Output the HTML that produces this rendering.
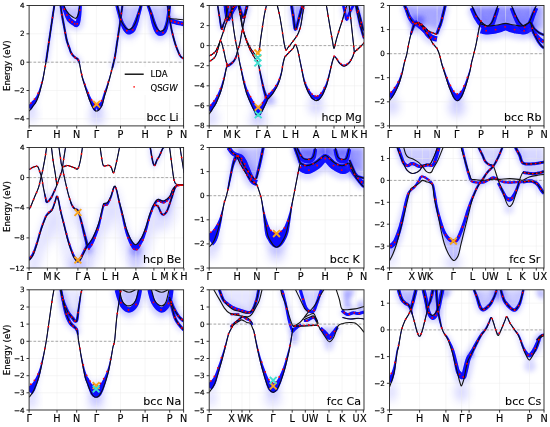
<!DOCTYPE html>
<html><head><meta charset="utf-8"><style>html,body{margin:0;padding:0;background:#fff;width:550px;height:427px;overflow:hidden}svg{display:block}</style></head><body>
<svg width="550" height="427" viewBox="0 0 550 427">
<defs>
<filter id="b0" x="-50%" y="-50%" width="200%" height="200%"><feGaussianBlur stdDeviation="0.5"/></filter>
<filter id="b1" x="-50%" y="-50%" width="200%" height="200%"><feGaussianBlur stdDeviation="1"/></filter>
<filter id="b2" x="-50%" y="-50%" width="200%" height="200%"><feGaussianBlur stdDeviation="2.5"/></filter>
<filter id="b3" x="-50%" y="-50%" width="200%" height="200%"><feGaussianBlur stdDeviation="5"/></filter>
<filter id="b4" x="-50%" y="-50%" width="200%" height="200%"><feGaussianBlur stdDeviation="9"/></filter>
<clipPath id="c0"><rect x="29.1" y="5.5" width="154.5" height="120.4"/></clipPath>
<clipPath id="c1"><rect x="209.2" y="5.5" width="154.8" height="120.4"/></clipPath>
<clipPath id="c2"><rect x="389.5" y="5.5" width="154.5" height="120.4"/></clipPath>
<clipPath id="c3"><rect x="29.1" y="147.5" width="154.5" height="120.5"/></clipPath>
<clipPath id="c4"><rect x="209.2" y="147.5" width="154.8" height="120.5"/></clipPath>
<clipPath id="c5"><rect x="389.5" y="147.5" width="154.5" height="120.5"/></clipPath>
<clipPath id="c6"><rect x="29.1" y="289.8" width="154.5" height="120.2"/></clipPath>
<clipPath id="c7"><rect x="209.2" y="289.8" width="154.8" height="120.2"/></clipPath>
<clipPath id="c8"><rect x="389.5" y="289.8" width="154.5" height="120.2"/></clipPath>
</defs>
<rect width="550" height="427" fill="#fff"/>
<g clip-path="url(#c0)">
<ellipse cx="97" cy="116" rx="7" ry="9" fill="#3a3aff" opacity="0.25" filter="url(#b3)"/>
<ellipse cx="31" cy="114" rx="6" ry="8" fill="#3a3aff" opacity="0.2" filter="url(#b3)"/>
<path d="M64,5.5 L80,5.5 L77,24 L70,18 Z" fill="#3a3aff" opacity="0.22" filter="url(#b2)"/>
<path d="M119,5.5 L140,5.5 L133,26 L129,30 L124,25 Z" fill="#3a3aff" opacity="0.25" filter="url(#b2)"/>
<path d="M150,5.5 L168,5.5 L165,26 L160,31 L155,25 Z" fill="#3a3aff" opacity="0.25" filter="url(#b2)"/>
<path d="M120,28 L138,28 L129,42 Z" fill="#3a3aff" opacity="0.12" filter="url(#b3)"/>
<path d="M151,29 L168,29 L160,43 Z" fill="#3a3aff" opacity="0.12" filter="url(#b3)"/>
<line x1="29.1" y1="5.5" x2="29.1" y2="125.9" stroke="#ececec" stroke-width="0.5"/>
<line x1="57" y1="5.5" x2="57" y2="125.9" stroke="#ececec" stroke-width="0.5"/>
<line x1="76.7" y1="5.5" x2="76.7" y2="125.9" stroke="#ececec" stroke-width="0.5"/>
<line x1="96.4" y1="5.5" x2="96.4" y2="125.9" stroke="#ececec" stroke-width="0.5"/>
<line x1="120.5" y1="5.5" x2="120.5" y2="125.9" stroke="#ececec" stroke-width="0.5"/>
<line x1="145.1" y1="5.5" x2="145.1" y2="125.9" stroke="#ececec" stroke-width="0.5"/>
<line x1="169.7" y1="5.5" x2="169.7" y2="125.9" stroke="#ececec" stroke-width="0.5"/>
<line x1="183.6" y1="5.5" x2="183.6" y2="125.9" stroke="#ececec" stroke-width="0.5"/>
<line x1="29.1" y1="118.8" x2="183.6" y2="118.8" stroke="#ececec" stroke-width="0.5"/>
<line x1="29.1" y1="90.5" x2="183.6" y2="90.5" stroke="#ececec" stroke-width="0.5"/>
<line x1="29.1" y1="62.2" x2="183.6" y2="62.2" stroke="#ececec" stroke-width="0.5"/>
<line x1="29.1" y1="33.8" x2="183.6" y2="33.8" stroke="#ececec" stroke-width="0.5"/>
<line x1="29.1" y1="5.5" x2="183.6" y2="5.5" stroke="#ececec" stroke-width="0.5"/>
<path d="M32.2,111.3 L32.5,111.1 L32.8,110.7 L33.2,110.1 L33.6,109.4 L34,108.6 L34.2,107.8 L34.5,107.1 L34.8,106.5 L35.2,106 L35.6,105.6 L36,105.3 L36.3,104.9 L36.7,104.4 L37.1,103.6 L37.4,102.7 L37.7,101.9 L38,101 L38.2,100.2 L38.5,99.3 L38.8,98.4 L39.1,97.5 L39.3,96.6 L39.6,95.6 L39.8,94.7 L40.1,93.7 L40.3,92.8 L40.5,91.9 L40.6,91 L40.9,90 L41.2,88.7 L41.5,87.1 L42,85.3 L42.4,83.3 L42.8,81.3 L43.2,79.4 L43.5,77.5 L43.8,75.7 L44.1,73.9 L44.3,72.1 L44.6,70.3 L44.9,68.8 L45.1,67.7 L45.3,66.4 L45.6,64.7 L46,62 L46.6,58 L47.3,52.9 L48.1,47.4 L48.9,42.1 L49.6,37.4 L50.2,33.6 L50.7,30.2 L51.1,27.1 L51.5,24.1 L52,21 L52.5,17.6 L53,14 L53.6,10.5 L54,7.6 L54.3,5.5 L54.3,5.5 L54,7.6 L53.6,10.5 L53,14 L52.5,17.6 L52,21 L51.5,24.1 L51.1,27.1 L50.7,30.2 L50.2,33.6 L49.6,37.4 L48.9,42.1 L48.1,47.4 L47.3,52.9 L46.6,58 L46,62 L45.6,64.7 L45.2,66.4 L44.9,67.7 L44.7,68.8 L44.4,70.3 L44,72 L43.7,73.8 L43.3,75.6 L42.9,77.4 L42.4,79.2 L41.8,81.1 L41.2,83 L40.6,84.9 L40,86.7 L39.4,88.2 L39,89.4 L38.6,90.4 L38.3,91.2 L37.9,92 L37.5,92.8 L37.1,93.6 L36.6,94.5 L36.2,95.2 L35.7,96 L35.2,96.7 L34.7,97.3 L34.2,97.9 L33.7,98.5 L33.2,99 L32.6,99.4 L32.1,99.6 L31.6,99.8 L31.1,100.1 L30.7,100.7 L30.2,101.3 L29.8,102 L29.4,102.6 L29,103 L28.5,103.3 L28,103.4 L27.6,103.5 L27.1,103.6 L26.7,103.9 L26.3,104.1 L26,104.4 Z" fill="#3b3bff" opacity="0.12" filter="url(#b2)"/>
<path d="M30.9,109.9 L31.2,109.6 L31.5,109.3 L31.9,108.8 L32.4,108.2 L32.8,107.6 L33.1,106.9 L33.5,106.3 L33.8,105.7 L34.2,105.2 L34.5,104.8 L34.9,104.4 L35.3,104 L35.7,103.5 L36.1,102.8 L36.5,102.1 L36.9,101.4 L37.2,100.6 L37.6,99.8 L37.9,99 L38.3,98.2 L38.6,97.3 L38.9,96.4 L39.2,95.5 L39.5,94.6 L39.8,93.6 L40.1,92.7 L40.3,91.9 L40.5,91 L40.8,89.9 L41.1,88.7 L41.5,87.1 L42,85.3 L42.5,83.3 L43,81.4 L43.4,79.4 L43.7,77.6 L44.1,75.7 L44.4,73.9 L44.7,72.1 L45,70.4 L45.2,68.9 L45.4,67.8 L45.7,66.5 L46,64.7 L46.4,62.1 L47,58 L47.7,53 L48.5,47.5 L49.3,42.1 L50,37.5 L50.6,33.6 L51,30.3 L51.5,27.2 L51.9,24.1 L52.4,21.1 L52.9,17.7 L53.4,14 L53.9,10.6 L54.4,7.7 L54.7,5.6 L53.9,5.4 L53.6,7.5 L53.2,10.5 L52.6,13.9 L52.1,17.5 L51.6,20.9 L51.1,24 L50.7,27 L50.3,30.1 L49.8,33.5 L49.2,37.3 L48.5,42 L47.7,47.4 L47,52.9 L46.2,57.9 L45.6,61.9 L45.2,64.6 L44.8,66.3 L44.6,67.6 L44.3,68.7 L44,70.2 L43.7,71.9 L43.4,73.7 L43,75.5 L42.6,77.4 L42.2,79.2 L41.7,81 L41.1,83 L40.5,84.9 L40,86.7 L39.5,88.2 L39.1,89.4 L38.8,90.4 L38.5,91.3 L38.1,92.1 L37.8,92.9 L37.4,93.8 L37,94.6 L36.6,95.4 L36.2,96.2 L35.7,96.9 L35.3,97.6 L34.9,98.3 L34.4,98.9 L33.9,99.5 L33.5,100 L33,100.3 L32.6,100.7 L32.1,101.1 L31.7,101.6 L31.3,102.2 L30.8,102.8 L30.4,103.3 L30,103.8 L29.6,104.2 L29.2,104.5 L28.8,104.7 L28.4,105 L27.9,105.3 L27.5,105.6 L27.3,105.8 Z" fill="#0808ff" filter="url(#b0)"/>
<path d="M98.2,102.1 L97.9,102 L97.7,102 L97.7,102.1 L97.9,102.5 L98.1,103 L98,103.5 L97.9,103.7 L97.6,104 L97.3,104.1 L96.9,104 L96.5,103.8 L96,103.4 L95.6,103 L95.1,102.6 L94.6,102.2 L94.2,101.9 L93.9,101.6 L93.6,101.3 L93.3,100.8 L93,100.1 L92.7,99.4 L92.3,98.8 L91.8,98.1 L91.2,97.2 L90.5,95.9 L89.7,94.1 L88.7,91.9 L87.6,89.6 L86.6,87.1 L85.7,84.8 L84.8,82.7 L84,80.6 L83.2,78.5 L82.5,76.5 L81.8,74.3 L81.2,72 L80.7,69.5 L80.2,67 L79.8,64.8 L79.4,63 L79.1,61.7 L78.8,60.8 L78.5,60.2 L78.2,59.8 L77.8,59.3 L77.4,58.9 L76.9,58.6 L76.5,58.4 L76,58.1 L75.5,57.8 L75,57.4 L74.5,57 L74,56.5 L73.5,56 L73,55.5 L72.6,55 L72.2,54.5 L71.8,53.9 L71.4,53.3 L71,52.5 L70.6,51.6 L70.2,50.6 L69.8,49.4 L69.4,48.2 L69,47 L68.6,45.8 L68.1,44.5 L67.6,43.2 L67.2,41.7 L66.7,40 L66.2,37.9 L65.8,35.6 L65.3,33.1 L64.9,30.5 L64.4,28 L63.9,25.4 L63.4,22.7 L62.9,20 L62.4,17.4 L62,15 L61.6,12.7 L61.3,10.5 L61,8.4 L60.8,6.7 L60.6,5.5 L60.6,5.5 L60.8,6.7 L61,8.4 L61.3,10.5 L61.6,12.7 L62,15 L62.4,17.4 L62.9,20 L63.4,22.7 L63.9,25.4 L64.4,28 L64.9,30.5 L65.3,33.1 L65.8,35.6 L66.2,37.9 L66.7,40 L67.2,41.7 L67.6,43.2 L68.1,44.5 L68.6,45.8 L69,47 L69.4,48.2 L69.8,49.4 L70.2,50.6 L70.6,51.6 L71,52.5 L71.4,53.3 L71.8,53.9 L72.2,54.5 L72.6,55 L73,55.5 L73.5,56 L74,56.5 L74.5,57 L75,57.4 L75.5,57.8 L76,58.1 L76.5,58.4 L76.9,58.6 L77.4,58.9 L77.8,59.3 L78.2,59.8 L78.5,60.2 L78.8,60.8 L79.1,61.7 L79.4,63 L79.8,64.8 L80.1,67.1 L80.5,69.5 L80.9,72.1 L81.4,74.4 L81.8,76.6 L82.4,78.8 L82.9,81 L83.5,83.1 L84.1,85.4 L84.8,87.8 L85.5,90.3 L86.3,92.8 L86.9,95.1 L87.5,97.1 L87.9,98.5 L88.2,99.7 L88.4,100.6 L88.7,101.3 L89,101.9 L89.3,102.6 L89.4,103.1 L89.6,103.7 L89.6,104.3 L89.8,105 L90,105.7 L90.2,106.4 L90.5,107.2 L90.8,107.9 L91.1,108.6 L91.3,109.2 L91.5,109.9 L91.7,110.6 L92.1,111.3 L92.5,112.1 L93.2,112.9 L94,113.5 L94.6,113.8 L94.9,113.9 L95,113.9 Z" fill="#3b3bff" opacity="0.12" filter="url(#b2)"/>
<path d="M97.5,104.7 L97.3,104.6 L97.1,104.5 L96.9,104.6 L96.9,104.7 L96.9,105 L96.8,105.1 L96.6,105.2 L96.4,105.2 L96.1,105.1 L95.8,104.9 L95.4,104.6 L95,104.1 L94.6,103.6 L94.1,103.1 L93.8,102.7 L93.4,102.3 L93.2,102 L92.9,101.6 L92.7,101.1 L92.4,100.4 L92,99.7 L91.7,99 L91.3,98.3 L90.8,97.3 L90.1,96 L89.4,94.2 L88.5,92 L87.5,89.6 L86.5,87.2 L85.7,84.8 L84.9,82.7 L84.1,80.6 L83.4,78.5 L82.7,76.4 L82.1,74.3 L81.6,71.9 L81.1,69.4 L80.6,67 L80.2,64.7 L79.8,62.9 L79.4,61.6 L79.1,60.7 L78.8,60 L78.5,59.5 L78.1,59 L77.6,58.6 L77.1,58.2 L76.6,58 L76.2,57.8 L75.7,57.5 L75.3,57.1 L74.8,56.7 L74.2,56.2 L73.8,55.7 L73.3,55.2 L72.9,54.7 L72.5,54.2 L72.1,53.7 L71.7,53.1 L71.4,52.3 L71,51.4 L70.6,50.4 L70.2,49.3 L69.8,48.1 L69.4,46.9 L68.9,45.6 L68.5,44.4 L68,43.1 L67.5,41.6 L67.1,39.9 L66.6,37.9 L66.2,35.5 L65.7,33 L65.3,30.5 L64.8,27.9 L64.3,25.3 L63.8,22.6 L63.3,19.9 L62.8,17.3 L62.4,14.9 L62,12.7 L61.7,10.4 L61.4,8.4 L61.2,6.7 L61,5.4 L60.2,5.6 L60.4,6.8 L60.6,8.5 L60.9,10.5 L61.2,12.8 L61.6,15.1 L62,17.5 L62.5,20.1 L63,22.8 L63.5,25.5 L64,28.1 L64.5,30.6 L64.9,33.2 L65.4,35.7 L65.9,38 L66.3,40.1 L66.8,41.9 L67.3,43.4 L67.7,44.7 L68.2,45.9 L68.6,47.1 L69,48.4 L69.4,49.6 L69.8,50.7 L70.2,51.7 L70.6,52.7 L71,53.5 L71.4,54.1 L71.8,54.7 L72.3,55.2 L72.7,55.8 L73.2,56.3 L73.7,56.8 L74.2,57.3 L74.8,57.7 L75.3,58.1 L75.8,58.5 L76.3,58.7 L76.7,58.9 L77.1,59.2 L77.5,59.6 L77.8,60 L78.1,60.4 L78.4,61 L78.7,61.8 L79,63.1 L79.4,64.9 L79.8,67.1 L80.2,69.6 L80.6,72.1 L81.1,74.5 L81.6,76.7 L82.2,78.9 L82.8,81 L83.5,83.2 L84.1,85.4 L84.9,87.7 L85.7,90.3 L86.5,92.7 L87.2,95 L87.9,96.9 L88.3,98.3 L88.7,99.4 L89,100.3 L89.3,101 L89.6,101.6 L89.9,102.3 L90.1,102.8 L90.3,103.3 L90.4,103.9 L90.6,104.5 L90.9,105.1 L91.2,105.8 L91.6,106.5 L91.9,107.1 L92.2,107.7 L92.5,108.2 L92.7,108.7 L93,109.2 L93.3,109.7 L93.7,110.2 L94.2,110.7 L94.8,111.1 L95.3,111.3 L95.6,111.3 L95.7,111.4 Z" fill="#0808ff" filter="url(#b0)"/>
<path d="M98.4,113.8 L98.5,113.8 L98.8,113.7 L99.4,113.3 L100.1,112.7 L100.8,111.9 L101.2,111.3 L101.6,110.7 L102,110 L102.3,109.1 L102.6,108.5 L103,107.9 L103.4,107.2 L103.7,106.1 L103.9,104.8 L104,103.3 L104.2,101.7 L104.5,99.9 L104.8,98 L105.3,96.2 L105.7,94.6 L106.2,93 L106.6,91.6 L107,90.1 L107.4,88.6 L107.8,87 L108.2,85.4 L108.6,83.8 L109,82.1 L109.5,80.3 L109.9,78.5 L110.4,76.5 L110.9,74.4 L111.4,72.2 L111.9,70 L112.4,67.9 L112.9,65.9 L113.3,64 L113.8,62.1 L114.3,59.9 L114.8,57.4 L115.3,54.4 L115.9,51.1 L116.4,47.5 L116.9,43.8 L117.5,40 L118.1,36 L118.7,31.8 L119.4,27.5 L120,23.4 L120.5,19.7 L121,16.2 L121.4,12.9 L121.8,9.9 L122.2,7.3 L122.4,5.5 L122.4,5.5 L122.2,7.3 L121.8,9.9 L121.4,12.9 L121,16.2 L120.5,19.7 L120,23.4 L119.4,27.5 L118.7,31.8 L118.1,36 L117.5,40 L116.9,43.8 L116.4,47.5 L115.9,51.1 L115.3,54.4 L114.8,57.4 L114.3,59.9 L113.8,62.1 L113.3,64 L112.8,65.9 L112.2,67.8 L111.6,70 L111,72.1 L110.4,74.2 L109.7,76.3 L109.1,78.2 L108.5,80 L107.9,81.8 L107.3,83.4 L106.8,85 L106.2,86.5 L105.6,88 L105,89.4 L104.4,90.8 L103.8,92.3 L103.3,93.8 L102.7,95.5 L102.2,97.3 L101.5,99 L100.8,100.6 L100,101.7 L99.2,102.3 L98.4,102.5 L97.8,102.6 L97.2,103 L96.8,103.4 L96.3,103.6 L95.9,103.5 L95.6,103.3 L95.4,103.2 L95.2,103 L95.2,102.6 L95.3,102.2 L95.3,102.1 L95.1,102.1 L94.8,102.2 Z" fill="#3b3bff" opacity="0.12" filter="url(#b2)"/>
<path d="M97.6,111.3 L97.8,111.3 L98,111.2 L98.5,110.9 L99.1,110.5 L99.6,110 L100,109.6 L100.4,109.2 L100.7,108.6 L101.1,108 L101.5,107.4 L101.9,106.9 L102.3,106.3 L102.7,105.4 L103,104.3 L103.4,103 L103.7,101.5 L104.1,99.8 L104.5,98 L105,96.1 L105.5,94.5 L106,93 L106.4,91.5 L106.9,90.1 L107.3,88.6 L107.8,87 L108.2,85.4 L108.7,83.8 L109.1,82.1 L109.6,80.4 L110.1,78.5 L110.6,76.5 L111.1,74.4 L111.7,72.3 L112.2,70.1 L112.7,68 L113.2,66 L113.7,64.1 L114.2,62.2 L114.7,60 L115.2,57.5 L115.7,54.5 L116.2,51.1 L116.8,47.6 L117.3,43.8 L117.9,40.1 L118.5,36.1 L119.1,31.9 L119.8,27.6 L120.4,23.5 L120.9,19.8 L121.4,16.3 L121.8,13 L122.2,9.9 L122.6,7.4 L122.8,5.6 L122,5.4 L121.8,7.3 L121.4,9.8 L121,12.8 L120.6,16.2 L120.1,19.6 L119.6,23.4 L119,27.5 L118.3,31.7 L117.7,36 L117.1,39.9 L116.5,43.7 L116,47.4 L115.5,51 L114.9,54.3 L114.4,57.3 L113.9,59.9 L113.4,62 L112.9,63.9 L112.4,65.8 L111.9,67.8 L111.3,69.9 L110.7,72 L110.1,74.2 L109.5,76.2 L108.9,78.2 L108.4,80 L107.8,81.7 L107.3,83.4 L106.7,85 L106.2,86.5 L105.7,88 L105.1,89.5 L104.6,90.9 L104,92.3 L103.5,93.9 L103,95.6 L102.4,97.4 L101.9,99.1 L101.3,100.7 L100.6,101.9 L100,102.7 L99.4,103.2 L98.8,103.5 L98.4,103.9 L97.9,104.4 L97.5,104.7 L97.2,104.8 L96.9,104.8 L96.6,104.9 L96.4,104.9 L96.3,104.7 L96.2,104.6 L96.1,104.6 L95.8,104.6 L95.6,104.7 Z" fill="#0808ff" filter="url(#b0)"/>
<path d="M59.5,6.7 L59.5,7.3 L59.6,8 L59.8,8.9 L60.1,10 L60.3,11.1 L60.6,12.2 L60.8,13.4 L61.1,14.6 L61.4,15.8 L61.6,16.8 L61.9,17.8 L62.2,18.9 L62.6,20.1 L63.2,21.4 L63.9,22.8 L65,24.1 L66,25.1 L66.9,25.9 L67.6,26.4 L68,26.7 L68.5,27.1 L69.1,27.6 L69.8,28 L70.5,28.5 L70.8,28.7 L70.8,28.7 L71.4,29.2 L73.4,30.4 L78.1,30.8 L82.1,28 L83.1,25.5 L83.5,23.3 L83.8,21.2 L84,19 L84.1,16.8 L84.2,14.5 L84.2,11.9 L84.2,9.4 L84.2,7.3 L84,5.8 L76.6,5.2 L76.2,6.6 L75.8,8.7 L75.3,11 L74.8,13.3 L74.3,15.2 L73.7,17 L73.1,18.8 L72.4,20.3 L71.9,21.2 L71.9,20.8 L74.8,18.8 L78.4,19 L79.2,19.4 L78.7,18.9 L77.6,18.1 L76.9,17.8 L76.8,17.7 L76.6,17.5 L76.3,17.3 L75.8,16.9 L75.1,16.4 L74.6,16 L74.3,15.8 L74.1,15.6 L74.1,15.6 L73.8,15.4 L73.4,14.9 L73,14.1 L72.4,13.2 L71.8,12.2 L71.1,11.2 L70.4,10.3 L69.7,9.4 L69,8.5 L68.5,7.7 L68,7 L67.6,6.2 L67.2,5.4 L66.8,4.8 L66.5,4.3 Z" fill="#3b3bff" opacity="0.2" filter="url(#b2)"/>
<path d="M61.6,6 L61.7,6.5 L61.9,7.2 L62.2,8.1 L62.4,9.1 L62.8,10.1 L63.1,11.1 L63.5,12.2 L63.9,13.3 L64.3,14.4 L64.7,15.4 L65,16.4 L65.4,17.5 L65.9,18.5 L66.4,19.6 L67,20.7 L67.7,21.6 L68.5,22.3 L69.2,22.9 L69.8,23.4 L70.4,23.8 L70.8,24.2 L71.3,24.5 L71.9,24.9 L72.4,25.3 L72.9,25.5 L73.2,25.7 L73.8,26.3 L74.9,27 L77.1,27.2 L79,25.8 L79.7,24.2 L80.2,22.4 L80.6,20.4 L80.9,18.4 L81.2,16.3 L81.4,14.1 L81.6,11.6 L81.7,9.2 L81.8,7.1 L81.8,5.6 L78.8,5.4 L78.6,6.8 L78.3,8.9 L78,11.3 L77.6,13.6 L77.2,15.7 L76.8,17.6 L76.3,19.5 L75.8,21.2 L75.3,22.5 L75,23 L75.8,22.4 L76.9,22.4 L76.9,22.3 L76.3,21.8 L75.5,21.3 L75,21 L74.7,20.8 L74.3,20.5 L73.9,20.2 L73.4,19.8 L72.9,19.4 L72.3,19 L71.8,18.6 L71.4,18.2 L71,17.7 L70.6,17.2 L70.2,16.4 L69.7,15.6 L69.3,14.6 L68.7,13.6 L68.2,12.6 L67.6,11.6 L67,10.6 L66.5,9.6 L66,8.7 L65.6,7.9 L65.3,7 L64.9,6.2 L64.6,5.5 L64.4,5 Z" fill="#0808ff" filter="url(#b0)"/>
<path d="M113.2,6.5 L113.6,8.5 L114.3,11.5 L115.1,14.8 L115.9,18.1 L116.6,20.9 L117.2,23.1 L117.6,25 L118.1,26.7 L118.6,28.3 L119.1,29.8 L119.8,31.2 L120.6,32.6 L121.4,33.8 L122.2,34.8 L123,35.7 L123.8,36.4 L124.9,37.2 L126.9,38.1 L129.2,38.3 L131.1,38 L132.5,37.6 L133.9,36.9 L135.4,36 L136.8,34.7 L138.1,33 L139.1,31.3 L139.7,29.5 L140.3,27.8 L140.8,26.1 L141.3,24.4 L141.7,22.4 L142.1,20.3 L142.5,18.2 L142.9,16.1 L143.2,14.2 L143.6,12.4 L144,10.6 L144.3,8.9 L144.6,7.5 L144.7,6.5 L137.5,4.5 L137.1,5.5 L136.6,6.8 L136,8.4 L135.4,10.1 L134.8,11.8 L134,13.5 L133.2,15.4 L132.4,17.2 L131.5,19 L130.7,20.6 L130,22.1 L129.3,23.6 L128.7,24.7 L128.2,25.6 L127.9,26 L127.8,26 L127.8,26 L127.8,26 L127.8,26 L127.9,26 L128.7,25.8 L130.2,26 L131.3,26.5 L131.6,26.7 L131.4,26.5 L131,26.3 L130.5,25.9 L130,25.5 L129.5,25 L128.9,24.2 L128.2,23.4 L127.4,22.4 L126.6,21.3 L125.8,19.9 L125,18.1 L124.1,15.7 L123,12.6 L122,9.3 L121.1,6.5 L120.4,4.5 Z" fill="#3b3bff" opacity="0.2" filter="url(#b2)"/>
<path d="M115.4,5.9 L115.9,7.9 L116.6,10.8 L117.5,14.1 L118.4,17.4 L119.1,20 L119.8,22.1 L120.3,23.9 L120.9,25.4 L121.5,26.8 L122,28.1 L122.7,29.3 L123.4,30.5 L124.2,31.4 L124.9,32.2 L125.5,32.9 L126.1,33.5 L126.8,34 L127.9,34.4 L129.1,34.6 L130.1,34.4 L131.1,34.1 L132,33.6 L133.1,33 L134.1,32.1 L135.1,30.9 L135.8,29.6 L136.4,28.1 L137,26.5 L137.6,24.9 L138.1,23.3 L138.7,21.4 L139.2,19.4 L139.7,17.3 L140.2,15.3 L140.7,13.5 L141.1,11.7 L141.6,9.9 L142,8.3 L142.3,6.9 L142.5,5.9 L139.7,5.1 L139.3,6.1 L138.9,7.4 L138.4,9.1 L137.9,10.8 L137.3,12.5 L136.7,14.3 L136,16.2 L135.3,18.2 L134.6,20 L133.9,21.7 L133.2,23.3 L132.6,24.8 L132,26.2 L131.5,27.3 L130.9,28.1 L130.5,28.6 L130.1,29 L129.6,29.3 L129.2,29.5 L128.9,29.6 L128.9,29.6 L129.2,29.6 L129.4,29.7 L129.3,29.6 L128.9,29.3 L128.4,28.8 L127.8,28.3 L127.2,27.6 L126.6,26.8 L126,25.9 L125.3,24.8 L124.6,23.7 L123.9,22.4 L123.2,20.8 L122.5,19 L121.6,16.4 L120.7,13.2 L119.7,10 L118.9,7.1 L118.2,5.1 Z" fill="#0808ff" filter="url(#b0)"/>
<path d="M144.5,6.9 L144.8,8 L145.3,9.5 L145.8,11.2 L146.3,13 L146.8,14.8 L147.2,16.8 L147.5,19 L147.9,21.3 L148.2,23.6 L148.7,25.8 L149.2,27.7 L149.7,29.4 L150.3,31.1 L151,32.8 L151.7,34.4 L152.7,35.7 L153.8,37 L155.4,38.3 L157.6,39.4 L160.1,39.7 L162.2,39.4 L164.1,38.8 L166,37.6 L167.8,36 L169.2,34 L170.1,31.9 L170.6,29.9 L171,27.7 L171.3,25.4 L171.6,22.8 L172,19.6 L172.5,15.7 L172.8,11.8 L173.1,8.4 L173.3,6 L165.9,5 L165.5,7.4 L164.9,10.8 L164.3,14.6 L163.6,18.3 L163,21.2 L162.3,23.4 L161.6,25.2 L160.9,26.6 L160.3,27.5 L159.8,28 L159.6,28 L159.6,27.8 L159.7,27.6 L159.9,27.4 L160.3,27.3 L161.3,27.4 L162.2,27.8 L162.6,28.1 L162.5,28 L162.3,27.6 L161.8,27.1 L161.3,26.2 L160.7,25.1 L160,23.7 L159.3,22.2 L158.6,20.6 L157.7,18.6 L156.9,16.4 L156,14.2 L155.2,12.2 L154.4,10.2 L153.5,8.3 L152.7,6.5 L152,5.1 L151.5,4.1 Z" fill="#3b3bff" opacity="0.2" filter="url(#b2)"/>
<path d="M146.6,6 L147,7.1 L147.5,8.6 L148.1,10.3 L148.8,12.2 L149.3,14 L149.8,16 L150.3,18.2 L150.8,20.5 L151.3,22.7 L151.9,24.7 L152.4,26.5 L153,28.1 L153.6,29.7 L154.2,31.1 L154.9,32.3 L155.6,33.4 L156.5,34.3 L157.5,35.2 L158.7,35.8 L160.1,36 L161.5,35.8 L162.8,35.4 L164.1,34.7 L165.4,33.6 L166.4,32.2 L167.1,30.6 L167.7,28.9 L168.2,27 L168.6,24.8 L169,22.3 L169.5,19.2 L170,15.4 L170.5,11.5 L170.8,8.1 L171.1,5.7 L168.1,5.3 L167.8,7.7 L167.3,11.1 L166.7,14.9 L166.1,18.7 L165.6,21.7 L165,24 L164.4,25.9 L163.8,27.6 L163.2,28.9 L162.6,29.8 L162.1,30.4 L161.6,30.7 L161,30.9 L160.6,31 L160.3,31 L160.2,31 L160.2,31 L160,30.8 L159.6,30.3 L159.1,29.7 L158.6,28.8 L158,27.7 L157.4,26.4 L156.8,24.9 L156.1,23.3 L155.5,21.5 L154.8,19.4 L154.1,17.2 L153.4,15 L152.7,13 L152,11 L151.2,9.2 L150.5,7.4 L149.9,6 L149.4,5 Z" fill="#0808ff" filter="url(#b0)"/>
<path d="M165.1,5.9 L165.4,7.8 L165.8,10.5 L166.3,13.7 L166.8,16.8 L167.2,19.4 L167.6,21.5 L167.8,23.3 L168.1,25.1 L168.4,26.8 L168.7,28.5 L169.1,30.3 L169.5,32.1 L170,33.9 L170.4,35.5 L170.8,37.1 L171.2,38.6 L171.5,39.9 L171.9,41.2 L172.2,42.5 L172.6,43.7 L173,44.9 L173.4,46.1 L173.7,47.2 L174.2,48.4 L174.7,49.6 L175.3,51.1 L175.9,52.7 L176.6,54.4 L177.4,56 L178.2,57.4 L179.2,58.6 L180.3,59.5 L181.2,60.1 L181.9,60.5 L182.3,60.7 L184.9,56.5 L184.4,56.2 L183.8,55.8 L183.3,55.5 L182.8,55.1 L182.4,54.6 L181.8,53.7 L181.2,52.3 L180.5,50.8 L179.9,49.2 L179.3,47.8 L178.8,46.6 L178.5,45.5 L178.1,44.5 L177.7,43.4 L177.4,42.3 L177,41.1 L176.7,39.9 L176.3,38.6 L176,37.3 L175.6,35.9 L175.2,34.3 L174.8,32.7 L174.4,31 L174,29.2 L173.7,27.5 L173.3,25.9 L173.1,24.2 L172.8,22.6 L172.5,20.7 L172.2,18.6 L171.8,16 L171.3,12.9 L170.8,9.8 L170.4,7 L170.1,5.1 Z" fill="#3b3bff" opacity="0.2" filter="url(#b2)"/>
<path d="M166.6,5.7 L166.9,7.6 L167.3,10.3 L167.8,13.4 L168.3,16.5 L168.7,19.2 L169,21.3 L169.3,23.1 L169.6,24.8 L169.9,26.5 L170.2,28.2 L170.6,30 L171,31.8 L171.4,33.5 L171.8,35.2 L172.2,36.7 L172.6,38.2 L173,39.5 L173.3,40.8 L173.7,42.1 L174,43.3 L174.4,44.5 L174.8,45.6 L175.2,46.7 L175.6,47.8 L176.1,49.1 L176.6,50.5 L177.3,52.1 L178,53.8 L178.7,55.3 L179.5,56.6 L180.3,57.6 L181.2,58.3 L182,58.8 L182.6,59.2 L183.1,59.4 L184.1,57.8 L183.7,57.5 L183,57.1 L182.4,56.7 L181.7,56.2 L181.1,55.4 L180.5,54.4 L179.8,52.9 L179.1,51.3 L178.5,49.8 L177.9,48.3 L177.4,47.1 L177,46 L176.7,44.9 L176.3,43.9 L176,42.7 L175.6,41.5 L175.2,40.3 L174.9,39 L174.5,37.7 L174.2,36.3 L173.8,34.7 L173.4,33 L172.9,31.3 L172.5,29.6 L172.2,27.8 L171.9,26.1 L171.6,24.5 L171.3,22.8 L171,20.9 L170.7,18.8 L170.3,16.2 L169.8,13.1 L169.3,10 L168.9,7.3 L168.6,5.3 Z" fill="#0808ff" filter="url(#b0)"/>
<path d="M82,62 L81.8,61.5 L81.5,60.7 L81.1,59.7 L80.6,58.7 L80,57.7 L79.2,56.8 L78.3,56.2 L77.7,55.9 L77.3,55.7 L77.1,55.6 L76.7,55.3 L76.3,54.9 L75.9,54.5 L75.4,54.1 L75.1,53.7 L74.7,53.3 L74.4,52.8 L74.1,52.4 L73.8,51.9 L73.5,51.3 L73.2,50.6 L72.8,49.6 L72.4,48.5 L72,47.4 L71.6,46.1 L71.1,44.8 L70.7,43.6 L70.2,42.4 L69.8,41 L69.4,39.4 L68.9,37.4 L68.5,35.1 L68,32.6 L67.6,30.1 L67.1,27.5 L66.6,24.9 L66.1,22.2 L65.6,19.5 L65.1,16.9 L64.7,14.5 L64.4,12.3 L64,10.1 L63.7,8.1 L63.5,6.4 L63.3,5.1 L57.9,5.9 L58.1,7.1 L58.3,8.8 L58.6,10.9 L58.9,13.1 L59.3,15.5 L59.7,17.9 L60.2,20.5 L60.7,23.2 L61.2,25.9 L61.7,28.5 L62.2,31 L62.6,33.6 L63.1,36.1 L63.5,38.5 L64,40.6 L64.5,42.5 L65,44.1 L65.5,45.5 L66,46.7 L66.4,47.9 L66.8,49.1 L67.2,50.3 L67.6,51.5 L68.1,52.6 L68.5,53.7 L69,54.6 L69.5,55.4 L70,56.1 L70.4,56.7 L70.9,57.3 L71.5,57.9 L72.1,58.5 L72.7,59 L73.3,59.5 L73.9,60 L74.6,60.5 L75.3,60.8 L75.6,61 L75.6,61 L75.6,60.9 L75.7,61.2 L76,61.9 L76.3,62.7 L76.6,63.4 L76.8,64 Z" fill="#3b3bff" opacity="0.2" filter="url(#b2)"/>
<path d="M80.4,62.6 L80.2,62.1 L79.9,61.3 L79.6,60.4 L79.2,59.5 L78.7,58.6 L78.1,58 L77.5,57.6 L76.9,57.4 L76.5,57.2 L76.1,56.9 L75.7,56.6 L75.2,56.1 L74.7,55.7 L74.3,55.3 L73.8,54.8 L73.4,54.3 L73,53.8 L72.7,53.3 L72.4,52.7 L72,52 L71.6,51.2 L71.2,50.2 L70.9,49.1 L70.5,47.9 L70,46.6 L69.6,45.4 L69.1,44.2 L68.7,42.9 L68.2,41.4 L67.8,39.7 L67.3,37.7 L66.9,35.4 L66.4,32.9 L65.9,30.3 L65.5,27.8 L65,25.2 L64.5,22.5 L64,19.8 L63.5,17.2 L63.1,14.8 L62.7,12.6 L62.4,10.3 L62.1,8.3 L61.9,6.6 L61.7,5.3 L59.5,5.7 L59.7,6.9 L59.9,8.6 L60.2,10.7 L60.5,12.9 L60.9,15.2 L61.3,17.6 L61.8,20.2 L62.3,22.9 L62.8,25.6 L63.3,28.2 L63.8,30.7 L64.2,33.3 L64.7,35.8 L65.2,38.2 L65.6,40.3 L66.1,42 L66.6,43.6 L67.1,44.9 L67.5,46.2 L68,47.4 L68.4,48.6 L68.8,49.8 L69.2,50.9 L69.6,52 L70,53 L70.4,53.8 L70.9,54.5 L71.3,55.1 L71.7,55.7 L72.2,56.2 L72.7,56.8 L73.2,57.3 L73.8,57.8 L74.3,58.3 L74.9,58.7 L75.4,59.1 L76,59.3 L76.4,59.5 L76.7,59.7 L76.9,60 L77.2,60.5 L77.6,61.2 L77.9,62.1 L78.2,62.8 L78.4,63.4 Z" fill="#0808ff" filter="url(#b0)"/>
<path d="M48.5,62.4 L49,58.9 L49.7,53.9 L50.5,48.2 L51.4,42.6 L52.1,37.8 L52.6,33.9 L53.1,30.6 L53.6,27.5 L54,24.5 L54.5,21.4 L55,18 L55.5,14.4 L56,10.9 L56.5,8 L56.8,5.9 L51.8,5.1 L51.5,7.2 L51.1,10.2 L50.6,13.6 L50,17.2 L49.5,20.6 L49.1,23.7 L48.6,26.7 L48.2,29.8 L47.7,33.2 L47.1,37 L46.4,41.8 L45.6,47.5 L44.8,53.2 L44,58.2 L43.5,61.6 Z" fill="#3b3bff" opacity="0.2" filter="url(#b2)"/>
<path d="M47,62.1 L47.5,58.7 L48.2,53.7 L49.1,48 L49.9,42.3 L50.6,37.5 L51.1,33.7 L51.6,30.4 L52.1,27.2 L52.5,24.2 L53,21.1 L53.5,17.7 L54,14.1 L54.5,10.7 L55,7.7 L55.3,5.6 L53.3,5.4 L53,7.4 L52.6,10.4 L52,13.8 L51.5,17.4 L51,20.9 L50.6,23.9 L50.1,27 L49.7,30.1 L49.2,33.4 L48.6,37.3 L47.9,42 L47.1,47.7 L46.2,53.4 L45.5,58.4 L45,61.9 Z" fill="#0808ff" filter="url(#b0)"/>
<path d="M114.7,68.6 L115.1,67.3 L115.5,65.5 L116.1,63.2 L116.7,60.7 L117.3,57.9 L117.8,54.8 L118.3,51.5 L118.9,47.9 L119.4,44.1 L120,40.4 L120.6,36.4 L121.2,32.2 L121.8,27.9 L122.4,23.8 L123,20.1 L123.5,16.6 L123.9,13.2 L124.3,10.2 L124.6,7.7 L124.9,5.8 L119.9,5.2 L119.7,7 L119.4,9.5 L119,12.6 L118.5,15.9 L118,19.3 L117.5,23.1 L116.9,27.2 L116.3,31.4 L115.6,35.7 L115,39.6 L114.5,43.4 L113.9,47.1 L113.4,50.7 L112.9,54 L112.3,56.9 L111.8,59.6 L111.2,62.1 L110.7,64.2 L110.2,66 L109.9,67.4 Z" fill="#3b3bff" opacity="0.2" filter="url(#b2)"/>
<path d="M113.3,68.2 L113.6,66.9 L114.1,65.1 L114.6,62.9 L115.2,60.3 L115.8,57.6 L116.3,54.6 L116.8,51.2 L117.4,47.6 L117.9,43.9 L118.5,40.1 L119.1,36.2 L119.7,31.9 L120.4,27.7 L121,23.6 L121.5,19.8 L122,16.4 L122.4,13 L122.8,10 L123.2,7.5 L123.4,5.6 L121.4,5.4 L121.2,7.2 L120.8,9.7 L120.4,12.8 L120,16.1 L119.5,19.6 L119,23.3 L118.4,27.4 L117.7,31.6 L117.1,35.9 L116.5,39.9 L115.9,43.6 L115.4,47.3 L114.9,50.9 L114.3,54.2 L113.8,57.2 L113.3,59.9 L112.7,62.4 L112.1,64.6 L111.7,66.4 L111.3,67.8 Z" fill="#0808ff" filter="url(#b0)"/>
<path d="M168.1,25.9 L168.9,26.1 L170.1,26.5 L171.5,26.9 L173.1,27.3 L174.6,27.8 L176.3,28.2 L178.1,28.6 L179.9,28.9 L181.4,29.3 L182.4,29.5 L184.8,18.5 L183.7,18.3 L182.2,18 L180.5,17.6 L178.8,17.2 L177.4,16.8 L176,16.5 L174.6,16.1 L173.3,15.7 L172.1,15.4 L171.3,15.1 Z" fill="#3b3bff" opacity="0.2" filter="url(#b2)"/>
<path d="M169.1,22.7 L169.9,22.9 L171.1,23.3 L172.5,23.7 L174,24.1 L175.5,24.5 L177,24.9 L178.8,25.3 L180.6,25.6 L182.1,26 L183.1,26.2 L184.1,21.8 L183,21.6 L181.5,21.2 L179.8,20.9 L178.1,20.5 L176.5,20.1 L175.2,19.7 L173.7,19.3 L172.3,18.9 L171.2,18.6 L170.3,18.3 Z" fill="#0808ff" filter="url(#b0)"/>
<line x1="29.1" y1="62.2" x2="183.6" y2="62.2" stroke="#9a9a9a" stroke-width="0.85" stroke-dasharray="2.6,1.8"/>
<path d="M29.1,111 C29.4,110.7 30.4,109.8 31,109 C31.6,108.2 32.2,107.1 32.9,106.2 C33.6,105.3 34.3,104.6 35,103.5 C35.7,102.4 36.4,101.1 37,99.7 C37.6,98.3 38.2,96.7 38.8,95 C39.3,93.3 39.6,92.3 40.3,89.8 C41,87.3 42.1,83.2 42.8,80 C43.5,76.8 44,73.5 44.5,70.5 C45,67.5 45.1,67.5 46,62 C46.9,56.5 48.6,44.2 49.6,37.4 C50.6,30.6 51.2,26.3 52,21 C52.8,15.7 53.9,8.1 54.3,5.5" fill="none" stroke="#111" stroke-width="1.1" stroke-linejoin="round"/>
<path d="M96.6,111.2 C96.4,111.1 95.7,111 95.3,110.7 C94.9,110.4 94.5,110 94,109.3 C93.5,108.6 92.7,107.3 92.2,106.3 C91.7,105.3 91.5,104.8 91,103.5 C90.5,102.2 90,101.4 89,98.5 C88,95.6 86.1,90.2 84.9,86.2 C83.7,82.2 82.5,78.7 81.6,74.8 C80.7,70.9 80,65.6 79.4,63 C78.8,60.4 78.5,60.2 77.8,59.3 C77.1,58.4 76.3,58.4 75.5,57.8 C74.7,57.2 73.8,56.4 73,55.5 C72.2,54.6 71.7,53.9 71,52.5 C70.3,51.1 69.7,49.1 69,47 C68.3,44.9 67.5,43.2 66.7,40 C65.9,36.8 65.2,32.2 64.4,28 C63.6,23.8 62.6,18.8 62,15 C61.4,11.2 60.8,7.1 60.6,5.5" fill="none" stroke="#111" stroke-width="1.1" stroke-linejoin="round"/>
<path d="M96.6,111.2 C96.8,111.1 97.5,111 98,110.6 C98.5,110.2 99,109.8 99.7,108.9 C100.4,108 101.2,107.2 102,105.1 C102.8,102.9 103.7,98.8 104.5,96 C105.3,93.2 106.2,90.8 107,88 C107.8,85.2 108.6,82.3 109.5,79 C110.4,75.7 111.4,71.6 112.3,68 C113.2,64.4 113.9,62.1 114.8,57.4 C115.7,52.7 116.5,46.3 117.5,40 C118.5,33.7 119.7,25.4 120.5,19.7 C121.3,13.9 122.1,7.9 122.4,5.5" fill="none" stroke="#111" stroke-width="1.1" stroke-linejoin="round"/>
<path d="M63.9,5.5 C64.2,6.2 64.9,8.4 65.5,9.5 C66.1,10.6 66.8,11.4 67.6,12.3 C68.3,13.2 69.1,14 70,14.8 C70.9,15.6 71.8,16.4 72.8,17 C73.8,17.6 75.2,18.8 76.1,18.3 C77,17.8 77.8,16.1 78.4,14 C79,11.9 79.6,7 79.8,5.6" fill="none" stroke="#111" stroke-width="1.1" stroke-linejoin="round"/>
<path d="M117.4,5.5 C117.9,7.7 119.5,15.6 120.5,18.9 C121.5,22.2 122.7,23.7 123.7,25.3 C124.7,26.9 125.4,27.9 126.3,28.6 C127.2,29.3 128,29.6 128.9,29.5 C129.8,29.4 130.9,29.1 132,28 C133.1,26.9 134.2,25.6 135.3,23.2 C136.4,20.8 137.4,16.6 138.4,13.7 C139.4,10.8 140.7,6.9 141.1,5.5" fill="none" stroke="#111" stroke-width="1.1" stroke-linejoin="round"/>
<path d="M148.3,5.5 C148.8,6.7 150.1,10 151.1,12.9 C152.1,15.8 153.1,20.2 154.1,22.8 C155.1,25.4 156,27.1 157,28.5 C158,29.9 158.9,31.1 160.2,31.2 C161.5,31.3 163.6,30.6 164.8,28.9 C166,27.2 166.6,24.9 167.5,21 C168.4,17.1 169.7,8.1 170.1,5.5" fill="none" stroke="#111" stroke-width="1.1" stroke-linejoin="round"/>
<path d="M167.6,5.5 C167.9,7.8 169.1,15.2 169.7,19 C170.3,22.8 170.6,25.1 171.2,28 C171.8,30.9 172.6,34 173.2,36.5 C173.8,39 174.4,41 175,43 C175.6,45 176.1,46.5 177,48.7 C177.9,50.9 179.2,54.4 180.3,56 C181.4,57.6 183.1,58.2 183.6,58.6" fill="none" stroke="#111" stroke-width="1.1" stroke-linejoin="round"/>
<path d="M169.7,18.6 C170.8,18.7 173.7,18.8 176,19 C178.3,19.2 182.3,19.7 183.6,19.8" fill="none" stroke="#111" stroke-width="1.1" stroke-linejoin="round"/>
<circle cx="30.9" cy="103.1" r="0.9" fill="#f00"/>
<circle cx="34.5" cy="99.1" r="0.9" fill="#f00"/>
<circle cx="38.1" cy="93.2" r="0.9" fill="#f00"/>
<circle cx="41.7" cy="82.6" r="0.9" fill="#f00"/>
<circle cx="45.3" cy="66.2" r="0.9" fill="#f00"/>
<circle cx="48.9" cy="42.2" r="0.9" fill="#f00"/>
<circle cx="52.5" cy="17.6" r="0.9" fill="#f00"/>
<circle cx="94.9" cy="104.2" r="0.9" fill="#f00"/>
<circle cx="91.6" cy="99.9" r="0.9" fill="#f00"/>
<circle cx="88.3" cy="92.9" r="0.9" fill="#f00"/>
<circle cx="85" cy="84.4" r="0.9" fill="#f00"/>
<circle cx="81.8" cy="74.5" r="0.9" fill="#f00"/>
<circle cx="78.4" cy="60.2" r="0.9" fill="#f00"/>
<circle cx="75.1" cy="57.5" r="0.9" fill="#f00"/>
<circle cx="71.8" cy="54" r="0.9" fill="#f00"/>
<circle cx="68.5" cy="45.8" r="0.9" fill="#f00"/>
<circle cx="65.2" cy="32.7" r="0.9" fill="#f00"/>
<circle cx="61.9" cy="14.7" r="0.9" fill="#f00"/>
<circle cx="98.2" cy="104.2" r="0.9" fill="#f00"/>
<circle cx="101.5" cy="100.7" r="0.9" fill="#f00"/>
<circle cx="104.8" cy="91.4" r="0.9" fill="#f00"/>
<circle cx="108.1" cy="82.1" r="0.9" fill="#f00"/>
<circle cx="111.4" cy="70.9" r="0.9" fill="#f00"/>
<circle cx="114.8" cy="57.7" r="0.9" fill="#f00"/>
<circle cx="118" cy="36.4" r="0.9" fill="#f00"/>
<circle cx="121.3" cy="13.5" r="0.9" fill="#f00"/>
<circle cx="64.3" cy="9.2" r="0.9" fill="#f00"/>
<circle cx="66.9" cy="14.9" r="0.9" fill="#f00"/>
<circle cx="69.5" cy="19.8" r="0.9" fill="#f00"/>
<circle cx="72.1" cy="22" r="0.9" fill="#f00"/>
<circle cx="74.7" cy="23.8" r="0.9" fill="#f00"/>
<circle cx="77.3" cy="23.8" r="0.9" fill="#f00"/>
<circle cx="79.9" cy="10.1" r="0.9" fill="#f00"/>
<circle cx="120.8" cy="19.5" r="0.9" fill="#f00"/>
<circle cx="126.8" cy="30.7" r="0.9" fill="#f00"/>
<circle cx="132.8" cy="29.8" r="0.9" fill="#f00"/>
<circle cx="138.8" cy="13.7" r="0.9" fill="#f00"/>
<circle cx="151" cy="13.5" r="0.9" fill="#f00"/>
<circle cx="157" cy="31" r="0.9" fill="#f00"/>
<circle cx="163" cy="32.6" r="0.9" fill="#f00"/>
<circle cx="169" cy="10.2" r="0.9" fill="#f00"/>
<circle cx="169.3" cy="16.5" r="0.9" fill="#f00"/>
<circle cx="172.7" cy="34.5" r="0.9" fill="#f00"/>
<circle cx="176.1" cy="46.4" r="0.9" fill="#f00"/>
<circle cx="179.5" cy="54.6" r="0.9" fill="#f00"/>
<circle cx="182.9" cy="58.2" r="0.9" fill="#f00"/>
<circle cx="171.4" cy="21" r="0.9" fill="#f00"/>
<circle cx="174.9" cy="22" r="0.9" fill="#f00"/>
<circle cx="178.4" cy="22.9" r="0.9" fill="#f00"/>
<circle cx="181.9" cy="23.6" r="0.9" fill="#f00"/>
<path d="M93.2,100.8 L100,107.6 M93.2,107.6 L100,100.8" stroke="#f7a51c" stroke-width="1.9" stroke-linecap="butt"/>
</g>
<rect x="29.1" y="5.5" width="154.5" height="120.4" fill="none" stroke="#222" stroke-width="0.9"/>
<line x1="26.5" y1="118.8" x2="29.1" y2="118.8" stroke="#222" stroke-width="0.9"/>
<text x="24.5" y="121.3" font-family="'DejaVu Sans','Liberation Sans',sans-serif" font-size="7.2" fill="#000" stroke="#000" stroke-width="0.2" text-anchor="end">−4</text>
<line x1="26.5" y1="90.5" x2="29.1" y2="90.5" stroke="#222" stroke-width="0.9"/>
<text x="24.5" y="93" font-family="'DejaVu Sans','Liberation Sans',sans-serif" font-size="7.2" fill="#000" stroke="#000" stroke-width="0.2" text-anchor="end">−2</text>
<line x1="26.5" y1="62.2" x2="29.1" y2="62.2" stroke="#222" stroke-width="0.9"/>
<text x="24.5" y="64.7" font-family="'DejaVu Sans','Liberation Sans',sans-serif" font-size="7.2" fill="#000" stroke="#000" stroke-width="0.2" text-anchor="end">0</text>
<line x1="26.5" y1="33.8" x2="29.1" y2="33.8" stroke="#222" stroke-width="0.9"/>
<text x="24.5" y="36.3" font-family="'DejaVu Sans','Liberation Sans',sans-serif" font-size="7.2" fill="#000" stroke="#000" stroke-width="0.2" text-anchor="end">2</text>
<line x1="26.5" y1="5.5" x2="29.1" y2="5.5" stroke="#222" stroke-width="0.9"/>
<text x="24.5" y="8" font-family="'DejaVu Sans','Liberation Sans',sans-serif" font-size="7.2" fill="#000" stroke="#000" stroke-width="0.2" text-anchor="end">4</text>
<line x1="29.1" y1="125.9" x2="29.1" y2="128.5" stroke="#222" stroke-width="0.9"/>
<text x="29.1" y="138" font-family="'DejaVu Sans','Liberation Sans',sans-serif" font-size="9.7" fill="#000" stroke="#000" stroke-width="0.15" text-anchor="middle">Γ</text>
<line x1="57" y1="125.9" x2="57" y2="128.5" stroke="#222" stroke-width="0.9"/>
<text x="57" y="138" font-family="'DejaVu Sans','Liberation Sans',sans-serif" font-size="9.7" fill="#000" stroke="#000" stroke-width="0.15" text-anchor="middle">H</text>
<line x1="76.7" y1="125.9" x2="76.7" y2="128.5" stroke="#222" stroke-width="0.9"/>
<text x="76.7" y="138" font-family="'DejaVu Sans','Liberation Sans',sans-serif" font-size="9.7" fill="#000" stroke="#000" stroke-width="0.15" text-anchor="middle">N</text>
<line x1="96.4" y1="125.9" x2="96.4" y2="128.5" stroke="#222" stroke-width="0.9"/>
<text x="96.4" y="138" font-family="'DejaVu Sans','Liberation Sans',sans-serif" font-size="9.7" fill="#000" stroke="#000" stroke-width="0.15" text-anchor="middle">Γ</text>
<line x1="120.5" y1="125.9" x2="120.5" y2="128.5" stroke="#222" stroke-width="0.9"/>
<text x="120.5" y="138" font-family="'DejaVu Sans','Liberation Sans',sans-serif" font-size="9.7" fill="#000" stroke="#000" stroke-width="0.15" text-anchor="middle">P</text>
<line x1="145.1" y1="125.9" x2="145.1" y2="128.5" stroke="#222" stroke-width="0.9"/>
<text x="145.1" y="138" font-family="'DejaVu Sans','Liberation Sans',sans-serif" font-size="9.7" fill="#000" stroke="#000" stroke-width="0.15" text-anchor="middle">H</text>
<line x1="169.7" y1="125.9" x2="169.7" y2="128.5" stroke="#222" stroke-width="0.9"/>
<text x="169.7" y="138" font-family="'DejaVu Sans','Liberation Sans',sans-serif" font-size="9.7" fill="#000" stroke="#000" stroke-width="0.15" text-anchor="middle">P</text>
<line x1="183.6" y1="125.9" x2="183.6" y2="128.5" stroke="#222" stroke-width="0.9"/>
<text x="183.6" y="138" font-family="'DejaVu Sans','Liberation Sans',sans-serif" font-size="9.7" fill="#000" stroke="#000" stroke-width="0.15" text-anchor="middle">N</text>
<text x="178.6" y="121.1" font-family="'DejaVu Sans','Liberation Sans',sans-serif" font-size="11.1" fill="#000" stroke="#000" stroke-width="0.1" text-anchor="end">bcc Li</text>
<text x="0" y="0" transform="translate(10.3,65.7) rotate(-90)" font-family="'DejaVu Sans','Liberation Sans',sans-serif" font-size="8.6" fill="#000" stroke="#000" stroke-width="0.2" text-anchor="middle">Energy (eV)</text>
<rect x="121" y="67" width="60" height="28" fill="#fff" opacity="0.85"/><line x1="124.7" y1="74.2" x2="143.7" y2="74.2" stroke="#000" stroke-width="1.35"/><circle cx="134.1" cy="86.9" r="0.8" fill="#f00"/><text x="150.5" y="77.3" font-family="DejaVu Sans,sans-serif" font-size="8.5" fill="#000" stroke="#000" stroke-width="0.12">LDA</text><text x="150.5" y="90.6" font-family="DejaVu Sans,sans-serif" font-size="8.5" fill="#000" stroke="#000" stroke-width="0.12">QS<tspan font-style="italic">GW</tspan></text>
<g clip-path="url(#c1)">
<ellipse cx="258" cy="120" rx="8" ry="9" fill="#3a3aff" opacity="0.22" filter="url(#b3)"/>
<ellipse cx="211" cy="118" rx="7" ry="8" fill="#3a3aff" opacity="0.2" filter="url(#b3)"/>
<ellipse cx="270" cy="101" rx="6" ry="5" fill="#3a3aff" opacity="0.3" filter="url(#b2)"/>
<ellipse cx="316" cy="106" rx="7" ry="8" fill="#3a3aff" opacity="0.25" filter="url(#b3)"/>
<path d="M224.5,5.5 L237,5.5 L228,20 Z" fill="#3a3aff" opacity="0.75" filter="url(#b1)"/>
<path d="M238.5,5.5 L247.5,5.5 L243,16 Z" fill="#3a3aff" opacity="0.3" filter="url(#b1)"/>
<path d="M291.5,5.5 L302.5,5.5 L295.4,28 Z" fill="#3a3aff" opacity="0.3" filter="url(#b1)"/>
<path d="M343,5.5 L355,5.5 L347,19 Z" fill="#3a3aff" opacity="0.4" filter="url(#b1)"/>
<line x1="209.2" y1="5.5" x2="209.2" y2="125.9" stroke="#ececec" stroke-width="0.5"/>
<line x1="227.5" y1="5.5" x2="227.5" y2="125.9" stroke="#ececec" stroke-width="0.5"/>
<line x1="237.1" y1="5.5" x2="237.1" y2="125.9" stroke="#ececec" stroke-width="0.5"/>
<line x1="258" y1="5.5" x2="258" y2="125.9" stroke="#ececec" stroke-width="0.5"/>
<line x1="267.2" y1="5.5" x2="267.2" y2="125.9" stroke="#ececec" stroke-width="0.5"/>
<line x1="284.9" y1="5.5" x2="284.9" y2="125.9" stroke="#ececec" stroke-width="0.5"/>
<line x1="295.5" y1="5.5" x2="295.5" y2="125.9" stroke="#ececec" stroke-width="0.5"/>
<line x1="316" y1="5.5" x2="316" y2="125.9" stroke="#ececec" stroke-width="0.5"/>
<line x1="334" y1="5.5" x2="334" y2="125.9" stroke="#ececec" stroke-width="0.5"/>
<line x1="344.6" y1="5.5" x2="344.6" y2="125.9" stroke="#ececec" stroke-width="0.5"/>
<line x1="354.5" y1="5.5" x2="354.5" y2="125.9" stroke="#ececec" stroke-width="0.5"/>
<line x1="364" y1="5.5" x2="364" y2="125.9" stroke="#ececec" stroke-width="0.5"/>
<line x1="209.2" y1="125.9" x2="364" y2="125.9" stroke="#ececec" stroke-width="0.5"/>
<line x1="209.2" y1="105.8" x2="364" y2="105.8" stroke="#ececec" stroke-width="0.5"/>
<line x1="209.2" y1="85.8" x2="364" y2="85.8" stroke="#ececec" stroke-width="0.5"/>
<line x1="209.2" y1="65.7" x2="364" y2="65.7" stroke="#ececec" stroke-width="0.5"/>
<line x1="209.2" y1="45.6" x2="364" y2="45.6" stroke="#ececec" stroke-width="0.5"/>
<line x1="209.2" y1="25.6" x2="364" y2="25.6" stroke="#ececec" stroke-width="0.5"/>
<line x1="209.2" y1="5.5" x2="364" y2="5.5" stroke="#ececec" stroke-width="0.5"/>
<path d="M212.5,113 L212.9,112.4 L213.3,111.5 L213.9,110.5 L214.5,109.4 L215.2,108.4 L215.8,107.4 L216.5,106.4 L217.1,105 L217.8,103.4 L218.4,101.6 L219.1,99.4 L219.9,97.1 L220.8,94.6 L221.6,92.1 L222.2,89.6 L222.8,87.3 L223.4,84.9 L223.9,82.5 L224.3,80.3 L224.8,78.1 L225.2,75.9 L225.6,73.8 L225.9,71.7 L226.3,69.9 L226.6,68.4 L227,67.4 L227.4,66.8 L227.7,66.4 L227.9,66.1 L228,65.7 L227,65.1 L226.8,65.4 L226.6,65.7 L226.3,66.3 L226.1,67.1 L225.8,68.2 L225.4,69.7 L225,71.5 L224.6,73.5 L224,75.7 L223.4,77.8 L222.8,79.9 L222.1,82.1 L221.3,84.3 L220.5,86.5 L219.6,88.7 L218.5,90.9 L217.3,93.2 L216.1,95.4 L215,97.5 L213.8,99.2 L212.7,100.4 L211.7,101.4 L210.8,102.3 L210,103.2 L209.2,104.3 L208.5,105.3 L207.7,106.2 L206.9,107.1 L206.3,107.8 L205.9,108.4 Z" fill="#3b3bff" opacity="0.12" filter="url(#b2)"/>
<path d="M211.2,112.1 L211.6,111.5 L212.1,110.7 L212.7,109.7 L213.3,108.6 L214,107.6 L214.7,106.6 L215.4,105.6 L216.1,104.3 L216.9,102.9 L217.6,101.1 L218.4,99.1 L219.3,96.8 L220.3,94.4 L221.2,91.9 L221.9,89.5 L222.6,87.2 L223.2,84.8 L223.8,82.5 L224.3,80.3 L224.8,78.1 L225.3,76 L225.7,73.8 L226.1,71.7 L226.4,69.9 L226.8,68.5 L227.1,67.5 L227.5,66.8 L227.7,66.4 L227.9,66.1 L228.1,65.8 L226.9,65.1 L226.7,65.3 L226.5,65.7 L226.2,66.2 L225.9,67 L225.6,68.2 L225.2,69.7 L224.9,71.5 L224.4,73.5 L223.9,75.6 L223.4,77.8 L222.8,79.9 L222.1,82.1 L221.5,84.3 L220.7,86.6 L219.9,88.8 L218.9,91 L217.8,93.4 L216.7,95.7 L215.6,97.8 L214.6,99.6 L213.6,101 L212.7,102.1 L211.9,103 L211.1,104 L210.4,105.1 L209.6,106.1 L208.9,107.1 L208.2,108 L207.6,108.7 L207.2,109.3 Z" fill="#0808ff" filter="url(#b0)"/>
<path d="M229.2,69 L229.6,68.8 L230,68.5 L230.6,68.1 L231.2,67.6 L231.8,67.2 L232.4,66.7 L232.9,66.2 L233.4,65.7 L233.8,65.2 L234.3,64.6 L234.8,64.1 L235.2,63.5 L235.7,62.8 L236.2,62.1 L236.6,61.4 L236.9,60.6 L237.2,59.9 L237.5,59.1 L237.8,58.2 L238,57.2 L238.2,56.1 L237.6,54.8 L237.9,53.6 L238.1,52.4 L238.5,51.2 L238.9,49.9 L239.3,48.5 L239.8,47 L240.3,45.4 L240.8,43.7 L241.2,41.9 L241.5,39.8 L241.9,37.8 L242.2,35.9 L242.5,34.2 L242.7,32.9 L242.9,31.9 L243.1,31 L243.3,29.9 L243.6,28.5 L244,26.6 L244.4,24.4 L244.9,22 L245.5,19.6 L246,17.2 L246.5,14.7 L247.1,12.1 L247.7,9.5 L248.1,7.3 L248.5,5.7 L246.5,5.3 L246.2,6.9 L245.7,9.1 L245.1,11.6 L244.6,14.3 L244,16.8 L243.5,19.2 L243,21.6 L242.5,24 L242,26.2 L241.6,28.1 L241.3,29.5 L241.1,30.6 L240.9,31.5 L240.8,32.5 L240.5,33.8 L240.2,35.5 L239.9,37.5 L239.6,39.5 L239.2,41.5 L238.8,43.3 L238.4,44.9 L237.9,46.4 L237.4,47.8 L237,49.3 L236.5,50.6 L236.2,51.9 L235.9,53.2 L235.7,54.3 L234.5,55.1 L234.2,56 L233.8,56.7 L233.5,57.3 L233.1,57.8 L232.8,58.2 L232.4,58.6 L232,59.1 L231.6,59.4 L231.2,59.8 L230.7,60.2 L230.3,60.6 L229.9,60.9 L229.4,61.1 L229,61.4 L228.6,61.6 L228.2,61.8 L227.7,62.1 L227.2,62.3 L226.6,62.6 L226.1,62.8 L225.8,63 Z" fill="#3b3bff" opacity="0.2" filter="url(#b2)"/>
<path d="M228.2,67.2 L228.5,67 L229,66.7 L229.6,66.4 L230.2,66 L230.7,65.6 L231.2,65.2 L231.7,64.8 L232.2,64.4 L232.6,63.9 L233.1,63.4 L233.6,62.9 L234,62.4 L234.5,61.8 L234.9,61.2 L235.3,60.5 L235.7,59.9 L236,59.2 L236.3,58.5 L236.6,57.7 L236.9,56.8 L237.1,55.8 L237,54.7 L237.3,53.5 L237.6,52.3 L237.9,51 L238.3,49.7 L238.8,48.3 L239.3,46.8 L239.7,45.3 L240.2,43.6 L240.6,41.8 L240.9,39.7 L241.3,37.7 L241.6,35.8 L241.9,34.1 L242.1,32.8 L242.3,31.8 L242.5,30.9 L242.7,29.8 L243,28.4 L243.4,26.5 L243.9,24.3 L244.4,21.9 L244.9,19.4 L245.4,17.1 L245.9,14.6 L246.5,11.9 L247.1,9.4 L247.5,7.2 L247.9,5.6 L247.1,5.4 L246.8,7 L246.3,9.2 L245.7,11.8 L245.1,14.4 L244.6,16.9 L244.1,19.3 L243.6,21.7 L243.1,24.1 L242.6,26.3 L242.2,28.2 L241.9,29.7 L241.7,30.7 L241.5,31.6 L241.3,32.6 L241.1,33.9 L240.8,35.6 L240.5,37.6 L240.2,39.6 L239.8,41.6 L239.4,43.4 L239,45 L238.5,46.6 L238,48 L237.5,49.4 L237.1,50.8 L236.8,52.1 L236.5,53.3 L236.2,54.5 L235.6,55.4 L235.3,56.4 L235,57.1 L234.7,57.8 L234.4,58.4 L234,58.9 L233.7,59.5 L233.3,60 L232.9,60.5 L232.4,60.9 L231.9,61.4 L231.5,61.8 L231.1,62.2 L230.6,62.5 L230.2,62.8 L229.7,63.1 L229.3,63.4 L228.8,63.7 L228.2,64 L227.7,64.3 L227.2,64.6 L226.8,64.8 Z" fill="#0808ff" filter="url(#b0)"/>
<path d="M231,5.5 L231.1,6.4 L231.2,7.6 L231.3,9 L231.5,10.5 L231.6,12 L231.8,13.5 L231.9,15 L232.1,16.6 L232.3,18.2 L232.5,20 L232.7,21.9 L233,23.9 L233.2,25.9 L233.5,28 L233.8,30 L234.1,32 L234.4,34 L234.7,35.9 L235,37.9 L235.4,40 L235.8,42.1 L236.2,44.3 L236.6,46.5 L237.1,48.7 L237.5,50.9 L237.8,53.1 L238.2,55.3 L238.6,57.5 L238.9,59.6 L239.2,61.6 L239.5,63.2 L239.8,64.6 L240.1,66 L240.4,67.5 L240.7,69.2 L241.1,71.4 L241.6,73.9 L242,76.6 L242.5,79.2 L242.9,81.7 L243.4,84.1 L243.9,86.4 L244.3,88.6 L244.8,90.9 L245.4,93.1 L246,95.4 L246.7,97.7 L247.4,99.9 L248.2,101.8 L248.9,103.5 L249.4,104.9 L249.8,106.1 L250.2,107.2 L250.6,108.3 L251,109.3 L251.6,110.4 L252.1,111.7 L252.5,113.2 L252.9,115.1 L254.3,118.4 L259.7,119.9 L262.7,116.6 L263.3,114.6 L263.6,113.7 L264,113.5 L264.4,112.9 L264.7,112 L265,111 L265.3,110.1 L265.6,109 L266.1,107.8 L266.6,106.4 L267.2,104.9 L267.8,103.6 L268.2,102.3 L268.6,101.1 L269,100 L269.3,99.1 L269.6,98.3 L269.8,97.7 L265.2,95.6 L264.9,96.1 L264.5,96.9 L264,97.7 L263.4,98.6 L262.8,99.5 L262,100.5 L261.2,101.7 L260.4,102.9 L259.5,104 L258.8,104.9 L258.1,105.5 L257.5,105.8 L257,106 L256.5,106.1 L256,106.5 L255.5,107.2 L255,107.5 L254.6,106.4 L256.7,103.6 L261.1,105 L261.3,107.3 L260.4,107.6 L259.5,107 L258.7,106.1 L258,105.1 L257.3,104.3 L256.7,103.6 L256,102.9 L255.3,101.9 L254.5,100.7 L253.6,99.1 L252.5,97.4 L251.3,95.5 L250.2,93.6 L249,91.7 L248.1,89.8 L247.2,87.8 L246.4,85.6 L245.6,83.5 L244.9,81.2 L244.1,78.8 L243.4,76.3 L242.8,73.7 L242.2,71.2 L241.7,69 L241.2,67.3 L240.9,65.8 L240.5,64.5 L240.1,63.1 L239.8,61.5 L239.3,59.6 L238.9,57.5 L238.4,55.3 L238,53.1 L237.5,50.9 L237.1,48.7 L236.6,46.5 L236.2,44.3 L235.8,42.1 L235.4,40 L235,37.9 L234.7,35.9 L234.4,34 L234.1,32 L233.8,30 L233.5,28 L233.2,25.9 L233,23.9 L232.7,21.9 L232.5,20 L232.3,18.2 L232.1,16.6 L231.9,15 L231.8,13.5 L231.6,12 L231.5,10.5 L231.3,9 L231.2,7.6 L231.1,6.4 L231,5.5 Z" fill="#3b3bff" opacity="0.12" filter="url(#b2)"/>
<path d="M230.6,5.5 L230.7,6.4 L230.8,7.6 L230.9,9 L231.1,10.5 L231.2,12 L231.4,13.5 L231.5,15 L231.7,16.6 L231.9,18.3 L232.1,20 L232.3,21.9 L232.6,23.9 L232.8,26 L233.1,28 L233.4,30.1 L233.7,32 L234,34 L234.3,36 L234.6,38 L235,40.1 L235.4,42.2 L235.8,44.4 L236.2,46.6 L236.7,48.8 L237.1,51 L237.5,53.2 L237.9,55.4 L238.3,57.6 L238.6,59.7 L239,61.6 L239.3,63.3 L239.6,64.7 L239.9,66 L240.2,67.5 L240.6,69.3 L241,71.5 L241.5,73.9 L242,76.6 L242.5,79.2 L243,81.7 L243.6,84 L244.1,86.3 L244.7,88.5 L245.3,90.7 L245.9,92.9 L246.6,95.1 L247.5,97.3 L248.3,99.4 L249.2,101.3 L249.9,103 L250.5,104.3 L251,105.5 L251.5,106.5 L251.9,107.5 L252.4,108.5 L253,109.5 L253.6,110.7 L254.2,112 L254.7,113.4 L255.8,115.4 L259.1,116.2 L261,114.4 L261.5,113.1 L261.9,112.4 L262.3,112 L262.7,111.5 L263.1,110.7 L263.4,110 L263.8,109.1 L264.3,108.2 L264.8,107 L265.4,105.7 L266.1,104.3 L266.7,103 L267.2,101.8 L267.7,100.7 L268.1,99.6 L268.5,98.7 L268.8,97.9 L269,97.4 L266,96 L265.7,96.5 L265.3,97.3 L264.9,98.1 L264.3,99.1 L263.8,100 L263.1,101.1 L262.4,102.3 L261.6,103.6 L260.8,104.8 L260.1,105.7 L259.6,106.4 L259.1,106.9 L258.6,107.2 L258.1,107.5 L257.7,107.9 L257.2,108.6 L256.8,109 L256.4,108.6 L257.4,107.3 L259.6,108 L259.5,109 L258.8,108.7 L258,108 L257.2,107 L256.6,105.9 L256,105.1 L255.4,104.3 L254.8,103.5 L254.2,102.5 L253.5,101.2 L252.6,99.6 L251.6,97.8 L250.5,95.9 L249.5,93.9 L248.5,91.9 L247.6,89.9 L246.9,87.9 L246.1,85.7 L245.4,83.5 L244.8,81.2 L244.1,78.8 L243.5,76.2 L242.9,73.7 L242.3,71.2 L241.8,69 L241.4,67.2 L241,65.8 L240.7,64.4 L240.4,63 L240,61.4 L239.6,59.5 L239.2,57.4 L238.8,55.2 L238.3,53 L237.9,50.8 L237.5,48.7 L237,46.5 L236.6,44.3 L236.2,42.1 L235.8,39.9 L235.4,37.9 L235.1,35.9 L234.8,33.9 L234.5,31.9 L234.2,29.9 L233.9,27.9 L233.6,25.9 L233.4,23.8 L233.1,21.8 L232.9,20 L232.7,18.2 L232.5,16.5 L232.3,15 L232.2,13.4 L232,12 L231.8,10.5 L231.7,8.9 L231.6,7.5 L231.5,6.3 L231.4,5.5 Z" fill="#0808ff" filter="url(#b0)"/>
<path d="M258.4,53.7 L258.6,53.3 L258.8,52.7 L259.2,51.9 L259.5,50.8 L259.8,49.4 L260.1,47.6 L260.3,45.5 L260.6,43.2 L260.9,40.7 L261.2,38.2 L261.6,35.5 L262,32.5 L262.5,29.5 L262.9,26.7 L263.3,24.1 L263.6,21.8 L264,19.7 L264.3,17.8 L264.6,15.9 L264.9,14.1 L265.3,12.2 L265.7,10.2 L266.2,8.3 L266.5,6.7 L266.8,5.6 L266,5.4 L265.7,6.5 L265.4,8.1 L264.9,10 L264.5,12 L264.1,13.9 L263.8,15.8 L263.5,17.6 L263.2,19.6 L262.9,21.7 L262.5,23.9 L262.1,26.5 L261.7,29.4 L261.2,32.4 L260.8,35.3 L260.4,38 L260.1,40.6 L259.8,43.1 L259.5,45.4 L259.3,47.5 L259,49.2 L258.7,50.6 L258.4,51.6 L258.1,52.4 L257.8,53 L257.6,53.5 Z" fill="#0808ff" filter="url(#b0)"/>
<path d="M237.9,5.6 L238.2,7.1 L238.6,9.4 L239.1,11.9 L239.6,14.6 L240.1,17.1 L240.5,19.4 L240.9,21.8 L241.3,24.1 L241.8,26.4 L242.2,28.4 L242.7,30.2 L243.2,31.8 L243.6,33.3 L244.1,34.7 L244.6,36.1 L245.1,37.5 L245.6,38.8 L246.1,40.1 L246.6,41.3 L247.1,42.5 L247.6,43.6 L248.2,44.7 L248.7,45.7 L249.2,46.7 L249.8,47.7 L250.3,48.7 L250.9,49.6 L251.6,50.5 L252.2,51.4 L252.8,52.2 L253.4,53.1 L254,53.9 L254.6,54.7 L255.2,55.4 L255.7,56.1 L256.2,56.6 L256.7,57 L257.1,57.4 L257.5,57.6 L257.8,57.8 L258.2,57.2 L258,57 L257.6,56.7 L257.2,56.4 L256.8,56 L256.3,55.5 L255.8,54.9 L255.2,54.2 L254.6,53.4 L254,52.6 L253.4,51.8 L252.8,50.9 L252.2,50.1 L251.6,49.2 L251,48.2 L250.4,47.3 L249.9,46.3 L249.4,45.3 L248.9,44.3 L248.4,43.3 L247.9,42.1 L247.4,41 L246.9,39.8 L246.4,38.5 L245.9,37.2 L245.4,35.9 L244.9,34.5 L244.4,33.1 L243.9,31.6 L243.4,30 L243,28.2 L242.6,26.2 L242.1,24 L241.7,21.6 L241.3,19.3 L240.9,16.9 L240.4,14.5 L239.9,11.8 L239.4,9.2 L239,7 L238.7,5.4 Z" fill="#0808ff" filter="url(#b0)"/>
<path d="M237.8,5.7 L238.1,7.3 L238.6,9.5 L239.1,12.1 L239.6,14.7 L240,17.2 L240.4,19.4 L240.7,21.8 L241,24.1 L241.4,26.3 L241.8,28.5 L242.3,30.6 L242.9,32.7 L243.4,34.7 L244,36.6 L244.5,38.3 L245.1,39.9 L245.6,41.4 L246.1,42.8 L246.6,44.1 L247.1,45.4 L247.6,46.6 L248.1,47.7 L248.6,48.8 L249.1,49.9 L249.6,51 L250.2,52.1 L250.8,53.2 L251.4,54.3 L252.1,55.3 L252.6,56.3 L253.2,57.2 L253.7,58.1 L254.2,58.9 L254.7,59.7 L255.2,60.4 L255.8,61 L256.3,61.4 L256.6,61.5 L256.8,61.7 L257.1,62.3 L257.3,63.3 L257.6,64.6 L257.9,66.1 L258.2,68 L258.6,70.2 L258.2,73.2 L258.7,76.5 L259.2,80 L259.7,83.4 L260.2,86.3 L260.6,88.8 L261,90.9 L261.3,92.8 L261.6,94.5 L262,96.1 L262.2,97.6 L262.6,99 L262.8,100.2 L263,101 L263,101.6 L272,97.4 L271.5,96.9 L270.9,96.3 L270.3,95.6 L269.7,94.7 L269,93.7 L268.4,92.4 L267.7,90.9 L267.1,89.2 L266.3,87.3 L265.6,85.1 L264.8,82.3 L263.9,79 L263,75.6 L262.2,72.3 L260.6,69.8 L260.2,67.6 L259.8,65.8 L259.6,64.2 L259.3,62.9 L258.9,61.7 L258.5,60.7 L257.9,60 L257.4,59.7 L257.1,59.5 L256.8,59.2 L256.4,58.6 L255.9,57.9 L255.4,57.1 L254.9,56.2 L254.4,55.3 L253.8,54.3 L253.2,53.3 L252.6,52.2 L252,51.1 L251.4,50 L250.9,49 L250.4,48 L249.9,46.9 L249.4,45.8 L248.9,44.6 L248.4,43.4 L247.9,42.1 L247.5,40.7 L247,39.3 L246.5,37.7 L245.9,36 L245.4,34.1 L244.8,32.2 L244.3,30.1 L243.8,28.1 L243.4,26 L243,23.8 L242.7,21.5 L242.4,19.1 L242,16.8 L241.5,14.3 L241,11.7 L240.5,9.1 L240.1,6.9 L239.8,5.3 Z" fill="#3b3bff" opacity="0.2" filter="url(#b2)"/>
<path d="M238.4,5.6 L238.7,7.1 L239.1,9.4 L239.7,11.9 L240.2,14.6 L240.6,17.1 L241,19.4 L241.3,21.7 L241.6,24 L242,26.2 L242.4,28.4 L242.9,30.5 L243.4,32.5 L244,34.5 L244.6,36.4 L245.1,38.1 L245.6,39.7 L246.1,41.2 L246.6,42.6 L247.1,43.9 L247.6,45.1 L248.1,46.4 L248.6,47.5 L249.1,48.6 L249.6,49.6 L250.1,50.7 L250.7,51.8 L251.3,52.9 L252,54 L252.6,55 L253.2,56 L253.7,56.9 L254.2,57.8 L254.7,58.6 L255.2,59.4 L255.7,60 L256.2,60.6 L256.6,60.9 L257,61.1 L257.3,61.4 L257.6,62.1 L257.9,63.2 L258.2,64.5 L258.5,66 L258.8,67.9 L259.2,70.1 L259.4,72.9 L260,76.2 L260.6,79.7 L261.3,83.1 L261.8,86 L262.3,88.3 L262.8,90.4 L263.3,92.2 L263.7,93.9 L264.1,95.4 L264.5,96.8 L264.9,98 L265.3,99 L265.5,99.8 L265.7,100.4 L269.3,98.6 L268.9,98.1 L268.5,97.4 L268,96.6 L267.5,95.6 L266.9,94.4 L266.4,93 L265.8,91.5 L265.2,89.7 L264.6,87.7 L264,85.4 L263.3,82.6 L262.5,79.3 L261.7,75.9 L261,72.6 L260,69.9 L259.6,67.7 L259.3,65.9 L259,64.3 L258.7,63 L258.4,61.9 L258,61 L257.5,60.5 L257.1,60.2 L256.7,60 L256.3,59.6 L255.9,58.9 L255.4,58.2 L254.9,57.4 L254.4,56.5 L253.8,55.6 L253.3,54.6 L252.7,53.6 L252,52.5 L251.4,51.4 L250.9,50.3 L250.3,49.3 L249.8,48.2 L249.3,47.2 L248.9,46 L248.4,44.9 L247.9,43.6 L247.4,42.3 L246.9,40.9 L246.4,39.5 L245.9,37.9 L245.3,36.1 L244.8,34.3 L244.2,32.3 L243.7,30.3 L243.2,28.2 L242.8,26.1 L242.4,23.8 L242.1,21.6 L241.8,19.2 L241.4,16.9 L240.9,14.5 L240.4,11.8 L239.9,9.2 L239.5,7 L239.2,5.4 Z" fill="#0808ff" filter="url(#b0)"/>
<path d="M209.4,56.4 L209.7,56.2 L210.3,55.9 L210.9,55.6 L211.6,55.3 L212.2,54.8 L212.9,54.4 L213.6,53.8 L214.3,53.2 L215.1,52.5 L215.7,51.7 L216.3,50.9 L216.8,49.9 L217.4,48.9 L217.9,47.8 L218.4,46.7 L218.9,45.4 L219.4,44.1 L220,42.7 L220.5,41.2 L221.1,39.6 L221.7,38 L222.2,36.3 L222.8,34.5 L223.4,32.7 L224.1,30.8 L224.7,28.8 L225.4,26.7 L226.1,24.6 L226.8,22.5 L227.6,20.4 L228.4,18.4 L229.3,16.4 L230.2,14.4 L231.1,12.6 L231.9,11 L232.5,9.6 L233.1,8.3 L233.7,7.2 L234.1,6.3 L234.5,5.7 L233.7,5.3 L233.4,6 L233,6.9 L232.4,7.9 L231.8,9.2 L231.1,10.6 L230.4,12.2 L229.5,14.1 L228.6,16.1 L227.7,18.1 L226.8,20.2 L226.1,22.2 L225.3,24.3 L224.6,26.5 L224,28.6 L223.3,30.6 L222.7,32.5 L222.1,34.3 L221.5,36.1 L220.9,37.7 L220.3,39.4 L219.8,40.9 L219.2,42.4 L218.7,43.8 L218.2,45.1 L217.6,46.3 L217.1,47.5 L216.6,48.6 L216.1,49.6 L215.6,50.4 L215.1,51.3 L214.5,52 L213.8,52.6 L213.1,53.2 L212.4,53.7 L211.8,54.2 L211.2,54.6 L210.5,54.9 L209.9,55.2 L209.4,55.5 L209,55.6 Z" fill="#0808ff" filter="url(#b0)"/>
<path d="M209.4,61.7 L209.7,61.5 L210.3,61.3 L210.9,61 L211.6,60.6 L212.2,60.1 L212.9,59.6 L213.6,59 L214.4,58.3 L215.1,57.4 L215.7,56.4 L216.3,55.2 L216.9,53.8 L217.4,52.2 L217.9,50.7 L218.4,49.1 L218.9,47.3 L219.4,45.1 L220,43.1 L220.5,41.7 L220.6,41.4 L221,42 L221.6,43.9 L222.3,46.4 L222.9,48.9 L223.4,51.1 L223.8,52.8 L224.2,54.5 L224.5,56 L224.8,57.6 L225.1,59.1 L225.5,60.7 L226,62.3 L226.4,63.9 L226.8,65.2 L227.1,66.1 L227.9,65.9 L227.6,64.9 L227.2,63.6 L226.8,62.1 L226.3,60.5 L225.9,58.9 L225.6,57.4 L225.3,55.9 L225,54.3 L224.6,52.7 L224.2,50.9 L223.7,48.7 L223,46.2 L222.4,43.7 L221.7,41.7 L220.8,40.6 L219.8,41.3 L219.2,42.8 L218.7,44.9 L218.1,47.1 L217.6,48.9 L217.1,50.4 L216.6,52 L216.1,53.5 L215.6,54.8 L215.1,56 L214.4,56.9 L213.8,57.7 L213.1,58.4 L212.4,59 L211.8,59.5 L211.1,59.9 L210.5,60.3 L209.9,60.5 L209.4,60.8 L209,60.9 Z" fill="#0808ff" filter="url(#b0)"/>
<path d="M216.7,5.7 L216,7.4 L216.3,9.6 L216.6,12.1 L216.9,14.8 L217.3,17.4 L217.6,20 L218,22.9 L218.4,25.8 L218.8,28.2 L219.4,30.1 L223.6,31 L224.6,29.1 L224.9,27.6 L225.2,26.2 L225.4,25.2 L225.6,24.6 L225.9,23.9 L226.1,23.1 L226.5,22.1 L226,20.6 L226.4,19.1 L226.9,17.3 L227.3,15.4 L227.8,13.6 L228.2,11.9 L228.5,10.4 L228.8,9 L229.1,7.6 L229.3,6.5 L229.5,5.7 L227.5,5.3 L227.4,6.1 L227.1,7.2 L226.9,8.5 L226.6,10 L226.2,11.5 L225.8,13.1 L225.4,14.9 L224.9,16.8 L224.5,18.6 L224,20 L222.8,20.8 L222.4,21.5 L222,22.1 L221.6,22.8 L221.2,23.8 L220.7,25.1 L220.4,26.5 L220,27.6 L220.3,27.3 L223.8,27.9 L223.6,27.1 L223.1,25 L222.7,22.2 L222.2,19.3 L221.7,16.6 L221.2,14.1 L220.7,11.5 L220.3,8.9 L219.9,6.8 L218.7,5.3 Z" fill="#3b3bff" opacity="0.2" filter="url(#b2)"/>
<path d="M217.3,5.6 L217.2,7.2 L217.5,9.4 L217.8,11.9 L218.2,14.6 L218.6,17.1 L219,19.8 L219.4,22.7 L219.8,25.5 L220.2,27.9 L220.7,29.5 L222.6,29.9 L223.2,28.7 L223.6,27.3 L223.9,25.9 L224.2,24.8 L224.4,24.1 L224.7,23.4 L225,22.6 L225.4,21.7 L225.4,20.4 L225.8,18.9 L226.3,17.2 L226.7,15.3 L227.2,13.4 L227.6,11.8 L227.9,10.3 L228.2,8.8 L228.5,7.5 L228.7,6.4 L228.9,5.6 L228.1,5.4 L227.9,6.2 L227.7,7.3 L227.5,8.7 L227.1,10.1 L226.8,11.6 L226.4,13.2 L226,15.1 L225.5,17 L225,18.7 L224.6,20.2 L223.9,21.2 L223.5,22 L223.2,22.7 L222.8,23.4 L222.4,24.2 L222.1,25.4 L221.7,26.9 L221.4,28.1 L221.3,28.4 L222.5,28.5 L222.2,27.4 L221.7,25.2 L221.3,22.4 L220.8,19.5 L220.4,16.9 L220,14.3 L219.5,11.7 L219.1,9.1 L218.7,6.9 L218.1,5.4 Z" fill="#0808ff" filter="url(#b0)"/>
<path d="M221,5.9 L221.2,8.1 L221.5,11.5 L221.8,15.2 L222.2,18.7 L223.3,22 L231.5,23.3 L233.3,20.6 L234.2,18.5 L234.9,16.6 L235.5,15.2 L236.2,13.8 L237.2,12.1 L238.1,10.4 L238.9,8.9 L239.4,7.9 L230.6,3.1 L230,4.2 L229.2,5.7 L228.3,7.4 L227.4,9.1 L226.5,10.8 L225.6,12.8 L224.9,14.8 L224.3,16.3 L224.8,15.8 L231.9,17 L232.1,16.9 L231.7,14.2 L231.4,10.7 L231.2,7.3 L231,5.1 Z" fill="#3b3bff" opacity="0.2" filter="url(#b2)"/>
<path d="M224,5.7 L224.2,7.9 L224.4,11.2 L224.8,14.9 L225.2,18.1 L225.9,20.5 L229.5,21 L230.6,19.3 L231.4,17.4 L232.1,15.4 L232.8,13.9 L233.6,12.4 L234.5,10.7 L235.4,9 L236.2,7.5 L236.8,6.4 L233.2,4.6 L232.7,5.6 L231.9,7.1 L231,8.8 L230.1,10.5 L229.2,12.1 L228.4,13.9 L227.6,15.9 L227,17.6 L226.8,18 L229.3,18.5 L229.1,17.4 L228.7,14.5 L228.4,10.9 L228.2,7.6 L228,5.3 Z" fill="#0808ff" filter="url(#b0)"/>
<path d="M220.6,6.3 L220.8,7.7 L221.1,9.7 L221.5,12.1 L221.9,14.4 L222.4,16.2 L222.7,17.6 L223.2,18.9 L224.4,20.9 L228.8,22.7 L232.5,21.1 L233.9,19.2 L234.9,17.3 L235.9,15.4 L236.7,13.7 L237.4,12.5 L237.9,11.5 L238.6,10.6 L239.2,9.7 L239.7,8.9 L240.1,8.4 L231.9,2.6 L231.5,3.2 L231,4 L230.3,5 L229.5,6.2 L228.6,7.5 L227.8,9.2 L226.9,11.1 L226,12.8 L225.4,14 L225.5,13.9 L228.2,12.8 L231.8,14.2 L232.4,15.1 L232.3,14.6 L232,13.8 L231.7,12.4 L231.4,10.4 L231,8.2 L230.7,6.1 L230.4,4.7 Z" fill="#3b3bff" opacity="0.2" filter="url(#b2)"/>
<path d="M223.5,5.8 L223.8,7.2 L224.1,9.3 L224.5,11.6 L224.9,13.8 L225.3,15.5 L225.6,16.7 L226,17.7 L226.6,18.9 L228.6,19.7 L230.4,18.9 L231.4,17.6 L232.3,16 L233.2,14.1 L234,12.4 L234.7,11 L235.4,9.9 L236.1,8.9 L236.7,8 L237.2,7.2 L237.6,6.6 L234.4,4.4 L234,4.9 L233.4,5.7 L232.8,6.6 L232,7.8 L231.3,9 L230.4,10.6 L229.6,12.4 L228.7,14.2 L228,15.5 L227.6,16.1 L228.4,15.8 L229.6,16.2 L229.7,16.2 L229.4,15.5 L229.1,14.5 L228.8,13 L228.4,10.9 L228,8.6 L227.7,6.6 L227.5,5.2 Z" fill="#0808ff" filter="url(#b0)"/>
<path d="M235.4,6.6 L235.7,7.5 L236.1,8.7 L236.5,10.2 L237,11.8 L237.4,13.1 L237.8,14.4 L238.3,16 L238.8,17.6 L239.6,19.3 L243.2,21.4 L246.8,19.4 L247.6,17.7 L248.2,16 L248.7,14.5 L249.1,13.1 L249.5,11.6 L249.9,10 L250.3,8.5 L250.6,7.2 L250.8,6.3 L243.4,4.7 L243.2,5.6 L243,6.8 L242.6,8.3 L242.3,9.7 L241.9,10.9 L241.5,12.3 L241.1,13.7 L240.7,14.9 L240.5,15.2 L243.2,13.9 L245.9,15.3 L245.8,15 L245.5,13.8 L245,12.3 L244.6,10.9 L244.1,9.5 L243.7,8.1 L243.2,6.6 L242.9,5.3 L242.6,4.4 Z" fill="#3b3bff" opacity="0.2" filter="url(#b2)"/>
<path d="M237.6,5.9 L237.8,6.8 L238.2,8.1 L238.7,9.6 L239.1,11.1 L239.6,12.5 L240,13.8 L240.4,15.3 L240.9,16.8 L241.5,18.1 L243.2,19.2 L244.9,18.1 L245.5,16.8 L246.1,15.3 L246.5,13.8 L246.9,12.4 L247.3,11 L247.7,9.5 L248.1,8 L248.4,6.7 L248.6,5.8 L245.6,5.2 L245.4,6.1 L245.1,7.3 L244.8,8.8 L244.4,10.3 L244.1,11.6 L243.6,12.9 L243.2,14.4 L242.8,15.7 L242.4,16.5 L243.2,16.2 L244,16.5 L243.7,15.8 L243.3,14.5 L242.9,12.9 L242.4,11.5 L242,10.2 L241.5,8.7 L241.1,7.2 L240.7,6 L240.4,5.1 Z" fill="#0808ff" filter="url(#b0)"/>
<path d="M276.9,5.6 L277.2,6.9 L277.7,8.7 L278.2,10.8 L278.7,13 L279.1,15.1 L279.5,17 L279.9,19 L280.2,21 L280.6,23 L280.9,25.1 L281.3,27.2 L281.6,29.5 L282,31.8 L282.3,34 L282.6,36.1 L282.9,38 L283.2,39.8 L283.4,41.6 L283.7,43.2 L284,44.7 L284.3,46.1 L284.6,47.5 L284.9,48.7 L285.3,49.6 L285.8,50.3 L286.6,50.3 L287.1,49.8 L287.5,49 L287.9,48.3 L288.3,47.7 L288.7,47.3 L289,46.9 L289.4,46.6 L289.8,46.1 L290.2,45.7 L290.6,45.1 L291,44.6 L291.4,44 L291.9,43.4 L292.3,42.7 L292.8,42.1 L293.3,41.5 L293.8,40.8 L294.4,40.1 L294.9,39.3 L295.5,38.5 L296.2,37.5 L296.9,36.5 L297.5,35.5 L298.1,34.6 L298.5,33.7 L298.9,32.8 L299.2,31.9 L299.6,31 L299.9,30.1 L300.2,29.2 L300.5,28.4 L300.7,27.5 L301,26.4 L301.3,25.1 L301.6,23.4 L301.9,21.4 L302.3,19.3 L302.6,17.1 L302.9,15.1 L303.2,13 L303.6,10.8 L303.9,8.7 L304.2,6.8 L304.4,5.6 L303.6,5.4 L303.4,6.7 L303.1,8.5 L302.8,10.6 L302.4,12.9 L302.1,14.9 L301.8,17 L301.5,19.1 L301.1,21.3 L300.8,23.2 L300.5,24.9 L300.2,26.2 L300,27.3 L299.7,28.2 L299.4,29 L299.1,29.9 L298.8,30.8 L298.5,31.6 L298.2,32.5 L297.8,33.3 L297.3,34.2 L296.8,35.1 L296.2,36.1 L295.5,37.1 L294.9,38 L294.3,38.9 L293.7,39.6 L293.2,40.3 L292.7,41 L292.2,41.6 L291.7,42.3 L291.2,42.9 L290.8,43.5 L290.4,44.1 L290,44.6 L289.6,45.1 L289.2,45.6 L288.8,46 L288.5,46.4 L288.1,46.8 L287.7,47.3 L287.3,47.9 L286.8,48.7 L286.4,49.3 L286.2,49.7 L286.2,49.7 L286,49.3 L285.7,48.4 L285.4,47.3 L285.1,45.9 L284.8,44.5 L284.5,43.1 L284.2,41.4 L284,39.7 L283.7,37.9 L283.4,35.9 L283.1,33.9 L282.7,31.7 L282.4,29.4 L282,27.1 L281.7,24.9 L281.3,22.9 L281,20.8 L280.6,18.8 L280.3,16.9 L279.9,14.9 L279.4,12.8 L278.9,10.6 L278.4,8.5 L278,6.7 L277.7,5.4 Z" fill="#0808ff" filter="url(#b0)"/>
<path d="M269.7,99.5 L270.3,98.8 L271.3,97.8 L272.3,96.4 L273.5,94.8 L274.5,93.2 L275.4,91.4 L276.4,89.6 L277.4,87.7 L278.3,85.6 L279.1,83.6 L279.7,81.5 L280.3,79.4 L280.9,77.3 L281.3,75.2 L281.8,73.2 L282.1,71.2 L282.4,69.1 L282.7,67.1 L282.9,65.3 L283.2,63.6 L283.5,62.2 L283.8,60.8 L284.1,59.7 L284.4,58.7 L284.7,57.8 L284.9,57.3 L285,57 L285.1,56.9 L285.3,56.7 L285.7,56.3 L286.2,55.6 L286.9,54.9 L287.6,54.1 L288.4,53.2 L289.2,52.4 L290,51.6 L290.8,50.9 L291.6,50.1 L292.4,49.3 L293,48.5 L293.6,47.5 L294.1,46.4 L294.5,45.4 L295,44.7 L295.4,44.5 L295.9,44.9 L296.3,45.8 L296.8,47 L297.2,48.4 L297.7,50 L298.1,51.6 L298.5,53.5 L298.9,55.6 L299.3,57.7 L299.6,59.7 L300,61.8 L300.4,64 L300.8,66.2 L301.2,68.3 L301.6,70.4 L302,72.5 L302.4,74.5 L302.7,76.6 L303.1,78.4 L303.4,80.1 L303.7,81.6 L304,82.8 L304.2,83.9 L304.5,85 L304.9,86 L305.2,87.1 L305.6,88.3 L306,89.4 L306.4,90.4 L306.8,91.4 L307.1,92.3 L307.5,93.2 L307.9,94 L308.2,94.7 L308.6,95.4 L309,95.9 L309.3,96.5 L309.6,97.3 L309.9,98.2 L310.5,99.2 L311.2,100.1 L312.2,100.8 L313,101.4 L313.7,101.8 L314.2,102.1 L317.8,95.1 L317.3,94.9 L316.5,94.5 L315.8,94.3 L315.1,94.1 L314.5,94.1 L314.1,94.1 L313.6,94.1 L313.2,93.9 L312.8,93.4 L312.4,92.8 L311.9,92.2 L311.4,91.6 L310.9,91.1 L310.4,90.5 L309.8,89.8 L309.3,89 L308.7,88.1 L308.2,87.1 L307.6,86.1 L307.1,85.1 L306.7,84.1 L306.2,83.2 L305.7,82.2 L305.3,81.1 L304.8,79.8 L304.3,78.2 L303.8,76.3 L303.3,74.3 L302.8,72.3 L302.4,70.2 L301.9,68.2 L301.4,66 L300.9,63.9 L300.4,61.7 L300,59.7 L299.5,57.6 L299.1,55.5 L298.6,53.5 L298.2,51.6 L297.7,49.9 L297.3,48.4 L296.8,47 L296.3,45.8 L295.9,44.9 L295.4,44.5 L295,44.7 L294.5,45.4 L294.1,46.4 L293.6,47.5 L293,48.5 L292.3,49.2 L291.5,50 L290.6,50.7 L289.8,51.5 L289,52.2 L288.2,53 L287.4,53.8 L286.6,54.6 L285.9,55.3 L285.3,55.9 L284.9,56.3 L284.7,56.6 L284.6,56.8 L284.5,57.1 L284.3,57.7 L284.1,58.6 L283.8,59.6 L283.4,60.7 L283.1,62.1 L282.8,63.5 L282.5,65.2 L282.2,67.1 L281.8,69 L281.4,71 L280.8,73 L280.2,74.9 L279.5,76.9 L278.8,78.9 L277.9,80.8 L276.9,82.6 L275.8,84.3 L274.6,86 L273.4,87.6 L272.1,89.1 L270.9,90.5 L269.7,91.6 L268.4,92.6 L267.1,93.6 L266.1,94.5 L265.3,95.2 Z" fill="#3b3bff" opacity="0.12" filter="url(#b2)"/>
<path d="M268.9,98.7 L269.5,98 L270.5,97 L271.6,95.7 L272.8,94.3 L273.9,92.7 L274.9,91.1 L276,89.3 L277.1,87.4 L278,85.5 L278.9,83.5 L279.6,81.5 L280.3,79.4 L280.9,77.3 L281.4,75.3 L281.9,73.2 L282.3,71.2 L282.7,69.2 L282.9,67.2 L283.2,65.3 L283.5,63.7 L283.8,62.2 L284.1,60.9 L284.4,59.7 L284.7,58.7 L285,57.9 L285.1,57.4 L285.3,57.1 L285.3,57.1 L285.5,56.9 L285.9,56.5 L286.4,55.8 L287.1,55.1 L287.9,54.3 L288.7,53.4 L289.4,52.6 L290.2,51.9 L291,51.1 L291.8,50.3 L292.6,49.5 L293.3,48.7 L293.9,47.7 L294.4,46.6 L294.9,45.6 L295.2,45 L295.3,44.9 L295.5,45.2 L296,46 L296.4,47.1 L296.9,48.6 L297.3,50.1 L297.7,51.7 L298.1,53.6 L298.5,55.6 L298.9,57.7 L299.3,59.8 L299.7,61.9 L300.2,64 L300.6,66.2 L301,68.4 L301.4,70.4 L301.8,72.5 L302.2,74.6 L302.6,76.6 L303,78.5 L303.4,80.2 L303.7,81.6 L304,82.8 L304.4,83.9 L304.7,84.9 L305.1,85.9 L305.5,87 L305.9,88.1 L306.3,89.2 L306.8,90.2 L307.2,91.2 L307.6,92.1 L308,92.9 L308.4,93.6 L308.8,94.3 L309.2,94.9 L309.6,95.5 L309.9,96.1 L310.3,96.7 L310.7,97.4 L311.2,98.2 L312,98.9 L312.9,99.5 L313.7,100 L314.4,100.4 L314.9,100.7 L317.1,96.5 L316.6,96.2 L315.8,95.9 L315.1,95.5 L314.3,95.2 L313.8,95 L313.3,94.9 L312.9,94.6 L312.5,94.3 L312.2,93.8 L311.8,93.2 L311.3,92.6 L310.9,92 L310.4,91.4 L309.9,90.7 L309.4,90 L308.9,89.1 L308.4,88.2 L307.9,87.2 L307.4,86.2 L306.9,85.2 L306.5,84.2 L306.1,83.2 L305.7,82.2 L305.3,81.1 L304.8,79.8 L304.4,78.1 L303.9,76.3 L303.5,74.3 L303,72.2 L302.6,70.2 L302.1,68.1 L301.7,66 L301.2,63.8 L300.7,61.7 L300.3,59.6 L299.8,57.5 L299.4,55.5 L299,53.4 L298.5,51.5 L298.1,49.8 L297.6,48.3 L297.2,46.9 L296.7,45.6 L296.2,44.7 L295.5,44.1 L294.7,44.4 L294.2,45.2 L293.7,46.3 L293.2,47.3 L292.7,48.2 L292,49 L291.2,49.7 L290.4,50.5 L289.6,51.2 L288.8,52 L288,52.8 L287.2,53.6 L286.4,54.4 L285.7,55.1 L285.1,55.8 L284.7,56.1 L284.5,56.4 L284.4,56.7 L284.2,57 L284,57.6 L283.8,58.5 L283.5,59.5 L283.2,60.7 L282.8,62 L282.5,63.5 L282.2,65.2 L281.9,67 L281.6,69 L281.2,71 L280.7,72.9 L280.1,74.9 L279.5,76.9 L278.8,78.9 L278,80.8 L277.1,82.7 L276.1,84.5 L275,86.2 L273.8,87.9 L272.6,89.5 L271.5,90.9 L270.3,92.1 L269.1,93.3 L267.9,94.4 L266.9,95.3 L266.1,96 Z" fill="#0808ff" filter="url(#b0)"/>
<path d="M287.8,6.1 L288.1,7.8 L288.5,10.2 L288.9,13 L289.4,15.9 L289.8,18.5 L290.1,21.2 L290.5,24.2 L290.8,27.1 L291.3,29.7 L293.8,33.1 L299.2,31 L300.1,28.7 L300.8,26.2 L301.4,23.5 L302.1,21 L302.9,18.2 L303.8,14.8 L304.7,11.4 L305.5,8.5 L306,6.5 L298.8,4.5 L298.2,6.6 L297.5,9.5 L296.6,12.9 L295.7,16.2 L294.9,19 L294.2,21.7 L293.5,24.3 L292.9,26.5 L292.6,27.5 L297,26.3 L298.6,27.8 L298.3,26.1 L297.9,23.3 L297.6,20.3 L297.2,17.5 L296.8,14.8 L296.3,11.9 L295.9,9 L295.5,6.6 L295.2,4.9 Z" fill="#3b3bff" opacity="0.2" filter="url(#b2)"/>
<path d="M290,5.7 L290.3,7.4 L290.7,9.9 L291.1,12.7 L291.6,15.6 L292,18.2 L292.4,20.9 L292.7,23.9 L293.1,26.8 L293.5,29.1 L294.8,31.1 L297.3,29.9 L297.9,28 L298.6,25.6 L299.3,23 L299.9,20.4 L300.7,17.6 L301.6,14.2 L302.5,10.9 L303.3,7.9 L303.8,5.9 L301,5.1 L300.4,7.2 L299.6,10.1 L298.7,13.5 L297.8,16.8 L297.1,19.6 L296.4,22.2 L295.7,24.9 L295.1,27.2 L294.6,28.5 L296,28.3 L296.4,28.3 L296,26.4 L295.7,23.6 L295.4,20.6 L295,17.8 L294.6,15.1 L294.1,12.2 L293.6,9.4 L293.3,7 L293,5.3 Z" fill="#0808ff" filter="url(#b0)"/>
<path d="M317.2,102.6 L317.5,102.6 L318.1,102.4 L319.1,101.9 L320.2,101.1 L321.1,100 L321.8,98.8 L322.4,97.7 L323,96.6 L323.6,95.5 L324.1,94.5 L324.5,93.4 L324.8,92.4 L325.1,91.4 L325.5,90.4 L325.8,89.5 L326.2,88.6 L326.6,87.7 L326.9,86.7 L327.2,85.5 L327.6,84.3 L327.9,82.8 L328.2,81.2 L328.6,79.6 L329,77.9 L329.4,76.2 L329.7,74.5 L330.1,72.8 L330.5,71.1 L330.8,69.4 L331.1,67.9 L331.4,66.5 L331.7,65.2 L332,63.9 L332.3,62.8 L332.5,61.7 L332.8,60.7 L333.1,59.9 L333.3,59.1 L333.6,58.4 L333.8,57.8 L334,57.3 L334.1,56.9 L334.3,56.6 L334.4,56.6 L334.4,56.7 L334.6,56.7 L334.9,57 L335.3,57.3 L335.8,57.9 L336.2,58.5 L336.8,59.4 L337.4,60.4 L338.1,61.6 L338.8,62.7 L339.5,63.7 L340.2,64.5 L341,65.3 L341.9,66 L343,66.6 L344.2,66.7 L345.4,66.3 L346.6,65.7 L347.7,64.8 L348.7,63.9 L349.6,62.9 L350.4,61.8 L351.1,60.5 L351.7,59.2 L352.3,58 L352.8,56.9 L353.1,55.9 L353.4,54.9 L353.6,54.1 L353.9,53.3 L354.4,52.5 L355.1,51.7 L355.9,50.9 L356.8,50.1 L357.7,49.3 L358.5,48.5 L359.4,47.6 L360.3,46.7 L361.2,45.8 L362,45 L362.7,44.3 L363.2,43.8 L363.5,43.5 L363.7,43.3 L363.9,43.1 L364,43 L364,43 L363.9,43.1 L363.7,43.3 L363.5,43.5 L363.2,43.8 L362.7,44.3 L362,45 L361.2,45.8 L360.3,46.7 L359.4,47.6 L358.5,48.4 L357.6,49.2 L356.6,50 L355.7,50.7 L354.9,51.5 L354.2,52.3 L353.7,53.2 L353.4,54 L353.2,54.9 L352.9,55.8 L352.4,56.7 L351.8,57.8 L351.2,59 L350.5,60.2 L349.7,61.3 L348.8,62.1 L347.9,62.9 L346.8,63.6 L345.7,64.2 L344.8,64.6 L344,64.7 L343.4,64.7 L342.7,64.5 L341.9,64.1 L341.1,63.5 L340.3,62.9 L339.5,62.1 L338.8,61.1 L338,60.1 L337.3,59 L336.8,58.2 L336.2,57.5 L335.8,57 L335.4,56.5 L335,56.2 L334.6,55.9 L334.1,56 L333.9,56.4 L333.8,56.8 L333.6,57.2 L333.4,57.7 L333.2,58.3 L332.9,59 L332.6,59.7 L332.4,60.6 L332.1,61.6 L331.8,62.6 L331.5,63.8 L331.2,65 L330.8,66.3 L330.5,67.7 L330.1,69.2 L329.6,70.9 L329.2,72.6 L328.7,74.3 L328.2,75.9 L327.7,77.5 L327.2,79.2 L326.7,80.8 L326.2,82.3 L325.6,83.6 L325.1,84.7 L324.6,85.7 L324.1,86.5 L323.6,87.4 L323.2,88.3 L322.7,89.2 L322.2,90.1 L321.7,90.8 L321.2,91.5 L320.5,92.2 L319.8,92.9 L319.1,93.6 L318.3,94.2 L317.5,94.7 L316.9,94.8 L316.5,94.5 L316.2,94.3 L315.8,94.3 L315.3,94.4 L314.8,94.5 Z" fill="#3b3bff" opacity="0.12" filter="url(#b2)"/>
<path d="M316.7,101 L317.1,100.9 L317.7,100.7 L318.5,100.4 L319.4,99.8 L320.3,99 L321,98.1 L321.7,97.1 L322.4,96.1 L323,95.1 L323.5,94.1 L324,93.1 L324.4,92.2 L324.8,91.2 L325.1,90.3 L325.5,89.4 L325.9,88.5 L326.3,87.5 L326.7,86.6 L327.1,85.5 L327.5,84.2 L327.8,82.8 L328.2,81.2 L328.7,79.6 L329.1,77.9 L329.5,76.2 L329.9,74.6 L330.3,72.8 L330.6,71.1 L331,69.5 L331.4,67.9 L331.7,66.5 L332,65.2 L332.3,64 L332.5,62.8 L332.8,61.8 L333.1,60.8 L333.3,60 L333.6,59.2 L333.8,58.5 L334.1,57.9 L334.2,57.4 L334.4,57 L334.5,56.8 L334.5,56.8 L334.4,56.9 L334.5,56.9 L334.8,57.1 L335.1,57.5 L335.6,58 L336.1,58.7 L336.6,59.5 L337.2,60.5 L337.9,61.7 L338.6,62.8 L339.4,63.8 L340.2,64.6 L341,65.3 L341.9,66 L343,66.5 L344.2,66.6 L345.4,66.3 L346.6,65.7 L347.7,64.9 L348.7,63.9 L349.7,63 L350.5,61.9 L351.3,60.6 L351.9,59.4 L352.5,58.1 L353.1,57 L353.5,56 L353.7,55 L353.9,54.2 L354.2,53.4 L354.7,52.7 L355.3,51.9 L356.1,51.1 L357,50.4 L357.9,49.6 L358.8,48.8 L359.7,47.9 L360.6,47 L361.5,46.1 L362.3,45.2 L363,44.6 L363.4,44.1 L363.8,43.8 L364,43.6 L364.2,43.4 L364.3,43.3 L363.7,42.7 L363.6,42.8 L363.4,43 L363.2,43.2 L362.9,43.6 L362.4,44 L361.8,44.7 L360.9,45.5 L360,46.4 L359.1,47.3 L358.2,48.2 L357.3,48.9 L356.4,49.7 L355.5,50.5 L354.6,51.3 L353.9,52.1 L353.4,53 L353.1,53.9 L352.8,54.8 L352.6,55.7 L352.1,56.6 L351.6,57.7 L351,58.9 L350.3,60.1 L349.5,61.2 L348.7,62.1 L347.8,62.9 L346.8,63.6 L345.8,64.2 L344.8,64.6 L344,64.8 L343.4,64.8 L342.7,64.5 L341.9,64.1 L341.2,63.5 L340.4,62.8 L339.7,62 L338.9,61 L338.2,59.9 L337.5,58.9 L336.9,58 L336.4,57.4 L336,56.8 L335.5,56.3 L335.1,56 L334.6,55.7 L334,55.8 L333.6,56.2 L333.5,56.7 L333.3,57.1 L333.1,57.6 L332.9,58.2 L332.6,58.9 L332.4,59.7 L332.1,60.5 L331.8,61.5 L331.5,62.6 L331.2,63.7 L330.9,65 L330.6,66.3 L330.2,67.7 L329.9,69.2 L329.4,70.8 L329,72.5 L328.6,74.2 L328.1,75.9 L327.7,77.5 L327.2,79.2 L326.7,80.8 L326.2,82.3 L325.7,83.7 L325.3,84.8 L324.8,85.8 L324.3,86.6 L323.9,87.5 L323.5,88.4 L323,89.3 L322.6,90.2 L322.1,91 L321.6,91.8 L321.1,92.5 L320.4,93.3 L319.7,94.1 L319,94.8 L318.3,95.4 L317.7,95.8 L317.2,95.8 L316.8,95.8 L316.3,95.9 L315.7,96 L315.3,96.2 Z" fill="#0808ff" filter="url(#b0)"/>
<path d="M326,5.6 L326.3,7.3 L326.7,9.7 L327.2,12.5 L327.7,15.4 L328.1,18.1 L328.5,20.5 L328.9,22.9 L329.3,25.4 L329.7,27.7 L330.1,30.1 L330.5,32.4 L330.9,34.7 L331.3,37 L331.7,39.1 L332.1,41.1 L332.4,43 L332.7,45 L333,46.8 L333.3,48.1 L334,48.9 L334.7,48.1 L335.1,46.7 L335.6,44.8 L336,42.8 L336.4,41.1 L336.8,39.6 L337.2,38.1 L337.7,36.5 L338.1,35 L338.6,33.5 L339,32 L339.5,30.5 L340,29 L340.4,27.5 L340.9,26.1 L341.3,24.9 L341.6,23.9 L342,22.8 L342.4,21.6 L342.9,20 L343.5,17.9 L344.2,15.3 L345,12.5 L345.6,10.1 L346.2,8.2 L346.6,7.1 L346.8,6.5 L347,6.1 L347.2,5.9 L347.3,5.7 L346.7,5.3 L346.5,5.5 L346.4,5.7 L346.1,6.1 L345.8,6.8 L345.4,8 L344.9,9.9 L344.2,12.3 L343.4,15 L342.7,17.6 L342.1,19.8 L341.6,21.3 L341.2,22.6 L340.9,23.6 L340.5,24.7 L340.1,25.9 L339.7,27.3 L339.2,28.7 L338.7,30.2 L338.3,31.8 L337.8,33.3 L337.4,34.8 L336.9,36.3 L336.5,37.8 L336,39.4 L335.6,40.9 L335.2,42.7 L334.8,44.6 L334.4,46.5 L334,47.8 L334,48.1 L334.1,47.9 L333.8,46.7 L333.5,44.9 L333.2,42.9 L332.9,40.9 L332.5,39 L332.1,36.8 L331.7,34.6 L331.3,32.3 L330.9,29.9 L330.5,27.6 L330.1,25.2 L329.7,22.8 L329.3,20.4 L328.9,17.9 L328.4,15.3 L328,12.4 L327.5,9.6 L327.1,7.1 L326.8,5.4 Z" fill="#0808ff" filter="url(#b0)"/>
<path d="M348.8,5.5 L349,7.5 L349.4,10.2 L349.7,13.4 L350.1,16.8 L350.5,19.9 L350.8,22.9 L351.1,25.8 L351.5,28.8 L351.8,31.9 L352.1,35 L352.5,38.6 L352.9,42.5 L353.3,46.3 L353.7,49.6 L353.9,51.9 L354.7,51.9 L354.4,49.5 L354.1,46.2 L353.7,42.4 L353.3,38.5 L352.9,35 L352.6,31.8 L352.2,28.8 L351.9,25.8 L351.6,22.8 L351.3,19.9 L350.9,16.7 L350.5,13.4 L350.2,10.1 L349.8,7.4 L349.6,5.5 Z" fill="#0808ff" filter="url(#b0)"/>
<path d="M352.8,6.2 L353.1,7.5 L353.5,9.3 L354,11.4 L354.5,13.6 L354.9,15.7 L355.4,17.6 L355.8,19.5 L356.2,21.5 L356.6,23.5 L357.2,25.7 L357.8,28.1 L358.6,30.8 L359.3,33.5 L360,35.8 L360.5,37.6 L360.8,38.6 L361.1,39.3 L366.1,40.4 L366.9,39.1 L362.9,40.9 L365.1,35.1 L361.1,36.9 L361.9,35.8 L366.8,36.8 L366.8,36.7 L366.5,35.8 L366,34.1 L365.3,31.8 L364.6,29.1 L363.9,26.5 L363.2,24.1 L362.7,22.1 L362.3,20.1 L361.9,18.2 L361.5,16.3 L361.1,14.3 L360.6,12.2 L360.1,10 L359.6,7.9 L359.2,6.1 L359,4.8 Z" fill="#3b3bff" opacity="0.2" filter="url(#b2)"/>
<path d="M354.7,5.8 L355,7.1 L355.4,8.9 L355.8,11 L356.3,13.2 L356.8,15.3 L357.2,17.2 L357.6,19.1 L358,21.1 L358.5,23.1 L359,25.2 L359.6,27.6 L360.4,30.3 L361.1,33 L361.8,35.3 L362.3,37.1 L362.6,38 L362.8,38.5 L364.8,39 L365.1,38.4 L363.6,39.2 L364.4,36.8 L362.8,37.5 L363.1,37.2 L365.1,37.5 L365,37.3 L364.7,36.3 L364.2,34.6 L363.5,32.3 L362.8,29.7 L362,27 L361.4,24.6 L360.9,22.5 L360.5,20.5 L360,18.6 L359.6,16.7 L359.2,14.7 L358.8,12.7 L358.3,10.4 L357.8,8.3 L357.4,6.5 L357.1,5.2 Z" fill="#0808ff" filter="url(#b0)"/>
<path d="M340.3,6.2 L340.5,7.2 L340.8,8.7 L341.2,10.4 L341.6,12.1 L341.9,13.7 L342.3,15.2 L342.6,17 L342.9,18.8 L343.4,20.5 L346,22.9 L349.8,21.1 L350.5,19.5 L351,17.9 L351.4,16.4 L351.9,15.2 L352.4,14.1 L353,12.8 L353.7,11.6 L354.3,10.4 L354.8,9.5 L355.1,8.8 L355.4,8.3 L355.7,7.8 L355.9,7.5 L356.1,7.2 L350.9,3.8 L350.7,4.1 L350.4,4.5 L350.1,5 L349.7,5.7 L349.2,6.5 L348.7,7.5 L348.1,8.7 L347.4,10 L346.8,11.4 L346.1,12.8 L345.5,14.4 L345,16.1 L344.6,17.4 L344.4,18 L347.4,16.9 L349.2,18.2 L349,17.4 L348.7,15.8 L348.4,14 L348.1,12.3 L347.7,10.7 L347.3,9 L346.9,7.3 L346.6,5.8 L346.3,4.8 Z" fill="#3b3bff" opacity="0.2" filter="url(#b2)"/>
<path d="M342.1,5.8 L342.3,6.8 L342.6,8.3 L343,10 L343.4,11.7 L343.8,13.3 L344.1,14.9 L344.4,16.6 L344.8,18.4 L345.2,19.8 L346.4,21.1 L348.2,20.2 L348.7,18.9 L349.2,17.3 L349.7,15.8 L350.2,14.5 L350.7,13.3 L351.3,12 L352,10.7 L352.6,9.6 L353.1,8.6 L353.5,7.9 L353.8,7.3 L354.1,6.8 L354.4,6.5 L354.6,6.2 L352.4,4.8 L352.3,5.1 L352,5.5 L351.7,6 L351.3,6.6 L350.9,7.4 L350.4,8.4 L349.8,9.6 L349.1,10.9 L348.5,12.2 L347.8,13.5 L347.3,15 L346.8,16.6 L346.4,18.1 L346,18.9 L347,18.7 L347.5,18.9 L347.2,17.8 L346.9,16.2 L346.6,14.4 L346.2,12.7 L345.9,11.1 L345.5,9.4 L345.1,7.7 L344.8,6.3 L344.5,5.2 Z" fill="#0808ff" filter="url(#b0)"/>
<path d="M353.8,6.4 L354.2,7.9 L354.9,10.1 L355.6,12.7 L356.3,15.3 L357,17.8 L357.6,20.1 L358.1,22.7 L358.7,25.2 L359.2,27.4 L359.7,29.2 L360.2,30.6 L361.1,31.9 L362.6,32.8 L363,32.9 L362.6,32.8 L365.4,27.2 L364.7,26.9 L364.7,27 L365.7,27.6 L365.9,28 L365.7,27.4 L365.3,25.9 L364.8,23.8 L364.2,21.3 L363.6,18.7 L363,16.2 L362.4,13.7 L361.6,11 L360.9,8.4 L360.2,6.2 L359.8,4.6 Z" fill="#3b3bff" opacity="0.2" filter="url(#b2)"/>
<path d="M355.6,5.8 L356,7.4 L356.7,9.6 L357.4,12.2 L358.1,14.9 L358.8,17.3 L359.4,19.7 L360,22.3 L360.5,24.8 L361,27 L361.5,28.7 L361.9,29.8 L362.5,30.6 L363.2,31.1 L363.5,31.1 L363.4,31.1 L364.6,28.9 L364.2,28.7 L364.1,28.7 L364.3,28.9 L364.2,28.7 L363.9,27.9 L363.5,26.4 L363,24.2 L362.4,21.7 L361.8,19.1 L361.2,16.7 L360.5,14.2 L359.8,11.5 L359.1,8.9 L358.4,6.7 L358,5.2 Z" fill="#0808ff" filter="url(#b0)"/>
<line x1="209.2" y1="45.6" x2="364" y2="45.6" stroke="#9a9a9a" stroke-width="0.85" stroke-dasharray="2.6,1.8"/>
<path d="M209.2,114.1 C209.7,113.3 211,111.2 212.2,109.4 C213.3,107.6 214.6,106.1 216.1,103 C217.6,99.9 219.6,95 220.9,91 C222.2,87 223.2,82.8 224.1,79.1 C225,75.4 225.6,71.2 226.2,69 C226.8,66.8 227.3,66.5 227.5,66" fill="none" stroke="#111" stroke-width="1.1" stroke-linejoin="round"/>
<path d="M227.5,66 C227.9,65.8 229.2,65.1 230,64.5 C230.8,63.9 231.6,63.4 232.3,62.6 C233.1,61.9 233.9,61 234.5,60 C235.1,59 235.6,58.1 236.1,56.6 C236.6,55.1 236.9,53.1 237.5,50.9 C238.1,48.7 239.1,46.3 239.8,43.5 C240.5,40.7 241,36.5 241.5,34 C242,31.5 242,31.1 242.6,28.3 C243.2,25.5 244.2,20.8 245,17 C245.8,13.2 247.1,7.4 247.5,5.5" fill="none" stroke="#111" stroke-width="1.1" stroke-linejoin="round"/>
<path d="M231,5.5 C231.1,6.6 231.3,9.6 231.6,12 C231.8,14.4 232.1,17 232.5,20 C232.9,23 233.3,26.7 233.8,30 C234.3,33.3 234.8,36.5 235.4,40 C236,43.5 236.8,47.3 237.5,51 C238.2,54.7 238.9,58.8 239.5,62 C240.1,65.2 240.5,66.5 241.2,70 C241.9,73.5 242.9,78.9 243.9,83.1 C244.9,87.2 245.9,91.2 247.2,94.9 C248.5,98.6 250.5,102.7 251.7,105.4 C252.9,108.1 253.5,109.2 254.5,111 C255.5,112.8 256.8,115.4 257.7,115.9 C258.6,116.4 259.2,114.9 260,114 C260.8,113.1 261.3,112.4 262.2,110.7 C263.1,109 264.6,106 265.5,104.1 C266.4,102.2 267.2,100.3 267.5,99.5" fill="none" stroke="#111" stroke-width="1.1" stroke-linejoin="round"/>
<path d="M258,53.6 C258.2,52.9 258.9,51.9 259.4,49.3 C259.9,46.7 260.2,42.3 260.8,38.1 C261.4,33.9 262.3,28 262.9,24 C263.5,20 263.9,17.1 264.5,14 C265.1,10.9 266.1,6.9 266.4,5.5" fill="none" stroke="#111" stroke-width="1.1" stroke-linejoin="round"/>
<path d="M238.3,5.5 C238.7,7.4 239.8,13.2 240.5,17 C241.2,20.8 241.8,25.1 242.6,28.3 C243.3,31.5 244.2,33.7 245,36 C245.8,38.3 246.7,40.4 247.5,42.3 C248.3,44.2 249.2,45.9 250.1,47.5 C251,49.1 252.1,50.6 253.1,52 C254.1,53.4 255.2,54.9 256,55.8 C256.8,56.7 257.7,57.2 258,57.5" fill="none" stroke="#111" stroke-width="1.1" stroke-linejoin="round"/>
<path d="M238.8,5.5 C239.2,7.4 240.3,13.2 241,17 C241.7,20.8 242.1,24.8 242.8,28.3 C243.6,31.8 244.6,35.2 245.5,38 C246.4,40.8 247.2,42.9 248,45 C248.8,47.1 249.6,48.7 250.5,50.5 C251.4,52.3 252.6,54.2 253.5,55.8 C254.4,57.3 255.2,58.8 256,59.8 C256.8,60.8 257.4,60.3 258,62 C258.6,63.7 258.8,66 259.6,70 C260.4,74 261.9,81.5 262.9,85.7 C263.9,89.9 264.7,92.6 265.5,94.9 C266.3,97.2 267.2,98.7 267.5,99.5" fill="none" stroke="#111" stroke-width="1.1" stroke-linejoin="round"/>
<path d="M209.2,56 C209.7,55.8 211,55.2 212,54.5 C213,53.8 214.4,52.8 215.4,51.5 C216.4,50.2 217.1,48.5 218,46.5 C218.9,44.5 219.8,42.1 220.7,39.5 C221.6,36.9 222.6,33.9 223.7,30.7 C224.8,27.5 225.9,23.6 227.2,20.3 C228.5,17 230.3,13.3 231.5,10.8 C232.7,8.3 233.7,6.4 234.1,5.5" fill="none" stroke="#111" stroke-width="1.1" stroke-linejoin="round"/>
<path d="M209.2,61.3 C209.7,61 211,60.6 212,59.8 C213,58.9 214.4,58 215.4,56.2 C216.4,54.4 217.1,51.5 218,49 C218.9,46.5 219.7,40.7 220.7,41 C221.7,41.3 223,48 223.8,51 C224.6,54 224.9,56.5 225.5,59 C226.1,61.5 227.2,64.8 227.5,66" fill="none" stroke="#111" stroke-width="1.1" stroke-linejoin="round"/>
<path d="M217.7,5.5 C218,7.4 218.8,13.1 219.5,17 C220.2,20.9 221,27.8 221.6,29 C222.2,30.2 222.7,25.9 223.3,24.5 C223.9,23.1 224.3,22.4 225,20.3 C225.7,18.2 226.6,14.2 227.2,11.7 C227.8,9.2 228.3,6.5 228.5,5.5" fill="none" stroke="#111" stroke-width="1.1" stroke-linejoin="round"/>
<path d="M226,5.5 C226.3,7.8 226.8,18.2 227.6,19.5 C228.4,20.8 229.8,15.3 231,13 C232.2,10.7 234.3,6.8 235,5.5" fill="none" stroke="#111" stroke-width="1.1" stroke-linejoin="round"/>
<path d="M239,5.5 C239.3,6.6 240.3,10 241,12 C241.7,14 242.4,17.7 243.2,17.7 C243.9,17.7 244.8,14 245.5,12 C246.2,10 246.8,6.6 247.1,5.5" fill="none" stroke="#111" stroke-width="1.1" stroke-linejoin="round"/>
<path d="M277.3,5.5 C277.7,7.1 278.8,11.8 279.5,15 C280.2,18.2 280.7,21.5 281.3,25 C281.9,28.5 282.5,32.7 283,36 C283.5,39.3 283.9,42.3 284.4,44.6 C284.9,46.9 285.4,49.5 286,50 C286.6,50.5 287.4,48.3 288,47.5 C288.6,46.7 289.2,46.2 289.9,45.4 C290.6,44.6 291.2,43.5 292,42.5 C292.8,41.5 293.7,40.5 294.6,39.1 C295.6,37.8 296.9,35.9 297.7,34.4 C298.5,32.9 299,31.6 299.5,30 C300,28.4 300.4,27.5 300.9,25 C301.4,22.5 302,18.2 302.5,15 C303,11.8 303.8,7.1 304,5.5" fill="none" stroke="#111" stroke-width="1.1" stroke-linejoin="round"/>
<path d="M267.5,99.5 C268.4,98.5 270.9,96.1 272.7,93.6 C274.4,91.1 276.6,87.7 278,84.4 C279.4,81.1 280.5,77.3 281.3,73.9 C282.1,70.5 282.5,66.7 283,64 C283.5,61.4 284.1,59.3 284.5,58 C284.9,56.7 284.7,57.2 285.5,56.3 C286.3,55.4 287.9,53.7 289.1,52.4 C290.4,51.1 291.9,49.8 293,48.5 C294.1,47.2 294.6,44.2 295.4,44.5 C296.2,44.8 297,47.4 297.7,50 C298.4,52.6 299.1,56.5 299.8,60 C300.5,63.5 301.3,67.5 302,71 C302.7,74.5 303.4,78.4 304.1,81.1 C304.8,83.8 305.3,85.1 306,87 C306.7,88.9 307.6,90.8 308.3,92.3 C309.1,93.8 309.8,94.9 310.5,96 C311.2,97.1 311.6,97.9 312.5,98.7 C313.4,99.5 315.4,100.5 316,100.8" fill="none" stroke="#111" stroke-width="1.1" stroke-linejoin="round"/>
<path d="M291.5,5.5 C291.8,7.6 292.9,14 293.5,18 C294.1,22 294.6,29.4 295.4,29.7 C296.2,30 297.3,24 298.5,20 C299.7,16 301.8,7.9 302.4,5.5" fill="none" stroke="#111" stroke-width="1.1" stroke-linejoin="round"/>
<path d="M316,100.8 C316.5,100.6 317.9,100.4 319,99.5 C320.1,98.6 321.4,96.7 322.3,95.2 C323.2,93.7 323.8,92.2 324.5,90.5 C325.2,88.8 325.9,87.5 326.6,85.3 C327.3,83 328.1,79.8 328.8,77 C329.5,74.2 330.2,70.9 330.8,68.4 C331.4,65.9 331.8,63.7 332.3,62 C332.8,60.3 333.2,58.9 333.6,58 C334,57.1 334,56.4 334.5,56.5 C335,56.6 335.6,57.4 336.5,58.6 C337.4,59.8 338.6,62.4 339.9,63.7 C341.2,65 342.6,66.3 344.1,66.2 C345.7,66.1 347.8,64.4 349.2,62.9 C350.6,61.4 351.8,58.7 352.6,57 C353.5,55.3 353.3,53.9 354.3,52.5 C355.3,51.1 357.1,49.9 358.5,48.5 C359.9,47.1 361.8,45.2 362.7,44.3 C363.6,43.4 363.8,43.2 364,43" fill="none" stroke="#111" stroke-width="1.1" stroke-linejoin="round"/>
<path d="M326.4,5.5 C326.8,7.6 327.8,13.9 328.5,18 C329.2,22.1 329.8,26.2 330.5,30 C331.2,33.8 331.9,37.9 332.5,41 C333.1,44.1 333.4,48.5 334,48.5 C334.6,48.5 335.3,43.5 336,41 C336.7,38.5 337.4,35.9 338.2,33.4 C338.9,30.9 339.8,28.2 340.5,26 C341.2,23.8 341.6,22.9 342.5,19.9 C343.4,16.9 345.1,10.5 345.8,8.1 C346.6,5.7 346.8,5.9 347,5.5" fill="none" stroke="#111" stroke-width="1.1" stroke-linejoin="round"/>
<path d="M349.2,5.5 C349.5,7.9 350.3,15 350.9,19.9 C351.4,24.8 351.9,29.7 352.5,35 C353.1,40.3 354,49.1 354.3,51.9" fill="none" stroke="#111" stroke-width="1.1" stroke-linejoin="round"/>
<path d="M355.9,5.5 C356.2,7.1 357.3,11.8 358,15 C358.7,18.2 359.3,21.3 360.2,24.9 C361.1,28.5 362.9,34.5 363.5,36.7 C364.1,38.9 363.9,37.8 364,38" fill="none" stroke="#111" stroke-width="1.1" stroke-linejoin="round"/>
<path d="M356.8,5.5 C357.3,7.4 359,13.2 360,17 C361,20.8 362,26.1 362.7,28.3 C363.4,30.5 363.8,29.7 364,30" fill="none" stroke="#111" stroke-width="1.1" stroke-linejoin="round"/>
<circle cx="210.8" cy="105.1" r="0.9" fill="#f00"/>
<circle cx="214" cy="100.9" r="0.9" fill="#f00"/>
<circle cx="217.2" cy="95.6" r="0.9" fill="#f00"/>
<circle cx="220.4" cy="88.6" r="0.9" fill="#f00"/>
<circle cx="223.6" cy="78.6" r="0.9" fill="#f00"/>
<circle cx="226.8" cy="66" r="0.9" fill="#f00"/>
<circle cx="229.1" cy="65.1" r="0.9" fill="#f00"/>
<circle cx="232.3" cy="62.6" r="0.9" fill="#f00"/>
<circle cx="235.5" cy="58.2" r="0.9" fill="#f00"/>
<circle cx="238.7" cy="47.2" r="0.9" fill="#f00"/>
<circle cx="241.9" cy="31.8" r="0.9" fill="#f00"/>
<circle cx="245.1" cy="16.5" r="0.9" fill="#f00"/>
<circle cx="232.5" cy="20" r="0.9" fill="#f00"/>
<circle cx="235.5" cy="40.6" r="0.9" fill="#f00"/>
<circle cx="238.5" cy="56" r="0.9" fill="#f00"/>
<circle cx="241.5" cy="69.6" r="0.9" fill="#f00"/>
<circle cx="244.5" cy="81.9" r="0.9" fill="#f00"/>
<circle cx="247.5" cy="90.7" r="0.9" fill="#f00"/>
<circle cx="250.5" cy="96.6" r="0.9" fill="#f00"/>
<circle cx="253.5" cy="101.9" r="0.9" fill="#f00"/>
<circle cx="256.5" cy="106.3" r="0.9" fill="#f00"/>
<circle cx="259.5" cy="106.5" r="0.9" fill="#f00"/>
<circle cx="262.5" cy="102.7" r="0.9" fill="#f00"/>
<circle cx="265.5" cy="97.7" r="0.9" fill="#f00"/>
<circle cx="259.5" cy="48.7" r="0.9" fill="#f00"/>
<circle cx="262.5" cy="26.6" r="0.9" fill="#f00"/>
<circle cx="265.5" cy="9.3" r="0.9" fill="#f00"/>
<circle cx="239.9" cy="13.8" r="0.9" fill="#f00"/>
<circle cx="243.1" cy="30.2" r="0.9" fill="#f00"/>
<circle cx="246.3" cy="39.5" r="0.9" fill="#f00"/>
<circle cx="249.5" cy="46.4" r="0.9" fill="#f00"/>
<circle cx="252.7" cy="51.4" r="0.9" fill="#f00"/>
<circle cx="255.9" cy="55.7" r="0.9" fill="#f00"/>
<circle cx="240.4" cy="13.7" r="0.9" fill="#f00"/>
<circle cx="243.6" cy="31.6" r="0.9" fill="#f00"/>
<circle cx="246.8" cy="41.9" r="0.9" fill="#f00"/>
<circle cx="250" cy="49.5" r="0.9" fill="#f00"/>
<circle cx="253.2" cy="55.3" r="0.9" fill="#f00"/>
<circle cx="256.4" cy="60.2" r="0.9" fill="#f00"/>
<circle cx="259.6" cy="70" r="0.9" fill="#f00"/>
<circle cx="262.8" cy="85.3" r="0.9" fill="#f00"/>
<circle cx="266" cy="96.3" r="0.9" fill="#f00"/>
<circle cx="210.8" cy="55.2" r="0.9" fill="#f00"/>
<circle cx="214" cy="53" r="0.9" fill="#f00"/>
<circle cx="217.2" cy="48.3" r="0.9" fill="#f00"/>
<circle cx="220.4" cy="40.3" r="0.9" fill="#f00"/>
<circle cx="223.6" cy="31" r="0.9" fill="#f00"/>
<circle cx="226.8" cy="21.4" r="0.9" fill="#f00"/>
<circle cx="230" cy="14" r="0.9" fill="#f00"/>
<circle cx="233.2" cy="7.3" r="0.9" fill="#f00"/>
<circle cx="210.8" cy="60.6" r="0.9" fill="#f00"/>
<circle cx="214" cy="58.1" r="0.9" fill="#f00"/>
<circle cx="217.2" cy="51.5" r="0.9" fill="#f00"/>
<circle cx="220.4" cy="41.1" r="0.9" fill="#f00"/>
<circle cx="223.6" cy="50.2" r="0.9" fill="#f00"/>
<circle cx="226.8" cy="63.7" r="0.9" fill="#f00"/>
<circle cx="219.2" cy="15.2" r="0.9" fill="#f00"/>
<circle cx="222.2" cy="28.7" r="0.9" fill="#f00"/>
<circle cx="225.2" cy="19.6" r="0.9" fill="#f00"/>
<circle cx="228.2" cy="7" r="0.9" fill="#f00"/>
<circle cx="227.2" cy="18.4" r="0.9" fill="#f00"/>
<circle cx="229.8" cy="16" r="0.9" fill="#f00"/>
<circle cx="232.2" cy="10.6" r="0.9" fill="#f00"/>
<circle cx="234.8" cy="6" r="0.9" fill="#f00"/>
<circle cx="240.5" cy="10.5" r="0.9" fill="#f00"/>
<circle cx="243.5" cy="17.5" r="0.9" fill="#f00"/>
<circle cx="246.5" cy="8.1" r="0.9" fill="#f00"/>
<circle cx="279.1" cy="12.9" r="0.9" fill="#f00"/>
<circle cx="282.6" cy="33.1" r="0.9" fill="#f00"/>
<circle cx="286.1" cy="50" r="0.9" fill="#f00"/>
<circle cx="289.6" cy="45.8" r="0.9" fill="#f00"/>
<circle cx="293.1" cy="41.1" r="0.9" fill="#f00"/>
<circle cx="296.6" cy="36.3" r="0.9" fill="#f00"/>
<circle cx="300.1" cy="28.4" r="0.9" fill="#f00"/>
<circle cx="303.6" cy="8.4" r="0.9" fill="#f00"/>
<circle cx="269.1" cy="93.7" r="0.9" fill="#f00"/>
<circle cx="272.4" cy="90.3" r="0.9" fill="#f00"/>
<circle cx="275.8" cy="85.7" r="0.9" fill="#f00"/>
<circle cx="279.1" cy="79.4" r="0.9" fill="#f00"/>
<circle cx="282.4" cy="66.9" r="0.9" fill="#f00"/>
<circle cx="285.6" cy="55.8" r="0.9" fill="#f00"/>
<circle cx="288.9" cy="52.4" r="0.9" fill="#f00"/>
<circle cx="292.2" cy="49.3" r="0.9" fill="#f00"/>
<circle cx="295.6" cy="44.6" r="0.9" fill="#f00"/>
<circle cx="298.9" cy="54.8" r="0.9" fill="#f00"/>
<circle cx="302.1" cy="70.3" r="0.9" fill="#f00"/>
<circle cx="305.4" cy="82.8" r="0.9" fill="#f00"/>
<circle cx="308.8" cy="89.6" r="0.9" fill="#f00"/>
<circle cx="312.1" cy="94.1" r="0.9" fill="#f00"/>
<circle cx="315.4" cy="96.1" r="0.9" fill="#f00"/>
<circle cx="293" cy="14.9" r="0.9" fill="#f00"/>
<circle cx="296" cy="29.1" r="0.9" fill="#f00"/>
<circle cx="299" cy="18.2" r="0.9" fill="#f00"/>
<circle cx="302" cy="7" r="0.9" fill="#f00"/>
<circle cx="317.6" cy="95.9" r="0.9" fill="#f00"/>
<circle cx="320.9" cy="93.2" r="0.9" fill="#f00"/>
<circle cx="324.2" cy="87.8" r="0.9" fill="#f00"/>
<circle cx="327.6" cy="79.6" r="0.9" fill="#f00"/>
<circle cx="330.9" cy="67" r="0.9" fill="#f00"/>
<circle cx="334.1" cy="56.2" r="0.9" fill="#f00"/>
<circle cx="337.4" cy="59.5" r="0.9" fill="#f00"/>
<circle cx="340.8" cy="63.6" r="0.9" fill="#f00"/>
<circle cx="344.1" cy="65.2" r="0.9" fill="#f00"/>
<circle cx="347.4" cy="63.7" r="0.9" fill="#f00"/>
<circle cx="350.6" cy="60.2" r="0.9" fill="#f00"/>
<circle cx="353.9" cy="52.9" r="0.9" fill="#f00"/>
<circle cx="357.2" cy="49.5" r="0.9" fill="#f00"/>
<circle cx="360.6" cy="46.4" r="0.9" fill="#f00"/>
<circle cx="363.9" cy="43.2" r="0.9" fill="#f00"/>
<circle cx="328.1" cy="15.9" r="0.9" fill="#f00"/>
<circle cx="331.6" cy="36.4" r="0.9" fill="#f00"/>
<circle cx="335.1" cy="44.8" r="0.9" fill="#f00"/>
<circle cx="338.6" cy="31.9" r="0.9" fill="#f00"/>
<circle cx="342.1" cy="21.1" r="0.9" fill="#f00"/>
<circle cx="345.6" cy="8.6" r="0.9" fill="#f00"/>
<circle cx="350.7" cy="18.1" r="0.9" fill="#f00"/>
<circle cx="353.7" cy="46.3" r="0.9" fill="#f00"/>
<circle cx="357.4" cy="12.3" r="0.9" fill="#f00"/>
<circle cx="360.4" cy="25.7" r="0.9" fill="#f00"/>
<circle cx="363.4" cy="36.4" r="0.9" fill="#f00"/>
<circle cx="344.8" cy="12.1" r="0.9" fill="#f00"/>
<circle cx="347.8" cy="17.7" r="0.9" fill="#f00"/>
<circle cx="350.8" cy="10.3" r="0.9" fill="#f00"/>
<circle cx="358.3" cy="10.8" r="0.9" fill="#f00"/>
<circle cx="361.3" cy="22.5" r="0.9" fill="#f00"/>
<path d="M254.8,103.9 L261.6,110.7 M254.8,110.7 L261.6,103.9" stroke="#f7a51c" stroke-width="1.9" stroke-linecap="butt"/>
<path d="M254.8,111.4 L261.6,118.2 M254.8,118.2 L261.6,111.4" stroke="#40e0d0" stroke-width="1.9" stroke-linecap="butt"/>
<path d="M254.4,49.5 L261.2,56.3 M254.4,56.3 L261.2,49.5" stroke="#f7a51c" stroke-width="1.9" stroke-linecap="butt"/>
<path d="M254.4,54.4 L261.2,61.2 M254.4,61.2 L261.2,54.4" stroke="#40e0d0" stroke-width="1.9" stroke-linecap="butt"/>
<path d="M254.4,59.6 L261.2,66.4 M254.4,66.4 L261.2,59.6" stroke="#40e0d0" stroke-width="1.9" stroke-linecap="butt"/>
</g>
<rect x="209.2" y="5.5" width="154.8" height="120.4" fill="none" stroke="#222" stroke-width="0.9"/>
<line x1="206.6" y1="125.9" x2="209.2" y2="125.9" stroke="#222" stroke-width="0.9"/>
<text x="204.6" y="128.4" font-family="'DejaVu Sans','Liberation Sans',sans-serif" font-size="7.2" fill="#000" stroke="#000" stroke-width="0.2" text-anchor="end">−8</text>
<line x1="206.6" y1="105.8" x2="209.2" y2="105.8" stroke="#222" stroke-width="0.9"/>
<text x="204.6" y="108.3" font-family="'DejaVu Sans','Liberation Sans',sans-serif" font-size="7.2" fill="#000" stroke="#000" stroke-width="0.2" text-anchor="end">−6</text>
<line x1="206.6" y1="85.8" x2="209.2" y2="85.8" stroke="#222" stroke-width="0.9"/>
<text x="204.6" y="88.3" font-family="'DejaVu Sans','Liberation Sans',sans-serif" font-size="7.2" fill="#000" stroke="#000" stroke-width="0.2" text-anchor="end">−4</text>
<line x1="206.6" y1="65.7" x2="209.2" y2="65.7" stroke="#222" stroke-width="0.9"/>
<text x="204.6" y="68.2" font-family="'DejaVu Sans','Liberation Sans',sans-serif" font-size="7.2" fill="#000" stroke="#000" stroke-width="0.2" text-anchor="end">−2</text>
<line x1="206.6" y1="45.6" x2="209.2" y2="45.6" stroke="#222" stroke-width="0.9"/>
<text x="204.6" y="48.1" font-family="'DejaVu Sans','Liberation Sans',sans-serif" font-size="7.2" fill="#000" stroke="#000" stroke-width="0.2" text-anchor="end">0</text>
<line x1="206.6" y1="25.6" x2="209.2" y2="25.6" stroke="#222" stroke-width="0.9"/>
<text x="204.6" y="28.1" font-family="'DejaVu Sans','Liberation Sans',sans-serif" font-size="7.2" fill="#000" stroke="#000" stroke-width="0.2" text-anchor="end">2</text>
<line x1="206.6" y1="5.5" x2="209.2" y2="5.5" stroke="#222" stroke-width="0.9"/>
<text x="204.6" y="8" font-family="'DejaVu Sans','Liberation Sans',sans-serif" font-size="7.2" fill="#000" stroke="#000" stroke-width="0.2" text-anchor="end">4</text>
<line x1="209.2" y1="125.9" x2="209.2" y2="128.5" stroke="#222" stroke-width="0.9"/>
<text x="209.2" y="138" font-family="'DejaVu Sans','Liberation Sans',sans-serif" font-size="9.7" fill="#000" stroke="#000" stroke-width="0.15" text-anchor="middle">Γ</text>
<line x1="227.5" y1="125.9" x2="227.5" y2="128.5" stroke="#222" stroke-width="0.9"/>
<text x="227.5" y="138" font-family="'DejaVu Sans','Liberation Sans',sans-serif" font-size="9.7" fill="#000" stroke="#000" stroke-width="0.15" text-anchor="middle">M</text>
<line x1="237.1" y1="125.9" x2="237.1" y2="128.5" stroke="#222" stroke-width="0.9"/>
<text x="237.1" y="138" font-family="'DejaVu Sans','Liberation Sans',sans-serif" font-size="9.7" fill="#000" stroke="#000" stroke-width="0.15" text-anchor="middle">K</text>
<line x1="258" y1="125.9" x2="258" y2="128.5" stroke="#222" stroke-width="0.9"/>
<text x="258" y="138" font-family="'DejaVu Sans','Liberation Sans',sans-serif" font-size="9.7" fill="#000" stroke="#000" stroke-width="0.15" text-anchor="middle">Γ</text>
<line x1="267.2" y1="125.9" x2="267.2" y2="128.5" stroke="#222" stroke-width="0.9"/>
<text x="267.2" y="138" font-family="'DejaVu Sans','Liberation Sans',sans-serif" font-size="9.7" fill="#000" stroke="#000" stroke-width="0.15" text-anchor="middle">A</text>
<line x1="284.9" y1="125.9" x2="284.9" y2="128.5" stroke="#222" stroke-width="0.9"/>
<text x="284.9" y="138" font-family="'DejaVu Sans','Liberation Sans',sans-serif" font-size="9.7" fill="#000" stroke="#000" stroke-width="0.15" text-anchor="middle">L</text>
<line x1="295.5" y1="125.9" x2="295.5" y2="128.5" stroke="#222" stroke-width="0.9"/>
<text x="295.5" y="138" font-family="'DejaVu Sans','Liberation Sans',sans-serif" font-size="9.7" fill="#000" stroke="#000" stroke-width="0.15" text-anchor="middle">H</text>
<line x1="316" y1="125.9" x2="316" y2="128.5" stroke="#222" stroke-width="0.9"/>
<text x="316" y="138" font-family="'DejaVu Sans','Liberation Sans',sans-serif" font-size="9.7" fill="#000" stroke="#000" stroke-width="0.15" text-anchor="middle">A</text>
<line x1="334" y1="125.9" x2="334" y2="128.5" stroke="#222" stroke-width="0.9"/>
<text x="334" y="138" font-family="'DejaVu Sans','Liberation Sans',sans-serif" font-size="9.7" fill="#000" stroke="#000" stroke-width="0.15" text-anchor="middle">L</text>
<line x1="344.6" y1="125.9" x2="344.6" y2="128.5" stroke="#222" stroke-width="0.9"/>
<text x="344.6" y="138" font-family="'DejaVu Sans','Liberation Sans',sans-serif" font-size="9.7" fill="#000" stroke="#000" stroke-width="0.15" text-anchor="middle">M</text>
<line x1="354.5" y1="125.9" x2="354.5" y2="128.5" stroke="#222" stroke-width="0.9"/>
<text x="354.5" y="138" font-family="'DejaVu Sans','Liberation Sans',sans-serif" font-size="9.7" fill="#000" stroke="#000" stroke-width="0.15" text-anchor="middle">K</text>
<line x1="364" y1="125.9" x2="364" y2="128.5" stroke="#222" stroke-width="0.9"/>
<text x="364" y="138" font-family="'DejaVu Sans','Liberation Sans',sans-serif" font-size="9.7" fill="#000" stroke="#000" stroke-width="0.15" text-anchor="middle">H</text>
<text x="361.9" y="121.1" font-family="'DejaVu Sans','Liberation Sans',sans-serif" font-size="11.1" fill="#000" stroke="#000" stroke-width="0.1" text-anchor="end">hcp Mg</text>
<g clip-path="url(#c2)">
<ellipse cx="392" cy="106" rx="7" ry="9" fill="#3a3aff" opacity="0.22" filter="url(#b3)"/>
<ellipse cx="457" cy="107" rx="8" ry="10" fill="#3a3aff" opacity="0.25" filter="url(#b3)"/>
<path d="M404,5.5 L445,5.5 L437,30 L420,22 L410,15 Z" fill="#3a3aff" opacity="0.35" filter="url(#b2)"/>
<path d="M470,5.5 L544,5.5 L544,30 L530,26 L505,26 L482,26 Z" fill="#3a3aff" opacity="0.4" filter="url(#b2)"/>
<path d="M474,8 L496,8 L491,20 L485,24 L479,20 Z" fill="#3a3aff" opacity="0.3" filter="url(#b2)"/>
<path d="M514,8 L534,8 L529,20 L523,24 L518,20 Z" fill="#3a3aff" opacity="0.3" filter="url(#b2)"/>
<path d="M498,8 L512,8 L510,22 L505,24 L500,22 Z" fill="#3a3aff" opacity="0.25" filter="url(#b2)"/>
<path d="M410,16 L424,16 L424,26 L412,26 Z" fill="#3a3aff" opacity="0.6" filter="url(#b2)"/>
<path d="M404,5.5 L445,5.5 L440,25 L430,28 L420,20 L412,15 Z" fill="#3a3aff" opacity="0.15" filter="url(#b3)"/>
<line x1="389.5" y1="5.5" x2="389.5" y2="125.9" stroke="#ececec" stroke-width="0.5"/>
<line x1="417.4" y1="5.5" x2="417.4" y2="125.9" stroke="#ececec" stroke-width="0.5"/>
<line x1="437.1" y1="5.5" x2="437.1" y2="125.9" stroke="#ececec" stroke-width="0.5"/>
<line x1="456.8" y1="5.5" x2="456.8" y2="125.9" stroke="#ececec" stroke-width="0.5"/>
<line x1="480.9" y1="5.5" x2="480.9" y2="125.9" stroke="#ececec" stroke-width="0.5"/>
<line x1="505.5" y1="5.5" x2="505.5" y2="125.9" stroke="#ececec" stroke-width="0.5"/>
<line x1="530.1" y1="5.5" x2="530.1" y2="125.9" stroke="#ececec" stroke-width="0.5"/>
<line x1="544" y1="5.5" x2="544" y2="125.9" stroke="#ececec" stroke-width="0.5"/>
<line x1="389.5" y1="125.9" x2="544" y2="125.9" stroke="#ececec" stroke-width="0.5"/>
<line x1="389.5" y1="101.8" x2="544" y2="101.8" stroke="#ececec" stroke-width="0.5"/>
<line x1="389.5" y1="77.7" x2="544" y2="77.7" stroke="#ececec" stroke-width="0.5"/>
<line x1="389.5" y1="53.7" x2="544" y2="53.7" stroke="#ececec" stroke-width="0.5"/>
<line x1="389.5" y1="29.6" x2="544" y2="29.6" stroke="#ececec" stroke-width="0.5"/>
<line x1="389.5" y1="5.5" x2="544" y2="5.5" stroke="#ececec" stroke-width="0.5"/>
<path d="M392.9,100 L393.4,99.4 L394,98.4 L394.8,97.1 L395.5,95.6 L396.2,93.9 L396.9,92.3 L397.6,90.5 L398.4,88.6 L399.1,86.6 L399.7,84.6 L400.3,82.6 L400.8,80.6 L401.4,78.5 L401.9,76.3 L402.4,74.1 L402.8,71.7 L403.3,69.2 L403.8,66.6 L404.2,64.2 L404.7,62.1 L405.1,60.4 L405.5,59 L405.9,57.8 L406.2,56.5 L406.6,55 L407,53.2 L407.4,51.2 L407.7,49.2 L408.1,47.1 L408.5,45 L408.9,42.9 L409.4,40.8 L409.8,38.6 L410.3,36.6 L410.8,34.6 L411.3,32.7 L411.9,30.8 L412.5,29.1 L413.1,27.5 L413.6,26.2 L414,25.2 L414.4,24.5 L414.8,24 L415.1,23.6 L415.5,23.2 L415.8,22.9 L416.2,22.6 L416.5,22.5 L416.9,22.5 L417.4,22.5 L418,22.6 L418.8,22.8 L419.6,23.2 L420.5,23.6 L421.3,24.1 L422.1,24.8 L423,25.6 L423.8,26.5 L424.6,27.5 L425.5,28.3 L426.4,29.1 L427.2,29.9 L428.1,30.6 L428.9,31.2 L429.8,31.8 L430.7,32.2 L431.6,32.5 L432.4,32.8 L433.3,33 L434,33.2 L434.7,33.5 L435.3,33.8 L435.8,34.1 L436.3,34.2 L436.8,33.9 L437.3,33.2 L437.7,32.1 L438.1,30.8 L438.5,29.5 L438.9,28.3 L439.3,27.2 L439.7,26.2 L440.2,25.1 L440.6,24 L441,22.7 L441.4,21.2 L441.8,19.5 L442.3,17.8 L442.7,16 L443.1,14.2 L443.6,12.3 L444,10.3 L444.5,8.4 L444.9,6.7 L445.2,5.5 L445.2,5.5 L444.9,6.7 L444.5,8.4 L444,10.3 L443.6,12.3 L443.1,14.2 L442.7,16 L442.3,17.8 L441.8,19.5 L441.4,21.2 L441,22.7 L440.6,24 L440.2,25.1 L439.7,26.2 L439.3,27.2 L438.9,28.3 L438.5,29.5 L438.1,30.8 L437.7,32.1 L437.3,33.2 L436.8,33.9 L436.3,34.2 L435.8,34.1 L435.3,33.8 L434.7,33.5 L434,33.2 L433.3,33 L432.4,32.8 L431.6,32.5 L430.7,32.2 L429.8,31.8 L428.9,31.2 L428.1,30.6 L427.2,29.9 L426.4,29.1 L425.5,28.3 L424.6,27.5 L423.8,26.5 L423,25.6 L422.1,24.8 L421.3,24.1 L420.5,23.6 L419.6,23.2 L418.8,22.8 L418,22.6 L417.4,22.5 L416.9,22.5 L416.5,22.5 L416.2,22.6 L415.8,22.9 L415.5,23.2 L415.1,23.6 L414.8,24 L414.4,24.5 L414,25.2 L413.6,26.2 L413.1,27.5 L412.5,29.1 L411.9,30.8 L411.3,32.7 L410.8,34.6 L410.3,36.6 L409.8,38.6 L409.4,40.8 L408.9,42.9 L408.5,45 L408.1,47.1 L407.7,49.2 L407.4,51.2 L407,53.2 L406.6,55 L406.2,56.5 L405.7,57.7 L405.3,59 L404.8,60.3 L404.3,62 L403.8,64.1 L403.2,66.5 L402.5,69 L401.8,71.5 L401,73.7 L400.2,75.8 L399.4,77.8 L398.5,79.7 L397.5,81.5 L396.5,83.2 L395.4,84.8 L394.2,86.4 L393.1,87.8 L391.9,89.2 L390.8,90.3 L389.7,91.2 L388.6,92 L387.6,92.7 L386.7,93.5 L386.1,94.1 Z" fill="#3b3bff" opacity="0.12" filter="url(#b2)"/>
<path d="M391.5,98.8 L392,98.2 L392.7,97.3 L393.5,96.1 L394.4,94.7 L395.2,93.3 L396,91.7 L396.8,90 L397.7,88.2 L398.5,86.4 L399.3,84.4 L400,82.5 L400.6,80.5 L401.2,78.5 L401.8,76.3 L402.4,74.1 L403,71.8 L403.5,69.2 L404,66.7 L404.5,64.3 L405,62.1 L405.4,60.5 L405.8,59.1 L406.2,57.9 L406.6,56.6 L407,55.1 L407.4,53.3 L407.7,51.3 L408.1,49.2 L408.5,47.1 L408.9,45.1 L409.3,43 L409.8,40.9 L410.2,38.7 L410.7,36.7 L411.2,34.7 L411.7,32.8 L412.3,31 L412.9,29.2 L413.5,27.6 L414,26.4 L414.4,25.4 L414.8,24.7 L415.1,24.2 L415.4,23.8 L415.8,23.5 L416.1,23.2 L416.4,23 L416.6,22.9 L416.9,22.9 L417.3,22.9 L418,23 L418.7,23.2 L419.5,23.5 L420.3,23.9 L421.1,24.4 L421.8,25.1 L422.7,25.9 L423.5,26.8 L424.4,27.7 L425.2,28.6 L426.1,29.4 L427,30.2 L427.8,30.9 L428.7,31.6 L429.6,32.1 L430.5,32.6 L431.4,32.9 L432.3,33.2 L433.2,33.4 L433.9,33.6 L434.5,33.8 L435.1,34.2 L435.7,34.5 L436.4,34.6 L437.1,34.2 L437.6,33.4 L438.1,32.2 L438.5,31 L438.9,29.6 L439.3,28.4 L439.7,27.4 L440.1,26.3 L440.5,25.3 L441,24.1 L441.4,22.8 L441.8,21.3 L442.2,19.6 L442.6,17.8 L443.1,16.1 L443.5,14.3 L443.9,12.4 L444.4,10.4 L444.9,8.5 L445.3,6.8 L445.6,5.6 L444.8,5.4 L444.5,6.6 L444.1,8.3 L443.7,10.2 L443.2,12.2 L442.7,14.1 L442.3,15.9 L441.9,17.7 L441.5,19.4 L441,21.1 L440.6,22.6 L440.2,23.9 L439.8,25 L439.4,26 L438.9,27.1 L438.5,28.2 L438.1,29.4 L437.7,30.7 L437.3,32 L436.9,33 L436.5,33.6 L436.2,33.8 L435.9,33.7 L435.4,33.5 L434.8,33.1 L434.1,32.8 L433.4,32.6 L432.5,32.4 L431.7,32.2 L430.8,31.9 L430,31.5 L429.2,30.9 L428.3,30.3 L427.5,29.5 L426.6,28.8 L425.8,28 L424.9,27.2 L424.1,26.3 L423.2,25.4 L422.4,24.5 L421.5,23.8 L420.7,23.2 L419.8,22.8 L418.9,22.5 L418.1,22.2 L417.5,22.1 L416.9,22.1 L416.4,22.1 L416,22.3 L415.6,22.6 L415.2,22.9 L414.8,23.3 L414.5,23.7 L414.1,24.3 L413.7,25 L413.2,26 L412.7,27.4 L412.1,28.9 L411.5,30.7 L411,32.6 L410.4,34.5 L409.9,36.5 L409.4,38.5 L409,40.7 L408.5,42.8 L408.1,44.9 L407.7,47 L407.3,49.1 L407,51.1 L406.6,53.1 L406.2,54.9 L405.8,56.4 L405.4,57.6 L405,58.8 L404.5,60.2 L404,61.9 L403.5,64 L402.9,66.4 L402.3,69 L401.7,71.4 L401,73.7 L400.2,75.8 L399.5,77.8 L398.7,79.8 L397.8,81.6 L396.9,83.4 L396,85.1 L394.9,86.7 L393.9,88.3 L392.8,89.7 L391.8,91 L390.8,92.1 L389.8,93 L388.9,93.9 L388.1,94.7 L387.5,95.3 Z" fill="#0808ff" filter="url(#b0)"/>
<path d="M404.5,5.5 L404.8,6.1 L405.2,6.9 L405.6,7.8 L406.1,8.9 L406.6,10 L407.1,11.3 L407.6,12.7 L408.1,14.2 L408.7,15.7 L409.4,17.1 L410.2,18.4 L411,19.7 L411.9,20.9 L412.8,21.9 L413.6,22.7 L414.4,23.2 L415.1,23.4 L415.9,23.4 L416.6,23.4 L417.4,23.6 L418.2,23.9 L418.9,24.1 L419.7,24.4 L420.5,24.9 L421.3,25.5 L422.1,26.4 L423,27.5 L423.8,28.7 L424.7,29.9 L425.5,31.1 L426.3,32.2 L427,33.3 L427.7,34.4 L428.4,35.5 L429.1,36.7 L429.8,38 L430.5,39.3 L431.3,40.7 L431.9,42 L432.6,43.1 L433.2,44 L433.8,44.8 L434.4,45.5 L434.9,46 L435.4,46.6 L435.8,47 L436.1,47.3 L436.3,47.5 L436.6,47.9 L437,48.5 L437.5,49.5 L438,50.7 L438.6,52.1 L439.1,53.5 L439.6,55 L440,56.5 L440.3,58.1 L440.7,59.7 L441,61.3 L441.3,62.7 L441.6,64 L441.9,65 L442.2,66 L442.5,67.3 L443,69 L443.7,71.4 L444.5,74.3 L445.3,77.4 L446.1,80.3 L446.8,82.8 L447.3,84.7 L447.7,86.2 L448.1,87.5 L448.5,88.7 L448.9,90 L449.4,91.3 L449.9,92.6 L450.3,94 L450.6,95.4 L451,96.8 L451.4,98.1 L452,99.5 L452.7,101 L454,102.8 L456.5,104.2 L459.6,103.7 L461.4,102 L462.4,100.4 L463,99.1 L463.5,97.9 L463.9,96.7 L464.2,95.4 L464.6,94.1 L465,92.7 L465.4,91.3 L465.8,89.8 L466.2,88.2 L466.6,86.5 L467.1,84.7 L467.6,82.7 L468.1,80.5 L468.7,78 L469.3,75.4 L469.9,72.9 L470.4,70.7 L470.7,68.8 L471,67.2 L471.2,65.7 L471.4,64.2 L471.7,62.7 L472,61.2 L472.4,59.7 L472.7,58.2 L473.1,56.7 L473.5,55 L474,53.2 L474.4,51.3 L474.9,49.3 L475.4,47.3 L475.9,45.2 L476.3,43 L476.8,40.7 L477.2,38.3 L477.6,36 L478,34 L478.3,32.2 L478.6,30.6 L478.9,29 L479.2,27.6 L479.5,26.3 L479.8,25 L480.2,23.8 L480.5,22.6 L480.8,21.7 L481,21 L481,21 L480.8,21.7 L480.5,22.6 L480.2,23.8 L479.8,25 L479.5,26.3 L479.2,27.6 L478.9,29 L478.6,30.6 L478.3,32.2 L478,34 L477.6,36 L477.2,38.3 L476.8,40.7 L476.3,43 L475.9,45.2 L475.4,47.3 L474.9,49.3 L474.4,51.3 L474,53.2 L473.5,55 L473,56.6 L472.6,58.2 L472.1,59.7 L471.7,61.1 L471.3,62.7 L471,64.2 L470.7,65.6 L470.4,67.1 L470,68.7 L469.4,70.5 L468.7,72.6 L467.8,75 L466.9,77.4 L465.9,79.8 L465,81.9 L464.2,83.7 L463.4,85.3 L462.6,86.8 L461.8,88.2 L461,89.3 L460.3,90.4 L459.5,91.3 L458.7,91.9 L457.9,92.3 L457.1,92.6 L456.4,92.7 L455.8,92.6 L455.5,91.9 L456.1,90.8 L457.9,90.4 L459.2,91.4 L459.2,92.4 L458.6,92.8 L457.8,92.7 L457,92.4 L456.2,92 L455.3,91.3 L454.5,90.3 L453.8,89.2 L453.1,88 L452.4,86.9 L451.7,85.9 L451.1,84.8 L450.3,83.5 L449.4,81.8 L448.4,79.5 L447.2,76.7 L446,73.8 L444.9,71 L444,68.7 L443.3,67 L442.9,65.8 L442.5,64.8 L442.1,63.8 L441.7,62.6 L441.3,61.2 L440.9,59.6 L440.5,58 L440.1,56.5 L439.6,55 L439.1,53.5 L438.6,52.1 L438,50.7 L437.5,49.5 L437,48.5 L436.6,47.9 L436.3,47.5 L436.1,47.3 L435.8,47 L435.4,46.6 L434.9,46 L434.4,45.5 L433.8,44.8 L433.2,44 L432.6,43.1 L431.9,42 L431.3,40.7 L430.5,39.3 L429.8,38 L429.1,36.7 L428.4,35.5 L427.7,34.4 L427,33.3 L426.3,32.2 L425.5,31.1 L424.7,29.9 L423.8,28.7 L423,27.5 L422.1,26.4 L421.3,25.5 L420.5,24.9 L419.7,24.4 L418.9,24.1 L418.2,23.9 L417.4,23.6 L416.6,23.4 L415.9,23.4 L415.1,23.4 L414.4,23.2 L413.6,22.7 L412.8,21.9 L411.9,20.9 L411,19.7 L410.2,18.4 L409.4,17.1 L408.7,15.7 L408.1,14.2 L407.6,12.7 L407.1,11.3 L406.6,10 L406.1,8.9 L405.6,7.8 L405.2,6.9 L404.8,6.1 L404.5,5.5 Z" fill="#3b3bff" opacity="0.12" filter="url(#b2)"/>
<path d="M404.1,5.7 L404.4,6.2 L404.8,7 L405.2,8 L405.7,9 L406.2,10.2 L406.7,11.4 L407.2,12.9 L407.8,14.4 L408.4,15.9 L409,17.3 L409.8,18.6 L410.7,19.9 L411.6,21.1 L412.5,22.2 L413.4,23 L414.2,23.5 L415.1,23.7 L415.9,23.8 L416.6,23.8 L417.3,24 L418,24.2 L418.8,24.5 L419.5,24.8 L420.3,25.2 L421,25.8 L421.8,26.6 L422.7,27.7 L423.5,28.9 L424.4,30.1 L425.2,31.3 L425.9,32.4 L426.7,33.5 L427.4,34.6 L428.1,35.7 L428.8,36.9 L429.5,38.2 L430.2,39.5 L430.9,40.9 L431.6,42.2 L432.3,43.3 L432.9,44.2 L433.5,45 L434.1,45.7 L434.6,46.3 L435.1,46.9 L435.5,47.3 L435.8,47.6 L436.1,47.8 L436.3,48.1 L436.6,48.7 L437.1,49.6 L437.6,50.9 L438.2,52.2 L438.7,53.7 L439.2,55.1 L439.6,56.6 L440,58.2 L440.3,59.8 L440.7,61.3 L441,62.8 L441.3,64 L441.6,65.1 L442,66.1 L442.4,67.3 L442.9,69 L443.6,71.4 L444.5,74.3 L445.4,77.3 L446.3,80.3 L447.1,82.7 L447.7,84.5 L448.2,86 L448.6,87.3 L449.1,88.5 L449.6,89.6 L450.1,90.9 L450.7,92.2 L451.2,93.5 L451.7,94.8 L452.2,96 L452.7,97 L453.3,98.1 L454.1,99.2 L455.1,100.3 L456.8,101.2 L458.8,100.9 L460.1,99.8 L461,98.8 L461.6,97.8 L462.2,96.9 L462.7,95.8 L463.2,94.7 L463.7,93.6 L464.1,92.3 L464.6,91 L465.1,89.6 L465.7,88 L466.2,86.3 L466.7,84.6 L467.3,82.6 L467.9,80.4 L468.6,78 L469.3,75.4 L470,73 L470.5,70.8 L470.9,68.9 L471.2,67.2 L471.4,65.7 L471.7,64.3 L472,62.8 L472.3,61.3 L472.7,59.8 L473.1,58.3 L473.5,56.8 L473.9,55.1 L474.3,53.3 L474.8,51.4 L475.3,49.4 L475.8,47.4 L476.3,45.3 L476.7,43.1 L477.2,40.7 L477.6,38.4 L478,36.1 L478.4,34.1 L478.7,32.3 L479,30.6 L479.3,29.1 L479.6,27.7 L479.9,26.4 L480.2,25.1 L480.6,23.9 L480.9,22.7 L481.2,21.8 L481.4,21.1 L480.6,20.9 L480.4,21.6 L480.1,22.5 L479.8,23.6 L479.4,24.9 L479.1,26.2 L478.8,27.5 L478.5,29 L478.3,30.5 L477.9,32.1 L477.6,33.9 L477.2,36 L476.8,38.2 L476.4,40.6 L476,42.9 L475.5,45.1 L475,47.2 L474.6,49.2 L474.1,51.2 L473.6,53.1 L473.1,54.9 L472.7,56.5 L472.2,58.1 L471.8,59.6 L471.4,61.1 L471,62.6 L470.7,64.1 L470.4,65.6 L470.1,67 L469.8,68.6 L469.3,70.4 L468.6,72.6 L467.8,75 L467,77.4 L466.1,79.8 L465.3,81.9 L464.6,83.8 L463.8,85.5 L463.1,87 L462.5,88.4 L461.8,89.7 L461.1,90.8 L460.4,91.8 L459.7,92.6 L459.1,93.2 L458.4,93.7 L457.8,94 L457.2,94.2 L456.8,94.1 L456.8,93.6 L457.6,93.4 L458,93.9 L457.8,94.3 L457.2,94.2 L456.5,93.8 L455.8,93.3 L455.1,92.7 L454.4,91.8 L453.7,90.7 L453,89.5 L452.4,88.3 L451.8,87.2 L451.2,86.1 L450.6,85 L449.9,83.6 L449.1,81.9 L448.2,79.6 L447.1,76.8 L446,73.8 L445,70.9 L444.1,68.6 L443.5,66.9 L443.1,65.7 L442.7,64.7 L442.4,63.7 L442,62.6 L441.6,61.1 L441.2,59.6 L440.8,58 L440.4,56.4 L440,54.9 L439.5,53.4 L438.9,51.9 L438.4,50.5 L437.8,49.3 L437.4,48.3 L437,47.6 L436.6,47.2 L436.3,46.9 L436.1,46.7 L435.7,46.3 L435.2,45.8 L434.7,45.2 L434.1,44.5 L433.5,43.8 L432.9,42.9 L432.3,41.8 L431.6,40.5 L430.9,39.2 L430.2,37.8 L429.4,36.5 L428.7,35.3 L428,34.2 L427.3,33.1 L426.6,32 L425.8,30.9 L425,29.7 L424.2,28.5 L423.3,27.2 L422.4,26.1 L421.6,25.2 L420.7,24.5 L419.9,24.1 L419.1,23.7 L418.3,23.5 L417.5,23.2 L416.7,23 L415.9,23 L415.2,23 L414.5,22.8 L413.8,22.4 L413.1,21.6 L412.2,20.6 L411.3,19.4 L410.5,18.2 L409.8,16.9 L409.1,15.6 L408.5,14.1 L408,12.6 L407.5,11.1 L407,9.8 L406.5,8.7 L406,7.6 L405.5,6.7 L405.1,5.9 L404.9,5.3 Z" fill="#0808ff" filter="url(#b0)"/>
<path d="M413.3,29.5 L413.8,29.9 L414.6,30.5 L415.4,31.1 L416.1,31.7 L416.8,32.2 L417.6,32.9 L418.3,33.6 L419.1,34.3 L419.8,35 L420.4,35.6 L420.8,36.1 L421.4,36.9 L422.1,37.9 L423.1,39.2 L424.4,40.5 L425.8,41.6 L427,42.5 L428.3,43.3 L429.4,43.9 L430.7,44.5 L432.1,45 L433.5,45.3 L434.6,45.5 L435.3,45.7 L435.7,45.8 L438.3,32.2 L437.7,32.1 L437.1,32 L436.5,31.9 L436.2,31.8 L435.9,31.7 L435.5,31.6 L435,31.3 L434.5,31 L434.1,30.7 L433.8,30.5 L433.6,30.2 L433.1,29.7 L432.5,28.8 L431.7,27.7 L430.6,26.4 L429.6,25.3 L428.6,24.4 L427.7,23.5 L426.7,22.6 L425.8,21.8 L424.7,20.9 L423.7,20.1 L422.8,19.4 L422,18.9 L421.5,18.5 Z" fill="#3b3bff" opacity="0.2" filter="url(#b2)"/>
<path d="M415.8,26.2 L416.3,26.6 L417,27.1 L417.9,27.8 L418.7,28.4 L419.5,29.1 L420.3,29.8 L421.1,30.5 L421.9,31.3 L422.7,32.1 L423.4,32.8 L424.1,33.6 L424.7,34.5 L425.4,35.5 L426.3,36.5 L427.2,37.5 L428.2,38.4 L429.3,39.1 L430.3,39.7 L431.3,40.2 L432.2,40.6 L433.3,41 L434.4,41.3 L435.3,41.5 L436,41.6 L436.5,41.7 L437.5,36.3 L437,36.2 L436.3,36.1 L435.6,35.9 L434.9,35.8 L434.4,35.6 L433.7,35.3 L433,34.9 L432.2,34.4 L431.6,34 L431,33.5 L430.4,32.9 L429.8,32.2 L429.2,31.2 L428.4,30.2 L427.6,29.2 L426.7,28.2 L425.8,27.3 L424.9,26.5 L424,25.7 L423.1,24.9 L422.2,24.1 L421.2,23.4 L420.3,22.7 L419.6,22.2 L419,21.8 Z" fill="#0808ff" filter="url(#b0)"/>
<path d="M401.1,7.1 L401.3,7.8 L401.6,8.6 L401.9,9.6 L402.2,10.6 L402.6,11.7 L402.9,12.8 L403.2,14.3 L403.7,15.9 L404.3,17.7 L405,19.5 L405.8,21.1 L406.7,22.7 L407.7,24.2 L408.8,25.7 L410.2,27.2 L412.2,28.5 L414.2,29.2 L415.7,29.5 L416.5,29.7 L416.8,29.8 L418,17.4 L417.2,17.4 L416.6,17.5 L416.5,17.7 L416.7,17.9 L417,18.2 L416.8,18.1 L416.1,17.5 L415.3,16.7 L414.5,15.7 L413.8,14.7 L413.2,13.8 L412.6,12.6 L412,11.2 L411.3,9.7 L410.6,8.3 L410,7.1 L409.3,6 L408.8,5.1 L408.3,4.4 L407.9,3.9 Z" fill="#3b3bff" opacity="0.2" filter="url(#b2)"/>
<path d="M403.1,6.2 L403.4,6.7 L403.7,7.5 L404.1,8.5 L404.6,9.6 L405,10.7 L405.4,11.9 L405.9,13.3 L406.4,14.9 L407,16.5 L407.6,18 L408.4,19.5 L409.3,20.9 L410.2,22.2 L411.2,23.4 L412.2,24.5 L413.5,25.3 L414.9,25.7 L416,25.9 L416.8,26 L417.2,26.1 L417.6,21.1 L417,21.1 L416.3,21.1 L415.8,21.1 L415.4,21.1 L415,20.9 L414.4,20.4 L413.6,19.5 L412.7,18.5 L411.9,17.3 L411.2,16.2 L410.5,15 L409.9,13.6 L409.3,12.1 L408.8,10.7 L408.2,9.3 L407.7,8.2 L407.1,7.1 L406.6,6.2 L406.2,5.4 L405.9,4.8 Z" fill="#0808ff" filter="url(#b0)"/>
<path d="M413.2,35.4 L413.8,34.2 L414.6,32.5 L415.5,30.6 L416.4,28.8 L417.1,27.6 L417.6,27 L418.1,26.7 L418.4,26.7 L418.6,26.8 L418.8,27 L418.5,27.5 L418.1,28 L417.9,28.3 L418.3,28.5 L418.8,28.6 L416,16.4 L416,16.7 L415.6,17 L414.6,17.5 L413.3,18.3 L412.2,19.4 L411.6,20.3 L411.2,21.3 L410.8,22.3 L410.4,23.5 L410.1,24.8 L409.8,26.5 L409.3,28.6 L408.9,30.7 L408.6,32.5 L408.4,33.8 Z" fill="#3b3bff" opacity="0.2" filter="url(#b2)"/>
<path d="M411.8,34.9 L412.2,33.7 L412.9,32 L413.6,30 L414.4,28.1 L415,26.8 L415.5,25.9 L415.9,25.4 L416.2,25.1 L416.5,24.9 L416.8,24.7 L416.9,24.7 L417,24.8 L417.2,24.9 L417.6,24.9 L418,24.9 L416.8,20.1 L416.7,20.2 L416.3,20.4 L415.7,20.6 L414.9,21.1 L414.2,21.7 L413.7,22.3 L413.3,22.9 L413,23.6 L412.6,24.5 L412.2,25.6 L411.7,27.2 L411.2,29.2 L410.6,31.2 L410.1,33 L409.8,34.3 Z" fill="#0808ff" filter="url(#b0)"/>
<path d="M440.3,35.2 L440.6,34.5 L441,33.4 L441.5,32.1 L442,30.8 L442.4,29.6 L442.8,28.6 L443.2,27.6 L443.7,26.5 L444.1,25.2 L444.6,23.8 L445,22.1 L445.5,20.4 L445.9,18.6 L446.3,16.8 L446.7,15.1 L447.2,13.2 L447.7,11.2 L448.2,9.2 L448.6,7.6 L448.8,6.4 L441.6,4.6 L441.3,5.8 L440.9,7.5 L440.4,9.4 L439.9,11.5 L439.5,13.3 L439,15.1 L438.6,16.9 L438.2,18.6 L437.8,20.2 L437.4,21.6 L437,22.8 L436.7,23.8 L436.3,24.8 L435.8,25.8 L435.4,27 L434.9,28.2 L434.4,29.5 L434,30.7 L433.6,31.8 L433.3,32.6 Z" fill="#3b3bff" opacity="0.2" filter="url(#b2)"/>
<path d="M438.2,34.4 L438.5,33.7 L438.9,32.6 L439.4,31.3 L439.9,30 L440.3,28.8 L440.7,27.8 L441.1,26.8 L441.6,25.7 L442,24.5 L442.4,23.1 L442.9,21.6 L443.3,19.9 L443.7,18.1 L444.1,16.3 L444.6,14.6 L445,12.7 L445.5,10.7 L446,8.7 L446.4,7 L446.7,5.9 L443.7,5.1 L443.5,6.3 L443.1,8 L442.6,10 L442.1,12 L441.6,13.8 L441.2,15.6 L440.8,17.4 L440.4,19.2 L440,20.8 L439.6,22.3 L439.2,23.5 L438.8,24.6 L438.3,25.6 L437.9,26.7 L437.5,27.8 L437,29 L436.6,30.3 L436.1,31.5 L435.7,32.6 L435.4,33.4 Z" fill="#0808ff" filter="url(#b0)"/>
<path d="M467.1,10 L467.6,11.4 L468.3,13.5 L469.3,15.9 L470.3,18.3 L471.3,20.6 L472.4,22.5 L473.5,24.3 L474.5,25.9 L475.5,27.4 L476.5,28.6 L477.6,29.8 L478.8,30.7 L479.8,31.5 L480.6,32 L481.2,32.3 L481.8,32.7 L482.6,33.2 L483.8,33.9 L485.6,34.5 L488.2,34.7 L490.7,34.1 L492.4,33.1 L493.6,32.2 L494.4,31.5 L495,30.8 L495.5,30.1 L496.1,29.3 L496.7,28.2 L497.2,27.1 L497.7,25.9 L498.1,24.6 L498.6,23.1 L498.9,21.7 L499.3,20.2 L499.7,18.6 L500.2,16.7 L500.8,14.6 L501.3,12.5 L501.8,10.6 L502.1,9.3 L493.7,6.7 L493.2,7.9 L492.5,9.7 L491.7,11.7 L491,13.7 L490.3,15.4 L489.6,16.9 L489,18.2 L488.5,19.4 L488,20.4 L487.5,21.1 L487.1,21.6 L486.9,21.8 L486.7,21.8 L486.4,21.9 L486,22.2 L485.6,22.6 L485.3,22.9 L485.3,22.9 L485.9,22.6 L487.2,22.3 L488.5,22.4 L489.1,22.5 L489,22.5 L488.5,22.2 L487.8,21.7 L487.1,21.3 L486.6,21 L486.4,20.8 L486.1,20.6 L485.7,20.2 L484.9,19.4 L483.9,18.5 L483,17.4 L482,16.2 L481.1,15 L480.1,13.5 L479.1,11.4 L478,9.3 L477,7.3 L476.3,6 Z" fill="#3b3bff" opacity="0.2" filter="url(#b2)"/>
<path d="M469.9,8.8 L470.4,10.2 L471.2,12.2 L472.2,14.5 L473.2,16.9 L474.2,18.9 L475.3,20.6 L476.3,22.2 L477.3,23.7 L478.3,25 L479.3,26.1 L480.2,27 L481.1,27.8 L481.9,28.3 L482.6,28.8 L483.2,29.1 L483.8,29.5 L484.5,30 L485.4,30.5 L486.5,30.9 L487.9,31 L489.3,30.6 L490.3,30.1 L491.1,29.4 L491.8,28.8 L492.3,28.2 L492.8,27.7 L493.3,27 L493.7,26.3 L494.2,25.5 L494.6,24.5 L495.1,23.3 L495.5,22 L496,20.6 L496.4,19.2 L496.9,17.6 L497.4,15.8 L498.1,13.7 L498.7,11.6 L499.2,9.8 L499.6,8.5 L496.2,7.5 L495.8,8.7 L495.2,10.5 L494.5,12.6 L493.7,14.6 L493.1,16.4 L492.5,17.9 L492,19.3 L491.5,20.5 L491,21.6 L490.6,22.5 L490.2,23.2 L489.8,23.7 L489.5,24 L489.2,24.4 L488.7,24.8 L488.2,25.2 L487.8,25.7 L487.5,25.9 L487.3,26 L487.5,26 L487.7,26 L487.5,25.9 L487.1,25.7 L486.5,25.3 L485.8,24.9 L485.1,24.5 L484.6,24.1 L484.1,23.8 L483.6,23.4 L482.9,22.7 L482.1,21.8 L481.1,20.7 L480.1,19.5 L479.1,18.1 L478.2,16.7 L477.2,14.9 L476.1,12.8 L475.1,10.5 L474.2,8.6 L473.5,7.2 Z" fill="#0808ff" filter="url(#b0)"/>
<path d="M478.4,38.6 L478.8,38.7 L479.7,39 L481.3,39.5 L483.5,39.9 L486,40.1 L488.4,40 L490.7,39.8 L493,39.5 L495.2,39.2 L497.1,38.9 L498.9,38.6 L500.4,38.2 L501.6,37.8 L502.5,37.5 L503.4,37.2 L504.7,36.8 L505.8,36.4 L506.4,36.1 L506.4,36.1 L505.7,36.2 L504.9,36.1 L504.6,36.1 L505.1,36.3 L506.2,36.7 L507.5,37.2 L508.6,37.5 L509.5,37.8 L510.6,38.2 L511.9,38.5 L513.3,38.9 L514.7,39.1 L516,39.3 L517.1,39.4 L518.1,39.5 L518.8,39.6 L519.2,39.7 L520.1,39.8 L521.7,40.1 L524.1,40.2 L527,39.8 L529.6,38.8 L531.5,37.8 L533.1,36.9 L534.2,36.2 L534.8,35.8 L525.2,19.8 L524.4,20.3 L523.3,20.9 L522.4,21.4 L521.9,21.7 L522.2,21.6 L523.2,21.5 L523.7,21.5 L523.6,21.4 L522.6,21.2 L521.2,21 L520,20.9 L519,20.8 L518.3,20.7 L517.6,20.6 L517.1,20.5 L516.7,20.4 L516,20.2 L515.3,20 L514.3,19.7 L513.5,19.4 L513,19.2 L512.1,18.9 L510.7,18.3 L508.5,17.7 L505.7,17.4 L502.9,17.7 L500.9,18.2 L499.4,18.8 L498.4,19.1 L497.6,19.4 L496.7,19.7 L495.7,20 L495.2,20.2 L494.7,20.3 L493.9,20.5 L492.5,20.7 L490.7,20.9 L488.8,21.1 L487.2,21.3 L486.2,21.3 L485.9,21.3 L485.7,21.2 L485.2,21.1 L484.4,20.8 L483.6,20.6 Z" fill="#3b3bff" opacity="0.2" filter="url(#b2)"/>
<path d="M479.9,33.2 L480.5,33.4 L481.4,33.6 L482.6,34 L484.2,34.3 L486,34.4 L488,34.4 L490.1,34.2 L492.3,34 L494.4,33.7 L496.1,33.4 L497.6,33.1 L498.9,32.8 L499.9,32.4 L500.7,32.2 L501.6,31.9 L502.8,31.5 L503.9,31.1 L504.8,30.8 L505.4,30.6 L505.7,30.6 L506,30.6 L506.4,30.7 L507.2,31 L508.2,31.5 L509.3,31.9 L510.3,32.2 L511.2,32.5 L512.2,32.8 L513.3,33.1 L514.4,33.4 L515.6,33.6 L516.7,33.7 L517.7,33.8 L518.7,33.9 L519.5,34 L520.2,34.1 L521.1,34.3 L522.3,34.5 L523.8,34.6 L525.6,34.3 L527.3,33.7 L528.8,32.9 L530.1,32.1 L531.2,31.4 L531.9,31 L528.1,24.6 L527.3,25.1 L526.2,25.7 L525.1,26.4 L524.2,26.9 L523.6,27.1 L523.5,27.1 L523.1,27.1 L522.5,26.9 L521.6,26.8 L520.5,26.6 L519.4,26.5 L518.5,26.4 L517.6,26.3 L516.7,26.2 L516,26 L515.2,25.8 L514.4,25.6 L513.5,25.3 L512.6,25 L511.7,24.7 L510.9,24.5 L510,24.1 L508.9,23.6 L507.4,23.2 L505.7,23.1 L504,23.2 L502.5,23.6 L501.3,24 L500.3,24.4 L499.4,24.7 L498.4,25 L497.5,25.3 L496.8,25.6 L495.9,25.8 L494.9,26 L493.3,26.2 L491.4,26.5 L489.4,26.7 L487.5,26.9 L486.2,27 L485.2,26.9 L484.4,26.7 L483.6,26.5 L482.8,26.2 L482.1,26 Z" fill="#0808ff" filter="url(#b0)"/>
<path d="M507.4,9.6 L507.8,10.9 L508.4,12.8 L509.2,15 L509.9,17.2 L510.6,19.1 L511.3,20.8 L511.9,22.4 L512.6,23.9 L513.1,25.2 L513.7,26.4 L514.2,27.4 L514.7,28.4 L515.3,29.2 L515.7,29.9 L516,30.4 L516.5,30.9 L517.2,31.6 L518.2,32.6 L519.8,33.7 L522.4,34.6 L525.3,34.6 L527.4,33.9 L528.8,33.1 L529.6,32.5 L530.1,32.1 L530.6,31.8 L531.4,31.3 L532.7,30.3 L534,28.8 L535.2,27 L536,25.1 L536.6,23 L537.2,21.1 L537.7,19.2 L538.2,17.6 L538.8,16 L539.4,14.2 L540,12.6 L540.5,11.1 L540.9,10 L531.7,6 L531.2,6.9 L530.4,8.3 L529.6,9.9 L528.7,11.6 L527.8,13.4 L526.9,15.2 L526.1,17.1 L525.4,18.9 L524.7,20.2 L524.2,21 L524.1,21.1 L524.2,21.1 L524.1,21.1 L523.7,21.4 L522.9,21.9 L522.2,22.4 L521.8,22.7 L521.9,22.6 L522.9,22.4 L524.6,22.4 L526,22.8 L526.3,23 L526.1,22.8 L525.6,22.3 L525,21.6 L524.4,21.2 L524.1,21.1 L524,21.2 L523.8,21.1 L523.3,20.6 L522.7,19.8 L522,18.8 L521.3,17.7 L520.5,16.4 L519.8,15.1 L518.9,13.4 L518,11.4 L517,9.4 L516.2,7.6 L515.6,6.4 Z" fill="#3b3bff" opacity="0.2" filter="url(#b2)"/>
<path d="M509.9,8.6 L510.3,9.9 L511,11.8 L511.8,13.9 L512.6,16.1 L513.4,17.9 L514.1,19.5 L514.7,21 L515.4,22.4 L516,23.6 L516.6,24.7 L517,25.5 L517.5,26.2 L517.9,26.8 L518.3,27.3 L518.7,27.7 L519.2,28.3 L519.9,29 L520.6,29.7 L521.6,30.4 L523,31 L524.6,30.9 L525.8,30.5 L526.7,30 L527.4,29.5 L527.9,29 L528.5,28.7 L529.2,28.2 L530.1,27.5 L531,26.5 L531.9,25.2 L532.6,23.6 L533.3,21.8 L533.9,19.9 L534.5,18 L535.1,16.3 L535.7,14.7 L536.4,12.9 L537.1,11.3 L537.7,9.8 L538.1,8.8 L534.5,7.2 L534,8.2 L533.3,9.6 L532.5,11.2 L531.7,12.9 L530.9,14.7 L530.2,16.4 L529.5,18.3 L528.8,20.1 L528.1,21.7 L527.5,22.8 L527.1,23.4 L526.7,23.8 L526.3,24.1 L525.8,24.5 L525.1,25 L524.4,25.5 L523.9,25.8 L523.6,26 L523.6,26 L524,26 L524.1,26.1 L523.9,25.9 L523.4,25.4 L522.9,24.8 L522.3,24.3 L521.8,23.8 L521.5,23.6 L521.2,23.3 L520.9,23 L520.4,22.3 L519.8,21.4 L519.2,20.3 L518.5,19.1 L517.8,17.7 L517,16.3 L516.2,14.6 L515.3,12.5 L514.5,10.4 L513.7,8.6 L513.1,7.4 Z" fill="#0808ff" filter="url(#b0)"/>
<path d="M527.8,23.4 L528,23.9 L528.4,24.6 L528.8,25.4 L529.3,26.3 L529.8,27 L530.2,27.7 L530.6,28.5 L531,29.3 L531.7,30.3 L532.5,31.3 L533.4,32.2 L534.4,33.1 L535.4,33.9 L536.5,34.7 L537.6,35.5 L538.8,36.1 L540,36.7 L541.2,37.2 L542.2,37.6 L542.8,37.9 L545.2,32.1 L544.5,31.8 L543.6,31.5 L542.6,31 L541.6,30.6 L540.8,30.1 L540.1,29.6 L539.2,29 L538.4,28.3 L537.7,27.7 L537.1,27.1 L536.7,26.6 L536.4,26.1 L536,25.5 L535.7,24.8 L535.2,24 L534.8,23.2 L534.3,22.4 L533.9,21.6 L533.5,20.9 L533.2,20.4 Z" fill="#3b3bff" opacity="0.2" filter="url(#b2)"/>
<path d="M529.4,22.5 L529.7,23 L530,23.7 L530.5,24.5 L531,25.3 L531.4,26.1 L531.8,26.8 L532.2,27.6 L532.6,28.4 L533.2,29.2 L533.9,30 L534.7,30.9 L535.6,31.7 L536.5,32.5 L537.5,33.2 L538.5,33.9 L539.6,34.5 L540.8,35 L541.9,35.5 L542.9,35.9 L543.5,36.2 L544.5,33.8 L543.8,33.6 L542.9,33.2 L541.8,32.7 L540.8,32.3 L539.9,31.7 L539,31.2 L538.1,30.5 L537.2,29.8 L536.4,29 L535.7,28.4 L535.2,27.7 L534.8,27.1 L534.4,26.4 L534,25.6 L533.6,24.9 L533.1,24.1 L532.7,23.3 L532.2,22.5 L531.9,21.8 L531.6,21.3 Z" fill="#0808ff" filter="url(#b0)"/>
<path d="M525.9,25.9 L526.3,27 L527,28.6 L527.8,30.6 L528.7,32.6 L529.6,34.4 L530.6,36 L531.5,37.4 L532.5,38.7 L533.4,39.8 L534.3,40.9 L535.3,41.9 L536.2,42.7 L537.1,43.5 L537.9,44 L538.6,44.6 L539.4,45.1 L540.2,45.6 L540.8,46 L541.3,46.2 L541.6,46.4 L546.4,37.6 L546.1,37.4 L545.6,37.2 L545.2,37 L544.8,36.7 L544.4,36.4 L543.9,36 L543.3,35.6 L542.7,35.2 L542.2,34.7 L541.7,34.1 L541.1,33.4 L540.4,32.5 L539.7,31.6 L539,30.6 L538.4,29.6 L537.7,28.3 L537,26.6 L536.2,24.8 L535.6,23.2 L535.1,22.1 Z" fill="#3b3bff" opacity="0.2" filter="url(#b2)"/>
<path d="M528.7,24.8 L529.1,25.9 L529.8,27.5 L530.6,29.4 L531.4,31.3 L532.2,33 L533.1,34.4 L534,35.7 L534.8,36.8 L535.7,37.9 L536.5,38.8 L537.3,39.7 L538.2,40.5 L539,41.1 L539.7,41.6 L540.3,42.1 L541,42.6 L541.7,43 L542.3,43.3 L542.7,43.6 L543,43.7 L545,40.3 L544.6,40.1 L544.2,39.8 L543.7,39.6 L543.2,39.2 L542.7,38.9 L542.1,38.4 L541.4,38 L540.8,37.4 L540.1,36.9 L539.5,36.2 L538.8,35.3 L538,34.4 L537.2,33.3 L536.5,32.2 L535.8,31 L535,29.6 L534.2,27.8 L533.5,26 L532.8,24.4 L532.3,23.2 Z" fill="#0808ff" filter="url(#b0)"/>
<path d="M527.5,23.3 L527.9,24.7 L528.4,26.5 L529,28.8 L529.7,31.1 L530.5,33.2 L531.3,35.2 L532.2,37.2 L533.2,39.1 L534.1,40.8 L535,42.4 L535.9,43.8 L536.7,45.1 L537.6,46.2 L538.3,47.1 L539.1,48 L539.9,48.8 L540.7,49.5 L541.3,50 L541.8,50.4 L542.1,50.6 L545.9,45.6 L545.5,45.3 L545.1,45 L544.6,44.7 L544.2,44.3 L543.7,43.8 L543.1,43.1 L542.5,42.3 L541.8,41.4 L541.1,40.4 L540.4,39.2 L539.6,37.8 L538.7,36.2 L537.9,34.5 L537,32.7 L536.3,31 L535.7,29.1 L535,27 L534.4,24.9 L533.9,23 L533.5,21.7 Z" fill="#3b3bff" opacity="0.2" filter="url(#b2)"/>
<path d="M529.3,22.8 L529.7,24.2 L530.2,26 L530.8,28.2 L531.5,30.5 L532.2,32.6 L533,34.5 L533.9,36.4 L534.8,38.2 L535.8,39.9 L536.6,41.4 L537.4,42.8 L538.3,44 L539,45 L539.8,45.9 L540.5,46.7 L541.2,47.5 L541.9,48.1 L542.5,48.5 L542.9,48.9 L543.2,49.1 L544.8,47.1 L544.4,46.8 L543.9,46.5 L543.4,46.1 L542.9,45.7 L542.3,45.1 L541.7,44.3 L541,43.5 L540.3,42.5 L539.5,41.4 L538.8,40.2 L538,38.7 L537.1,37 L536.2,35.3 L535.3,33.4 L534.6,31.6 L533.9,29.7 L533.2,27.5 L532.6,25.4 L532.1,23.5 L531.7,22.2 Z" fill="#0808ff" filter="url(#b0)"/>
<line x1="389.5" y1="53.7" x2="544" y2="53.7" stroke="#9a9a9a" stroke-width="0.85" stroke-dasharray="2.6,1.8"/>
<path d="M389.5,100.5 C390.2,99.6 392.1,97.4 393.5,95 C394.9,92.6 396.7,89.2 398.1,85.9 C399.5,82.6 400.6,78.9 401.7,75 C402.8,71.1 403.7,65.6 404.5,62.3 C405.3,59 405.9,57.9 406.6,55 C407.3,52.1 407.8,48.4 408.5,45 C409.2,41.6 409.9,37.7 410.8,34.6 C411.7,31.5 412.8,28.1 413.6,26.2 C414.4,24.3 414.9,23.8 415.5,23.2 C416.1,22.6 416.4,22.4 417.4,22.5 C418.4,22.6 419.9,23.1 421.3,24.1 C422.7,25.1 424.1,27 425.5,28.3 C426.9,29.6 428.4,31 429.8,31.8 C431.2,32.6 432.8,32.9 434,33.2 C435.2,33.6 436,34.7 436.8,33.9 C437.6,33.1 438.2,30.2 438.9,28.3 C439.6,26.4 440.3,25.1 441,22.7 C441.7,20.3 442.4,17.1 443.1,14.2 C443.8,11.3 444.9,7 445.2,5.5" fill="none" stroke="#111" stroke-width="1.1" stroke-linejoin="round"/>
<path d="M404.5,5.5 C404.9,6.2 405.8,8.1 406.6,10 C407.4,11.9 408.2,15 409.4,17.1 C410.6,19.2 412.3,21.6 413.6,22.7 C414.9,23.8 416.1,23.1 417.4,23.6 C418.7,24.1 419.9,24.2 421.3,25.5 C422.7,26.8 424.2,29.2 425.5,31.1 C426.8,33 427.9,34.7 429.1,36.7 C430.3,38.7 431.6,41.5 432.6,43.1 C433.7,44.8 434.7,45.7 435.4,46.6 C436.1,47.5 436.3,47.1 437,48.5 C437.7,49.9 438.9,52.6 439.6,55 C440.4,57.4 440.9,60.6 441.5,63 C442.1,65.4 442.4,66 443.5,69.5 C444.6,73 446.9,80.4 448.1,84.1 C449.4,87.8 450,89.2 451,91.5 C452,93.8 453,96.2 454,97.8 C455,99.3 456.1,100.7 457.2,100.8 C458.2,100.9 459.3,99.8 460.3,98.5 C461.3,97.2 462.2,95.4 463.2,93 C464.2,90.6 465.2,87.7 466.3,84.1 C467.4,80.5 469,74.9 469.9,71.4 C470.8,67.9 470.9,65.7 471.5,63 C472.1,60.3 472.8,58 473.5,55 C474.2,52 475.1,48.7 475.9,45.2 C476.6,41.7 477.4,37.1 478,34 C478.6,30.9 479,28.5 479.5,26.3 C480,24.1 480.8,21.9 481,21" fill="none" stroke="#111" stroke-width="1.1" stroke-linejoin="round"/>
<path d="M471.7,5.5 C472.4,7.1 474.6,12.6 476.2,15.3 C477.8,18 479.7,20.4 481.1,21.9 C482.5,23.4 483.4,23.8 484.5,24.5 C485.6,25.2 486.7,26.1 487.7,26 C488.7,25.9 489.7,24.8 490.5,24 C491.3,23.2 491.9,22.6 492.6,21 C493.4,19.4 494.1,17.1 495,14.5 C495.9,11.9 497.4,7 497.9,5.5" fill="none" stroke="#111" stroke-width="1.1" stroke-linejoin="round"/>
<path d="M481,24 C481.6,24.2 483.3,25 484.5,25.3 C485.7,25.6 486.4,26 488,26 C489.6,26 492.1,25.8 494.1,25.5 C496.1,25.2 498.1,24.9 500,24.5 C501.9,24.1 503.9,23.4 505.7,23.4 C507.5,23.4 509.3,24.2 511,24.5 C512.7,24.8 514.1,25.1 515.9,25.3 C517.7,25.6 519.8,26.3 521.7,26 C523.6,25.7 526,24.1 527.5,23.4 C529,22.7 530,22.1 530.5,21.9" fill="none" stroke="#111" stroke-width="1.1" stroke-linejoin="round"/>
<path d="M511.5,5.5 C512.1,7 514,12 515.2,14.6 C516.4,17.2 517.6,19.5 518.5,21 C519.4,22.5 519.7,22.7 520.5,23.5 C521.3,24.3 522.5,25.8 523.5,26 C524.5,26.2 525.5,25.2 526.5,24.5 C527.5,23.8 528.6,23.4 529.7,21.5 C530.8,19.6 531.9,15.7 533,13 C534.1,10.3 535.8,6.8 536.3,5.5" fill="none" stroke="#111" stroke-width="1.1" stroke-linejoin="round"/>
<path d="M530.5,21.9 C530.8,22.5 531.8,24.3 532.5,25.5 C533.2,26.7 533.7,28 534.8,29.2 C535.9,30.4 537.7,31.8 539.2,32.8 C540.7,33.8 543.2,34.6 544,35" fill="none" stroke="#111" stroke-width="1.1" stroke-linejoin="round"/>
<path d="M530.5,22.5 C531,24.1 532.2,29.1 533.4,32.1 C534.6,35.1 536.4,38.5 537.7,40.8 C539,43.1 540.4,44.7 541.4,45.9 C542.4,47.1 543.6,47.7 544,48.1" fill="none" stroke="#111" stroke-width="1.1" stroke-linejoin="round"/>
<circle cx="391.2" cy="91.9" r="0.9" fill="#f00"/>
<circle cx="394.6" cy="87.7" r="0.9" fill="#f00"/>
<circle cx="398" cy="82.1" r="0.9" fill="#f00"/>
<circle cx="401.4" cy="73.8" r="0.9" fill="#f00"/>
<circle cx="404.8" cy="60.7" r="0.9" fill="#f00"/>
<circle cx="408.2" cy="46.5" r="0.9" fill="#f00"/>
<circle cx="411.6" cy="31.9" r="0.9" fill="#f00"/>
<circle cx="415" cy="23.7" r="0.9" fill="#f00"/>
<circle cx="418.4" cy="22.7" r="0.9" fill="#f00"/>
<circle cx="421.8" cy="24.5" r="0.9" fill="#f00"/>
<circle cx="425.2" cy="28" r="0.9" fill="#f00"/>
<circle cx="428.6" cy="31" r="0.9" fill="#f00"/>
<circle cx="432" cy="32.7" r="0.9" fill="#f00"/>
<circle cx="435.4" cy="33.9" r="0.9" fill="#f00"/>
<circle cx="438.8" cy="28.6" r="0.9" fill="#f00"/>
<circle cx="442.2" cy="18" r="0.9" fill="#f00"/>
<circle cx="406.2" cy="9.1" r="0.9" fill="#f00"/>
<circle cx="409.6" cy="17.5" r="0.9" fill="#f00"/>
<circle cx="413" cy="22.2" r="0.9" fill="#f00"/>
<circle cx="416.4" cy="23.4" r="0.9" fill="#f00"/>
<circle cx="419.8" cy="24.5" r="0.9" fill="#f00"/>
<circle cx="423.2" cy="27.8" r="0.9" fill="#f00"/>
<circle cx="426.6" cy="32.7" r="0.9" fill="#f00"/>
<circle cx="430" cy="38.3" r="0.9" fill="#f00"/>
<circle cx="433.4" cy="44.2" r="0.9" fill="#f00"/>
<circle cx="436.8" cy="48.1" r="0.9" fill="#f00"/>
<circle cx="440.2" cy="57.1" r="0.9" fill="#f00"/>
<circle cx="443.6" cy="68.4" r="0.9" fill="#f00"/>
<circle cx="447" cy="77.7" r="0.9" fill="#f00"/>
<circle cx="450.4" cy="85.4" r="0.9" fill="#f00"/>
<circle cx="453.8" cy="91.2" r="0.9" fill="#f00"/>
<circle cx="457.2" cy="93.8" r="0.9" fill="#f00"/>
<circle cx="460.6" cy="91.7" r="0.9" fill="#f00"/>
<circle cx="464" cy="86" r="0.9" fill="#f00"/>
<circle cx="467.4" cy="77.4" r="0.9" fill="#f00"/>
<circle cx="470.8" cy="65.9" r="0.9" fill="#f00"/>
<circle cx="474.2" cy="52.3" r="0.9" fill="#f00"/>
<circle cx="477.6" cy="36.2" r="0.9" fill="#f00"/>
<circle cx="481" cy="21" r="0.9" fill="#f00"/>
<circle cx="419.4" cy="25.5" r="0.9" fill="#f00"/>
<circle cx="423.4" cy="28.9" r="0.9" fill="#f00"/>
<circle cx="427.4" cy="33.5" r="0.9" fill="#f00"/>
<circle cx="431.4" cy="37.1" r="0.9" fill="#f00"/>
<circle cx="435.4" cy="38.7" r="0.9" fill="#f00"/>
<circle cx="475.9" cy="16.3" r="0.9" fill="#f00"/>
<circle cx="485.4" cy="26.6" r="0.9" fill="#f00"/>
<circle cx="494.9" cy="16.3" r="0.9" fill="#f00"/>
<circle cx="486.1" cy="30.7" r="0.9" fill="#f00"/>
<circle cx="495.6" cy="29.7" r="0.9" fill="#f00"/>
<circle cx="505.1" cy="26.8" r="0.9" fill="#f00"/>
<circle cx="514.6" cy="29.6" r="0.9" fill="#f00"/>
<circle cx="524.1" cy="30.8" r="0.9" fill="#f00"/>
<circle cx="515.2" cy="16.1" r="0.9" fill="#f00"/>
<circle cx="524.7" cy="27.3" r="0.9" fill="#f00"/>
<circle cx="534.2" cy="11.7" r="0.9" fill="#f00"/>
<circle cx="532.2" cy="28.3" r="0.9" fill="#f00"/>
<circle cx="535.8" cy="34.7" r="0.9" fill="#f00"/>
<circle cx="539.2" cy="38.7" r="0.9" fill="#f00"/>
<circle cx="542.8" cy="41.3" r="0.9" fill="#f00"/>
</g>
<rect x="389.5" y="5.5" width="154.5" height="120.4" fill="none" stroke="#222" stroke-width="0.9"/>
<line x1="386.9" y1="125.9" x2="389.5" y2="125.9" stroke="#222" stroke-width="0.9"/>
<text x="384.9" y="128.4" font-family="'DejaVu Sans','Liberation Sans',sans-serif" font-size="7.2" fill="#000" stroke="#000" stroke-width="0.2" text-anchor="end">−3</text>
<line x1="386.9" y1="101.8" x2="389.5" y2="101.8" stroke="#222" stroke-width="0.9"/>
<text x="384.9" y="104.3" font-family="'DejaVu Sans','Liberation Sans',sans-serif" font-size="7.2" fill="#000" stroke="#000" stroke-width="0.2" text-anchor="end">−2</text>
<line x1="386.9" y1="77.7" x2="389.5" y2="77.7" stroke="#222" stroke-width="0.9"/>
<text x="384.9" y="80.2" font-family="'DejaVu Sans','Liberation Sans',sans-serif" font-size="7.2" fill="#000" stroke="#000" stroke-width="0.2" text-anchor="end">−1</text>
<line x1="386.9" y1="53.7" x2="389.5" y2="53.7" stroke="#222" stroke-width="0.9"/>
<text x="384.9" y="56.2" font-family="'DejaVu Sans','Liberation Sans',sans-serif" font-size="7.2" fill="#000" stroke="#000" stroke-width="0.2" text-anchor="end">0</text>
<line x1="386.9" y1="29.6" x2="389.5" y2="29.6" stroke="#222" stroke-width="0.9"/>
<text x="384.9" y="32.1" font-family="'DejaVu Sans','Liberation Sans',sans-serif" font-size="7.2" fill="#000" stroke="#000" stroke-width="0.2" text-anchor="end">1</text>
<line x1="386.9" y1="5.5" x2="389.5" y2="5.5" stroke="#222" stroke-width="0.9"/>
<text x="384.9" y="8" font-family="'DejaVu Sans','Liberation Sans',sans-serif" font-size="7.2" fill="#000" stroke="#000" stroke-width="0.2" text-anchor="end">2</text>
<line x1="389.5" y1="125.9" x2="389.5" y2="128.5" stroke="#222" stroke-width="0.9"/>
<text x="389.5" y="138" font-family="'DejaVu Sans','Liberation Sans',sans-serif" font-size="9.7" fill="#000" stroke="#000" stroke-width="0.15" text-anchor="middle">Γ</text>
<line x1="417.4" y1="125.9" x2="417.4" y2="128.5" stroke="#222" stroke-width="0.9"/>
<text x="417.4" y="138" font-family="'DejaVu Sans','Liberation Sans',sans-serif" font-size="9.7" fill="#000" stroke="#000" stroke-width="0.15" text-anchor="middle">H</text>
<line x1="437.1" y1="125.9" x2="437.1" y2="128.5" stroke="#222" stroke-width="0.9"/>
<text x="437.1" y="138" font-family="'DejaVu Sans','Liberation Sans',sans-serif" font-size="9.7" fill="#000" stroke="#000" stroke-width="0.15" text-anchor="middle">N</text>
<line x1="456.8" y1="125.9" x2="456.8" y2="128.5" stroke="#222" stroke-width="0.9"/>
<text x="456.8" y="138" font-family="'DejaVu Sans','Liberation Sans',sans-serif" font-size="9.7" fill="#000" stroke="#000" stroke-width="0.15" text-anchor="middle">Γ</text>
<line x1="480.9" y1="125.9" x2="480.9" y2="128.5" stroke="#222" stroke-width="0.9"/>
<text x="480.9" y="138" font-family="'DejaVu Sans','Liberation Sans',sans-serif" font-size="9.7" fill="#000" stroke="#000" stroke-width="0.15" text-anchor="middle">P</text>
<line x1="505.5" y1="125.9" x2="505.5" y2="128.5" stroke="#222" stroke-width="0.9"/>
<text x="505.5" y="138" font-family="'DejaVu Sans','Liberation Sans',sans-serif" font-size="9.7" fill="#000" stroke="#000" stroke-width="0.15" text-anchor="middle">H</text>
<line x1="530.1" y1="125.9" x2="530.1" y2="128.5" stroke="#222" stroke-width="0.9"/>
<text x="530.1" y="138" font-family="'DejaVu Sans','Liberation Sans',sans-serif" font-size="9.7" fill="#000" stroke="#000" stroke-width="0.15" text-anchor="middle">P</text>
<line x1="544" y1="125.9" x2="544" y2="128.5" stroke="#222" stroke-width="0.9"/>
<text x="544" y="138" font-family="'DejaVu Sans','Liberation Sans',sans-serif" font-size="9.7" fill="#000" stroke="#000" stroke-width="0.15" text-anchor="middle">N</text>
<text x="541.6" y="121.1" font-family="'DejaVu Sans','Liberation Sans',sans-serif" font-size="11.1" fill="#000" stroke="#000" stroke-width="0.1" text-anchor="end">bcc Rb</text>
<g clip-path="url(#c3)">
<ellipse cx="78" cy="264" rx="8" ry="6" fill="#3a3aff" opacity="0.2" filter="url(#b3)"/>
<ellipse cx="88" cy="250" rx="5" ry="5" fill="#3a3aff" opacity="0.3" filter="url(#b2)"/>
<ellipse cx="135.5" cy="250" rx="6" ry="6" fill="#3a3aff" opacity="0.35" filter="url(#b2)"/>
<ellipse cx="135.5" cy="258" rx="5" ry="9" fill="#3a3aff" opacity="0.2" filter="url(#b3)"/>
<path d="M29.1,260.4 L29.6,259.8 L30.4,258.9 L31.3,257.8 L32.2,256.5 L33,255 L33.8,253.2 L34.6,251.1 L35.3,248.9 L36.1,246.5 L36.9,244 L37.7,241.3 L38.5,238.5 L39.4,235.5 L40.2,232.7 L41,230 L41.8,227.5 L42.7,225.1 L43.5,222.8 L44.3,220.7 L45,219 L45.5,217.7 L46,216.7 L46.4,216 L46.8,215.3 L47.4,214.5 L48.2,213.6 L49.2,212.8 L50.2,212 L51.2,211 L52.1,209.9 L52.8,208.5 L53.4,206.9 L54,205.2 L54.5,203.5 L55,202 L55.4,200.6 L55.8,199.1 L56.1,197.8 L56.5,196.9 L56.8,196.4 L57.1,196.5 L57.5,197.1 L57.8,198 L58.2,199.2 L58.5,200.5 L58.8,202 L59.2,203.8 L59.5,205.8 L59.9,207.8 L60.3,209.9 L60.8,212 L61.3,214.2 L61.9,216.4 L62.4,218.7 L63,221 L63.6,223.4 L64.2,225.9 L64.9,228.4 L65.5,230.8 L66,233 L66.5,234.8 L66.9,236.4 L67.2,237.9 L67.6,239.4 L68.1,241 L68.6,242.8 L69.2,244.6 L69.8,246.5 L70.4,248.3 L71,250 L71.6,251.6 L72.1,253.2 L72.7,254.7 L73.3,256.1 L74,257.4 L74.7,258.6 L75.5,259.8 L76.4,260.8 L77.2,261.6 L77.9,261.9 L78.6,261.7 L79.3,261.1 L79.9,260.3 L80.5,259.4 L81,258.5 L81.4,257.8 L81.8,257.1 L82.1,256.4 L82.5,255.5 L83,254.4 L83.8,252.8 L84.8,250.8 L85.8,248.6 L86.8,246.8 L87.4,245.5 L87.4,275.5 L86.8,276.8 L85.8,278.6 L84.8,280.8 L83.8,282.8 L83,284.4 L82.5,285.5 L82.1,286.4 L81.8,287.1 L81.4,287.8 L81,288.5 L80.5,289.4 L79.9,290.3 L79.3,291.1 L78.6,291.7 L77.9,291.9 L77.2,291.6 L76.4,290.8 L75.5,289.8 L74.7,288.6 L74,287.4 L73.3,286.1 L72.7,284.7 L72.1,283.2 L71.6,281.6 L71,280 L70.4,278.3 L69.8,276.5 L69.2,274.6 L68.6,272.8 L68.1,271 L67.6,269.4 L67.2,267.9 L66.9,266.4 L66.5,264.8 L66,263 L65.5,260.8 L64.9,258.4 L64.2,255.9 L63.6,253.4 L63,251 L62.4,248.7 L61.9,246.4 L61.3,244.2 L60.8,242 L60.3,239.9 L59.9,237.8 L59.5,235.8 L59.2,233.8 L58.8,232 L58.5,230.5 L58.2,229.2 L57.8,228 L57.5,227.1 L57.1,226.5 L56.8,226.4 L56.5,226.9 L56.1,227.8 L55.8,229.1 L55.4,230.6 L55,232 L54.5,233.5 L54,235.2 L53.4,236.9 L52.8,238.5 L52.1,239.9 L51.2,241 L50.2,242 L49.2,242.8 L48.2,243.6 L47.4,244.5 L46.8,245.3 L46.4,246 L46,246.7 L45.5,247.7 L45,249 L44.3,250.7 L43.5,252.8 L42.7,255.1 L41.8,257.5 L41,260 L40.2,262.7 L39.4,265.5 L38.5,268.5 L37.7,271.3 L36.9,274 L36.1,276.5 L35.3,278.9 L34.6,281.1 L33.8,283.2 L33,285 L32.2,286.5 L31.3,287.8 L30.4,288.9 L29.6,289.8 L29.1,290.4 Z" fill="#3a3aff" opacity="0.16" filter="url(#b3)"/>
<path d="M87.4,245.5 L88.1,244.6 L89.1,243.4 L90.3,241.9 L91.6,240.1 L92.8,238 L94,235.6 L95.2,232.7 L96.5,229.7 L97.7,226.5 L98.8,223.2 L99.8,219.6 L100.8,215.5 L101.7,211.5 L102.5,208 L103.2,205.4 L103.7,204 L104,203.5 L104.2,203.4 L104.4,203.6 L104.8,203.5 L105.3,203.3 L105.8,203.3 L106.4,203.2 L107.1,202.9 L107.7,202.4 L108.3,201.5 L109,200.4 L109.6,199.1 L110.3,197.6 L111,196 L111.8,193.8 L112.6,191 L113.4,188.3 L114.2,186.5 L115.1,186.1 L116,187.8 L116.9,191 L117.8,195 L118.7,199 L119.5,202.4 L120.2,205 L120.8,207.3 L121.4,209.5 L121.9,211.7 L122.5,214 L123.1,216.5 L123.7,219.1 L124.3,221.6 L124.9,224.1 L125.5,226.2 L126,228 L126.5,229.6 L127,230.9 L127.5,232.2 L128,233.5 L128.5,234.7 L129,235.9 L129.5,237 L130,238 L130.5,239 L131,239.9 L131.5,240.7 L132,241.5 L132.5,242.2 L133,242.8 L133.5,243.4 L134,243.9 L134.5,244.3 L135,244.6 L135.5,244.7 L136,244.7 L136.5,244.5 L137,244.1 L137.5,243.7 L138,243.2 L138.5,242.6 L139,241.9 L139.5,241.1 L140,240.3 L140.5,239.5 L141,238.8 L141.4,238.1 L141.9,237.3 L142.4,236.4 L142.9,235.3 L143.5,233.9 L144.1,232.3 L144.7,230.6 L145.4,228.8 L146,227 L146.6,225.1 L147.2,223.1 L147.7,221.1 L148.3,219.1 L148.8,217.4 L149.3,215.9 L149.7,214.6 L150.1,213.3 L150.6,212.2 L151,211 L151.4,209.9 L151.8,208.8 L152.2,207.7 L152.7,206.6 L153.3,205.5 L154,204.2 L154.8,202.8 L155.7,201.4 L156.7,200.2 L157.7,199.5 L158.8,199.4 L160,199.8 L161.2,200.5 L162.5,201 L163.7,201 L164.9,200.5 L166.2,199.8 L167.5,198.8 L168.6,197.7 L169.6,196.6 L170.4,195.4 L171,194 L171.5,192.5 L172,191.2 L172.5,190 L173.2,189 L173.9,188.1 L174.6,187.3 L175.2,186.7 L175.6,186.2 L175.6,216.2 L175.2,216.7 L174.6,217.3 L173.9,218.1 L173.2,219 L172.5,220 L172,221.2 L171.5,222.5 L171,224 L170.4,225.4 L169.6,226.6 L168.6,227.7 L167.5,228.8 L166.2,229.8 L164.9,230.5 L163.7,231 L162.5,231 L161.2,230.5 L160,229.8 L158.8,229.4 L157.7,229.5 L156.7,230.2 L155.7,231.4 L154.8,232.8 L154,234.2 L153.3,235.5 L152.7,236.6 L152.2,237.7 L151.8,238.8 L151.4,239.9 L151,241 L150.6,242.2 L150.1,243.3 L149.7,244.6 L149.3,245.9 L148.8,247.4 L148.3,249.1 L147.7,251.1 L147.2,253.1 L146.6,255.1 L146,257 L145.4,258.8 L144.7,260.6 L144.1,262.3 L143.5,263.9 L142.9,265.3 L142.4,266.4 L141.9,267.3 L141.4,268.1 L141,268.8 L140.5,269.5 L140,270.3 L139.5,271.1 L139,271.9 L138.5,272.6 L138,273.2 L137.5,273.7 L137,274.1 L136.5,274.5 L136,274.7 L135.5,274.7 L135,274.6 L134.5,274.3 L134,273.9 L133.5,273.4 L133,272.8 L132.5,272.2 L132,271.5 L131.5,270.7 L131,269.9 L130.5,269 L130,268 L129.5,267 L129,265.9 L128.5,264.7 L128,263.5 L127.5,262.2 L127,260.9 L126.5,259.6 L126,258 L125.5,256.2 L124.9,254.1 L124.3,251.6 L123.7,249.1 L123.1,246.5 L122.5,244 L121.9,241.7 L121.4,239.5 L120.8,237.3 L120.2,235 L119.5,232.4 L118.7,229 L117.8,225 L116.9,221 L116,217.8 L115.1,216.1 L114.2,216.5 L113.4,218.3 L112.6,221 L111.8,223.8 L111,226 L110.3,227.6 L109.6,229.1 L109,230.4 L108.3,231.5 L107.7,232.4 L107.1,232.9 L106.4,233.2 L105.8,233.3 L105.3,233.3 L104.8,233.5 L104.4,233.6 L104.2,233.4 L104,233.5 L103.7,234 L103.2,235.4 L102.5,238 L101.7,241.5 L100.8,245.5 L99.8,249.6 L98.8,253.2 L97.7,256.5 L96.5,259.7 L95.2,262.7 L94,265.6 L92.8,268 L91.6,270.1 L90.3,271.9 L89.1,273.4 L88.1,274.6 L87.4,275.5 Z" fill="#3a3aff" opacity="0.16" filter="url(#b3)"/>
<path d="M69.1,197 L69.5,198.2 L70,199.9 L70.7,201.8 L71.4,203.7 L72,205.2 L72.6,206.3 L73.2,207.1 L73.8,207.9 L74.4,208.5 L75,209 L75.6,209.3 L76.2,209.4 L76.7,209.4 L77.3,209.7 L77.9,210.5 L78.5,211.9 L79.1,213.7 L79.7,215.8 L80.3,218 L80.9,220.2 L81.5,222.4 L82.1,224.8 L82.7,227.2 L83.3,229.7 L83.9,232.1 L84.5,234.6 L85.2,237.4 L85.9,240 L86.5,242.3 L86.9,244 L87.2,245 L87.3,245.4 L87.4,245.5 L87.4,245.5 L87.4,245.5 L87.4,265.5 L87.4,265.5 L87.4,265.5 L87.3,265.4 L87.2,265 L86.9,264 L86.5,262.3 L85.9,260 L85.2,257.4 L84.5,254.6 L83.9,252.1 L83.3,249.7 L82.7,247.2 L82.1,244.8 L81.5,242.4 L80.9,240.2 L80.3,238 L79.7,235.8 L79.1,233.7 L78.5,231.9 L77.9,230.5 L77.3,229.7 L76.7,229.4 L76.2,229.4 L75.6,229.3 L75,229 L74.4,228.5 L73.8,227.9 L73.2,227.1 L72.6,226.3 L72,225.2 L71.4,223.7 L70.7,221.8 L70,219.9 L69.5,218.2 L69.1,217 Z" fill="#3a3aff" opacity="0.12" filter="url(#b3)"/>
<line x1="29.1" y1="147.5" x2="29.1" y2="268" stroke="#ececec" stroke-width="0.5"/>
<line x1="47.4" y1="147.5" x2="47.4" y2="268" stroke="#ececec" stroke-width="0.5"/>
<line x1="57" y1="147.5" x2="57" y2="268" stroke="#ececec" stroke-width="0.5"/>
<line x1="77.9" y1="147.5" x2="77.9" y2="268" stroke="#ececec" stroke-width="0.5"/>
<line x1="87.1" y1="147.5" x2="87.1" y2="268" stroke="#ececec" stroke-width="0.5"/>
<line x1="104.8" y1="147.5" x2="104.8" y2="268" stroke="#ececec" stroke-width="0.5"/>
<line x1="115.4" y1="147.5" x2="115.4" y2="268" stroke="#ececec" stroke-width="0.5"/>
<line x1="135.9" y1="147.5" x2="135.9" y2="268" stroke="#ececec" stroke-width="0.5"/>
<line x1="153.9" y1="147.5" x2="153.9" y2="268" stroke="#ececec" stroke-width="0.5"/>
<line x1="164.5" y1="147.5" x2="164.5" y2="268" stroke="#ececec" stroke-width="0.5"/>
<line x1="174.4" y1="147.5" x2="174.4" y2="268" stroke="#ececec" stroke-width="0.5"/>
<line x1="183.9" y1="147.5" x2="183.9" y2="268" stroke="#ececec" stroke-width="0.5"/>
<line x1="29.1" y1="268" x2="183.6" y2="268" stroke="#ececec" stroke-width="0.5"/>
<line x1="29.1" y1="237.9" x2="183.6" y2="237.9" stroke="#ececec" stroke-width="0.5"/>
<line x1="29.1" y1="207.8" x2="183.6" y2="207.8" stroke="#ececec" stroke-width="0.5"/>
<line x1="29.1" y1="177.6" x2="183.6" y2="177.6" stroke="#ececec" stroke-width="0.5"/>
<line x1="29.1" y1="147.5" x2="183.6" y2="147.5" stroke="#ececec" stroke-width="0.5"/>
<path d="M30.2,260.3 L30.7,259.6 L31.4,258.8 L32.3,257.6 L33.1,256.1 L33.9,254.5 L34.5,252.6 L35.2,250.5 L36,248.2 L36.7,245.8 L37.5,243.4 L38.3,240.7 L39,237.9 L39.8,234.9 L40.7,232.1 L41.5,229.5 L42.3,227 L43.1,224.6 L44,222.4 L44.7,220.4 L45.4,218.7 L46,217.4 L46.4,216.5 L46.8,215.8 L47.3,215.2 L47.9,214.5 L48.7,213.7 L49.6,212.9 L50.7,212.1 L51.7,211 L52.5,209.7 L53.1,208.3 L53.7,206.6 L54.2,204.9 L54.7,203.2 L55.2,201.8 L55.6,200.3 L56,198.9 L56.3,197.6 L56.7,196.7 L57,196.5 L56.9,196.5 L57.3,196.9 L57.6,197.8 L58,199 L58.3,200.3 L58.7,201.7 L59,203.5 L59.3,205.4 L59.7,207.5 L60.1,209.5 L60.5,211.6 L61,213.8 L61.6,216 L62.1,218.3 L62.7,220.5 L63.2,222.9 L63.8,225.4 L64.5,227.9 L65,230.3 L65.6,232.4 L66,234.2 L66.4,235.8 L66.8,237.3 L67.1,238.8 L67.6,240.4 L68.1,242.1 L68.6,244 L69.2,245.8 L69.7,247.6 L70.3,249.3 L70.9,251 L71.4,252.5 L71.9,254.1 L72.5,255.6 L73.1,256.9 L73.7,258.2 L74.5,259.5 L75.3,260.8 L76.2,261.9 L77.6,262.9 L79.5,262.3 L80.3,261.1 L80.9,260 L81.5,259 L82,258.1 L82.4,257.3 L82.6,256.6 L82.9,255.8 L83.3,255 L83.8,253.9 L84.6,252.3 L85.6,250.3 L86.6,248.2 L87.5,246.3 L88.2,245 L86.6,244.3 L86,245.5 L85,247.4 L84,249.4 L83,251.4 L82.2,253 L81.6,254.2 L81.3,255.1 L80.9,255.7 L80.5,256.3 L80,256.9 L79.5,257.7 L78.8,258.5 L78.2,259.1 L77.7,259.1 L78.2,258.8 L78.2,259.1 L77.4,258.8 L76.6,258 L75.7,257 L74.9,255.9 L74.2,254.7 L73.5,253.4 L72.9,252 L72.3,250.4 L71.7,248.9 L71.1,247.2 L70.4,245.4 L69.8,243.6 L69.2,241.8 L68.6,240 L68.1,238.5 L67.7,237 L67.3,235.6 L66.9,234 L66.4,232.2 L65.9,230.1 L65.2,227.7 L64.6,225.2 L63.9,222.7 L63.3,220.4 L62.7,218.1 L62.2,215.9 L61.6,213.6 L61,211.5 L60.5,209.4 L60.1,207.4 L59.7,205.4 L59.3,203.4 L59,201.7 L58.7,200.2 L58.3,198.9 L58,197.7 L57.7,196.7 L57.4,196 L56.6,195.8 L56.3,196.5 L56,197.5 L55.6,198.8 L55.2,200.2 L54.8,201.6 L54.3,203.1 L53.8,204.7 L53.2,206.4 L52.5,208 L51.7,209.3 L50.8,210.2 L49.8,211 L48.8,211.8 L47.8,212.7 L46.9,213.6 L46.3,214.5 L45.9,215.2 L45.5,216 L45.1,217 L44.6,218.3 L43.9,220 L43.1,222.1 L42.2,224.3 L41.4,226.7 L40.5,229.2 L39.7,231.8 L38.9,234.7 L38,237.6 L37.2,240.4 L36.3,243 L35.5,245.4 L34.7,247.8 L33.9,250 L33,252 L32.1,253.6 L31.2,254.9 L30.2,256 L29.3,257 L28.6,257.8 L28,258.5 Z" fill="#3b3bff" opacity="0.12" filter="url(#b2)"/>
<path d="M30.2,260.3 L30.7,259.6 L31.4,258.8 L32.3,257.6 L33.2,256.2 L34.1,254.6 L34.8,252.7 L35.6,250.6 L36.3,248.3 L37.1,245.9 L37.9,243.5 L38.7,240.8 L39.5,238 L40.3,235.1 L41.1,232.2 L41.9,229.6 L42.7,227.2 L43.6,224.8 L44.4,222.6 L45.2,220.5 L45.9,218.8 L46.4,217.6 L46.8,216.7 L47.2,216 L47.6,215.4 L48.2,214.7 L48.9,214 L49.9,213.2 L50.9,212.3 L52,211.3 L52.9,210 L53.6,208.5 L54.2,206.8 L54.8,205.1 L55.3,203.4 L55.8,201.9 L56.2,200.5 L56.6,199.1 L56.9,197.8 L57.2,197 L57.2,197 L56.5,196.9 L56.7,197.2 L57.1,198 L57.4,199.1 L57.7,200.4 L58.1,201.9 L58.4,203.6 L58.7,205.6 L59.1,207.6 L59.5,209.7 L60,211.8 L60.5,213.9 L61,216.1 L61.6,218.4 L62.2,220.7 L62.7,223 L63.4,225.5 L64,228 L64.6,230.4 L65.1,232.5 L65.6,234.4 L66,235.9 L66.3,237.4 L66.7,238.9 L67.2,240.5 L67.7,242.2 L68.2,244.1 L68.8,245.9 L69.4,247.7 L70,249.5 L70.6,251.1 L71.1,252.7 L71.7,254.2 L72.3,255.7 L72.9,257 L73.7,258.3 L74.5,259.6 L75.3,260.7 L76.3,261.8 L77.7,262.6 L79.4,262.1 L80.3,261.1 L81,260 L81.6,259 L82.1,258.2 L82.5,257.4 L82.8,256.7 L83.1,255.9 L83.5,255.1 L84.1,254 L84.8,252.4 L85.8,250.4 L86.9,248.3 L87.8,246.4 L88.4,245.2 L86.4,244.1 L85.8,245.4 L84.8,247.2 L83.8,249.3 L82.8,251.3 L81.9,252.9 L81.4,254.1 L81,255 L80.7,255.6 L80.4,256.2 L79.9,256.8 L79.4,257.6 L78.8,258.5 L78.2,259.1 L77.8,259.3 L78.1,259.1 L78.1,259.2 L77.4,258.8 L76.6,258 L75.8,256.9 L75.1,255.8 L74.4,254.6 L73.8,253.3 L73.2,251.9 L72.6,250.3 L72,248.7 L71.4,247.1 L70.8,245.3 L70.2,243.5 L69.6,241.7 L69,239.9 L68.6,238.4 L68.2,236.9 L67.8,235.5 L67.4,233.9 L66.9,232.1 L66.3,230 L65.7,227.6 L65.1,225.1 L64.4,222.6 L63.8,220.2 L63.3,218 L62.7,215.7 L62.1,213.5 L61.6,211.4 L61.1,209.3 L60.7,207.3 L60.3,205.3 L59.9,203.3 L59.6,201.6 L59.3,200 L58.9,198.7 L58.6,197.5 L58.2,196.5 L57.8,195.7 L56.4,195.4 L55.7,196.3 L55.4,197.4 L55,198.7 L54.7,200.1 L54.2,201.4 L53.7,202.9 L53.2,204.6 L52.6,206.2 L52,207.7 L51.3,209 L50.5,209.9 L49.6,210.8 L48.5,211.6 L47.5,212.4 L46.6,213.4 L46,214.3 L45.5,215 L45.1,215.8 L44.7,216.8 L44.1,218.1 L43.4,219.9 L42.6,221.9 L41.8,224.2 L40.9,226.6 L40.1,229.1 L39.3,231.7 L38.4,234.5 L37.6,237.4 L36.8,240.3 L35.9,242.9 L35.1,245.3 L34.3,247.7 L33.5,249.9 L32.7,251.8 L31.9,253.5 L31.1,254.9 L30.2,256 L29.3,257 L28.6,257.8 L28,258.5 Z" fill="#0808ff" filter="url(#b0)"/>
<path d="M29.6,170.4 L30.2,170 L31.1,169.5 L32,168.9 L33,168.4 L33.9,168 L34.7,167.7 L35.6,167.3 L36.2,167.1 L36.7,167.1 L36.9,167.2 L37.3,167.8 L37.8,168.9 L38.3,170.4 L38.7,171.8 L39.2,173.1 L39.5,174.1 L39.9,175 L40.1,175.8 L40.4,176.7 L40.7,177.9 L41,179.5 L41.4,181.4 L41.7,183.5 L42,185.7 L42.4,187.8 L42.8,190 L43.3,192.3 L42.9,194.7 L43.3,196.8 L43.6,198.5 L43.8,199.8 L43.8,200.9 L43.9,202.1 L44.6,203.6 L46.9,204.7 L48.8,204.1 L50,203.1 L51,202 L52,200.8 L53,199.5 L53.7,198 L54.5,196.5 L55.1,194.9 L55.7,193.3 L56.2,191.9 L56.7,190.7 L57.2,189.5 L56.8,188 L57.2,186.9 L57.7,185.5 L58.3,184 L58.9,182.4 L59.5,180.6 L60.1,178.9 L60.6,177.3 L61.2,175.9 L61.6,174.6 L62.1,173.3 L62.6,171.8 L63,170.2 L63.3,168.4 L63.6,166.5 L63.9,164.5 L64.2,162.3 L64.5,160.1 L64.9,157.6 L65.3,154.7 L65.8,151.9 L66.2,149.4 L66.5,147.7 L64.5,147.3 L64.2,149.1 L63.8,151.6 L63.4,154.4 L62.9,157.3 L62.5,159.9 L62.2,162.1 L61.9,164.2 L61.6,166.2 L61.4,168.1 L61,169.8 L60.6,171.3 L60.2,172.6 L59.8,173.9 L59.3,175.2 L58.8,176.7 L58.2,178.3 L57.6,180 L57,181.7 L56.4,183.3 L55.9,184.9 L55.4,186.2 L54.9,187.3 L53.7,188 L53.2,189.1 L52.6,190.3 L51.9,191.6 L51.1,193 L50.3,194.4 L49.6,195.7 L48.8,196.7 L48.1,197.7 L47.3,198.7 L46.6,199.5 L46.1,199.8 L46.7,199.7 L48.2,200.4 L48.4,200.9 L48.2,200.3 L47.9,199.1 L47.6,197.7 L47.1,196 L46.6,193.9 L45.3,191.9 L44.8,189.6 L44.4,187.4 L44,185.3 L43.7,183.2 L43.3,181.1 L43,179.2 L42.7,177.5 L42.4,176.2 L42,175.1 L41.7,174.3 L41.4,173.4 L41,172.5 L40.6,171.2 L40.2,169.7 L39.7,168.2 L39.1,166.9 L38.3,165.8 L37.1,165.2 L35.9,165.2 L34.9,165.5 L34,165.8 L33.1,166.2 L32.1,166.6 L31.1,167.2 L30,167.8 L29.2,168.3 L28.6,168.6 Z" fill="#3b3bff" opacity="0.2" filter="url(#b2)"/>
<path d="M29.3,169.8 L29.9,169.5 L30.8,169 L31.7,168.4 L32.7,167.9 L33.7,167.5 L34.5,167.1 L35.4,166.8 L36.1,166.6 L36.8,166.5 L37.3,166.8 L37.9,167.5 L38.4,168.7 L38.9,170.2 L39.3,171.6 L39.7,172.9 L40.1,173.9 L40.4,174.8 L40.7,175.6 L41,176.5 L41.3,177.8 L41.6,179.4 L42,181.3 L42.3,183.4 L42.6,185.6 L43,187.7 L43.4,189.8 L43.9,192.1 L44,194.5 L44.5,196.6 L44.8,198.3 L45,199.6 L45.1,200.7 L45.3,201.7 L45.7,202.6 L46.9,203.2 L48,202.8 L48.9,202 L49.9,201 L50.9,199.8 L51.7,198.7 L52.5,197.3 L53.2,195.9 L53.9,194.3 L54.5,192.8 L55.1,191.4 L55.7,190.2 L56.1,189.1 L56.2,187.8 L56.7,186.7 L57.2,185.3 L57.7,183.8 L58.3,182.2 L58.9,180.4 L59.5,178.7 L60.1,177.1 L60.6,175.7 L61.1,174.4 L61.5,173.1 L62,171.7 L62.4,170.1 L62.7,168.3 L63,166.4 L63.3,164.4 L63.6,162.3 L63.9,160.1 L64.3,157.5 L64.8,154.6 L65.2,151.8 L65.6,149.3 L65.9,147.6 L65.1,147.4 L64.8,149.2 L64.4,151.7 L64,154.5 L63.5,157.4 L63.1,159.9 L62.8,162.2 L62.5,164.3 L62.2,166.3 L61.9,168.2 L61.6,169.9 L61.2,171.5 L60.8,172.8 L60.3,174.1 L59.8,175.4 L59.3,176.9 L58.8,178.5 L58.2,180.2 L57.6,181.9 L57,183.6 L56.4,185.1 L55.9,186.4 L55.5,187.5 L54.7,188.5 L54.2,189.6 L53.7,190.8 L53,192.1 L52.3,193.6 L51.6,195 L50.8,196.4 L50.1,197.5 L49.3,198.6 L48.4,199.7 L47.6,200.6 L46.9,201.1 L46.7,201.2 L47.1,201.4 L47,201.2 L46.9,200.5 L46.7,199.3 L46.4,197.9 L46,196.2 L45.5,194.2 L44.7,192 L44.2,189.7 L43.8,187.5 L43.4,185.4 L43.1,183.3 L42.7,181.2 L42.4,179.3 L42.1,177.6 L41.8,176.3 L41.5,175.3 L41.2,174.5 L40.8,173.6 L40.5,172.7 L40.1,171.4 L39.6,169.9 L39.1,168.4 L38.6,167.1 L37.9,166.2 L37,165.8 L36,165.8 L35.1,166 L34.2,166.4 L33.3,166.7 L32.4,167.1 L31.4,167.7 L30.4,168.3 L29.5,168.8 L28.9,169.2 Z" fill="#0808ff" filter="url(#b0)"/>
<path d="M29.5,209.8 L29.7,209.3 L30,208.7 L30.5,207.9 L30.9,206.9 L31.5,205.8 L32,204.4 L32.7,202.8 L33.3,201.1 L34,199.4 L34.8,197.6 L35.6,195.7 L36.4,193.8 L37.3,191.8 L38.1,189.7 L38.9,187.7 L39.5,185.7 L40,183.6 L40.5,181.5 L40.9,179.6 L41.3,177.8 L41.6,176.4 L41.9,175.3 L42.2,174.2 L42.5,173 L42.9,171.3 L43.3,169 L43.9,166.4 L44.4,163.6 L44.9,160.7 L45.4,158.2 L45.8,155.7 L46.2,153.2 L46.5,150.9 L46.8,149 L47,147.6 L46.2,147.4 L46,148.8 L45.7,150.8 L45.4,153.1 L45,155.6 L44.6,158 L44.1,160.6 L43.6,163.4 L43.1,166.2 L42.6,168.9 L42.1,171.1 L41.7,172.8 L41.4,174 L41.2,175.1 L40.9,176.2 L40.5,177.6 L40.1,179.4 L39.7,181.3 L39.2,183.4 L38.7,185.5 L38.1,187.5 L37.4,189.4 L36.6,191.4 L35.7,193.4 L34.8,195.4 L34,197.2 L33.3,199.1 L32.6,200.8 L31.9,202.6 L31.3,204.1 L30.7,205.4 L30.2,206.6 L29.8,207.5 L29.3,208.3 L29,208.9 L28.7,209.4 Z" fill="#0808ff" filter="url(#b0)"/>
<path d="M51.1,147.5 L51.3,149.5 L51.7,152.3 L52,155.5 L52.4,158.7 L52.8,161.5 L53.2,163.8 L53.5,165.8 L53.9,167.8 L54.2,169.8 L54.6,172.1 L55,174.7 L55.4,177.8 L55.8,180.8 L56.2,183.4 L56.4,185.3 L57.2,185.1 L57,183.3 L56.6,180.7 L56.2,177.7 L55.8,174.6 L55.4,171.9 L55,169.7 L54.7,167.7 L54.3,165.7 L53.9,163.6 L53.6,161.3 L53.2,158.6 L52.8,155.4 L52.5,152.2 L52.1,149.4 L51.9,147.5 Z" fill="#0808ff" filter="url(#b0)"/>
<path d="M58.6,147.6 L58.8,149 L59.1,151.1 L59.4,153.5 L59.8,155.9 L60.1,158.1 L60.4,160 L60.6,162 L60.8,163.8 L61.2,165.4 L61.9,166.6 L63,167.1 L64.3,166.9 L65.5,166.4 L66.7,166 L67.9,165.9 L69.1,166.2 L70.5,166.7 L71.9,167.3 L73.2,167.8 L74.3,168.3 L75.2,168.7 L75.9,169.1 L76.6,169.5 L77.5,169.5 L78.2,168.9 L78.8,167.8 L79.4,166.2 L79.9,164.3 L80.4,162.2 L80.9,160.1 L81.3,157.6 L81.8,154.7 L82.2,151.8 L82.5,149.3 L82.8,147.6 L82,147.4 L81.8,149.2 L81.4,151.7 L81,154.6 L80.6,157.5 L80.1,159.9 L79.6,162 L79.2,164.1 L78.6,166 L78.1,167.5 L77.6,168.5 L77.2,168.8 L76.9,168.8 L76.3,168.4 L75.6,168 L74.7,167.5 L73.5,167.1 L72.2,166.5 L70.8,165.9 L69.3,165.4 L67.9,165.1 L66.6,165.2 L65.2,165.6 L64,166.1 L63.1,166.3 L62.5,166 L62,165.1 L61.6,163.7 L61.4,161.9 L61.2,159.9 L60.9,157.9 L60.6,155.8 L60.2,153.4 L59.9,151 L59.6,148.9 L59.4,147.4 Z" fill="#0808ff" filter="url(#b0)"/>
<path d="M61.2,166.5 L61.3,167.1 L61.4,168 L61.6,169.1 L61.9,170.5 L62.2,172.2 L62.7,174.4 L63.2,177 L63.9,179.9 L64.5,182.8 L65.1,185.4 L65.7,187.9 L66.3,190.4 L66.9,192.9 L67.5,195.2 L68.1,197.3 L68.7,199.2 L69.3,201.1 L69.1,203.1 L69.6,204.6 L70.2,206.1 L70.8,207.4 L71.5,208.4 L72.2,209.3 L72.9,210 L73.7,210.8 L74.9,211.5 L76,211.7 L76.1,211.7 L75.6,211.5 L75.7,211.7 L76.1,212.8 L76.6,214.5 L77.1,216.5 L77.7,218.7 L78.2,220.9 L78.7,223.2 L79.2,225.5 L79.7,228 L80.2,230.4 L80.7,232.9 L81.3,235.5 L81.9,238.2 L82.4,240.9 L82.9,243.2 L83.3,244.9 L83.4,246 L83.5,246.8 L85.2,249 L88.1,249.7 L83.9,248.1 L90.9,242.9 L86.7,241.3 L89.5,242 L91.1,244.1 L90.9,243.9 L90.5,243.1 L90,241.4 L89.3,239.1 L88.6,236.5 L87.8,233.8 L87.1,231.3 L86.4,228.9 L85.7,226.5 L85,224.1 L84.3,221.7 L83.6,219.5 L82.9,217.3 L82.2,215.1 L81.6,212.9 L80.9,211 L80.1,209.3 L79,207.9 L77.4,207.1 L76.4,207 L76.3,207.1 L76.3,207.2 L75.9,206.9 L75.4,206.4 L74.9,205.9 L74.3,205.2 L73.8,204.3 L73.2,203.1 L72.6,201.8 L71.2,200.4 L70.6,198.6 L70.1,196.7 L69.5,194.6 L68.9,192.4 L68.3,190 L67.7,187.5 L67.1,185 L66.5,182.3 L65.8,179.4 L65.2,176.6 L64.6,174 L64.2,171.8 L63.8,170.1 L63.6,168.7 L63.4,167.7 L63.3,166.8 L63.2,166.1 Z" fill="#3b3bff" opacity="0.2" filter="url(#b2)"/>
<path d="M61.8,166.4 L61.9,167 L62,167.9 L62.2,169 L62.5,170.4 L62.8,172.1 L63.3,174.3 L63.8,176.9 L64.5,179.7 L65.1,182.6 L65.7,185.3 L66.3,187.8 L66.9,190.3 L67.5,192.7 L68.1,195 L68.7,197.1 L69.3,199.1 L69.9,200.9 L70.1,202.7 L70.7,204.2 L71.3,205.6 L71.9,206.7 L72.5,207.7 L73.2,208.4 L73.8,209.1 L74.5,209.7 L75.3,210.2 L76.1,210.3 L76.5,210.3 L76.6,210.4 L77,211 L77.5,212.2 L78.1,214 L78.7,216.1 L79.3,218.3 L79.8,220.5 L80.4,222.7 L81,225.1 L81.5,227.5 L82.1,230 L82.6,232.4 L83.2,235 L83.9,237.7 L84.5,240.3 L85,242.6 L85.4,244.4 L85.7,245.4 L85.8,246 L86.5,246.9 L87.6,247.1 L86,246.5 L88.8,244.5 L87.1,243.8 L88.2,244.1 L88.8,244.9 L88.7,244.6 L88.4,243.6 L87.9,241.9 L87.3,239.6 L86.6,237 L85.8,234.3 L85.2,231.8 L84.5,229.4 L83.9,226.9 L83.2,224.5 L82.6,222.2 L82,219.9 L81.3,217.7 L80.7,215.5 L80.1,213.4 L79.4,211.5 L78.8,210 L78,209 L77,208.5 L76.2,208.4 L75.9,208.4 L75.5,208.3 L75,207.8 L74.4,207.3 L73.9,206.6 L73.3,205.8 L72.7,204.8 L72.1,203.6 L71.6,202.1 L70.6,200.6 L70.1,198.8 L69.5,196.9 L68.9,194.8 L68.3,192.5 L67.7,190.1 L67.1,187.6 L66.5,185.1 L65.9,182.4 L65.2,179.6 L64.6,176.7 L64,174.1 L63.6,171.9 L63.3,170.2 L63,168.8 L62.8,167.7 L62.7,166.9 L62.6,166.2 Z" fill="#0808ff" filter="url(#b0)"/>
<path d="M90.3,250.4 L90.9,249.5 L91.9,248.2 L93,246.4 L94.1,244.1 L95,241.6 L96,238.8 L97.1,235.7 L98.2,232.4 L99.2,228.9 L100.1,225.4 L100.9,221.5 L101.7,217.3 L102.5,213 L103.3,209.4 L103.9,206.7 L104.5,205.4 L105.1,205.5 L103.7,206.4 L104.2,206.7 L105.4,206.4 L105.8,206.3 L106.1,206.3 L107,206.1 L108,205.4 L108.8,204.3 L109.3,203 L109.8,201.7 L110.4,200.3 L111,198.7 L111.6,197 L112.2,194.6 L112.9,191.7 L113.7,188.9 L114.6,187.1 L114.8,186.9 L115.7,188.3 L116.6,191.6 L117.4,195.7 L118.2,200 L118.9,203.5 L119.5,206.3 L120,208.7 L120.6,211 L121.1,213.3 L121.6,215.7 L122.2,218.3 L122.7,221 L123.3,223.7 L123.8,226.2 L124.2,228.5 L124.6,230.4 L125,232.1 L125.4,233.7 L125.8,235.1 L126.2,236.4 L126.6,237.8 L127,239.1 L127.4,240.3 L127.8,241.5 L128.2,242.6 L128.6,243.7 L129,244.8 L129.4,245.8 L129.8,246.8 L130.2,247.7 L130.7,248.5 L131.2,249.4 L131.9,250.5 L133,251.8 L135,252.7 L137.3,252.4 L138.8,251.3 L139.7,250.2 L140.3,249.2 L140.8,248.3 L141.2,247.2 L141.6,246.2 L142,245.2 L142.5,244.3 L142.9,243.4 L143.4,242.7 L143.8,241.9 L144.2,241 L144.5,239.8 L144.9,238.4 L145.3,236.9 L145.8,235.2 L146.4,233.3 L146.9,231.4 L147.4,229.4 L147.9,227.4 L148.4,225.3 L148.9,223.1 L149.4,221.1 L149.9,219.3 L150.4,217.8 L150.8,216.4 L151.2,215.1 L151.6,213.9 L152,212.7 L152.4,211.5 L152.8,210.4 L153.2,209.3 L153.7,208.3 L154.3,207.2 L155,205.8 L155.8,204.4 L156.7,203 L157.6,202.1 L158.3,201.9 L158.5,202 L159.3,202.2 L160.5,202.9 L162.1,203.7 L164,203.8 L165.7,202.9 L167.1,201.9 L168.3,200.6 L169.5,199.3 L170.4,197.9 L171,196.4 L171.5,194.8 L171.9,193.3 L172.4,191.9 L173,190.7 L173.5,189.8 L174.1,188.9 L174.7,188.2 L175.3,187.5 L175.9,187 L176.7,186.6 L177.5,186.2 L178.4,185.9 L179.3,185.7 L180.2,185.5 L181,185.4 L181.9,185.4 L182.7,185.5 L183.4,185.5 L184,185.5 L184,184.4 L183.5,184.4 L182.8,184.3 L181.9,184.3 L180.9,184.3 L180,184.4 L179.1,184.6 L178.1,184.8 L177.1,185.1 L176.2,185.5 L175.3,186.1 L174.5,186.7 L173.8,187.5 L173.2,188.3 L172.6,189.2 L172,190.3 L171.5,191.5 L171,193 L170.4,194.4 L169.7,195.8 L168.8,196.8 L167.8,197.7 L166.6,198.7 L165.3,199.4 L164.2,200 L163.4,200.1 L162.9,200.1 L161.9,199.9 L160.7,199.2 L159.1,198.6 L157.1,198.8 L155.7,200.2 L154.7,201.6 L153.8,203.2 L153,204.7 L152.3,206.1 L151.7,207.3 L151.2,208.5 L150.8,209.7 L150.4,210.8 L150,212 L149.5,213.2 L149.1,214.4 L148.6,215.7 L148.2,217.1 L147.7,218.7 L147.2,220.5 L146.6,222.5 L146,224.6 L145.3,226.6 L144.6,228.5 L143.9,230.3 L143.1,232.2 L142.4,233.9 L141.6,235.5 L140.9,236.8 L140.2,237.7 L139.6,238.4 L139,239 L138.5,239.7 L138.1,240.5 L137.5,241.4 L137,242.1 L136.4,242.8 L135.8,243.2 L135.2,243.4 L134.7,243.4 L134.3,243.4 L134.2,242.9 L134.7,242.3 L136,242.1 L137,242.7 L137.1,243.4 L136.8,243.6 L136.3,243.4 L135.8,243.1 L135.2,242.8 L134.6,242.3 L134,241.8 L133.4,241.1 L132.8,240.3 L132.2,239.4 L131.6,238.4 L131,237.4 L130.4,236.3 L129.8,235.1 L129.2,233.8 L128.7,232.5 L128.1,231.1 L127.4,229.6 L126.8,227.8 L126.1,225.6 L125.4,223.2 L124.7,220.5 L124.1,217.8 L123.4,215.2 L122.8,212.9 L122.2,210.6 L121.6,208.4 L120.9,205.9 L120.1,203.2 L119.2,199.8 L118.2,195.6 L117.2,191.4 L116.3,188.1 L115.4,186 L113.9,186.5 L113.1,188.7 L112.2,191.5 L111.3,194.3 L110.4,196.5 L109.6,198.1 L108.8,199.6 L108.1,200.9 L107.4,201.9 L106.6,202.5 L106.1,202.5 L105.9,202.3 L105.6,202.3 L104.8,202.4 L104.2,202.6 L104.7,202.6 L104.7,202.5 L102.9,203.5 L102.8,204.7 L102.5,206.3 L101.8,209 L100.9,212.7 L99.9,216.8 L98.8,221 L97.5,224.6 L96.2,227.9 L94.8,231.1 L93.4,234.2 L92,237 L90.6,239.3 L89.1,241.1 L87.7,242.6 L86.4,243.8 L85.3,245 L84.5,246 Z" fill="#3b3bff" opacity="0.12" filter="url(#b2)"/>
<path d="M89.3,249.7 L90,248.8 L91,247.5 L92.2,245.8 L93.3,243.7 L94.5,241.3 L95.5,238.6 L96.7,235.6 L97.9,232.3 L99,228.9 L100,225.4 L100.9,221.5 L101.8,217.3 L102.7,213.1 L103.5,209.4 L104.2,206.8 L104.7,205.4 L105,205.4 L103.8,206 L104.3,206.2 L105.3,206.1 L105.7,205.9 L106,205.9 L106.9,205.7 L107.9,205.2 L108.7,204.2 L109.3,203.1 L109.9,201.8 L110.5,200.3 L111.2,198.8 L111.9,197.1 L112.6,194.7 L113.3,191.8 L114.1,189 L114.9,187.3 L114.6,187.1 L115.3,188.4 L116.2,191.7 L117,195.8 L117.9,200.1 L118.6,203.6 L119.3,206.3 L119.8,208.8 L120.4,211.1 L120.9,213.3 L121.5,215.7 L122.1,218.3 L122.6,221 L123.2,223.7 L123.8,226.2 L124.3,228.5 L124.8,230.4 L125.2,232.1 L125.6,233.6 L126.1,234.9 L126.5,236.3 L127,237.6 L127.5,238.9 L127.9,240.1 L128.4,241.2 L128.8,242.3 L129.3,243.3 L129.7,244.3 L130.2,245.2 L130.7,246.1 L131.2,246.9 L131.7,247.7 L132.2,248.4 L132.8,249.2 L133.8,250.1 L135.2,250.6 L136.8,250.4 L137.9,249.7 L138.7,249 L139.3,248.2 L139.8,247.5 L140.3,246.6 L140.8,245.6 L141.3,244.7 L141.8,243.8 L142.2,243 L142.7,242.3 L143.1,241.5 L143.6,240.6 L144,239.5 L144.4,238.3 L145,236.8 L145.5,235.1 L146.1,233.2 L146.7,231.3 L147.3,229.4 L147.8,227.4 L148.4,225.2 L148.9,223.1 L149.4,221.1 L149.9,219.3 L150.4,217.8 L150.8,216.4 L151.3,215.1 L151.7,213.9 L152.1,212.7 L152.5,211.5 L152.9,210.4 L153.3,209.3 L153.8,208.3 L154.4,207.2 L155.1,205.8 L155.8,204.4 L156.7,203 L157.6,202 L158.2,201.7 L158.6,201.7 L159.4,202 L160.6,202.7 L162.1,203.4 L164,203.4 L165.6,202.7 L167,201.8 L168.3,200.6 L169.5,199.3 L170.5,198 L171.2,196.5 L171.8,194.9 L172.3,193.4 L172.7,192 L173.3,190.9 L173.8,189.9 L174.4,189.1 L174.9,188.4 L175.5,187.8 L176.1,187.3 L176.8,186.9 L177.6,186.5 L178.5,186.2 L179.4,186 L180.2,185.9 L181,185.8 L181.9,185.7 L182.7,185.8 L183.4,185.8 L184,185.9 L184,184.1 L183.5,184.1 L182.8,184 L181.9,184 L180.9,184 L180,184.1 L179,184.3 L178,184.5 L177,184.8 L176,185.3 L175.1,185.8 L174.3,186.5 L173.6,187.2 L172.9,188.1 L172.3,189 L171.7,190.1 L171.2,191.4 L170.7,192.9 L170.1,194.3 L169.5,195.7 L168.7,196.7 L167.7,197.7 L166.6,198.7 L165.4,199.6 L164.3,200.2 L163.4,200.4 L162.8,200.4 L161.8,200.1 L160.6,199.4 L159,198.8 L157.2,199.1 L155.8,200.2 L154.7,201.6 L153.8,203.2 L153,204.7 L152.2,206.1 L151.6,207.3 L151.2,208.5 L150.8,209.6 L150.4,210.8 L149.9,212 L149.5,213.2 L149,214.4 L148.6,215.7 L148.2,217.1 L147.7,218.7 L147.1,220.5 L146.6,222.5 L146,224.6 L145.4,226.7 L144.7,228.6 L144.1,230.4 L143.4,232.2 L142.7,234 L142,235.6 L141.4,237 L140.8,238 L140.2,238.8 L139.7,239.4 L139.2,240.1 L138.8,240.9 L138.3,241.8 L137.7,242.6 L137.2,243.3 L136.7,243.8 L136.2,244.2 L135.7,244.5 L135.3,244.6 L135.1,244.5 L135.2,244.2 L135.8,244.1 L136.2,244.4 L136.2,244.7 L135.8,244.6 L135.3,244.3 L134.8,243.9 L134.3,243.4 L133.8,242.9 L133.3,242.2 L132.7,241.4 L132.2,240.6 L131.6,239.7 L131.1,238.7 L130.5,237.6 L130,236.4 L129.5,235.2 L128.9,233.9 L128.4,232.6 L127.9,231.2 L127.3,229.6 L126.7,227.8 L126.1,225.6 L125.5,223.1 L124.8,220.5 L124.2,217.8 L123.5,215.2 L122.9,212.8 L122.4,210.6 L121.8,208.3 L121.1,205.9 L120.4,203.2 L119.5,199.7 L118.6,195.5 L117.7,191.3 L116.7,187.9 L115.6,185.7 L113.6,186.3 L112.7,188.5 L111.8,191.4 L111,194.2 L110.1,196.4 L109.4,198 L108.7,199.5 L108,200.8 L107.3,201.9 L106.7,202.6 L106.3,202.7 L106,202.7 L105.7,202.7 L104.9,202.8 L104.3,203 L104.6,203 L104.6,202.9 L103,203.6 L102.7,204.7 L102.2,206.2 L101.6,209 L100.7,212.7 L99.8,216.8 L98.7,221 L97.6,224.7 L96.4,228 L95.1,231.2 L93.8,234.3 L92.4,237.2 L91.1,239.6 L89.8,241.5 L88.5,243.2 L87.3,244.6 L86.2,245.8 L85.5,246.7 Z" fill="#0808ff" filter="url(#b0)"/>
<path d="M153.5,208 L154.3,207.9 L155.1,207.8 L155.6,207.7 L155.8,207.7 L155.9,207.7 L156.4,208.5 L157.2,210.3 L158.1,212.5 L159.2,214.6 L160.7,216.4 L163,217.2 L165.1,216.8 L166.6,215.7 L167.8,214.4 L168.9,212.7 L169.9,210.6 L170.9,208 L171.9,205.2 L172.7,202.5 L173.5,200.3 L174.1,198.5 L174.6,196.8 L175,195.4 L175.5,194.1 L175.9,192.8 L176.3,191.5 L176.8,190.1 L177.3,188.9 L177.7,187.8 L177.9,187.1 L173.3,185.3 L173,186.1 L172.6,187.2 L172.1,188.4 L171.6,189.8 L171.1,191.2 L170.7,192.6 L170.3,193.9 L169.8,195.3 L169.3,196.9 L168.7,198.7 L168,201 L167.1,203.6 L166.2,206.3 L165.3,208.6 L164.5,210.3 L163.8,211.3 L163.2,212 L163,212.2 L163.2,212.2 L163.7,212.4 L163.4,212 L162.7,210.4 L161.8,208.3 L160.8,206.2 L159.5,204.3 L157.7,203.1 L155.8,202.7 L154.4,202.8 L153.5,203 L153.1,203 Z" fill="#3b3bff" opacity="0.2" filter="url(#b2)"/>
<path d="M153.4,206.5 L154,206.4 L154.9,206.3 L155.7,206.2 L156.4,206.3 L157,206.7 L157.7,207.8 L158.6,209.7 L159.5,211.9 L160.4,213.8 L161.6,215.2 L163.1,215.7 L164.4,215.4 L165.6,214.6 L166.6,213.4 L167.6,212 L168.5,210 L169.5,207.5 L170.4,204.7 L171.3,202.1 L172,199.8 L172.7,198 L173.2,196.4 L173.6,195 L174,193.6 L174.4,192.3 L174.9,191 L175.4,189.6 L175.9,188.4 L176.3,187.3 L176.5,186.5 L174.7,185.9 L174.4,186.6 L174,187.7 L173.5,188.9 L173,190.3 L172.6,191.7 L172.1,193 L171.7,194.4 L171.3,195.8 L170.8,197.4 L170.2,199.2 L169.4,201.4 L168.5,204.1 L167.6,206.8 L166.7,209.2 L165.8,211 L165,212.2 L164.2,213.1 L163.6,213.6 L163.2,213.7 L162.8,213.6 L162.1,212.8 L161.3,211.1 L160.4,208.9 L159.5,206.9 L158.4,205.3 L157.1,204.5 L155.8,204.2 L154.6,204.3 L153.7,204.5 L153.2,204.5 Z" fill="#0808ff" filter="url(#b0)"/>
<path d="M99.8,147.6 L100,148.9 L100.2,150.7 L100.5,152.9 L100.8,155.1 L101.1,157.1 L101.4,158.9 L101.7,160.8 L102,162.7 L102.4,164.3 L102.8,165.5 L103.4,166.2 L104.2,166.5 L104.9,166.4 L105.5,166.3 L106.1,166.2 L106.7,166.1 L107.4,165.9 L108.1,165.7 L108.6,165.6 L109.1,165.7 L109.5,165.9 L109.9,166.3 L110.3,166.9 L110.7,167.5 L111.1,168.2 L111.5,169.2 L111.9,170.6 L112.3,172 L112.9,173 L113.9,173 L114.5,171.7 L115.1,169.8 L115.7,167.4 L116.3,164.7 L116.9,162.1 L117.5,159.2 L118.2,155.9 L118.9,152.5 L119.5,149.6 L119.9,147.6 L119.1,147.4 L118.7,149.5 L118.1,152.4 L117.4,155.7 L116.8,159 L116.1,161.9 L115.5,164.5 L114.9,167.2 L114.3,169.6 L113.8,171.5 L113.3,172.4 L113.4,172.4 L113.1,171.7 L112.7,170.4 L112.3,168.9 L111.9,167.8 L111.4,167.1 L111,166.4 L110.5,165.8 L110,165.3 L109.3,164.9 L108.6,164.8 L107.9,164.9 L107.2,165.1 L106.5,165.3 L105.9,165.4 L105.3,165.5 L104.7,165.7 L104.3,165.7 L103.9,165.6 L103.6,165.1 L103.2,164 L102.8,162.5 L102.5,160.7 L102.2,158.8 L101.9,156.9 L101.6,155 L101.3,152.8 L101,150.6 L100.8,148.8 L100.6,147.4 Z" fill="#0808ff" filter="url(#b0)"/>
<path d="M148.3,147.8 L148.6,149.3 L148.9,151.5 L149.3,154 L149.7,156.4 L150,158.4 L150.3,159.9 L150.6,161.2 L150.8,162.3 L151.1,163.3 L151.4,164.2 L151.7,165 L152.1,165.8 L152.7,166.7 L154.4,167.5 L156.3,166.7 L157,165.5 L157.5,164.3 L158,163 L158.4,161.8 L158.8,160.9 L159.1,160.2 L159.5,159.7 L159.9,159.1 L160.4,158.3 L161,157.3 L161.6,156.1 L162.2,154.6 L162.8,153.2 L163.3,151.9 L163.8,150.9 L164.2,150.2 L164.5,149.6 L164.7,149.2 L165,148.9 L165.2,148.6 L161.8,146.4 L161.7,146.7 L161.4,147 L161.1,147.6 L160.7,148.3 L160.2,149.1 L159.7,150.3 L159.1,151.6 L158.5,153.1 L157.9,154.4 L157.4,155.5 L157,156.3 L156.6,156.8 L156.2,157.5 L155.7,158.2 L155.2,159.1 L154.7,160.3 L154.2,161.7 L153.8,162.9 L153.4,163.8 L153.3,163.9 L154.5,163.5 L155.6,163.9 L155.6,163.9 L155.4,163.4 L155.2,162.8 L154.9,162.1 L154.7,161.3 L154.5,160.3 L154.2,159.1 L154,157.6 L153.6,155.7 L153.2,153.3 L152.9,150.9 L152.5,148.7 L152.3,147.2 Z" fill="#3b3bff" opacity="0.2" filter="url(#b2)"/>
<path d="M149.5,147.6 L149.7,149.1 L150.1,151.3 L150.5,153.8 L150.9,156.2 L151.2,158.1 L151.5,159.6 L151.8,160.9 L152,162 L152.3,162.9 L152.5,163.8 L152.8,164.5 L153.1,165.2 L153.6,165.8 L154.4,166.3 L155.4,165.8 L155.9,165 L156.4,163.9 L156.8,162.6 L157.3,161.4 L157.7,160.3 L158.1,159.6 L158.5,159 L158.9,158.4 L159.4,157.7 L159.9,156.8 L160.5,155.6 L161.1,154.2 L161.7,152.7 L162.2,151.4 L162.7,150.3 L163.1,149.6 L163.4,149 L163.7,148.6 L164,148.2 L164.2,147.9 L162.8,147.1 L162.7,147.3 L162.4,147.7 L162.1,148.2 L161.7,148.8 L161.3,149.7 L160.8,150.8 L160.2,152.1 L159.6,153.5 L159,154.9 L158.5,156 L158,156.9 L157.6,157.5 L157.2,158.1 L156.7,158.8 L156.3,159.7 L155.8,160.8 L155.3,162.1 L154.9,163.3 L154.5,164.3 L154.2,164.8 L154.5,164.7 L154.7,164.7 L154.6,164.5 L154.3,163.9 L154.1,163.2 L153.8,162.5 L153.6,161.6 L153.3,160.6 L153.1,159.3 L152.8,157.9 L152.4,155.9 L152.1,153.5 L151.7,151.1 L151.3,148.9 L151.1,147.4 Z" fill="#0808ff" filter="url(#b0)"/>
<path d="M169.2,147.6 L169.5,149.5 L169.8,152.1 L170.2,155.3 L170.6,158.7 L171.1,162.1 L171.6,165.7 L172.1,169.7 L172.6,173.8 L173.1,177.4 L173.7,180.3 L174.2,182.2 L174.7,183.4 L175.3,184.1 L176,184.6 L177,185.1 L178.3,185.5 L179.9,185.6 L181.6,185.6 L183,185.6 L184,185.6 L184,184.8 L183,184.8 L181.5,184.8 L179.9,184.8 L178.4,184.7 L177.2,184.3 L176.4,183.9 L175.9,183.6 L175.4,183 L175,181.9 L174.5,180.1 L173.9,177.3 L173.4,173.7 L172.9,169.6 L172.4,165.6 L171.9,161.9 L171.4,158.6 L171,155.2 L170.6,152 L170.2,149.4 L170,147.4 Z" fill="#0808ff" filter="url(#b0)"/>
<path d="M179.7,147.6 L180,149.3 L180.3,151.6 L180.7,154.4 L181.2,157.3 L181.6,160.1 L182,162.8 L182.5,165.8 L182.9,168.6 L183.3,171.1 L183.6,172.9 L184.4,172.7 L184.1,171 L183.7,168.5 L183.3,165.7 L182.8,162.7 L182.4,159.9 L182,157.2 L181.5,154.3 L181.1,151.5 L180.8,149.1 L180.5,147.4 Z" fill="#0808ff" filter="url(#b0)"/>
<line x1="29.1" y1="177.6" x2="183.6" y2="177.6" stroke="#9a9a9a" stroke-width="0.85" stroke-dasharray="2.6,1.8"/>
<path d="M29.1,260.4 C29.8,259.5 31.7,257.7 33,255 C34.3,252.3 35.6,248.2 36.9,244 C38.2,239.8 39.6,234.2 41,230 C42.4,225.8 43.9,221.6 45,219 C46.1,216.4 46.2,216 47.4,214.5 C48.6,213 50.8,212 52.1,209.9 C53.4,207.8 54.2,204.2 55,202 C55.8,199.8 56.2,196.7 56.8,196.4 C57.4,196.2 57.9,198.2 58.5,200.5 C59.1,202.8 59.5,206.5 60.3,209.9 C61,213.3 62,217.2 63,221 C64,224.8 65.2,229.7 66,233 C66.8,236.3 67.3,238.2 68.1,241 C68.9,243.8 70,247.3 71,250 C72,252.7 72.8,255.4 74,257.4 C75.2,259.4 76.7,261.7 77.9,261.9 C79.1,262.1 80.2,259.8 81,258.5 C81.8,257.2 81.9,256.6 83,254.4 C84.1,252.2 86.7,247 87.4,245.5" fill="none" stroke="#111" stroke-width="1.1" stroke-linejoin="round"/>
<path d="M29.1,169.5 C29.8,169.1 32.1,167.6 33.5,167.1 C34.9,166.6 36.5,165.6 37.6,166.5 C38.7,167.4 39.4,170.9 40.1,172.8 C40.8,174.7 41.2,175.2 41.7,177.7 C42.2,180.2 42.8,184.2 43.4,187.6 C44,191 45,195.7 45.6,198.1 C46.2,200.5 45.9,202.2 46.8,202.2 C47.7,202.2 49.6,199.9 50.9,198.1 C52.2,196.2 53.4,193.2 54.4,191.1 C55.4,188.9 55.9,187.5 56.8,185.2 C57.7,182.8 58.8,179.5 59.7,177 C60.6,174.5 61.4,172.8 62,170 C62.6,167.2 62.9,163.8 63.5,160 C64.1,156.2 65.2,149.6 65.5,147.5" fill="none" stroke="#111" stroke-width="1.1" stroke-linejoin="round"/>
<path d="M29.1,209.6 C29.4,208.9 30.2,207.6 31.1,205.6 C32,203.6 33.2,200.4 34.4,197.4 C35.6,194.4 37.4,190.9 38.5,187.6 C39.6,184.3 40.2,180.4 40.9,177.7 C41.6,175 41.8,174.5 42.5,171.2 C43.2,167.9 44.3,162 45,158.1 C45.7,154.2 46.3,149.3 46.6,147.5" fill="none" stroke="#111" stroke-width="1.1" stroke-linejoin="round"/>
<path d="M51.5,147.5 C51.8,149.8 52.6,157.3 53.2,161.4 C53.8,165.5 54.4,168 55,172 C55.6,176 56.5,183 56.8,185.2" fill="none" stroke="#111" stroke-width="1.1" stroke-linejoin="round"/>
<path d="M59,147.5 C59.2,149.2 60,154.9 60.5,158 C61,161.1 61,165.1 62.2,166.3 C63.4,167.6 65.9,165.2 67.9,165.5 C70,165.8 72.8,167.4 74.5,167.9 C76.2,168.4 76.9,170 77.9,168.7 C78.9,167.4 79.8,163.5 80.5,160 C81.2,156.5 82.1,149.6 82.4,147.5" fill="none" stroke="#111" stroke-width="1.1" stroke-linejoin="round"/>
<path d="M62.2,166.3 C62.4,167.2 62.6,168.8 63.2,172 C63.9,175.2 65.1,181 66.1,185.2 C67.1,189.4 68.1,193.7 69.1,197 C70.1,200.3 71,203.2 72,205.2 C73,207.2 74,208.1 75,209 C76,209.9 76.9,208.6 77.9,210.5 C78.9,212.4 79.9,216.6 80.9,220.2 C81.9,223.8 82.9,228.1 83.9,232.1 C84.9,236.1 86.3,241.8 86.9,244 C87.5,246.2 87.3,245.2 87.4,245.5" fill="none" stroke="#111" stroke-width="1.1" stroke-linejoin="round"/>
<path d="M87.4,245.5 C88.3,244.2 90.9,241.7 92.8,238 C94.7,234.3 97.1,228.6 98.8,223.2 C100.5,217.8 102.2,208.7 103.2,205.4 C104.2,202.1 104,204 104.8,203.5 C105.5,203 106.7,203.7 107.7,202.4 C108.7,201.2 109.8,198.7 111,196 C112.2,193.3 113.7,185 115.1,186.1 C116.5,187.2 118.3,197.8 119.5,202.4 C120.7,207.1 121.5,210 122.5,214 C123.5,218 124.6,222.9 125.5,226.2 C126.4,229.4 127.2,231.4 128,233.5 C128.8,235.6 129.7,237.4 130.5,239 C131.3,240.6 132.2,241.9 133,242.8 C133.8,243.8 134.7,244.6 135.5,244.7 C136.3,244.8 137.2,244.1 138,243.2 C138.8,242.3 139.7,240.8 140.5,239.5 C141.3,238.2 142,237.4 142.9,235.3 C143.8,233.2 145,230 146,227 C147,224 148,220.1 148.8,217.4 C149.6,214.7 150.2,213 151,211 C151.8,209 152.2,207.4 153.3,205.5 C154.4,203.6 156,200.2 157.7,199.5 C159.4,198.8 161.7,201.5 163.7,201 C165.7,200.5 168.1,198.4 169.6,196.6 C171.1,194.8 171.5,191.7 172.5,190 C173.5,188.3 174.3,187.1 175.6,186.2 C176.9,185.3 178.7,184.9 180.1,184.7 C181.5,184.4 183.3,184.7 184,184.7" fill="none" stroke="#111" stroke-width="1.1" stroke-linejoin="round"/>
<path d="M153.3,205.5 C154,205.6 156.2,204.5 157.7,206 C159.2,207.5 160.7,213.5 162.2,214.4 C163.7,215.3 165.2,214 166.7,211.5 C168.2,209 170,202.8 171.1,199.5 C172.2,196.2 172.8,194.2 173.5,192 C174.2,189.8 175.2,187.2 175.6,186.2" fill="none" stroke="#111" stroke-width="1.1" stroke-linejoin="round"/>
<path d="M100.2,147.5 C100.4,149.1 101,154 101.5,157 C102,160 102.5,163.8 103.2,165.3 C104,166.8 105,165.8 106,165.8 C107,165.8 108.3,164.9 109.2,165.3 C110.1,165.7 110.8,166.8 111.5,168 C112.2,169.2 112.8,173.7 113.6,172.7 C114.4,171.7 115.5,166.2 116.5,162 C117.5,157.8 119,149.9 119.5,147.5" fill="none" stroke="#111" stroke-width="1.1" stroke-linejoin="round"/>
<path d="M150.3,147.5 C150.6,149.2 151.5,155.3 152,158 C152.5,160.7 152.8,162.3 153.3,163.5 C153.8,164.7 154.2,165.9 154.8,165.3 C155.4,164.7 156.3,161.5 157,160 C157.7,158.5 158.4,158.1 159.2,156.4 C160,154.7 161.3,151.5 162,150 C162.7,148.5 163.2,147.9 163.5,147.5" fill="none" stroke="#111" stroke-width="1.1" stroke-linejoin="round"/>
<path d="M169.6,147.5 C169.9,149.9 170.8,156.6 171.5,162 C172.2,167.4 173.2,176.4 174.1,180.2 C175,184 175.4,183.9 177.1,184.7 C178.8,185.5 182.8,185.1 184,185.2" fill="none" stroke="#111" stroke-width="1.1" stroke-linejoin="round"/>
<path d="M180.1,147.5 C180.4,149.6 181.3,155.8 182,160 C182.7,164.2 183.7,170.7 184,172.8" fill="none" stroke="#111" stroke-width="1.1" stroke-linejoin="round"/>
<circle cx="30.6" cy="256.6" r="0.9" fill="#f00"/>
<circle cx="33.6" cy="251.7" r="0.9" fill="#f00"/>
<circle cx="36.6" cy="243.3" r="0.9" fill="#f00"/>
<circle cx="39.6" cy="233.2" r="0.9" fill="#f00"/>
<circle cx="42.6" cy="224.1" r="0.9" fill="#f00"/>
<circle cx="45.6" cy="216.6" r="0.9" fill="#f00"/>
<circle cx="48.6" cy="212.4" r="0.9" fill="#f00"/>
<circle cx="51.6" cy="209.8" r="0.9" fill="#f00"/>
<circle cx="54.6" cy="202.6" r="0.9" fill="#f00"/>
<circle cx="57.6" cy="196.9" r="0.9" fill="#f00"/>
<circle cx="60.6" cy="210.4" r="0.9" fill="#f00"/>
<circle cx="63.6" cy="222.3" r="0.9" fill="#f00"/>
<circle cx="66.6" cy="233.9" r="0.9" fill="#f00"/>
<circle cx="69.6" cy="244.2" r="0.9" fill="#f00"/>
<circle cx="72.6" cy="252.5" r="0.9" fill="#f00"/>
<circle cx="75.6" cy="257.8" r="0.9" fill="#f00"/>
<circle cx="78.6" cy="259.6" r="0.9" fill="#f00"/>
<circle cx="81.6" cy="255.5" r="0.9" fill="#f00"/>
<circle cx="84.6" cy="249.3" r="0.9" fill="#f00"/>
<circle cx="30.6" cy="168.6" r="0.9" fill="#f00"/>
<circle cx="33.6" cy="167.1" r="0.9" fill="#f00"/>
<circle cx="36.6" cy="166.1" r="0.9" fill="#f00"/>
<circle cx="39.6" cy="171.2" r="0.9" fill="#f00"/>
<circle cx="42.6" cy="182.9" r="0.9" fill="#f00"/>
<circle cx="45.6" cy="198.1" r="0.9" fill="#f00"/>
<circle cx="48.6" cy="201" r="0.9" fill="#f00"/>
<circle cx="51.6" cy="197" r="0.9" fill="#f00"/>
<circle cx="54.6" cy="190.7" r="0.9" fill="#f00"/>
<circle cx="57.6" cy="183" r="0.9" fill="#f00"/>
<circle cx="60.6" cy="174.5" r="0.9" fill="#f00"/>
<circle cx="63.6" cy="159.4" r="0.9" fill="#f00"/>
<circle cx="30.6" cy="206.7" r="0.9" fill="#f00"/>
<circle cx="33.6" cy="199.4" r="0.9" fill="#f00"/>
<circle cx="36.6" cy="192.4" r="0.9" fill="#f00"/>
<circle cx="39.6" cy="183.6" r="0.9" fill="#f00"/>
<circle cx="42.6" cy="170.7" r="0.9" fill="#f00"/>
<circle cx="45.6" cy="154.4" r="0.9" fill="#f00"/>
<circle cx="53" cy="159.9" r="0.9" fill="#f00"/>
<circle cx="56" cy="179.2" r="0.9" fill="#f00"/>
<circle cx="60.5" cy="158" r="0.9" fill="#f00"/>
<circle cx="63.5" cy="166.6" r="0.9" fill="#f00"/>
<circle cx="66.5" cy="165.6" r="0.9" fill="#f00"/>
<circle cx="69.5" cy="165.9" r="0.9" fill="#f00"/>
<circle cx="72.5" cy="167.1" r="0.9" fill="#f00"/>
<circle cx="75.5" cy="168.4" r="0.9" fill="#f00"/>
<circle cx="78.5" cy="167.6" r="0.9" fill="#f00"/>
<circle cx="81.5" cy="154" r="0.9" fill="#f00"/>
<circle cx="63.7" cy="174.4" r="0.9" fill="#f00"/>
<circle cx="66.7" cy="187.7" r="0.9" fill="#f00"/>
<circle cx="69.7" cy="199" r="0.9" fill="#f00"/>
<circle cx="72.7" cy="206.4" r="0.9" fill="#f00"/>
<circle cx="75.7" cy="209.3" r="0.9" fill="#f00"/>
<circle cx="78.7" cy="212.5" r="0.9" fill="#f00"/>
<circle cx="81.7" cy="223.2" r="0.9" fill="#f00"/>
<circle cx="84.7" cy="235.3" r="0.9" fill="#f00"/>
<circle cx="88.9" cy="249" r="0.9" fill="#f00"/>
<circle cx="91.9" cy="244.6" r="0.9" fill="#f00"/>
<circle cx="94.9" cy="238" r="0.9" fill="#f00"/>
<circle cx="97.9" cy="229.7" r="0.9" fill="#f00"/>
<circle cx="100.9" cy="218.1" r="0.9" fill="#f00"/>
<circle cx="103.9" cy="205.6" r="0.9" fill="#f00"/>
<circle cx="106.9" cy="205.1" r="0.9" fill="#f00"/>
<circle cx="109.9" cy="200.1" r="0.9" fill="#f00"/>
<circle cx="112.9" cy="190.9" r="0.9" fill="#f00"/>
<circle cx="115.9" cy="188.3" r="0.9" fill="#f00"/>
<circle cx="118.9" cy="201.7" r="0.9" fill="#f00"/>
<circle cx="121.9" cy="214.3" r="0.9" fill="#f00"/>
<circle cx="124.9" cy="227.6" r="0.9" fill="#f00"/>
<circle cx="127.9" cy="237.7" r="0.9" fill="#f00"/>
<circle cx="130.9" cy="244.7" r="0.9" fill="#f00"/>
<circle cx="133.9" cy="249.1" r="0.9" fill="#f00"/>
<circle cx="136.9" cy="249.5" r="0.9" fill="#f00"/>
<circle cx="139.9" cy="245.5" r="0.9" fill="#f00"/>
<circle cx="142.9" cy="239.9" r="0.9" fill="#f00"/>
<circle cx="145.9" cy="231.3" r="0.9" fill="#f00"/>
<circle cx="148.9" cy="220.2" r="0.9" fill="#f00"/>
<circle cx="151.9" cy="211" r="0.9" fill="#f00"/>
<circle cx="154.9" cy="204.7" r="0.9" fill="#f00"/>
<circle cx="157.9" cy="201.2" r="0.9" fill="#f00"/>
<circle cx="160.9" cy="202.1" r="0.9" fill="#f00"/>
<circle cx="163.9" cy="202.8" r="0.9" fill="#f00"/>
<circle cx="166.9" cy="201" r="0.9" fill="#f00"/>
<circle cx="169.9" cy="197.7" r="0.9" fill="#f00"/>
<circle cx="172.9" cy="190.3" r="0.9" fill="#f00"/>
<circle cx="175.9" cy="186.7" r="0.9" fill="#f00"/>
<circle cx="178.9" cy="185.5" r="0.9" fill="#f00"/>
<circle cx="181.9" cy="185.1" r="0.9" fill="#f00"/>
<circle cx="154.8" cy="205.3" r="0.9" fill="#f00"/>
<circle cx="157.8" cy="206.1" r="0.9" fill="#f00"/>
<circle cx="160.8" cy="212.4" r="0.9" fill="#f00"/>
<circle cx="163.8" cy="214.6" r="0.9" fill="#f00"/>
<circle cx="166.8" cy="211.3" r="0.9" fill="#f00"/>
<circle cx="169.8" cy="203.5" r="0.9" fill="#f00"/>
<circle cx="172.8" cy="194.2" r="0.9" fill="#f00"/>
<circle cx="101.7" cy="158.2" r="0.9" fill="#f00"/>
<circle cx="104.7" cy="166.1" r="0.9" fill="#f00"/>
<circle cx="107.7" cy="165.4" r="0.9" fill="#f00"/>
<circle cx="110.7" cy="166.7" r="0.9" fill="#f00"/>
<circle cx="113.7" cy="172.6" r="0.9" fill="#f00"/>
<circle cx="116.7" cy="161.1" r="0.9" fill="#f00"/>
<circle cx="151.8" cy="156.9" r="0.9" fill="#f00"/>
<circle cx="154.8" cy="165.3" r="0.9" fill="#f00"/>
<circle cx="157.8" cy="158.6" r="0.9" fill="#f00"/>
<circle cx="160.8" cy="152.8" r="0.9" fill="#f00"/>
<circle cx="171.1" cy="159" r="0.9" fill="#f00"/>
<circle cx="174.1" cy="180.2" r="0.9" fill="#f00"/>
<circle cx="177.1" cy="184.7" r="0.9" fill="#f00"/>
<circle cx="180.1" cy="185.2" r="0.9" fill="#f00"/>
<circle cx="183.1" cy="185.2" r="0.9" fill="#f00"/>
<circle cx="181.6" cy="157.4" r="0.9" fill="#f00"/>
<path d="M74.5,209.1 L81.3,215.9 M74.5,215.9 L81.3,209.1" stroke="#f7a51c" stroke-width="1.9" stroke-linecap="butt"/>
<path d="M74.5,256.6 L81.3,263.4 M74.5,263.4 L81.3,256.6" stroke="#f7a51c" stroke-width="1.9" stroke-linecap="butt"/>
</g>
<rect x="29.1" y="147.5" width="154.5" height="120.5" fill="none" stroke="#222" stroke-width="0.9"/>
<line x1="26.5" y1="268" x2="29.1" y2="268" stroke="#222" stroke-width="0.9"/>
<text x="24.5" y="270.5" font-family="'DejaVu Sans','Liberation Sans',sans-serif" font-size="7.2" fill="#000" stroke="#000" stroke-width="0.2" text-anchor="end">−12</text>
<line x1="26.5" y1="237.9" x2="29.1" y2="237.9" stroke="#222" stroke-width="0.9"/>
<text x="24.5" y="240.4" font-family="'DejaVu Sans','Liberation Sans',sans-serif" font-size="7.2" fill="#000" stroke="#000" stroke-width="0.2" text-anchor="end">−8</text>
<line x1="26.5" y1="207.8" x2="29.1" y2="207.8" stroke="#222" stroke-width="0.9"/>
<text x="24.5" y="210.2" font-family="'DejaVu Sans','Liberation Sans',sans-serif" font-size="7.2" fill="#000" stroke="#000" stroke-width="0.2" text-anchor="end">−4</text>
<line x1="26.5" y1="177.6" x2="29.1" y2="177.6" stroke="#222" stroke-width="0.9"/>
<text x="24.5" y="180.1" font-family="'DejaVu Sans','Liberation Sans',sans-serif" font-size="7.2" fill="#000" stroke="#000" stroke-width="0.2" text-anchor="end">0</text>
<line x1="26.5" y1="147.5" x2="29.1" y2="147.5" stroke="#222" stroke-width="0.9"/>
<text x="24.5" y="150" font-family="'DejaVu Sans','Liberation Sans',sans-serif" font-size="7.2" fill="#000" stroke="#000" stroke-width="0.2" text-anchor="end">4</text>
<line x1="29.1" y1="268" x2="29.1" y2="270.6" stroke="#222" stroke-width="0.9"/>
<text x="29.1" y="280.1" font-family="'DejaVu Sans','Liberation Sans',sans-serif" font-size="9.7" fill="#000" stroke="#000" stroke-width="0.15" text-anchor="middle">Γ</text>
<line x1="47.4" y1="268" x2="47.4" y2="270.6" stroke="#222" stroke-width="0.9"/>
<text x="47.4" y="280.1" font-family="'DejaVu Sans','Liberation Sans',sans-serif" font-size="9.7" fill="#000" stroke="#000" stroke-width="0.15" text-anchor="middle">M</text>
<line x1="57" y1="268" x2="57" y2="270.6" stroke="#222" stroke-width="0.9"/>
<text x="57" y="280.1" font-family="'DejaVu Sans','Liberation Sans',sans-serif" font-size="9.7" fill="#000" stroke="#000" stroke-width="0.15" text-anchor="middle">K</text>
<line x1="77.9" y1="268" x2="77.9" y2="270.6" stroke="#222" stroke-width="0.9"/>
<text x="77.9" y="280.1" font-family="'DejaVu Sans','Liberation Sans',sans-serif" font-size="9.7" fill="#000" stroke="#000" stroke-width="0.15" text-anchor="middle">Γ</text>
<line x1="87.1" y1="268" x2="87.1" y2="270.6" stroke="#222" stroke-width="0.9"/>
<text x="87.1" y="280.1" font-family="'DejaVu Sans','Liberation Sans',sans-serif" font-size="9.7" fill="#000" stroke="#000" stroke-width="0.15" text-anchor="middle">A</text>
<line x1="104.8" y1="268" x2="104.8" y2="270.6" stroke="#222" stroke-width="0.9"/>
<text x="104.8" y="280.1" font-family="'DejaVu Sans','Liberation Sans',sans-serif" font-size="9.7" fill="#000" stroke="#000" stroke-width="0.15" text-anchor="middle">L</text>
<line x1="115.4" y1="268" x2="115.4" y2="270.6" stroke="#222" stroke-width="0.9"/>
<text x="115.4" y="280.1" font-family="'DejaVu Sans','Liberation Sans',sans-serif" font-size="9.7" fill="#000" stroke="#000" stroke-width="0.15" text-anchor="middle">H</text>
<line x1="135.9" y1="268" x2="135.9" y2="270.6" stroke="#222" stroke-width="0.9"/>
<text x="135.9" y="280.1" font-family="'DejaVu Sans','Liberation Sans',sans-serif" font-size="9.7" fill="#000" stroke="#000" stroke-width="0.15" text-anchor="middle">A</text>
<line x1="153.9" y1="268" x2="153.9" y2="270.6" stroke="#222" stroke-width="0.9"/>
<text x="153.9" y="280.1" font-family="'DejaVu Sans','Liberation Sans',sans-serif" font-size="9.7" fill="#000" stroke="#000" stroke-width="0.15" text-anchor="middle">L</text>
<line x1="164.5" y1="268" x2="164.5" y2="270.6" stroke="#222" stroke-width="0.9"/>
<text x="164.5" y="280.1" font-family="'DejaVu Sans','Liberation Sans',sans-serif" font-size="9.7" fill="#000" stroke="#000" stroke-width="0.15" text-anchor="middle">M</text>
<line x1="174.4" y1="268" x2="174.4" y2="270.6" stroke="#222" stroke-width="0.9"/>
<text x="174.4" y="280.1" font-family="'DejaVu Sans','Liberation Sans',sans-serif" font-size="9.7" fill="#000" stroke="#000" stroke-width="0.15" text-anchor="middle">K</text>
<line x1="183.9" y1="268" x2="183.9" y2="270.6" stroke="#222" stroke-width="0.9"/>
<text x="183.9" y="280.1" font-family="'DejaVu Sans','Liberation Sans',sans-serif" font-size="9.7" fill="#000" stroke="#000" stroke-width="0.15" text-anchor="middle">H</text>
<text x="181.2" y="263.1" font-family="'DejaVu Sans','Liberation Sans',sans-serif" font-size="11.1" fill="#000" stroke="#000" stroke-width="0.1" text-anchor="end">hcp Be</text>
<text x="0" y="0" transform="translate(10.3,206.6) rotate(-90)" font-family="'DejaVu Sans','Liberation Sans',sans-serif" font-size="8.6" fill="#000" stroke="#000" stroke-width="0.2" text-anchor="middle">Energy (eV)</text>
<g clip-path="url(#c4)">
<ellipse cx="276.5" cy="252" rx="8" ry="10" fill="#3a3aff" opacity="0.22" filter="url(#b3)"/>
<ellipse cx="211" cy="250" rx="6" ry="9" fill="#3a3aff" opacity="0.22" filter="url(#b3)"/>
<path d="M236,147.5 L263,147.5 L256,178 L245,168 L238,156 Z" fill="#3a3aff" opacity="0.3" filter="url(#b2)"/>
<path d="M294,147.5 L364,147.5 L364,176 L349,163 L325,156 L300,163 Z" fill="#3a3aff" opacity="0.5" filter="url(#b2)"/>
<path d="M299,149 L314,149 L309,158 Z" fill="#3a3aff" opacity="0.45" filter="url(#b2)"/>
<path d="M337,149 L348,149 L342,158 Z" fill="#3a3aff" opacity="0.45" filter="url(#b2)"/>
<path d="M315,147.5 L335,147.5 L325,156 Z" fill="#3a3aff" opacity="0.6" filter="url(#b2)"/>
<path d="M240,155 L250,168 L257,180 L254,184 L244,170 L238,160 Z" fill="#3a3aff" opacity="0.3" filter="url(#b2)"/>
<line x1="209.2" y1="147.5" x2="209.2" y2="268" stroke="#ececec" stroke-width="0.5"/>
<line x1="237.1" y1="147.5" x2="237.1" y2="268" stroke="#ececec" stroke-width="0.5"/>
<line x1="256.8" y1="147.5" x2="256.8" y2="268" stroke="#ececec" stroke-width="0.5"/>
<line x1="276.5" y1="147.5" x2="276.5" y2="268" stroke="#ececec" stroke-width="0.5"/>
<line x1="300.6" y1="147.5" x2="300.6" y2="268" stroke="#ececec" stroke-width="0.5"/>
<line x1="325.2" y1="147.5" x2="325.2" y2="268" stroke="#ececec" stroke-width="0.5"/>
<line x1="349.8" y1="147.5" x2="349.8" y2="268" stroke="#ececec" stroke-width="0.5"/>
<line x1="363.7" y1="147.5" x2="363.7" y2="268" stroke="#ececec" stroke-width="0.5"/>
<line x1="209.2" y1="268" x2="364" y2="268" stroke="#ececec" stroke-width="0.5"/>
<line x1="209.2" y1="243.9" x2="364" y2="243.9" stroke="#ececec" stroke-width="0.5"/>
<line x1="209.2" y1="219.8" x2="364" y2="219.8" stroke="#ececec" stroke-width="0.5"/>
<line x1="209.2" y1="195.7" x2="364" y2="195.7" stroke="#ececec" stroke-width="0.5"/>
<line x1="209.2" y1="171.6" x2="364" y2="171.6" stroke="#ececec" stroke-width="0.5"/>
<line x1="209.2" y1="147.5" x2="364" y2="147.5" stroke="#ececec" stroke-width="0.5"/>
<path d="M216.4,250.3 L216.6,249.9 L217.4,248.9 L218.8,246.7 L220.2,243.5 L221,240.1 L221.4,236.8 L221.6,233.3 L221.8,229.7 L222.1,225.9 L222.3,222.1 L222.6,218.1 L223,213.7 L223.4,209.2 L223.9,205.3 L224.4,202.3 L224.7,200.8 L224.9,200.5 L224.8,200.6 L225,200.7 L225.2,200 L225.6,198.7 L226,197.2 L226.5,195.3 L227.1,193 L227.8,190.1 L228.6,186.2 L229.6,181.3 L230.5,176.2 L231.5,171.4 L232.3,167.6 L233,164.9 L233.5,163 L234,161.5 L234.5,160.3 L234.9,159.2 L235.3,158.1 L235.6,157.3 L236,156.7 L236.3,156.2 L236.8,156 L237.3,156 L238,156.1 L238.6,156.5 L239.3,157.1 L240,157.9 L240.7,159.1 L241.5,160.7 L242.3,162.4 L243.1,164.1 L243.9,165.6 L244.7,166.8 L245.5,167.9 L246.2,168.8 L247,169.8 L247.8,170.8 L248.6,171.9 L249.3,173 L250,174 L250.8,175 L251.6,175.9 L252.5,176.8 L253.4,177.9 L254.4,178.7 L255.3,179 L256.1,178.5 L256.8,176.9 L257.5,174.4 L258.2,171.4 L258.8,168.3 L259.4,165.6 L260,163.1 L260.5,160.6 L261,158.2 L261.5,156 L261.9,154 L262.3,152.3 L262.6,150.7 L262.8,149.4 L263,148.3 L263.2,147.5 L263.2,147.5 L263,148.3 L262.8,149.4 L262.6,150.7 L262.3,152.3 L261.9,154 L261.5,156 L261,158.2 L260.5,160.6 L260,163.1 L259.4,165.6 L258.8,168.3 L258.2,171.4 L257.5,174.4 L256.8,176.9 L256.1,178.5 L255.3,179 L254.4,178.7 L253.4,177.9 L252.5,176.8 L251.6,175.9 L250.8,175 L250,174 L249.3,173 L248.6,171.9 L247.8,170.8 L247,169.8 L246.2,168.8 L245.5,167.9 L244.7,166.8 L243.9,165.6 L243.1,164.1 L242.3,162.4 L241.5,160.7 L240.7,159.1 L240,157.9 L239.3,157.1 L238.6,156.5 L238,156.1 L237.3,156 L236.8,156 L236.3,156.2 L236,156.7 L235.6,157.3 L235.3,158.1 L234.9,159.2 L234.5,160.3 L234,161.5 L233.5,163 L233,164.9 L232.3,167.6 L231.5,171.4 L230.5,176.2 L229.6,181.3 L228.6,186.2 L227.8,190.1 L227.1,193 L226.5,195.3 L226,197.2 L225.6,198.7 L225.2,200 L224.9,200.6 L224.9,200.5 L224.8,200.4 L224.6,200.8 L224.2,202.3 L223.4,205.2 L222.3,209 L220.9,213.2 L219.3,217.2 L217.5,220.6 L215.5,223.5 L213.3,226.3 L211,228.6 L208.7,230.3 L206.8,231.1 L205.4,230.6 L204.6,229.6 L204,228.8 L203.1,228.9 L202,229.3 Z" fill="#3b3bff" opacity="0.12" filter="url(#b2)"/>
<path d="M213,245.4 L213.4,245 L214.2,244.2 L215.5,242.7 L216.8,240.6 L217.8,238.1 L218.6,235.4 L219.3,232.3 L220.1,229 L220.8,225.4 L221.5,221.9 L222.2,218 L222.8,213.6 L223.5,209.3 L224.2,205.4 L224.7,202.4 L225.1,200.9 L225.2,200.7 L224.5,200.8 L225.4,200.8 L225.6,200.1 L226,198.8 L226.4,197.3 L226.9,195.4 L227.5,193.1 L228.2,190.2 L229,186.3 L229.9,181.4 L230.9,176.3 L231.9,171.5 L232.7,167.7 L233.3,165 L233.9,163.1 L234.4,161.6 L234.8,160.5 L235.3,159.3 L235.7,158.3 L236,157.5 L236.3,156.9 L236.6,156.5 L236.9,156.4 L237.3,156.4 L237.8,156.5 L238.4,156.8 L239,157.3 L239.7,158.1 L240.4,159.3 L241.1,160.9 L241.9,162.6 L242.8,164.3 L243.6,165.8 L244.4,167 L245.1,168.1 L245.9,169.1 L246.7,170.1 L247.5,171 L248.2,172.1 L249,173.2 L249.7,174.3 L250.5,175.3 L251.3,176.2 L252.2,177.1 L253.1,178.1 L254.1,179 L255.3,179.4 L256.4,178.7 L257.2,177 L257.9,174.5 L258.6,171.5 L259.2,168.4 L259.8,165.7 L260.4,163.2 L260.9,160.7 L261.4,158.3 L261.9,156.1 L262.3,154.1 L262.6,152.3 L263,150.8 L263.2,149.5 L263.4,148.4 L263.6,147.6 L262.8,147.4 L262.6,148.2 L262.4,149.3 L262.2,150.6 L261.9,152.2 L261.5,153.9 L261.1,155.9 L260.6,158.1 L260.1,160.5 L259.6,163 L259,165.5 L258.4,168.3 L257.8,171.3 L257.2,174.3 L256.5,176.8 L255.8,178.3 L255.2,178.6 L254.6,178.4 L253.7,177.6 L252.8,176.6 L251.9,175.6 L251.1,174.8 L250.4,173.8 L249.6,172.7 L248.9,171.6 L248.1,170.6 L247.3,169.6 L246.6,168.6 L245.8,167.6 L245,166.6 L244.2,165.4 L243.5,163.9 L242.7,162.3 L241.9,160.5 L241.1,158.9 L240.3,157.7 L239.6,156.8 L238.8,156.2 L238.1,155.7 L237.4,155.6 L236.7,155.6 L236.1,155.9 L235.6,156.4 L235.3,157.1 L234.9,158 L234.5,159.1 L234.1,160.2 L233.6,161.4 L233.1,162.9 L232.6,164.8 L231.9,167.5 L231.1,171.3 L230.2,176.1 L229.2,181.3 L228.2,186.1 L227.4,190 L226.7,192.9 L226.2,195.2 L225.6,197.1 L225.2,198.6 L224.8,199.8 L224.6,200.4 L225.2,200.3 L224.5,200.2 L224.3,200.7 L223.9,202.2 L223.2,205.1 L222.2,209 L221,213.2 L219.7,217.4 L218.3,220.9 L216.8,224 L215,227 L213.3,229.6 L211.5,231.7 L210,233.1 L208.8,233.6 L207.9,233.6 L207.1,233.5 L206.2,233.8 L205.4,234.2 Z" fill="#0808ff" filter="url(#b0)"/>
<path d="M228.4,147.5 L228.9,148.2 L229.7,149.3 L230.5,150.5 L231.4,151.7 L232.3,152.7 L233.2,153.4 L234.1,154 L235,154.5 L235.9,155 L236.5,155.5 L236.9,155.9 L237,156.2 L237.1,156.6 L237.2,157.1 L237.5,157.9 L238.1,159.1 L238.8,160.7 L239.6,162.4 L240.5,164.1 L241.3,165.6 L242.1,167 L242.8,168.2 L243.5,169.5 L244.3,170.7 L245.2,172.1 L246.2,173.6 L247.2,175.3 L248.3,176.9 L249.3,178.5 L250.4,179.8 L251.5,180.9 L252.6,181.8 L253.7,182.5 L254.7,183.1 L255.5,183.7 L256,184 L256.3,184.1 L256.5,184.2 L256.7,184.4 L257,185 L257.4,186 L257.9,187.4 L258.4,188.9 L258.9,190.5 L259.4,192 L259.8,193.4 L260.3,194.7 L260.7,196.1 L261.1,197.7 L261.4,199.5 L261.7,201.6 L262,203.9 L262.2,206.4 L262.4,208.9 L262.5,211.3 L262.6,213.5 L262.7,215.7 L262.7,217.9 L262.7,220 L262.8,222.2 L262.8,224.5 L262.8,226.9 L262.7,229.4 L262.7,231.8 L262.6,234.3 L262.9,236.8 L263.3,239.1 L263.9,241 L264.5,242.3 L264.9,243.2 L265.2,244.1 L265.7,245.3 L266.3,246.6 L266.9,247.9 L267.7,248.9 L268.4,249.9 L269.5,251.1 L271.1,252.4 L273.4,253.7 L276.6,254.3 L279.8,253.7 L282.1,252.4 L283.7,251.1 L284.8,249.9 L285.6,248.8 L286.4,247.6 L287.1,246.3 L287.6,245.2 L288,244.1 L288.3,243.2 L288.7,242.1 L289.1,241 L289.5,239.8 L289.8,238.6 L290.1,237.5 L290.3,236.4 L290.5,235.4 L290.7,234.2 L290.8,232.9 L290.9,231.5 L290.9,230 L291,228.4 L291,226.7 L291.1,225 L291.2,223.3 L291.2,221.5 L291.3,219.7 L291.4,217.8 L291.5,216 L291.6,214.1 L291.7,212.4 L291.7,211 L291.8,209.4 L292,207.4 L292.3,204.8 L292.8,201 L293.6,196.2 L294.6,191.1 L295.6,186 L296.4,181.7 L297.1,178 L297.8,174.6 L298.4,171.6 L298.9,168.9 L299.3,166.8 L299.6,165.3 L299.8,164.3 L300,163.7 L300.1,163.3 L300.2,163 L300.2,163 L300.1,163.3 L300,163.7 L299.8,164.3 L299.6,165.3 L299.3,166.8 L298.9,168.9 L298.4,171.6 L297.8,174.6 L297.1,178 L296.4,181.7 L295.6,186 L294.6,191.1 L293.6,196.2 L292.5,200.9 L291.5,204.6 L290.8,207.2 L290.2,209.1 L289.8,210.6 L289.4,212 L288.8,213.5 L288.2,215.2 L287.5,217 L286.8,218.6 L286,220.2 L285.2,221.7 L284.4,223.1 L283.6,224.5 L282.8,225.8 L281.9,227 L281.1,227.8 L280.4,228.4 L279.8,228.7 L279.2,228.9 L278.6,229.2 L277.9,229.6 L277.2,229.9 L276.4,230.3 L275.7,230.6 L274.9,230.9 L274.3,231.1 L273.7,231.2 L273.1,231.2 L272.7,230.9 L272.5,230.4 L272.4,229.9 L272.3,229.4 L272.4,228.7 L273,227.9 L274.4,226.9 L276.6,226.4 L278.8,226.9 L280.2,227.9 L280.8,228.7 L280.9,229.4 L280.7,229.8 L280.6,230.2 L280.4,230.7 L280.2,231.2 L279.7,231.4 L278.9,231.1 L278,230.4 L277,230 L276,229.9 L274.9,229.9 L273.8,229.6 L272.5,228.7 L271.3,227.1 L270.2,225.2 L269.2,223.1 L268.2,221 L267.4,219.1 L266.6,217.1 L265.9,215.1 L265.2,213.1 L264.5,211 L263.8,208.7 L263.2,206.3 L262.6,203.8 L262.1,201.5 L261.6,199.4 L261.1,197.6 L260.7,196.1 L260.3,194.7 L259.8,193.4 L259.4,192 L258.9,190.5 L258.4,188.9 L257.9,187.4 L257.4,186 L257,185 L256.7,184.4 L256.5,184.2 L256.3,184.1 L256,184 L255.5,183.7 L254.7,183.1 L253.7,182.5 L252.6,181.8 L251.5,180.9 L250.4,179.8 L249.3,178.5 L248.3,176.9 L247.2,175.3 L246.2,173.6 L245.2,172.1 L244.3,170.7 L243.5,169.5 L242.8,168.2 L242.1,167 L241.3,165.6 L240.5,164.1 L239.6,162.4 L238.8,160.7 L238.1,159.1 L237.5,157.9 L237.2,157.1 L237.1,156.6 L237,156.2 L236.9,155.9 L236.5,155.5 L235.9,155 L235,154.5 L234.1,154 L233.2,153.4 L232.3,152.7 L231.4,151.7 L230.5,150.5 L229.7,149.3 L228.9,148.2 L228.4,147.5 Z" fill="#3b3bff" opacity="0.12" filter="url(#b2)"/>
<path d="M228.1,147.7 L228.6,148.5 L229.3,149.5 L230.2,150.8 L231.1,152 L232,153 L232.9,153.7 L233.9,154.4 L234.8,154.9 L235.6,155.3 L236.2,155.8 L236.5,156.1 L236.6,156.3 L236.7,156.7 L236.8,157.2 L237.1,158.1 L237.7,159.3 L238.5,160.8 L239.3,162.5 L240.1,164.2 L240.9,165.8 L241.7,167.2 L242.4,168.4 L243.2,169.7 L244,171 L244.9,172.3 L245.8,173.8 L246.9,175.5 L247.9,177.2 L249,178.7 L250.1,180.1 L251.2,181.2 L252.4,182.1 L253.5,182.8 L254.5,183.5 L255.3,184 L255.8,184.4 L256.2,184.5 L256.3,184.5 L256.4,184.6 L256.6,185.2 L257.1,186.2 L257.5,187.5 L258,189 L258.5,190.6 L259,192.1 L259.5,193.5 L259.9,194.8 L260.3,196.2 L260.7,197.8 L261.1,199.5 L261.4,201.6 L261.8,204 L262.1,206.5 L262.3,208.9 L262.6,211.3 L262.9,213.5 L263.1,215.6 L263.3,217.8 L263.5,219.9 L263.7,222 L264,224.2 L264.2,226.6 L264.5,228.9 L264.7,231.1 L265.1,233.3 L265.5,235.3 L266.2,237 L266.9,238.5 L267.6,239.6 L268.1,240.4 L268.5,241.2 L269,242.1 L269.5,243 L270.1,243.8 L270.7,244.5 L271.3,245.1 L272.1,245.9 L273.2,246.7 L274.7,247.4 L276.6,247.7 L278.5,247.4 L280,246.7 L281.1,245.9 L281.9,245.1 L282.5,244.4 L283.2,243.6 L283.8,242.7 L284.3,241.9 L284.7,241.2 L285.1,240.4 L285.6,239.6 L286.1,238.7 L286.5,237.7 L287,236.7 L287.4,235.7 L287.7,234.8 L288,234 L288.3,233 L288.6,232 L288.8,230.8 L289.1,229.4 L289.3,227.9 L289.6,226.3 L289.8,224.6 L290.1,223 L290.3,221.3 L290.6,219.5 L290.8,217.7 L291,215.9 L291.3,214 L291.5,212.4 L291.6,211 L291.8,209.4 L292.1,207.5 L292.5,204.8 L293.1,201 L294,196.3 L295,191.1 L296,186.1 L296.8,181.8 L297.5,178.1 L298.2,174.7 L298.8,171.6 L299.3,169 L299.7,166.9 L300,165.4 L300.2,164.4 L300.4,163.8 L300.5,163.4 L300.6,163.1 L299.8,162.9 L299.7,163.2 L299.6,163.6 L299.5,164.2 L299.2,165.2 L298.9,166.7 L298.5,168.9 L298,171.5 L297.4,174.5 L296.7,177.9 L296,181.6 L295.2,186 L294.2,191 L293.2,196.2 L292.2,200.8 L291.3,204.6 L290.7,207.2 L290.2,209.1 L289.9,210.6 L289.6,212 L289.1,213.6 L288.6,215.3 L288.1,217.1 L287.5,218.8 L286.9,220.4 L286.3,222 L285.7,223.5 L285.1,225 L284.4,226.4 L283.8,227.6 L283.2,228.6 L282.6,229.4 L282.1,229.9 L281.7,230.3 L281.2,230.8 L280.6,231.3 L280,231.9 L279.4,232.4 L278.7,232.9 L278.1,233.4 L277.5,233.8 L276.9,234.2 L276.5,234.4 L276.1,234.5 L275.7,234.4 L275.5,234.3 L275.2,234.2 L275,234 L275.1,233.6 L275.7,233.2 L276.6,233 L277.5,233.2 L278.1,233.6 L278.2,234 L278,234.2 L277.7,234.2 L277.4,234.3 L277.1,234.4 L276.8,234.5 L276.4,234.3 L275.7,233.8 L274.9,233.1 L274,232.5 L273.2,232 L272.3,231.4 L271.3,230.6 L270.4,229.3 L269.6,227.6 L268.7,225.5 L268,223.4 L267.3,221.3 L266.6,219.2 L266,217.2 L265.5,215.2 L264.9,213.1 L264.4,211 L263.9,208.7 L263.3,206.3 L262.9,203.8 L262.4,201.5 L261.9,199.3 L261.5,197.6 L261.1,196 L260.6,194.6 L260.2,193.3 L259.8,191.9 L259.3,190.4 L258.8,188.8 L258.3,187.2 L257.8,185.9 L257.4,184.8 L257,184.2 L256.7,183.9 L256.4,183.8 L256.2,183.7 L255.7,183.4 L254.9,182.8 L253.9,182.2 L252.9,181.4 L251.7,180.6 L250.7,179.5 L249.7,178.2 L248.6,176.7 L247.5,175.1 L246.5,173.4 L245.5,171.9 L244.7,170.5 L243.9,169.3 L243.1,168 L242.4,166.8 L241.7,165.4 L240.8,163.9 L240,162.2 L239.2,160.5 L238.4,158.9 L237.9,157.7 L237.6,157 L237.4,156.5 L237.4,156.1 L237.2,155.7 L236.8,155.2 L236.1,154.7 L235.2,154.2 L234.3,153.7 L233.4,153.1 L232.6,152.4 L231.7,151.5 L230.9,150.3 L230,149.1 L229.3,148 L228.7,147.3 Z" fill="#0808ff" filter="url(#b0)"/>
<path d="M234.7,163.2 L235.4,163.4 L236.1,163.6 L236.5,163.7 L236.4,163.6 L236,163.4 L235.9,163.2 L236,163.5 L236.4,163.9 L236.8,164.6 L237.2,165.4 L237.7,166.4 L238.3,167.7 L238.9,169.2 L239.5,170.8 L240.2,172.4 L240.8,173.9 L241.5,175.5 L242.2,177.2 L243,178.9 L243.8,180.5 L244.6,182 L245.4,183.3 L246.3,184.6 L247.3,185.8 L248.6,187.1 L250.3,188.4 L252,189.3 L253.3,189.7 L254,190 L254.3,190.1 L259.3,175.9 L258.7,175.7 L258.2,175.6 L258,175.5 L258.2,175.6 L258.6,175.9 L258.6,175.9 L258.3,175.5 L257.9,175 L257.5,174.3 L257,173.5 L256.5,172.5 L256,171.2 L255.3,169.7 L254.7,168.1 L254,166.6 L253.4,165.1 L252.8,163.5 L252.1,161.9 L251.4,160.2 L250.6,158.6 L249.8,157.1 L249,155.8 L248,154.4 L246.9,153.1 L245.4,151.6 L243.4,150.3 L241.5,149.5 L240.1,149.1 L239.3,148.9 L238.9,148.8 Z" fill="#3b3bff" opacity="0.2" filter="url(#b2)"/>
<path d="M236,158.9 L236.6,159.1 L237.3,159.2 L238,159.4 L238.5,159.6 L238.8,159.9 L239.2,160.2 L239.6,160.7 L240.1,161.5 L240.7,162.4 L241.2,163.4 L241.8,164.6 L242.4,165.9 L243,167.5 L243.7,169.1 L244.3,170.7 L245,172.2 L245.7,173.8 L246.3,175.4 L247,177 L247.8,178.4 L248.5,179.7 L249.2,180.8 L249.9,181.9 L250.7,182.8 L251.6,183.7 L252.7,184.6 L253.8,185.1 L254.8,185.5 L255.4,185.7 L255.8,185.8 L257.8,180.2 L257.3,180 L256.7,179.8 L256.2,179.6 L255.9,179.5 L255.6,179.3 L255.2,178.9 L254.7,178.2 L254.2,177.5 L253.6,176.6 L253,175.6 L252.5,174.4 L251.8,173 L251.2,171.5 L250.5,169.9 L249.9,168.3 L249.2,166.8 L248.6,165.2 L247.9,163.6 L247.3,162.1 L246.6,160.6 L245.9,159.4 L245.2,158.2 L244.4,157.1 L243.6,156.1 L242.6,155.1 L241.3,154.3 L240,153.8 L238.9,153.5 L238.1,153.3 L237.6,153.1 Z" fill="#0808ff" filter="url(#b0)"/>
<path d="M224.3,150.4 L224.7,151.2 L225.4,152.3 L226.2,153.7 L227.2,155.2 L228.4,156.7 L229.8,158.1 L231.1,159.1 L232.1,159.7 L232.5,160.1 L232.1,160 L231.6,159.3 L231.3,158.8 L231.3,158.6 L231.3,159 L231.5,159.5 L243.5,156.3 L243.5,156.2 L243.4,155.7 L243,154.4 L242.2,152.8 L240.9,151 L239.3,149.9 L238,149.3 L237.1,149 L236.5,148.8 L236.2,148.7 L235.7,148.2 L234.9,147.4 L234,146.3 L233.1,145.3 L232.5,144.6 Z" fill="#3b3bff" opacity="0.2" filter="url(#b2)"/>
<path d="M226.8,148.7 L227.2,149.4 L227.9,150.5 L228.8,151.8 L229.7,153.1 L230.7,154.3 L231.8,155.3 L232.9,156 L233.9,156.6 L234.5,157 L234.7,157.3 L234.8,157.4 L234.8,157.5 L234.9,157.7 L235,158.1 L235.1,158.5 L239.9,157.3 L239.9,157 L239.8,156.5 L239.5,155.7 L239.1,154.7 L238.3,153.7 L237.2,153 L236.2,152.4 L235.3,152 L234.5,151.6 L233.9,151.1 L233.1,150.3 L232.3,149.3 L231.4,148.1 L230.6,147.1 L230,146.3 Z" fill="#0808ff" filter="url(#b0)"/>
<path d="M228.8,190.3 L230.5,187.2 L231.7,182.5 L233,177.2 L234.3,172.1 L235.3,168.3 L236.2,165.8 L237,164 L237.7,162.8 L238.3,161.8 L238.9,160.9 L239.5,160.2 L239.9,160 L240.4,159.8 L240.9,159.5 L241.4,159.2 L232.2,152.8 L232.2,153.2 L232.1,153.8 L231.7,154.8 L231.2,156.1 L230.9,157.5 L230.6,158.8 L230.4,160.2 L230,161.9 L229.7,164.1 L229.3,166.9 L228.6,171 L227.8,176.2 L227,181.6 L226.4,186.4 L226.8,189.9 Z" fill="#3b3bff" opacity="0.2" filter="url(#b2)"/>
<path d="M228.2,190.2 L229.3,187 L230.3,182.2 L231.5,176.9 L232.6,171.8 L233.5,167.9 L234.3,165.3 L234.9,163.4 L235.5,162 L236,160.9 L236.5,159.9 L237,159 L237.5,158.4 L237.9,158 L238.3,157.6 L238.6,157.3 L235,154.7 L234.8,155.1 L234.5,155.6 L234.1,156.4 L233.7,157.4 L233.3,158.5 L232.9,159.7 L232.5,161 L232.1,162.6 L231.6,164.6 L231.1,167.3 L230.3,171.3 L229.4,176.5 L228.4,181.9 L227.6,186.7 L227.4,190 Z" fill="#0808ff" filter="url(#b0)"/>
<path d="M259.1,179.3 L259.7,177.5 L260.5,175.1 L261.4,172.2 L262.3,169.2 L263,166.5 L263.6,163.9 L264.2,161.4 L264.7,159 L265.2,156.7 L265.6,154.8 L265.9,153 L266.2,151.5 L266.5,150.1 L266.7,149 L266.9,148.2 L259.5,146.8 L259.4,147.6 L259.2,148.7 L258.9,150 L258.6,151.5 L258.2,153.2 L257.8,155.2 L257.4,157.4 L256.8,159.8 L256.3,162.3 L255.8,164.7 L255.2,167.4 L254.6,170.4 L254,173.4 L253.4,175.9 L253.1,177.7 Z" fill="#3b3bff" opacity="0.2" filter="url(#b2)"/>
<path d="M257.3,178.8 L257.8,177.1 L258.5,174.5 L259.3,171.6 L260.1,168.7 L260.9,165.9 L261.4,163.4 L262,160.9 L262.5,158.5 L263,156.3 L263.4,154.3 L263.7,152.6 L264,151 L264.3,149.7 L264.5,148.6 L264.7,147.8 L261.7,147.2 L261.6,148 L261.4,149.1 L261.1,150.4 L260.8,152 L260.4,153.7 L260,155.7 L259.6,157.9 L259,160.3 L258.5,162.8 L257.9,165.3 L257.3,168 L256.6,170.9 L255.9,173.9 L255.3,176.4 L254.9,178.2 Z" fill="#0808ff" filter="url(#b0)"/>
<path d="M295.2,174.9 L295.7,175.2 L296.5,175.8 L297.8,176.6 L299.3,177.4 L300.8,178.1 L301.8,178.5 L303.2,179 L305.7,179.6 L308.8,179.7 L311.7,179 L314.1,178.1 L316.3,177 L318.5,175.8 L320.5,174.5 L322.9,172.9 L325.4,170.6 L327.3,168.5 L328.5,167.2 L328.4,167.1 L325.3,167.9 L322.2,167.1 L322,167.1 L323.2,168.4 L325.1,170.6 L327.6,172.9 L330,174.5 L332,175.8 L334.2,177 L336.4,178.1 L338.8,179.1 L341.8,179.7 L344.8,179.6 L347.4,179.1 L349,178.4 L350.4,177.8 L352.3,176.6 L353.9,175.2 L354.9,174.2 L355.4,173.6 L355.6,173.3 L341.8,160.7 L341.3,161.2 L340.9,161.7 L340.8,161.8 L341.1,161.5 L341.6,161.2 L341.6,161.2 L341.7,161.2 L342.6,161 L343.7,161 L344.4,161.1 L344,161 L343,160.5 L341.7,159.7 L340.2,158.8 L339.2,158.1 L338.5,157.5 L337.2,156 L335.1,153.7 L331.7,151 L325.3,149.1 L318.9,150.9 L315.5,153.7 L313.4,155.9 L312.1,157.4 L311.3,158.1 L310.3,158.8 L308.8,159.7 L307.5,160.5 L306.5,161 L306.1,161.2 L306.7,161 L308,161 L309,161.2 L308.8,161.1 L308.2,160.9 L307.8,160.7 L307.4,160.5 L306.7,160 L305.9,159.5 L305.2,159.1 Z" fill="#3b3bff" opacity="0.2" filter="url(#b2)"/>
<path d="M298.2,170.2 L298.7,170.5 L299.6,171.1 L300.6,171.7 L301.9,172.4 L303,173 L303.9,173.3 L304.9,173.7 L306.4,174 L308.2,174.1 L310,173.7 L311.8,173 L313.7,172.1 L315.6,171 L317.5,169.8 L319.4,168.4 L321.4,166.7 L323.2,164.7 L324.6,163.1 L325.6,162.3 L325.3,162.2 L325,162.3 L325.9,163.1 L327.4,164.7 L329.1,166.7 L331.1,168.4 L333,169.8 L334.9,171 L336.8,172.1 L338.7,173 L340.5,173.7 L342.4,174.1 L344.2,174 L345.7,173.7 L346.8,173.3 L347.8,172.8 L348.9,172.1 L349.9,171.2 L350.7,170.4 L351.2,169.9 L351.5,169.5 L345.9,164.5 L345.5,164.9 L345.1,165.4 L344.7,165.8 L344.5,166.1 L344.2,166.2 L343.8,166.4 L343.4,166.6 L343.3,166.6 L343.1,166.6 L342.7,166.5 L341.7,166.1 L340.4,165.4 L338.8,164.5 L337.1,163.5 L335.7,162.6 L334.4,161.4 L333,159.7 L331.2,157.7 L328.8,155.8 L325.3,154.8 L321.8,155.8 L319.4,157.7 L317.6,159.7 L316.1,161.4 L314.8,162.6 L313.3,163.5 L311.7,164.5 L310.1,165.4 L308.8,166.1 L307.8,166.5 L307.4,166.6 L307.3,166.6 L307.2,166.6 L306.7,166.3 L306,166 L305.3,165.7 L304.5,165.3 L303.6,164.8 L302.8,164.2 L302.2,163.8 Z" fill="#0808ff" filter="url(#b0)"/>
<path d="M292.9,150.8 L293.1,151.6 L293.5,152.7 L294,154.1 L294.5,155.5 L295.1,156.8 L295.5,158 L296.1,159.3 L296.8,160.8 L298,162.5 L299.7,164.2 L301.7,165.4 L303.6,166.3 L305.6,166.8 L307.7,167.1 L309.7,167.1 L311.6,166.6 L313.5,165.8 L315.3,164.5 L317,162.7 L318.3,160.5 L319,158 L319.4,155.5 L319.6,153.1 L319.7,151.1 L319.7,149.8 L311.1,148.2 L310.6,149.5 L310,151.4 L309.4,153.3 L308.8,154.9 L308.3,155.5 L308.2,155.3 L308.2,155.1 L308.3,154.9 L308.2,154.8 L308.1,154.7 L307.9,154.8 L307.4,154.9 L306.7,154.9 L306.3,154.9 L306.1,155 L306.1,155.1 L305.8,154.9 L305.3,154.2 L304.6,153.2 L303.9,152.2 L303.2,151.2 L302.6,150.1 L301.9,148.9 L301.3,147.9 L300.9,147.2 Z" fill="#3b3bff" opacity="0.2" filter="url(#b2)"/>
<path d="M295.3,149.7 L295.6,150.5 L296,151.6 L296.6,152.9 L297.1,154.2 L297.7,155.4 L298.3,156.6 L298.8,157.8 L299.5,159 L300.4,160.3 L301.6,161.4 L303,162.3 L304.6,162.9 L306.1,163.2 L307.7,163.4 L309.2,163.4 L310.6,163 L311.9,162.5 L313.2,161.7 L314.4,160.5 L315.3,159 L316,157.1 L316.4,154.8 L316.7,152.6 L317,150.6 L317.1,149.3 L313.7,148.7 L313.3,150 L312.9,151.9 L312.4,154 L311.8,155.8 L311.3,157 L310.8,157.6 L310.4,157.9 L309.9,158.2 L309.2,158.3 L308.6,158.4 L307.8,158.5 L306.8,158.5 L305.8,158.3 L304.9,158.1 L304.2,157.8 L303.7,157.4 L303.1,156.7 L302.5,155.7 L301.9,154.7 L301.3,153.6 L300.6,152.5 L300,151.3 L299.4,150.1 L298.9,149 L298.5,148.3 Z" fill="#0808ff" filter="url(#b0)"/>
<path d="M330.9,150.1 L331,151.5 L331.2,153.6 L331.6,156.1 L332.1,158.7 L332.8,161.1 L334.1,163.2 L335.8,164.9 L337.7,166.1 L339.5,166.8 L340.7,167.1 L342,167.1 L343.7,167.1 L346.2,166.6 L349,165.1 L351.3,162.5 L352.3,159.7 L352.9,156.8 L353.3,153.9 L353.5,151.5 L353.6,149.9 L345,148.1 L344.4,149.6 L343.7,151.9 L342.9,154.3 L342.2,156.2 L341.7,156.7 L342.2,155.9 L343,155.3 L343.4,155.1 L343.1,154.9 L342.5,154.7 L342,154.8 L342.2,155 L342.6,155.4 L342.9,155.8 L342.8,155.9 L342.2,155.2 L341.5,153.4 L340.7,151.3 L339.9,149.3 L339.3,147.9 Z" fill="#3b3bff" opacity="0.2" filter="url(#b2)"/>
<path d="M333.4,149.4 L333.7,150.8 L334,152.9 L334.5,155.3 L335.1,157.6 L335.8,159.5 L336.7,161 L337.8,162.1 L339.1,162.8 L340.2,163.2 L341.2,163.4 L342.3,163.5 L343.6,163.5 L345.3,163.2 L347,162.4 L348.4,160.8 L349.3,158.6 L349.9,156 L350.4,153.3 L350.8,151 L351,149.4 L347.6,148.6 L347.1,150.2 L346.6,152.5 L345.9,155 L345.2,157.2 L344.6,158.4 L344.3,158.7 L344,158.7 L343.5,158.7 L342.8,158.6 L342,158.4 L341.3,158.4 L340.8,158.3 L340.6,158.2 L340.2,158 L339.8,157.5 L339.2,156.2 L338.5,154.2 L337.8,152 L337.2,150 L336.8,148.6 Z" fill="#0808ff" filter="url(#b0)"/>
<path d="M291.2,148.8 L291.6,149.8 L292.1,151.3 L292.7,152.9 L293.4,154.6 L294,156.3 L294.5,157.9 L295.2,159.7 L295.8,161.5 L296.3,163.1 L296.6,164.2 L303.8,161.8 L303.4,160.7 L302.9,159.2 L302.3,157.4 L301.6,155.5 L301,153.7 L300.4,152.1 L299.8,150.3 L299.1,148.6 L298.6,147.2 L298.2,146.2 Z" fill="#3b3bff" opacity="0.2" filter="url(#b2)"/>
<path d="M293.3,148 L293.7,149 L294.2,150.5 L294.8,152.1 L295.5,153.9 L296.1,155.5 L296.7,157.2 L297.3,159 L297.9,160.8 L298.4,162.4 L298.8,163.5 L301.6,162.5 L301.3,161.4 L300.7,159.9 L300.1,158.1 L299.5,156.2 L298.9,154.5 L298.3,152.8 L297.7,151.1 L297,149.4 L296.5,148 L296.1,147 Z" fill="#0808ff" filter="url(#b0)"/>
<path d="M298.4,166.3 L299.1,166.7 L300.2,167.4 L301.8,168.2 L303.7,169 L306,169.4 L308.2,169.3 L310.2,168.9 L312.1,168.3 L313.8,167.6 L315.5,166.9 L317,166 L318.4,165.1 L319.6,164.1 L320.7,163.3 L321.8,162.5 L323.1,161.4 L324.3,160.3 L325.3,159.4 L325.7,159.1 L325.3,159.2 L324.7,159.1 L325,159.3 L325.8,160.1 L326.8,161.2 L328,162.3 L329.1,163.2 L330,164 L331.1,165 L332.4,165.9 L333.8,166.8 L335.2,167.5 L336.7,168.2 L338.4,168.8 L340.3,169.3 L342.4,169.4 L344.7,169 L346.6,168.3 L348.3,167.5 L349.6,166.8 L350.4,166.3 L347,159.7 L346.1,160.1 L344.8,160.8 L343.6,161.4 L342.6,161.8 L342,162 L341.5,161.9 L340.6,161.7 L339.6,161.3 L338.5,160.8 L337.4,160.2 L336.6,159.7 L335.8,159.1 L334.9,158.4 L333.9,157.5 L333,156.7 L332.1,155.9 L331.1,154.9 L329.9,153.6 L328,152.3 L325.3,151.7 L322.6,152.3 L320.7,153.5 L319.3,154.7 L318.2,155.7 L317.2,156.5 L316.1,157.4 L315,158.2 L314,159 L313.1,159.6 L312.1,160.1 L310.9,160.7 L309.6,161.2 L308.2,161.6 L307.1,161.9 L306.4,162 L305.9,161.8 L305,161.5 L304,160.9 L302.9,160.2 L302,159.7 Z" fill="#3b3bff" opacity="0.2" filter="url(#b2)"/>
<path d="M299.5,164.3 L300.2,164.7 L301.3,165.4 L302.7,166.2 L304.4,166.9 L306.1,167.2 L307.9,167.1 L309.6,166.7 L311.3,166.2 L313,165.5 L314.5,164.8 L315.8,164.1 L317.1,163.2 L318.2,162.4 L319.3,161.5 L320.4,160.7 L321.6,159.7 L322.8,158.6 L323.9,157.6 L324.8,157.1 L325.3,156.9 L325.7,157 L326.5,157.6 L327.4,158.5 L328.4,159.6 L329.5,160.6 L330.5,161.5 L331.5,162.3 L332.5,163.2 L333.6,164.1 L334.9,164.8 L336.2,165.5 L337.6,166.1 L339,166.7 L340.6,167.1 L342.3,167.2 L344,166.9 L345.7,166.2 L347.3,165.5 L348.5,164.8 L349.4,164.3 L348,161.7 L347.1,162.1 L345.9,162.8 L344.5,163.5 L343.2,164 L342.1,164.2 L341.1,164.1 L339.9,163.8 L338.7,163.4 L337.5,162.8 L336.3,162.2 L335.3,161.6 L334.4,160.9 L333.5,160.1 L332.5,159.2 L331.5,158.4 L330.5,157.5 L329.5,156.4 L328.4,155.3 L327,154.4 L325.3,153.9 L323.5,154.3 L322.1,155.3 L320.8,156.4 L319.7,157.4 L318.6,158.3 L317.5,159.1 L316.4,160 L315.3,160.8 L314.3,161.5 L313.1,162.2 L311.8,162.7 L310.3,163.3 L308.8,163.8 L307.4,164.1 L306.3,164.2 L305.2,164 L304,163.5 L302.8,162.8 L301.8,162.2 L300.9,161.7 Z" fill="#0808ff" filter="url(#b0)"/>
<path d="M346.5,161.3 L347,162.2 L347.5,163.5 L348.2,165 L348.9,166.7 L349.6,168.2 L350.3,169.9 L351.1,171.8 L351.9,173.7 L352.8,175.6 L353.8,177.3 L355.1,178.6 L356.7,179.5 L357.9,179.8 L358.7,179.9 L359.1,180 L359.9,180.3 L360.9,180.6 L361.8,180.8 L362.6,181.1 L363.1,181.2 L364.9,175.2 L364.3,175 L363.5,174.8 L362.7,174.6 L361.8,174.3 L360.9,174 L359.8,173.7 L359.1,173.6 L358.9,173.6 L359,173.7 L358.8,173.5 L358.3,172.7 L357.6,171.2 L356.9,169.4 L356.1,167.5 L355.4,165.8 L354.6,164.1 L353.9,162.5 L353.2,161 L352.7,159.7 L352.3,158.7 Z" fill="#3b3bff" opacity="0.2" filter="url(#b2)"/>
<path d="M348.3,160.5 L348.7,161.4 L349.2,162.7 L349.9,164.3 L350.6,165.9 L351.4,167.5 L352.1,169.2 L352.8,171.1 L353.6,173 L354.4,174.7 L355.3,176.1 L356.3,177.1 L357.3,177.7 L358.3,177.9 L359,178 L359.6,178.2 L360.5,178.5 L361.4,178.8 L362.3,179 L363.1,179.2 L363.7,179.4 L364.3,177 L363.8,176.8 L363,176.6 L362.1,176.4 L361.2,176.1 L360.4,175.8 L359.5,175.6 L358.7,175.5 L358.2,175.4 L357.8,175.2 L357.3,174.7 L356.6,173.6 L355.9,172 L355.1,170.1 L354.4,168.2 L353.6,166.5 L352.9,164.9 L352.2,163.3 L351.5,161.7 L351,160.4 L350.5,159.5 Z" fill="#0808ff" filter="url(#b0)"/>
<path d="M344.2,166.2 L344.7,167.3 L345.3,168.9 L346.2,170.9 L347.1,172.9 L348.2,174.9 L349.3,176.6 L350.5,178.1 L351.5,179.3 L352.5,180.3 L353.2,181.2 L353.9,182 L354.7,182.9 L355.4,183.8 L356.3,184.8 L357.4,185.8 L358.7,186.8 L360,187.4 L361,187.9 L361.6,188.1 L361.9,188.2 L366.1,177.8 L365.6,177.6 L365.1,177.4 L364.8,177.3 L364.6,177.2 L364.6,177.2 L364.4,177 L363.9,176.5 L363.3,175.8 L362.6,174.9 L361.8,173.8 L360.8,172.8 L359.9,171.8 L359.1,170.9 L358.4,170 L357.8,169.1 L357.2,167.9 L356.5,166.3 L355.7,164.6 L355.1,163 L354.6,161.8 Z" fill="#3b3bff" opacity="0.2" filter="url(#b2)"/>
<path d="M347.3,164.9 L347.8,166 L348.5,167.6 L349.3,169.5 L350.1,171.4 L351.1,173.1 L352,174.6 L353.1,175.9 L354.1,177 L355,178 L355.8,179 L356.5,179.9 L357.3,180.8 L358,181.6 L358.7,182.5 L359.6,183.2 L360.5,183.9 L361.4,184.4 L362.2,184.7 L362.8,184.9 L363.1,185.1 L364.9,180.9 L364.4,180.7 L363.9,180.5 L363.3,180.3 L362.9,180.1 L362.4,179.8 L362,179.3 L361.4,178.7 L360.7,177.9 L360,177 L359.2,176 L358.3,175 L357.4,174 L356.5,173 L355.7,172 L354.9,170.9 L354.2,169.4 L353.4,167.7 L352.6,165.9 L352,164.3 L351.5,163.1 Z" fill="#0808ff" filter="url(#b0)"/>
<path d="M346.5,164.1 L347,165.4 L347.6,167.2 L348.5,169.3 L349.3,171.4 L350.2,173.3 L351,175 L351.8,176.5 L352.6,178 L353.5,179.4 L354.4,180.8 L355.5,182.2 L356.6,183.7 L357.7,185 L358.7,186.2 L359.6,187.2 L360.3,188 L361,188.6 L361.5,189 L361.9,189.3 L362.1,189.4 L365.9,184.6 L365.7,184.3 L365.4,184.1 L365.1,183.9 L364.8,183.6 L364.2,183 L363.5,182.1 L362.5,181 L361.5,179.8 L360.5,178.5 L359.6,177.2 L358.8,176 L358,174.8 L357.3,173.5 L356.5,172.1 L355.8,170.7 L355.1,169 L354.3,167 L353.5,164.9 L352.8,163.1 L352.3,161.9 Z" fill="#3b3bff" opacity="0.2" filter="url(#b2)"/>
<path d="M348.2,163.4 L348.7,164.7 L349.4,166.5 L350.2,168.6 L351,170.7 L351.9,172.5 L352.6,174.1 L353.4,175.6 L354.2,177 L355.1,178.4 L356,179.7 L357,181.1 L358.1,182.5 L359.1,183.8 L360.1,185 L361,185.9 L361.6,186.7 L362.2,187.2 L362.7,187.6 L363,187.8 L363.2,188 L364.8,186 L364.5,185.8 L364.2,185.6 L363.9,185.3 L363.4,184.9 L362.8,184.3 L362,183.3 L361.1,182.2 L360,180.9 L359,179.6 L358,178.3 L357.2,177 L356.4,175.7 L355.6,174.4 L354.9,173 L354.1,171.5 L353.3,169.7 L352.5,167.7 L351.7,165.6 L351.1,163.8 L350.6,162.6 Z" fill="#0808ff" filter="url(#b0)"/>
<line x1="209.2" y1="195.7" x2="364" y2="195.7" stroke="#9a9a9a" stroke-width="0.85" stroke-dasharray="2.6,1.8"/>
<path d="M209.2,247 C210,246 212.1,245.1 213.9,241.1 C215.7,237.1 218.2,229.6 219.9,223.2 C221.6,216.8 223.4,206.3 224.3,202.4 C225.2,198.5 224.6,202.1 225.2,200 C225.8,197.9 226.6,195.5 227.8,190.1 C229,184.7 231.1,172.8 232.3,167.6 C233.5,162.4 234.2,161.1 234.9,159.2 C235.7,157.3 236,156.2 236.8,156 C237.7,155.8 238.8,156.3 240,157.9 C241.2,159.5 242.6,163.4 243.9,165.6 C245.2,167.8 246.5,169.1 247.8,170.8 C249.1,172.5 250.2,174.6 251.6,175.9 C253,177.2 254.8,180.2 256.1,178.5 C257.4,176.8 258.4,169.7 259.4,165.6 C260.4,161.5 261.3,157 261.9,154 C262.5,151 263,148.6 263.2,147.5" fill="none" stroke="#111" stroke-width="1.1" stroke-linejoin="round"/>
<path d="M228.4,147.5 C229.1,148.4 231,151.4 232.3,152.7 C233.7,154 235.6,154.6 236.5,155.5 C237.4,156.4 236.7,156.2 237.5,157.9 C238.3,159.6 240,163.2 241.3,165.6 C242.6,168 243.7,169.7 245.2,172.1 C246.7,174.5 248.7,177.9 250.4,179.8 C252.1,181.7 254.4,182.8 255.5,183.7 C256.6,184.6 256.4,183.6 257,185 C257.6,186.4 258.6,189.6 259.4,192 C260.1,194.4 260.8,196.2 261.5,199.5 C262.2,202.8 262.8,207.9 263.5,212 C264.2,216.1 264.7,219.9 265.5,224 C266.3,228.1 267.1,233.3 268.2,236.5 C269.3,239.7 270.9,241.5 271.9,243.1 C272.9,244.7 273.4,245.3 274.2,246 C275,246.7 275.8,247.3 276.6,247.3 C277.4,247.3 278.2,246.7 279,246 C279.8,245.3 280.5,244.3 281.3,243.1 C282.1,241.8 283.2,240.1 284,238.5 C284.8,236.9 285.3,235.9 286,233.7 C286.7,231.4 287.5,228.1 288.2,225 C288.9,221.9 289.6,218.3 290.2,215 C290.8,211.7 290.9,210.6 291.9,205 C292.9,199.4 295.2,188.1 296.4,181.7 C297.6,175.3 298.7,169.9 299.3,166.8 C299.9,163.7 300.1,163.6 300.2,163" fill="none" stroke="#111" stroke-width="1.1" stroke-linejoin="round"/>
<path d="M296.9,147.5 C297.3,148.4 298.5,151.2 299.5,153 C300.5,154.8 301.3,157 302.9,158.1 C304.5,159.2 307.2,159.7 308.9,159.4 C310.6,159.1 312.2,158.5 313.3,156.5 C314.4,154.5 315,149 315.4,147.5" fill="none" stroke="#111" stroke-width="1.1" stroke-linejoin="round"/>
<path d="M335.1,147.5 C335.6,149.1 336.7,155 337.8,157 C338.9,159 340.2,159.2 341.6,159.4 C343.1,159.6 345.2,160.1 346.5,158.1 C347.8,156.1 348.8,149.3 349.3,147.5" fill="none" stroke="#111" stroke-width="1.1" stroke-linejoin="round"/>
<path d="M294.7,147.5 C295.2,148.8 296.6,152.4 297.5,155 C298.4,157.6 299.8,161.7 300.2,163" fill="none" stroke="#111" stroke-width="1.1" stroke-linejoin="round"/>
<path d="M300.2,163 C301.2,163.4 303.9,165.6 306.2,165.7 C308.5,165.8 311.6,164.5 313.8,163.5 C316,162.5 317.6,160.8 319.5,159.5 C321.4,158.2 323.5,155.4 325.3,155.4 C327.1,155.4 328.8,158.2 330.5,159.5 C332.2,160.8 333.7,162.5 335.6,163.5 C337.6,164.5 340,165.8 342.2,165.7 C344.4,165.6 347.6,163.4 348.7,163" fill="none" stroke="#111" stroke-width="1.1" stroke-linejoin="round"/>
<path d="M349.4,160 C349.9,161.2 351.4,164.4 352.5,167 C353.6,169.6 355.1,173.7 356.3,175.4 C357.6,177.1 358.7,176.5 360,177 C361.3,177.5 363.3,178 364,178.2" fill="none" stroke="#111" stroke-width="1.1" stroke-linejoin="round"/>
<path d="M349.4,163 C350,164.5 351.7,169.3 353,172 C354.3,174.7 355.5,176.8 357,179 C358.5,181.2 360.7,183.8 361.9,185.1 C363.1,186.4 363.6,186.7 364,187" fill="none" stroke="#111" stroke-width="1.1" stroke-linejoin="round"/>
<circle cx="210.9" cy="232.1" r="0.9" fill="#f00"/>
<circle cx="214.3" cy="229.6" r="0.9" fill="#f00"/>
<circle cx="217.7" cy="224.4" r="0.9" fill="#f00"/>
<circle cx="221.1" cy="215.7" r="0.9" fill="#f00"/>
<circle cx="224.5" cy="201.5" r="0.9" fill="#f00"/>
<circle cx="227.9" cy="189.6" r="0.9" fill="#f00"/>
<circle cx="231.3" cy="172.4" r="0.9" fill="#f00"/>
<circle cx="234.7" cy="159.7" r="0.9" fill="#f00"/>
<circle cx="238.1" cy="156.2" r="0.9" fill="#f00"/>
<circle cx="241.5" cy="160.7" r="0.9" fill="#f00"/>
<circle cx="244.9" cy="167.1" r="0.9" fill="#f00"/>
<circle cx="248.3" cy="171.5" r="0.9" fill="#f00"/>
<circle cx="251.7" cy="176" r="0.9" fill="#f00"/>
<circle cx="255.1" cy="179" r="0.9" fill="#f00"/>
<circle cx="258.5" cy="169.9" r="0.9" fill="#f00"/>
<circle cx="261.9" cy="154" r="0.9" fill="#f00"/>
<circle cx="230.1" cy="149.9" r="0.9" fill="#f00"/>
<circle cx="233.5" cy="153.6" r="0.9" fill="#f00"/>
<circle cx="236.9" cy="156" r="0.9" fill="#f00"/>
<circle cx="240.3" cy="163.7" r="0.9" fill="#f00"/>
<circle cx="243.7" cy="169.7" r="0.9" fill="#f00"/>
<circle cx="247.1" cy="175.1" r="0.9" fill="#f00"/>
<circle cx="250.5" cy="179.9" r="0.9" fill="#f00"/>
<circle cx="253.9" cy="182.6" r="0.9" fill="#f00"/>
<circle cx="257.3" cy="185.7" r="0.9" fill="#f00"/>
<circle cx="260.7" cy="196.2" r="0.9" fill="#f00"/>
<circle cx="264.1" cy="213.2" r="0.9" fill="#f00"/>
<circle cx="267.5" cy="225.8" r="0.9" fill="#f00"/>
<circle cx="270.9" cy="230.3" r="0.9" fill="#f00"/>
<circle cx="274.3" cy="232.7" r="0.9" fill="#f00"/>
<circle cx="277.7" cy="233.2" r="0.9" fill="#f00"/>
<circle cx="281.1" cy="231.3" r="0.9" fill="#f00"/>
<circle cx="284.5" cy="228" r="0.9" fill="#f00"/>
<circle cx="287.9" cy="220.9" r="0.9" fill="#f00"/>
<circle cx="291.3" cy="207.4" r="0.9" fill="#f00"/>
<circle cx="294.7" cy="190.3" r="0.9" fill="#f00"/>
<circle cx="298.1" cy="172.9" r="0.9" fill="#f00"/>
<circle cx="238.4" cy="156.4" r="0.9" fill="#f00"/>
<circle cx="241.6" cy="158.4" r="0.9" fill="#f00"/>
<circle cx="244.8" cy="163.9" r="0.9" fill="#f00"/>
<circle cx="248" cy="171.6" r="0.9" fill="#f00"/>
<circle cx="251.2" cy="178.4" r="0.9" fill="#f00"/>
<circle cx="254.4" cy="182.1" r="0.9" fill="#f00"/>
<circle cx="300.7" cy="167.3" r="0.9" fill="#f00"/>
<circle cx="308.9" cy="170.1" r="0.9" fill="#f00"/>
<circle cx="317.1" cy="165.5" r="0.9" fill="#f00"/>
<circle cx="325.3" cy="158.5" r="0.9" fill="#f00"/>
<circle cx="333.5" cy="165.6" r="0.9" fill="#f00"/>
<circle cx="341.7" cy="170.1" r="0.9" fill="#f00"/>
<circle cx="300.7" cy="155.3" r="0.9" fill="#f00"/>
<circle cx="308.9" cy="159.4" r="0.9" fill="#f00"/>
<circle cx="341.7" cy="159.4" r="0.9" fill="#f00"/>
<circle cx="304.9" cy="165.5" r="0.9" fill="#f00"/>
<circle cx="313.1" cy="163.8" r="0.9" fill="#f00"/>
<circle cx="321.3" cy="158" r="0.9" fill="#f00"/>
<circle cx="329.5" cy="158.6" r="0.9" fill="#f00"/>
<circle cx="337.7" cy="164.6" r="0.9" fill="#f00"/>
<circle cx="345.9" cy="164.5" r="0.9" fill="#f00"/>
<circle cx="351.1" cy="168.2" r="0.9" fill="#f00"/>
<circle cx="354.6" cy="174.3" r="0.9" fill="#f00"/>
<circle cx="358.1" cy="178.3" r="0.9" fill="#f00"/>
<circle cx="361.6" cy="182" r="0.9" fill="#f00"/>
<path d="M273.1,230.2 L279.9,237 M273.1,237 L279.9,230.2" stroke="#f7a51c" stroke-width="1.9" stroke-linecap="butt"/>
</g>
<rect x="209.2" y="147.5" width="154.8" height="120.5" fill="none" stroke="#222" stroke-width="0.9"/>
<line x1="206.6" y1="268" x2="209.2" y2="268" stroke="#222" stroke-width="0.9"/>
<text x="204.6" y="270.5" font-family="'DejaVu Sans','Liberation Sans',sans-serif" font-size="7.2" fill="#000" stroke="#000" stroke-width="0.2" text-anchor="end">−3</text>
<line x1="206.6" y1="243.9" x2="209.2" y2="243.9" stroke="#222" stroke-width="0.9"/>
<text x="204.6" y="246.4" font-family="'DejaVu Sans','Liberation Sans',sans-serif" font-size="7.2" fill="#000" stroke="#000" stroke-width="0.2" text-anchor="end">−2</text>
<line x1="206.6" y1="219.8" x2="209.2" y2="219.8" stroke="#222" stroke-width="0.9"/>
<text x="204.6" y="222.3" font-family="'DejaVu Sans','Liberation Sans',sans-serif" font-size="7.2" fill="#000" stroke="#000" stroke-width="0.2" text-anchor="end">−1</text>
<line x1="206.6" y1="195.7" x2="209.2" y2="195.7" stroke="#222" stroke-width="0.9"/>
<text x="204.6" y="198.2" font-family="'DejaVu Sans','Liberation Sans',sans-serif" font-size="7.2" fill="#000" stroke="#000" stroke-width="0.2" text-anchor="end">0</text>
<line x1="206.6" y1="171.6" x2="209.2" y2="171.6" stroke="#222" stroke-width="0.9"/>
<text x="204.6" y="174.1" font-family="'DejaVu Sans','Liberation Sans',sans-serif" font-size="7.2" fill="#000" stroke="#000" stroke-width="0.2" text-anchor="end">1</text>
<line x1="206.6" y1="147.5" x2="209.2" y2="147.5" stroke="#222" stroke-width="0.9"/>
<text x="204.6" y="150" font-family="'DejaVu Sans','Liberation Sans',sans-serif" font-size="7.2" fill="#000" stroke="#000" stroke-width="0.2" text-anchor="end">2</text>
<line x1="209.2" y1="268" x2="209.2" y2="270.6" stroke="#222" stroke-width="0.9"/>
<text x="209.2" y="280.1" font-family="'DejaVu Sans','Liberation Sans',sans-serif" font-size="9.7" fill="#000" stroke="#000" stroke-width="0.15" text-anchor="middle">Γ</text>
<line x1="237.1" y1="268" x2="237.1" y2="270.6" stroke="#222" stroke-width="0.9"/>
<text x="237.1" y="280.1" font-family="'DejaVu Sans','Liberation Sans',sans-serif" font-size="9.7" fill="#000" stroke="#000" stroke-width="0.15" text-anchor="middle">H</text>
<line x1="256.8" y1="268" x2="256.8" y2="270.6" stroke="#222" stroke-width="0.9"/>
<text x="256.8" y="280.1" font-family="'DejaVu Sans','Liberation Sans',sans-serif" font-size="9.7" fill="#000" stroke="#000" stroke-width="0.15" text-anchor="middle">N</text>
<line x1="276.5" y1="268" x2="276.5" y2="270.6" stroke="#222" stroke-width="0.9"/>
<text x="276.5" y="280.1" font-family="'DejaVu Sans','Liberation Sans',sans-serif" font-size="9.7" fill="#000" stroke="#000" stroke-width="0.15" text-anchor="middle">Γ</text>
<line x1="300.6" y1="268" x2="300.6" y2="270.6" stroke="#222" stroke-width="0.9"/>
<text x="300.6" y="280.1" font-family="'DejaVu Sans','Liberation Sans',sans-serif" font-size="9.7" fill="#000" stroke="#000" stroke-width="0.15" text-anchor="middle">P</text>
<line x1="325.2" y1="268" x2="325.2" y2="270.6" stroke="#222" stroke-width="0.9"/>
<text x="325.2" y="280.1" font-family="'DejaVu Sans','Liberation Sans',sans-serif" font-size="9.7" fill="#000" stroke="#000" stroke-width="0.15" text-anchor="middle">H</text>
<line x1="349.8" y1="268" x2="349.8" y2="270.6" stroke="#222" stroke-width="0.9"/>
<text x="349.8" y="280.1" font-family="'DejaVu Sans','Liberation Sans',sans-serif" font-size="9.7" fill="#000" stroke="#000" stroke-width="0.15" text-anchor="middle">P</text>
<line x1="363.7" y1="268" x2="363.7" y2="270.6" stroke="#222" stroke-width="0.9"/>
<text x="363.7" y="280.1" font-family="'DejaVu Sans','Liberation Sans',sans-serif" font-size="9.7" fill="#000" stroke="#000" stroke-width="0.15" text-anchor="middle">N</text>
<text x="359.9" y="263.1" font-family="'DejaVu Sans','Liberation Sans',sans-serif" font-size="11.1" fill="#000" stroke="#000" stroke-width="0.1" text-anchor="end">bcc K</text>
<g clip-path="url(#c5)">
<ellipse cx="453" cy="262" rx="8" ry="8" fill="#3a3aff" opacity="0.18" filter="url(#b3)"/>
<ellipse cx="391" cy="258" rx="5" ry="8" fill="#3a3aff" opacity="0.18" filter="url(#b3)"/>
<ellipse cx="509" cy="209" rx="5" ry="5" fill="#3a3aff" opacity="0.18" filter="url(#b2)"/>
<path d="M397,147.5 L437,147.5 L432,163 L420,164 L405,162 Z" fill="#3a3aff" opacity="0.25" filter="url(#b2)"/>
<path d="M479,147.5 L502,147.5 L493,165 Z" fill="#3a3aff" opacity="0.2" filter="url(#b2)"/>
<path d="M516,147.5 L544,147.5 L544,160 L523,161 Z" fill="#3a3aff" opacity="0.2" filter="url(#b2)"/>
<path d="M523,165 L544,165 L544,171 L523,171 Z" fill="#3a3aff" opacity="0.2" filter="url(#b2)"/>
<path d="M500,183 L519,183 L509,198 Z" fill="#3a3aff" opacity="0.15" filter="url(#b2)"/>
<path d="M389.5,246.5 L390,246.3 L390.6,246 L391.4,245.6 L392.2,245.1 L392.9,244.5 L393.6,243.8 L394.2,243 L394.8,242 L395.5,240.8 L396.2,239.3 L397,237.3 L397.8,235 L398.7,232.4 L399.5,229.7 L400.3,227 L401,224.3 L401.7,221.4 L402.4,218.5 L403,215.7 L403.6,213.1 L404.1,210.7 L404.5,208.3 L405,206.1 L405.4,204 L405.8,202 L406.3,200.1 L406.8,198.2 L407.3,196.4 L407.8,194.8 L408.3,193.5 L408.9,192.4 L409.5,191.6 L410,191 L410.5,190.5 L410.9,190.1 L410.9,188.8 L410.5,189.9 L410,191.4 L409.4,193.2 L408.8,195.1 L408.3,197 L407.8,198.8 L407.4,200.6 L407,202.4 L406.5,204.4 L406,206.6 L405.4,209 L404.8,211.6 L404.1,214.3 L403.5,217 L402.8,219.7 L402.1,222.3 L401.5,225 L400.8,227.6 L400.2,230.2 L399.5,232.8 L398.8,235.3 L398.2,237.9 L397.5,240.4 L396.9,242.8 L396.2,245 L395.5,247 L394.9,248.9 L394.2,250.7 L393.6,252.4 L392.9,254 L392.2,255.6 L391.4,257.2 L390.6,258.6 L390,259.8 L389.5,260.7 Z" fill="#3a3aff" opacity="0.28" filter="url(#b1)"/>
<path d="M432.1,183.6 L432.3,184.3 L432.7,185.1 L433.1,186.3 L433.5,187.8 L434,190 L434.5,192.9 L435,196.4 L435.5,200.3 L436.2,204.4 L437,208.4 L438,212.6 L439.2,217.1 L440.5,221.6 L441.8,225.8 L443,229.2 L444.1,231.8 L445.1,233.9 L446,235.5 L447,236.8 L448,238 L449.1,239.1 L450.2,239.9 L451.3,240.6 L452.4,241 L453.4,241.1 L454.4,241.1 L455.2,240.9 L456.1,240.5 L457,239.6 L458,238.2 L459.1,236 L460.3,233.1 L461.6,229.8 L462.8,226.5 L463.9,223.3 L465,220.1 L466,216.6 L467,213.3 L467.8,210.4 L468.4,208.4 L469.9,208.4 L469.3,210.8 L468.4,214.3 L467.4,218.3 L466.4,222.4 L465.4,226.3 L464.5,230 L463.6,233.7 L462.7,237.4 L461.8,240.9 L461,244.1 L460.3,247 L459.8,249.6 L459.2,252.1 L458.7,254.2 L458,256 L457.2,257.5 L456.3,258.9 L455.4,259.8 L454.4,260.4 L453.4,260.4 L452.3,259.7 L451.2,258.4 L450.1,256.6 L449,254.8 L448,253 L447.2,251.4 L446.4,249.8 L445.7,248 L445.1,246.1 L444.4,244 L443.7,241.5 L443,238.7 L442.3,235.7 L441.6,232.8 L441,230 L440.4,227.4 L439.9,224.8 L439.5,222.2 L439,219.7 L438.5,217.3 L438,214.9 L437.5,212.6 L437,210.3 L436.5,208.1 L436,206 L435.6,204 L435.1,202.1 L434.7,200.3 L434.3,198.4 L434,196.5 L433.7,194.3 L433.4,191.9 L433.2,189.6 L433,187.6 L432.8,186.2 Z" fill="#3a3aff" opacity="0.28" filter="url(#b1)"/>
<line x1="389.5" y1="147.5" x2="389.5" y2="268" stroke="#ececec" stroke-width="0.5"/>
<line x1="411.8" y1="147.5" x2="411.8" y2="268" stroke="#ececec" stroke-width="0.5"/>
<line x1="422.3" y1="147.5" x2="422.3" y2="268" stroke="#ececec" stroke-width="0.5"/>
<line x1="430" y1="147.5" x2="430" y2="268" stroke="#ececec" stroke-width="0.5"/>
<line x1="453.2" y1="147.5" x2="453.2" y2="268" stroke="#ececec" stroke-width="0.5"/>
<line x1="472.5" y1="147.5" x2="472.5" y2="268" stroke="#ececec" stroke-width="0.5"/>
<line x1="485.6" y1="147.5" x2="485.6" y2="268" stroke="#ececec" stroke-width="0.5"/>
<line x1="493.8" y1="147.5" x2="493.8" y2="268" stroke="#ececec" stroke-width="0.5"/>
<line x1="509.3" y1="147.5" x2="509.3" y2="268" stroke="#ececec" stroke-width="0.5"/>
<line x1="522.4" y1="147.5" x2="522.4" y2="268" stroke="#ececec" stroke-width="0.5"/>
<line x1="536.3" y1="147.5" x2="536.3" y2="268" stroke="#ececec" stroke-width="0.5"/>
<line x1="543.7" y1="147.5" x2="543.7" y2="268" stroke="#ececec" stroke-width="0.5"/>
<line x1="389.5" y1="268" x2="544" y2="268" stroke="#ececec" stroke-width="0.5"/>
<line x1="389.5" y1="246.1" x2="544" y2="246.1" stroke="#ececec" stroke-width="0.5"/>
<line x1="389.5" y1="224.2" x2="544" y2="224.2" stroke="#ececec" stroke-width="0.5"/>
<line x1="389.5" y1="202.3" x2="544" y2="202.3" stroke="#ececec" stroke-width="0.5"/>
<line x1="389.5" y1="180.4" x2="544" y2="180.4" stroke="#ececec" stroke-width="0.5"/>
<line x1="389.5" y1="158.5" x2="544" y2="158.5" stroke="#ececec" stroke-width="0.5"/>
<path d="M392.2,252.1 L392.5,251.9 L393.2,251.6 L394.3,251 L395.8,250 L397.1,248.8 L398,247.6 L398.8,246.4 L399.6,245 L400.4,243.3 L401.2,241.4 L401.9,239.1 L402.6,236.6 L403.3,233.9 L404,231 L404.6,228.2 L405.2,225.4 L405.8,222.4 L406.3,219.4 L406.8,216.6 L407.3,213.9 L407.7,211.4 L408,209 L408.3,206.7 L408.5,204.7 L408.8,202.7 L409.2,200.8 L409.6,199 L410.1,197.3 L410.5,195.8 L410.8,194.6 L411.2,193.8 L411.5,193.4 L411.8,193.1 L412.2,192.7 L412.8,192.1 L413.4,191.6 L414,191.1 L414.8,190.4 L415.8,189.6 L416.8,188.6 L417.7,187.4 L418.6,186.1 L419.4,184.8 L420.2,183.6 L420.9,182.5 L421.7,181.2 L422.2,180 L422.7,179.2 L422.8,179 L422.4,179.2 L422.3,179.2 L422.9,179.5 L423.9,180 L425,180.7 L426,181.4 L426.9,182 L427.8,182.7 L428.5,183.5 L429.2,184.2 L429.8,185 L430.1,185.8 L430.3,186.4 L430.5,187.1 L430.8,188.5 L431.2,190.5 L431.6,193.3 L432,196.8 L432.5,200.8 L433.1,204.9 L433.8,209.1 L434.8,213.4 L435.9,218 L437.1,222.6 L438.3,226.9 L439.5,230.5 L440.5,233.4 L441.6,235.7 L442.6,237.7 L443.7,239.4 L444.9,240.9 L446.2,242.3 L447.7,243.6 L449.4,244.7 L451.2,245.5 L453.1,245.8 L454.7,245.7 L456.7,245.3 L458.7,244.1 L460.4,242.4 L461.7,240.3 L462.9,237.7 L464.1,234.6 L465.3,231.2 L466.4,227.8 L467.5,224.5 L468.4,221.3 L469.2,218.2 L470,215.1 L470.7,212.1 L471.5,209.4 L472.3,207 L473.1,204.6 L473.8,202.4 L474.6,200.3 L475.5,198.1 L476.3,196 L477.2,193.8 L478.1,191.8 L478.9,189.9 L479.7,188.3 L480.5,186.9 L481.3,185.6 L482.1,184.5 L482.8,183.4 L483.4,182.6 L483.7,182.3 L483.3,182.6 L483.6,182.5 L484.2,181.9 L484.8,181.1 L485.6,179.9 L486.5,178.4 L487.6,176.7 L488.7,175.1 L489.7,173.7 L490.7,172.7 L491.8,171.6 L493,170.5 L494.3,169.2 L495.6,167.6 L496.7,166 L497.7,164.3 L498.6,162.6 L499.5,160.8 L500.4,159.1 L501.3,157.2 L502.2,155.1 L503.1,153.1 L503.8,151.3 L504.3,149.9 L504.7,149.1 L504.9,148.4 L504.9,147.1 L504.8,146.6 L504.9,147.4 L499.5,147.6 L499.6,148.6 L499.5,148.1 L499.6,147.1 L499.5,147.2 L499.3,147.9 L498.7,149.2 L498,150.9 L497.1,152.9 L496.3,154.9 L495.4,156.7 L494.6,158.4 L493.8,160 L492.9,161.6 L492.1,163.1 L491.2,164.4 L490.3,165.5 L489.2,166.5 L488,167.6 L486.8,168.8 L485.5,170.3 L484.2,171.9 L483,173.7 L481.9,175.4 L481,176.9 L480.2,177.9 L479.9,178.4 L480.1,178.2 L480.1,178.1 L479.4,178.8 L479,179.4 L478.4,180.3 L477.6,181.3 L476.7,182.6 L475.8,184.1 L474.9,185.7 L473.9,187.5 L473,189.5 L472,191.6 L471.1,193.7 L470.1,195.9 L469.2,198 L468.2,200.2 L467.3,202.4 L466.3,204.8 L465.3,207.4 L464.3,210.2 L463.4,213.2 L462.4,216.2 L461.4,219.2 L460.3,222.1 L459.2,225.2 L457.9,228.5 L456.6,231.6 L455.3,234.3 L454.3,236.1 L453.6,236.9 L453.5,236.9 L453.8,236.6 L454,236.5 L453.7,236.4 L453.5,236.4 L453.2,236.4 L452.7,236.2 L452,235.8 L451.1,235.1 L450.3,234.2 L449.4,233.2 L448.5,232 L447.6,230.3 L446.5,227.9 L445.3,224.6 L443.9,220.6 L442.6,216.2 L441.3,211.8 L440.2,207.7 L439.3,203.8 L438.6,199.8 L438,196 L437.4,192.4 L436.8,189.5 L436.4,187.4 L436,185.8 L435.6,184.5 L435.1,183.4 L434.4,182.2 L433.6,180.9 L432.6,179.7 L431.5,178.6 L430.3,177.7 L429.2,176.8 L428,176 L426.6,175.2 L425.1,174.4 L423.4,173.8 L421.2,173.8 L419.2,174.8 L418.1,176.2 L417.4,177.5 L416.8,178.6 L416.3,179.5 L415.6,180.6 L414.8,181.9 L414,183.1 L413.3,184.2 L412.6,185 L412,185.6 L411.4,186.2 L410.7,186.7 L409.8,187.4 L409,188.1 L408.4,188.7 L407.8,189.3 L407.1,190.1 L406.4,191.1 L405.8,192.4 L405.1,193.9 L404.5,195.6 L403.9,197.4 L403.3,199.3 L402.8,201.3 L402.2,203.4 L401.6,205.5 L401.1,207.7 L400.5,210 L399.9,212.3 L399.2,214.9 L398.4,217.6 L397.6,220.4 L396.8,223.2 L396,225.8 L395,228.3 L394.1,230.9 L393.1,233.3 L392.1,235.5 L391.2,237.2 L390.6,238.4 L390,239.1 L389.6,239.6 L389.1,240 L388.7,240.2 L388.6,240.3 L388.4,240.3 L388.1,240.4 L387.4,240.6 L386.8,240.9 Z" fill="#3b3bff" opacity="0.2" filter="url(#b2)"/>
<path d="M390.6,248.8 L391,248.5 L391.6,248.2 L392.6,247.8 L393.6,247.1 L394.6,246.2 L395.3,245.3 L396,244.4 L396.8,243.2 L397.5,241.8 L398.2,240.1 L398.9,238 L399.7,235.6 L400.5,233 L401.3,230.2 L402,227.5 L402.7,224.7 L403.4,221.8 L404,218.9 L404.5,216.1 L405.1,213.4 L405.5,210.9 L405.9,208.6 L406.3,206.4 L406.6,204.3 L407,202.3 L407.5,200.4 L407.9,198.5 L408.4,196.7 L408.9,195.2 L409.3,193.9 L409.8,193 L410.2,192.4 L410.6,192 L411.1,191.5 L411.7,190.9 L412.3,190.3 L413,189.8 L413.8,189.2 L414.7,188.4 L415.5,187.5 L416.4,186.4 L417.2,185.2 L418,183.9 L418.8,182.7 L419.5,181.6 L420.2,180.4 L420.8,179.3 L421.3,178.3 L421.7,177.8 L422,177.6 L422.6,177.6 L423.6,177.9 L424.7,178.5 L425.9,179.3 L427,180 L427.9,180.7 L428.9,181.5 L429.7,182.3 L430.5,183.2 L431.2,184.2 L431.6,185.1 L431.9,185.8 L432.2,186.7 L432.5,188.1 L432.9,190.2 L433.3,193.1 L433.8,196.6 L434.3,200.5 L434.9,204.6 L435.7,208.7 L436.7,212.9 L437.9,217.5 L439.2,222 L440.4,226.2 L441.6,229.7 L442.6,232.4 L443.7,234.6 L444.7,236.4 L445.7,237.8 L446.7,239.1 L447.9,240.4 L449.2,241.4 L450.5,242.2 L451.9,242.8 L453.3,243 L454.5,242.9 L455.8,242.7 L457.2,241.9 L458.4,240.7 L459.5,239 L460.6,236.7 L461.8,233.7 L463.1,230.4 L464.2,227 L465.3,223.8 L466.3,220.7 L467.2,217.6 L468,214.5 L468.8,211.5 L469.6,208.8 L470.5,206.3 L471.3,204 L472.2,201.7 L473,199.6 L473.9,197.4 L474.8,195.3 L475.7,193.2 L476.6,191.1 L477.4,189.2 L478.3,187.5 L479.1,186 L479.9,184.7 L480.8,183.5 L481.5,182.5 L482.1,181.6 L482.4,181.2 L482.4,181.3 L482.5,181.2 L482.9,180.8 L483.4,180.1 L484.2,179 L485.2,177.5 L486.2,175.8 L487.4,174.1 L488.5,172.7 L489.5,171.5 L490.7,170.4 L491.9,169.3 L493.1,168.1 L494.3,166.7 L495.3,165.1 L496.3,163.5 L497.2,161.8 L498,160.1 L498.9,158.4 L499.8,156.5 L500.7,154.4 L501.5,152.4 L502.3,150.6 L502.8,149.3 L503.1,148.5 L503.3,148 L503.3,147.4 L503.2,147.2 L503.3,147.5 L501.1,147.5 L501.2,148 L501.2,147.8 L501.2,147.5 L501.1,147.7 L500.8,148.5 L500.2,149.8 L499.5,151.6 L498.7,153.6 L497.8,155.6 L496.9,157.4 L496.1,159.1 L495.2,160.8 L494.4,162.4 L493.5,163.9 L492.5,165.3 L491.5,166.6 L490.4,167.7 L489.2,168.8 L487.9,170 L486.7,171.3 L485.6,172.9 L484.4,174.6 L483.3,176.3 L482.3,177.8 L481.6,178.9 L481.2,179.4 L481.1,179.5 L481.1,179.5 L480.7,179.8 L480.3,180.4 L479.7,181.2 L479,182.3 L478.1,183.5 L477.2,184.9 L476.3,186.5 L475.4,188.2 L474.5,190.2 L473.6,192.3 L472.7,194.4 L471.7,196.6 L470.8,198.7 L469.9,200.8 L469,203.1 L468.1,205.4 L467.2,208 L466.2,210.8 L465.3,213.7 L464.4,216.8 L463.5,219.8 L462.5,222.8 L461.3,226 L460.1,229.3 L458.8,232.5 L457.6,235.3 L456.5,237.4 L455.7,238.5 L455.1,239.1 L454.7,239.2 L454.2,239.2 L453.5,239.2 L452.8,239.2 L452,238.9 L451.2,238.5 L450.2,237.8 L449.3,236.9 L448.3,235.8 L447.4,234.6 L446.4,233.1 L445.5,231.2 L444.4,228.7 L443.2,225.3 L441.9,221.2 L440.6,216.8 L439.3,212.3 L438.3,208.1 L437.4,204.1 L436.8,200.1 L436.2,196.2 L435.6,192.7 L435.1,189.8 L434.7,187.7 L434.4,186.2 L434.1,185.1 L433.6,184.1 L433,183 L432.3,181.9 L431.3,180.8 L430.4,179.9 L429.3,179 L428.2,178.2 L427.1,177.4 L425.8,176.6 L424.4,175.9 L423,175.5 L421.6,175.4 L420.3,176.1 L419.4,177.1 L418.8,178.3 L418.3,179.4 L417.7,180.4 L416.9,181.5 L416.2,182.8 L415.4,184 L414.6,185.1 L413.9,186.1 L413.2,186.8 L412.4,187.4 L411.7,188 L410.9,188.6 L410.1,189.3 L409.5,189.9 L409,190.4 L408.4,191.1 L407.8,192 L407.3,193.1 L406.7,194.5 L406.2,196.1 L405.6,197.9 L405.1,199.8 L404.6,201.7 L404.1,203.7 L403.6,205.9 L403.2,208.1 L402.7,210.4 L402.1,212.8 L401.5,215.4 L400.8,218.2 L400.1,221 L399.3,223.8 L398.6,226.5 L397.7,229.1 L396.8,231.8 L395.9,234.3 L395,236.6 L394.2,238.5 L393.5,239.9 L392.9,240.9 L392.3,241.6 L391.8,242.3 L391.2,242.8 L390.7,243.2 L390.2,243.5 L389.6,243.8 L388.9,244 L388.4,244.2 Z" fill="#0808ff" filter="url(#b0)"/>
<path d="M394.2,148.8 L394.6,150 L395.2,151.7 L395.9,153.6 L396.6,155.6 L397.2,157.4 L397.8,158.9 L398.3,160.4 L398.9,162 L399.6,163.7 L400.5,165.2 L401.6,166.6 L402.8,167.7 L404.2,168.6 L405.7,169.3 L407.6,169.6 L409.8,169.2 L411.4,168.4 L412.3,167.8 L412.7,167.5 L412.5,167.6 L412.2,167.6 L412.1,167.6 L412.3,167.7 L412.7,167.8 L413.2,168 L413.7,168.2 L414.3,168.6 L415.2,169 L416.2,169.6 L417.4,170 L418.6,170.3 L419.7,170.4 L420.7,170.4 L421.5,170.3 L422.4,170.1 L423.6,169.9 L424.9,169.6 L426.1,169.4 L427.2,169.1 L427.9,169 L428.3,169 L429.1,169.2 L430.5,169.4 L432.8,169.3 L435.3,168.1 L436.9,166.3 L437.9,164.6 L438.6,162.8 L439.2,161 L439.8,159.3 L440.5,157.1 L441.2,154.6 L441.9,152.2 L442.5,150 L442.9,148.6 L435.1,146.4 L434.7,147.9 L434.2,150.1 L433.5,152.5 L432.8,154.8 L432.2,156.7 L431.6,158.4 L431.1,160 L430.6,161.2 L430.3,161.9 L430.3,161.9 L431,161.5 L431.2,161.5 L430.6,161.3 L429.2,161.1 L427.3,161 L425.7,161.3 L424.3,161.6 L423,161.9 L422,162.1 L421.2,162.3 L420.5,162.3 L420.1,162.4 L419.9,162.4 L419.9,162.4 L419.8,162.4 L419.5,162.3 L418.9,162 L418.2,161.6 L417.2,161 L416.2,160.6 L415.3,160.3 L414.5,160 L413.5,159.8 L412.2,159.6 L410.5,159.8 L408.9,160.5 L407.8,161.2 L407.1,161.7 L407.1,161.7 L407.8,161.6 L408.1,161.6 L408,161.6 L407.7,161.4 L407.4,161.1 L407.1,160.8 L406.8,160.1 L406.3,159.1 L405.9,157.8 L405.3,156.3 L404.8,154.6 L404.1,152.9 L403.4,151 L402.8,149 L402.2,147.4 L401.8,146.2 Z" fill="#3b3bff" opacity="0.2" filter="url(#b2)"/>
<path d="M396.5,148 L396.9,149.2 L397.5,150.9 L398.2,152.8 L398.9,154.8 L399.5,156.5 L400,158.1 L400.6,159.6 L401.1,161.2 L401.7,162.6 L402.5,163.9 L403.3,165 L404.3,165.8 L405.3,166.5 L406.4,167 L407.7,167.2 L409,167 L410.1,166.4 L410.9,165.8 L411.5,165.4 L411.9,165.3 L412.2,165.2 L412.5,165.3 L413,165.4 L413.5,165.6 L414.1,165.8 L414.7,166.1 L415.5,166.5 L416.3,166.9 L417.2,167.4 L418.1,167.7 L419,167.9 L419.8,168 L420.5,168 L421.2,167.9 L422.1,167.8 L423.1,167.6 L424.3,167.3 L425.6,167 L426.7,166.8 L427.7,166.6 L428.5,166.6 L429.5,166.8 L430.8,167 L432.3,167 L433.8,166.3 L434.9,165 L435.7,163.5 L436.3,161.9 L436.9,160.3 L437.5,158.5 L438.2,156.4 L438.9,154 L439.6,151.5 L440.1,149.4 L440.5,147.9 L437.5,147.1 L437.1,148.6 L436.5,150.7 L435.8,153.1 L435.1,155.5 L434.5,157.5 L433.9,159.2 L433.3,160.8 L432.8,162.2 L432.2,163.2 L431.8,163.7 L431.5,163.9 L431,163.9 L430.1,163.7 L428.9,163.4 L427.5,163.4 L426.1,163.6 L424.8,163.9 L423.6,164.2 L422.5,164.5 L421.5,164.6 L420.8,164.7 L420.3,164.8 L419.9,164.8 L419.5,164.8 L419.1,164.7 L418.5,164.5 L417.8,164.1 L417,163.7 L416.2,163.2 L415.3,162.8 L414.6,162.5 L413.8,162.3 L413.1,162.1 L412.2,162 L411.1,162.1 L410,162.6 L409.1,163.2 L408.4,163.7 L407.9,164 L407.7,164 L407.4,163.9 L406.8,163.7 L406.3,163.3 L405.7,162.8 L405.1,162.1 L404.6,161.2 L404.1,160 L403.6,158.6 L403.1,157 L402.5,155.5 L401.9,153.7 L401.2,151.8 L400.5,149.8 L399.9,148.2 L399.5,147 Z" fill="#0808ff" filter="url(#b0)"/>
<path d="M459.1,148.2 L459.6,150.3 L460.3,153.4 L461.2,157 L462,160.6 L462.8,163.7 L463.5,166.5 L464.1,169.1 L464.8,171.7 L465.5,174.1 L466.1,176.1 L466.7,177.8 L467.1,179.3 L467.7,181 L468.9,182.8 L470.8,184.2 L473.2,185 L475.7,185.4 L478.3,185.6 L480.7,185.6 L482.8,185.5 L484.8,185.1 L486.4,184.5 L487.7,183.8 L488.7,183.2 L489.7,182.6 L490.9,182 L492,181.3 L492.8,180.8 L493.3,180.5 L493.4,180.5 L493.5,180.5 L494.1,180.8 L494.9,181.3 L496.1,182.1 L497.3,182.7 L498.4,183.2 L499.5,183.7 L500.7,184.1 L501.9,184.6 L503.2,184.9 L504.5,185.2 L505.8,185.3 L507,185.4 L508.3,185.5 L509.7,185.5 L511.4,185.5 L513.2,185.3 L515,185.2 L516.6,185.1 L518,185 L519.2,185 L520.3,185 L521.3,185 L522.1,185 L522.8,185 L522.8,179 L522.2,179 L521.4,179 L520.3,179 L519.1,179 L517.8,179 L516.2,179.1 L514.5,179.2 L512.8,179.4 L511.1,179.5 L509.7,179.5 L508.4,179.5 L507.4,179.4 L506.4,179.4 L505.5,179.3 L504.6,179.1 L503.7,178.8 L502.8,178.5 L501.8,178.1 L500.8,177.7 L499.9,177.3 L499,176.9 L498.1,176.2 L496.9,175.5 L495.3,174.8 L493.4,174.5 L491.5,174.8 L490,175.5 L488.8,176.2 L487.8,176.8 L486.9,177.4 L485.8,177.9 L484.8,178.6 L483.9,179 L483.2,179.3 L482.2,179.5 L480.5,179.6 L478.5,179.6 L476.4,179.5 L474.6,179.2 L473.6,178.8 L473.3,178.6 L473.1,178.3 L472.8,177.5 L472.4,176.1 L471.9,174.3 L471.2,172.3 L470.6,170.1 L470,167.7 L469.3,165 L468.6,162.3 L467.8,159.2 L467,155.6 L466.2,152.1 L465.4,149 L464.9,146.8 Z" fill="#3b3bff" opacity="0.2" filter="url(#b2)"/>
<path d="M460.8,147.8 L461.3,149.9 L462.1,153 L462.9,156.6 L463.8,160.1 L464.5,163.3 L465.2,166 L465.9,168.7 L466.5,171.2 L467.2,173.5 L467.9,175.6 L468.4,177.3 L468.8,178.8 L469.3,180.2 L470.2,181.5 L471.7,182.6 L473.6,183.3 L475.9,183.6 L478.3,183.8 L480.6,183.8 L482.6,183.7 L484.3,183.4 L485.7,182.8 L486.8,182.2 L487.9,181.6 L488.9,181.1 L490,180.5 L491,179.8 L492,179.2 L492.7,178.8 L493.4,178.7 L494.1,178.8 L494.9,179.2 L495.9,179.8 L497,180.5 L498.1,181.1 L499.2,181.6 L500.2,182 L501.3,182.5 L502.5,182.9 L503.6,183.2 L504.8,183.4 L505.9,183.5 L507.1,183.6 L508.4,183.7 L509.7,183.7 L511.3,183.7 L513,183.5 L514.8,183.4 L516.5,183.3 L518,183.2 L519.2,183.2 L520.3,183.2 L521.3,183.2 L522.2,183.2 L522.8,183.2 L522.8,180.8 L522.2,180.8 L521.4,180.8 L520.3,180.8 L519.2,180.8 L517.8,180.8 L516.4,180.9 L514.7,181 L512.9,181.2 L511.2,181.3 L509.7,181.3 L508.4,181.3 L507.3,181.2 L506.2,181.2 L505.2,181 L504.2,180.8 L503.2,180.6 L502.2,180.2 L501.2,179.8 L500.1,179.4 L499.1,178.9 L498.2,178.4 L497.1,177.8 L496,177.1 L494.8,176.5 L493.4,176.3 L492,176.5 L490.8,177.1 L489.7,177.7 L488.7,178.4 L487.7,178.9 L486.7,179.5 L485.6,180.1 L484.7,180.7 L483.6,181.1 L482.4,181.3 L480.6,181.4 L478.4,181.4 L476.2,181.3 L474.2,180.9 L472.7,180.4 L472,179.8 L471.5,179.1 L471.1,178 L470.7,176.6 L470.1,174.8 L469.5,172.8 L468.9,170.6 L468.2,168.1 L467.6,165.5 L466.9,162.7 L466.1,159.6 L465.2,156 L464.4,152.5 L463.7,149.4 L463.2,147.2 Z" fill="#0808ff" filter="url(#b0)"/>
<path d="M495.4,184.5 L496,185.8 L496.9,187.7 L497.9,189.9 L498.9,192 L499.7,193.7 L500.2,195.1 L500.7,196.4 L501.2,197.7 L501.8,199 L502.6,200.3 L503.4,201.5 L504.4,202.7 L505.7,203.7 L507.3,204.6 L509.2,205.1 L511.2,204.7 L512.8,203.8 L514.1,202.7 L515.1,201.5 L516,200.2 L516.8,198.8 L517.5,197.3 L518.2,195.8 L518.8,194.2 L519.4,192.5 L520.1,190.6 L520.8,188.4 L521.5,186.3 L522.1,184.4 L522.4,183.1 L516.6,180.9 L516,182.1 L515.2,183.9 L514.3,185.9 L513.4,187.8 L512.6,189.5 L511.8,190.9 L511,192.2 L510.3,193.3 L509.6,194.2 L509,194.8 L508.5,195 L508.3,194.9 L508.3,194.6 L508.7,194.2 L509.4,193.9 L510,194.2 L510.3,194.6 L510.2,194.8 L509.8,194.8 L509.4,194.7 L509,194.4 L508.5,193.8 L507.9,192.9 L507.2,191.6 L506.3,190.3 L505.3,188.6 L504.1,186.6 L502.8,184.5 L501.8,182.8 L501,181.5 Z" fill="#3b3bff" opacity="0.2" filter="url(#b2)"/>
<path d="M497.1,183.6 L497.7,184.9 L498.7,186.8 L499.7,188.9 L500.8,191 L501.7,192.7 L502.3,194.1 L502.9,195.3 L503.4,196.5 L504,197.6 L504.6,198.6 L505.4,199.5 L506.2,200.3 L507.1,201 L508.1,201.5 L509.3,201.7 L510.4,201.5 L511.5,201 L512.4,200.4 L513.2,199.6 L513.9,198.6 L514.6,197.4 L515.3,196.1 L516,194.7 L516.7,193.2 L517.4,191.6 L518.1,189.8 L518.9,187.7 L519.6,185.5 L520.2,183.7 L520.7,182.4 L518.3,181.6 L517.8,182.8 L517.1,184.6 L516.3,186.6 L515.4,188.7 L514.6,190.4 L513.9,191.9 L513.2,193.3 L512.4,194.5 L511.7,195.6 L511.1,196.4 L510.5,197 L510,197.3 L509.7,197.4 L509.5,197.3 L509.3,197.3 L509.2,197.3 L508.9,197.3 L508.5,197.2 L507.9,196.8 L507.4,196.4 L506.8,195.8 L506.3,194.9 L505.8,193.9 L505.1,192.7 L504.3,191.3 L503.4,189.6 L502.2,187.6 L501.1,185.5 L500,183.7 L499.3,182.4 Z" fill="#0808ff" filter="url(#b0)"/>
<path d="M475.9,148.9 L476.5,149.9 L477.3,151.5 L478.2,153.3 L479.1,155.1 L479.8,156.6 L480.3,157.7 L480.7,158.9 L481.2,160.1 L481.8,161.4 L482.5,162.7 L483.4,163.8 L484.4,164.8 L485.4,165.7 L486.3,166.4 L487.4,167.1 L488.6,167.7 L489.9,168.2 L491,168.6 L491.9,168.9 L492.5,169.1 L494.3,163.3 L493.7,163.1 L492.8,162.9 L491.9,162.6 L491.1,162.2 L490.4,161.9 L489.8,161.5 L489.1,161 L488.5,160.5 L487.9,159.9 L487.5,159.3 L487.1,158.7 L486.7,157.8 L486.3,156.8 L485.8,155.5 L485.2,154 L484.4,152.4 L483.5,150.6 L482.6,148.8 L481.8,147.2 L481.3,146.1 Z" fill="#3b3bff" opacity="0.2" filter="url(#b2)"/>
<path d="M477.5,148 L478.1,149.1 L478.9,150.7 L479.8,152.5 L480.7,154.3 L481.4,155.8 L482,157.1 L482.4,158.3 L482.9,159.4 L483.4,160.6 L484,161.7 L484.8,162.7 L485.6,163.5 L486.5,164.3 L487.4,164.9 L488.3,165.5 L489.3,166.1 L490.5,166.5 L491.5,166.9 L492.4,167.1 L493,167.3 L493.8,165.1 L493.1,164.9 L492.3,164.6 L491.3,164.3 L490.3,163.9 L489.5,163.5 L488.7,163 L488,162.4 L487.3,161.8 L486.6,161.1 L486,160.3 L485.5,159.5 L485.1,158.5 L484.7,157.4 L484.2,156.2 L483.6,154.8 L482.8,153.2 L481.9,151.4 L481,149.6 L480.2,148.1 L479.7,147 Z" fill="#0808ff" filter="url(#b0)"/>
<path d="M522.4,176.2 L522.7,176.3 L523.3,176.3 L523.9,176.4 L524.7,176.5 L525.6,176.6 L526.6,176.8 L527.9,177 L529.3,177.2 L530.9,177.4 L532.6,177.4 L534.2,177.4 L535.7,177.2 L537.2,177 L538.6,176.8 L540,176.6 L541.3,176.3 L542.6,175.9 L543.7,175.6 L544.5,175.3 L545.1,175.1 L542.9,167.9 L542.2,168.1 L541.4,168.4 L540.4,168.7 L539.4,169 L538.4,169.2 L537.3,169.4 L536.1,169.6 L534.9,169.8 L533.7,169.9 L532.6,170 L531.5,169.9 L530.3,169.8 L529,169.6 L527.8,169.4 L526.6,169.2 L525.6,169.1 L524.8,169 L524.2,168.9 L523.6,168.8 L523.2,168.8 Z" fill="#3b3bff" opacity="0.2" filter="url(#b2)"/>
<path d="M522.6,174 L523,174 L523.5,174.1 L524.2,174.2 L525,174.3 L525.9,174.4 L527,174.5 L528.2,174.7 L529.6,175 L531.1,175.1 L532.6,175.2 L534,175.1 L535.5,175 L536.9,174.8 L538.3,174.6 L539.5,174.4 L540.7,174.1 L541.9,173.8 L543,173.4 L543.8,173.1 L544.5,172.9 L543.5,170.1 L542.9,170.3 L542,170.6 L541,170.9 L540,171.2 L538.9,171.4 L537.7,171.6 L536.5,171.9 L535.1,172 L533.8,172.2 L532.6,172.2 L531.4,172.1 L530,172 L528.7,171.8 L527.4,171.6 L526.3,171.4 L525.4,171.3 L524.6,171.2 L523.9,171.1 L523.4,171.1 L523,171 Z" fill="#0808ff" filter="url(#b0)"/>
<path d="M512.1,149.3 L512.7,150.4 L513.5,151.8 L514.4,153.4 L515.3,155.1 L516.1,156.5 L516.6,157.8 L517,159.5 L517.6,161.6 L518.6,163.8 L520.5,165.9 L523,167.2 L525.3,167.7 L527.5,167.8 L529.4,167.7 L531.1,167.6 L532.9,167.6 L534.9,167.4 L536.7,167.2 L538.3,166.9 L539.8,166.7 L541.1,166.5 L542.4,166.2 L543.4,166 L544.3,165.8 L544.8,165.7 L543.2,158.3 L542.5,158.5 L541.7,158.7 L540.8,158.9 L539.8,159.1 L538.6,159.3 L537.2,159.5 L535.7,159.7 L534,159.9 L532.4,160.1 L530.9,160.2 L529.2,160.2 L527.5,160.3 L526.1,160.2 L525.3,160.1 L525.1,160.1 L525.1,159.9 L524.7,159 L524.2,157.5 L523.7,155.5 L522.9,153.5 L522,151.6 L521,149.8 L520,148.1 L519.2,146.7 L518.7,145.7 Z" fill="#3b3bff" opacity="0.2" filter="url(#b2)"/>
<path d="M514.1,148.2 L514.7,149.3 L515.5,150.7 L516.4,152.3 L517.3,154 L518.1,155.6 L518.7,157.1 L519.2,158.9 L519.8,160.8 L520.6,162.6 L521.9,164.2 L523.7,165.1 L525.6,165.4 L527.5,165.5 L529.3,165.4 L531,165.4 L532.8,165.3 L534.6,165.2 L536.4,164.9 L538,164.7 L539.4,164.5 L540.7,164.3 L541.9,164 L542.9,163.8 L543.7,163.6 L544.3,163.5 L543.7,160.5 L543.1,160.7 L542.2,160.9 L541.3,161.1 L540.2,161.3 L539,161.5 L537.6,161.7 L536,162 L534.3,162.2 L532.6,162.3 L531,162.4 L529.2,162.4 L527.5,162.5 L525.9,162.5 L524.6,162.2 L523.7,161.8 L523.1,161.1 L522.6,159.8 L522.1,158.1 L521.6,156.2 L520.9,154.4 L520,152.7 L519,150.9 L518.1,149.2 L517.3,147.8 L516.7,146.8 Z" fill="#0808ff" filter="url(#b0)"/>
<path d="M523.5,186.2 L524.4,186.1 L525.7,185.9 L527,185.6 L528.3,185.5 L529.3,185.4 L530,185.3 L530.5,185.4 L530.8,185.4 L531,185.4 L531.5,185.6 L532.2,185.9 L532.8,186.1 L533.3,186.4 L533.7,186.8 L534.3,187.2 L535,188.2 L536,189.6 L537,191.3 L538,192.9 L539,194.3 L539.8,195.3 L540.7,196.2 L541.8,196.8 L542.2,197 L541.9,196.9 L546.1,189.1 L545.5,188.9 L545.5,188.9 L546.1,189.3 L546.3,189.4 L546,189.1 L545.4,188.2 L544.4,186.6 L543.3,184.8 L542.1,183 L540.7,181.4 L539.4,180.1 L538,179.1 L536.7,178.3 L535.6,177.8 L534.5,177.4 L533.4,177 L532.2,176.8 L531,176.6 L529.9,176.6 L528.7,176.6 L527.3,176.8 L525.7,177 L524.2,177.2 L522.9,177.4 L522.1,177.6 Z" fill="#3b3bff" opacity="0.2" filter="url(#b2)"/>
<path d="M523.1,183.6 L524,183.5 L525.2,183.3 L526.6,183 L528,182.8 L529.1,182.7 L529.9,182.7 L530.6,182.7 L531.2,182.8 L531.7,182.9 L532.4,183.1 L533.2,183.5 L534,183.8 L534.7,184.2 L535.4,184.7 L536.2,185.5 L537.1,186.6 L538.2,188.2 L539.2,189.9 L540.2,191.5 L541.1,192.7 L541.8,193.5 L542.3,194.1 L542.9,194.5 L543.2,194.5 L543.2,194.5 L544.8,191.5 L544.5,191.3 L544.4,191.3 L544.5,191.3 L544.3,191.2 L543.9,190.7 L543.2,189.6 L542.2,188 L541.1,186.3 L539.9,184.6 L538.8,183.1 L537.7,182.1 L536.6,181.3 L535.5,180.7 L534.5,180.2 L533.6,179.9 L532.7,179.5 L531.8,179.3 L530.8,179.2 L529.9,179.2 L528.9,179.3 L527.6,179.4 L526.1,179.6 L524.7,179.8 L523.4,180 L522.5,180.2 Z" fill="#0808ff" filter="url(#b0)"/>
<path d="M397,147.6 L397.5,148.9 L398.1,150.7 L398.8,152.8 L399.5,154.9 L400.2,156.7 L400.9,158.4 L401.5,160 L402.2,161.6 L402.8,163.1 L403.4,164.5 L404.1,165.8 L404.7,167.1 L405.3,168.3 L405.9,169.4 L406.7,170.4 L407.5,171.3 L408.5,172.1 L409.4,172.8 L410.4,173.3 L411.4,173.7 L412.4,173.9 L413.4,173.8 L414.3,173.7 L415.3,173.4 L416.1,173.1 L417,172.7 L417.9,172.2 L418.7,171.7 L419.5,171 L420.2,170.4 L420.8,169.6 L421.3,168.7 L421.8,167.9 L422.2,167.1 L422.8,166.5 L423.4,166 L424.1,165.6 L424.9,165.2 L425.7,164.9 L426.4,164.7 L427,164.6 L427.7,164.7 L428.4,164.8 L429.1,164.8 L429.7,164.7 L430.3,164.4 L430.7,164 L431,163.6 L431.4,163 L431.9,162.2 L432.4,161.1 L433.1,159.7 L433.8,158.2 L434.4,156.7 L435.1,155.1 L435.7,153.5 L436.3,151.8 L436.9,150.1 L437.3,148.7 L437.7,147.6 L436.9,147.4 L436.6,148.4 L436.1,149.9 L435.5,151.5 L434.9,153.3 L434.3,154.9 L433.7,156.4 L433,157.9 L432.4,159.4 L431.7,160.7 L431.1,161.8 L430.7,162.6 L430.4,163.1 L430.1,163.5 L429.8,163.7 L429.5,163.9 L429,164 L428.4,164 L427.8,163.9 L427,163.8 L426.2,163.9 L425.4,164.1 L424.6,164.5 L423.8,164.9 L423,165.3 L422.2,165.9 L421.6,166.6 L421.1,167.5 L420.6,168.3 L420.2,169.1 L419.6,169.8 L419,170.4 L418.2,171 L417.5,171.5 L416.7,172 L415.9,172.3 L415,172.6 L414.2,172.9 L413.3,173 L412.4,173.1 L411.6,172.9 L410.8,172.6 L409.9,172.1 L409,171.4 L408.1,170.7 L407.3,169.8 L406.6,168.9 L406,167.9 L405.4,166.7 L404.8,165.5 L404.2,164.1 L403.5,162.7 L402.9,161.3 L402.3,159.7 L401.6,158.1 L401,156.5 L400.3,154.6 L399.5,152.5 L398.8,150.4 L398.2,148.6 L397.8,147.4 Z" fill="#0808ff" filter="url(#b0)"/>
<line x1="389.5" y1="180.4" x2="544" y2="180.4" stroke="#9a9a9a" stroke-width="0.85" stroke-dasharray="2.6,1.8"/>
<path d="M389.5,260.7 C390.1,259.6 391.8,256.6 392.9,254 C394,251.4 395.1,248.5 396.2,245 C397.3,241.5 398.4,237 399.5,232.8 C400.6,228.6 401.7,224.1 402.8,219.7 C403.9,215.3 405.1,210.4 406,206.6 C406.9,202.8 407.5,200 408.3,197 C409.1,194 409.8,190.6 410.9,188.8 C412,187 413.4,187.1 414.7,186.2 C416,185.3 417.3,184.6 418.6,183.6 C419.9,182.6 421.2,180.7 422.5,180.4 C423.8,180.1 425,181.3 426.3,181.7 C427.6,182.1 429.1,182.2 430.2,183 C431.3,183.8 432.2,183.9 432.8,186.2 C433.4,188.4 433.5,193.2 434,196.5 C434.5,199.8 435.2,202.5 436,206 C436.8,209.5 437.7,213.3 438.5,217.3 C439.3,221.3 440,225.6 441,230 C442,234.4 443.2,240.2 444.4,244 C445.6,247.8 446.5,250.3 448,253 C449.5,255.7 451.7,259.9 453.4,260.4 C455.1,260.9 456.7,258.7 458,256 C459.3,253.3 459.8,249 461,244.1 C462.2,239.2 463.9,232.2 465.4,226.3 C466.9,220.4 468.7,213.2 469.9,208.4 C471.1,203.7 471.6,201.3 472.8,197.8 C474,194.3 475.9,190.3 477.3,187.5 C478.7,184.7 480.3,182.3 481.2,181 C482.1,179.7 481.4,181.2 482.5,179.7 C483.6,178.2 485.8,174.2 487.6,172 C489.4,169.8 491.7,168.5 493.4,166.2 C495.1,163.8 496.5,160.8 497.9,157.9 C499.3,155 501.1,150.6 501.8,148.9 C502.5,147.2 502.1,147.7 502.2,147.5" fill="none" stroke="#111" stroke-width="1.1" stroke-linejoin="round"/>
<path d="M397.4,147.5 C397.9,149 399.5,153.8 400.6,156.6 C401.7,159.4 402.7,162.1 403.8,164.3 C404.9,166.6 405.7,168.6 407,170.1 C408.3,171.6 410,172.9 411.5,173.3 C413,173.7 414.6,173.2 416,172.7 C417.4,172.2 418.8,171.2 419.9,170.1 C421,169 421.4,167.2 422.5,166.2 C423.6,165.2 425.1,164.6 426.3,164.3 C427.5,164 428.7,164.7 429.6,164.3 C430.5,163.9 430.6,163.6 431.5,162 C432.4,160.4 433.7,157.4 434.7,155 C435.7,152.6 436.9,148.8 437.3,147.5" fill="none" stroke="#111" stroke-width="1.1" stroke-linejoin="round"/>
<path d="M403.8,147.5 C404.1,148.6 404.9,152.4 405.7,154 C406.4,155.6 407,156.3 408.3,157.2 C409.6,158.1 411.8,158.3 413.5,159.2 C415.2,160.1 417.2,161.3 418.6,162.4 C420,163.5 420.6,164.2 421.8,165.6 C423,167 424.5,169.6 425.7,170.8 C426.9,172 427.9,172.5 428.9,172.7 C429.9,172.9 430.7,172.8 431.5,172 C432.3,171.2 432.4,170 433.5,168 C434.6,166 436.4,163.4 438,160 C439.6,156.6 442.2,149.6 443.1,147.5" fill="none" stroke="#111" stroke-width="1.1" stroke-linejoin="round"/>
<path d="M461.2,147.5 C461.9,150.1 464.3,158.5 465.7,163 C467.1,167.5 468.6,171.9 469.6,174.6 C470.6,177.3 470.4,178.2 471.5,179.1 C472.6,179.9 474.2,179.5 476,179.7 C477.8,179.9 480.4,180.4 482.5,180.4 C484.6,180.4 487.1,179.9 488.9,179.7 C490.7,179.5 491.6,179.1 493.4,179.1 C495.2,179.1 497.1,179.5 499.8,179.4 C502.5,179.3 506.5,178.6 509.7,178.6 C512.9,178.6 516.5,179.1 518.7,179.4 C520.9,179.7 521,180.6 522.8,180.2 C524.6,179.8 526.8,177.8 529.3,177 C531.8,176.2 535,175.7 537.5,175.3 C540,174.9 542.9,174.6 544,174.5" fill="none" stroke="#111" stroke-width="1.1" stroke-linejoin="round"/>
<path d="M478.6,147.5 C479.2,148.8 481.4,153.1 482.5,155.3 C483.6,157.6 483.9,159.5 485,161 C486.1,162.5 487.5,163.6 488.9,164.5 C490.3,165.4 491.8,163.6 493.4,166.2 C494.9,168.8 496.6,175.8 498.2,180.2 C499.8,184.6 501.7,188.8 503.1,192.5 C504.5,196.2 505.4,200.1 506.4,202.4 C507.4,204.7 508.2,206.5 509.3,206.5 C510.4,206.5 511.9,204.7 513,202.4 C514.1,200.1 515.1,196.2 516.2,192.5 C517.3,188.8 518.4,183.5 519.5,180.2 C520.6,176.9 521.7,173.7 522.8,172.5 C523.9,171.3 524.5,172.7 526.1,172.9 C527.7,173.1 530.4,173.7 532.6,173.7 C534.8,173.7 537.3,173.3 539.2,172.9 C541.1,172.5 543.2,171.7 544,171.5" fill="none" stroke="#111" stroke-width="1.1" stroke-linejoin="round"/>
<path d="M515.4,147.5 C516.1,148.8 518.3,152.4 519.5,155 C520.7,157.6 520.9,161.5 522.8,163 C524.7,164.5 528.3,163.9 531,163.9 C533.7,163.9 537,163.3 539.2,163 C541.4,162.7 543.2,162.2 544,162" fill="none" stroke="#111" stroke-width="1.1" stroke-linejoin="round"/>
<path d="M522.8,181.9 C523.8,181.8 527.3,181.1 529,181 C530.7,180.9 531.6,180.9 533,181.5 C534.4,182.1 535.9,182.6 537.5,184.3 C539.1,186 541.4,190.2 542.5,191.7 C543.6,193.1 543.8,192.8 544,193" fill="none" stroke="#111" stroke-width="1.1" stroke-linejoin="round"/>
<circle cx="391.2" cy="245.7" r="0.9" fill="#f00"/>
<circle cx="394.6" cy="242.4" r="0.9" fill="#f00"/>
<circle cx="398" cy="234.4" r="0.9" fill="#f00"/>
<circle cx="401.4" cy="222.8" r="0.9" fill="#f00"/>
<circle cx="404.8" cy="206.9" r="0.9" fill="#f00"/>
<circle cx="408.2" cy="193.7" r="0.9" fill="#f00"/>
<circle cx="411.6" cy="189.5" r="0.9" fill="#f00"/>
<circle cx="415" cy="186.4" r="0.9" fill="#f00"/>
<circle cx="418.4" cy="181.3" r="0.9" fill="#f00"/>
<circle cx="421.8" cy="176.5" r="0.9" fill="#f00"/>
<circle cx="425.2" cy="177.6" r="0.9" fill="#f00"/>
<circle cx="428.6" cy="179.8" r="0.9" fill="#f00"/>
<circle cx="432" cy="183.4" r="0.9" fill="#f00"/>
<circle cx="435.4" cy="199.4" r="0.9" fill="#f00"/>
<circle cx="438.8" cy="215.5" r="0.9" fill="#f00"/>
<circle cx="442.2" cy="226.9" r="0.9" fill="#f00"/>
<circle cx="445.6" cy="234.8" r="0.9" fill="#f00"/>
<circle cx="449" cy="239" r="0.9" fill="#f00"/>
<circle cx="452.4" cy="241" r="0.9" fill="#f00"/>
<circle cx="455.8" cy="240.7" r="0.9" fill="#f00"/>
<circle cx="459.2" cy="235.8" r="0.9" fill="#f00"/>
<circle cx="462.6" cy="227" r="0.9" fill="#f00"/>
<circle cx="466" cy="216.5" r="0.9" fill="#f00"/>
<circle cx="469.4" cy="205.6" r="0.9" fill="#f00"/>
<circle cx="472.8" cy="197" r="0.9" fill="#f00"/>
<circle cx="476.2" cy="189.2" r="0.9" fill="#f00"/>
<circle cx="479.6" cy="183.3" r="0.9" fill="#f00"/>
<circle cx="483" cy="178.8" r="0.9" fill="#f00"/>
<circle cx="486.4" cy="173.6" r="0.9" fill="#f00"/>
<circle cx="489.8" cy="169.7" r="0.9" fill="#f00"/>
<circle cx="493.2" cy="166.3" r="0.9" fill="#f00"/>
<circle cx="496.6" cy="160.5" r="0.9" fill="#f00"/>
<circle cx="500" cy="153.2" r="0.9" fill="#f00"/>
<circle cx="399.8" cy="152.5" r="0.9" fill="#f00"/>
<circle cx="403.2" cy="162.1" r="0.9" fill="#f00"/>
<circle cx="406.8" cy="165.4" r="0.9" fill="#f00"/>
<circle cx="410.2" cy="164.3" r="0.9" fill="#f00"/>
<circle cx="413.8" cy="164" r="0.9" fill="#f00"/>
<circle cx="417.2" cy="165.6" r="0.9" fill="#f00"/>
<circle cx="420.8" cy="166.3" r="0.9" fill="#f00"/>
<circle cx="424.2" cy="165.7" r="0.9" fill="#f00"/>
<circle cx="427.8" cy="165" r="0.9" fill="#f00"/>
<circle cx="431.2" cy="165.5" r="0.9" fill="#f00"/>
<circle cx="434.8" cy="161.6" r="0.9" fill="#f00"/>
<circle cx="438.2" cy="150.3" r="0.9" fill="#f00"/>
<circle cx="464" cy="156" r="0.9" fill="#f00"/>
<circle cx="468" cy="172" r="0.9" fill="#f00"/>
<circle cx="472" cy="181.4" r="0.9" fill="#f00"/>
<circle cx="476" cy="182.4" r="0.9" fill="#f00"/>
<circle cx="480" cy="182.6" r="0.9" fill="#f00"/>
<circle cx="484" cy="182.2" r="0.9" fill="#f00"/>
<circle cx="488" cy="180.1" r="0.9" fill="#f00"/>
<circle cx="492" cy="177.8" r="0.9" fill="#f00"/>
<circle cx="496" cy="178.5" r="0.9" fill="#f00"/>
<circle cx="500" cy="180.6" r="0.9" fill="#f00"/>
<circle cx="504" cy="182" r="0.9" fill="#f00"/>
<circle cx="508" cy="182.5" r="0.9" fill="#f00"/>
<circle cx="512" cy="182.4" r="0.9" fill="#f00"/>
<circle cx="516" cy="182.1" r="0.9" fill="#f00"/>
<circle cx="520" cy="182" r="0.9" fill="#f00"/>
<circle cx="500.2" cy="186.8" r="0.9" fill="#f00"/>
<circle cx="504.2" cy="194.4" r="0.9" fill="#f00"/>
<circle cx="508.2" cy="199.3" r="0.9" fill="#f00"/>
<circle cx="512.2" cy="197.9" r="0.9" fill="#f00"/>
<circle cx="516.2" cy="190.5" r="0.9" fill="#f00"/>
<circle cx="480.6" cy="151.5" r="0.9" fill="#f00"/>
<circle cx="484.6" cy="160.4" r="0.9" fill="#f00"/>
<circle cx="488.6" cy="164.3" r="0.9" fill="#f00"/>
<circle cx="492.6" cy="165.9" r="0.9" fill="#f00"/>
<circle cx="524.8" cy="172.7" r="0.9" fill="#f00"/>
<circle cx="528.8" cy="173.3" r="0.9" fill="#f00"/>
<circle cx="532.8" cy="173.7" r="0.9" fill="#f00"/>
<circle cx="536.8" cy="173.3" r="0.9" fill="#f00"/>
<circle cx="540.8" cy="172.5" r="0.9" fill="#f00"/>
<circle cx="517.6" cy="151.5" r="0.9" fill="#f00"/>
<circle cx="522.1" cy="162.3" r="0.9" fill="#f00"/>
<circle cx="526.6" cy="164" r="0.9" fill="#f00"/>
<circle cx="531.1" cy="163.9" r="0.9" fill="#f00"/>
<circle cx="535.6" cy="163.5" r="0.9" fill="#f00"/>
<circle cx="540.1" cy="162.8" r="0.9" fill="#f00"/>
<circle cx="524.8" cy="181.6" r="0.9" fill="#f00"/>
<circle cx="528.8" cy="181" r="0.9" fill="#f00"/>
<circle cx="532.8" cy="181.4" r="0.9" fill="#f00"/>
<circle cx="536.8" cy="183.6" r="0.9" fill="#f00"/>
<circle cx="540.8" cy="189.1" r="0.9" fill="#f00"/>
<path d="M450,237.7 L456.8,244.5 M450,244.5 L456.8,237.7" stroke="#f7a51c" stroke-width="1.9" stroke-linecap="butt"/>
</g>
<rect x="389.5" y="147.5" width="154.5" height="120.5" fill="none" stroke="#222" stroke-width="0.9"/>
<line x1="386.9" y1="268" x2="389.5" y2="268" stroke="#222" stroke-width="0.9"/>
<text x="384.9" y="270.5" font-family="'DejaVu Sans','Liberation Sans',sans-serif" font-size="7.2" fill="#000" stroke="#000" stroke-width="0.2" text-anchor="end">−4</text>
<line x1="386.9" y1="246.1" x2="389.5" y2="246.1" stroke="#222" stroke-width="0.9"/>
<text x="384.9" y="248.6" font-family="'DejaVu Sans','Liberation Sans',sans-serif" font-size="7.2" fill="#000" stroke="#000" stroke-width="0.2" text-anchor="end">−3</text>
<line x1="386.9" y1="224.2" x2="389.5" y2="224.2" stroke="#222" stroke-width="0.9"/>
<text x="384.9" y="226.7" font-family="'DejaVu Sans','Liberation Sans',sans-serif" font-size="7.2" fill="#000" stroke="#000" stroke-width="0.2" text-anchor="end">−2</text>
<line x1="386.9" y1="202.3" x2="389.5" y2="202.3" stroke="#222" stroke-width="0.9"/>
<text x="384.9" y="204.8" font-family="'DejaVu Sans','Liberation Sans',sans-serif" font-size="7.2" fill="#000" stroke="#000" stroke-width="0.2" text-anchor="end">−1</text>
<line x1="386.9" y1="180.4" x2="389.5" y2="180.4" stroke="#222" stroke-width="0.9"/>
<text x="384.9" y="182.9" font-family="'DejaVu Sans','Liberation Sans',sans-serif" font-size="7.2" fill="#000" stroke="#000" stroke-width="0.2" text-anchor="end">0</text>
<line x1="386.9" y1="158.5" x2="389.5" y2="158.5" stroke="#222" stroke-width="0.9"/>
<text x="384.9" y="161" font-family="'DejaVu Sans','Liberation Sans',sans-serif" font-size="7.2" fill="#000" stroke="#000" stroke-width="0.2" text-anchor="end">1</text>
<line x1="389.5" y1="268" x2="389.5" y2="270.6" stroke="#222" stroke-width="0.9"/>
<text x="389.5" y="280.1" font-family="'DejaVu Sans','Liberation Sans',sans-serif" font-size="9.7" fill="#000" stroke="#000" stroke-width="0.15" text-anchor="middle">Γ</text>
<line x1="411.8" y1="268" x2="411.8" y2="270.6" stroke="#222" stroke-width="0.9"/>
<text x="411.8" y="280.1" font-family="'DejaVu Sans','Liberation Sans',sans-serif" font-size="9.7" fill="#000" stroke="#000" stroke-width="0.15" text-anchor="middle">X</text>
<line x1="422.3" y1="268" x2="422.3" y2="270.6" stroke="#222" stroke-width="0.9"/>
<text x="422.3" y="280.1" font-family="'DejaVu Sans','Liberation Sans',sans-serif" font-size="9.7" fill="#000" stroke="#000" stroke-width="0.15" text-anchor="middle">W</text>
<line x1="430" y1="268" x2="430" y2="270.6" stroke="#222" stroke-width="0.9"/>
<text x="430" y="280.1" font-family="'DejaVu Sans','Liberation Sans',sans-serif" font-size="9.7" fill="#000" stroke="#000" stroke-width="0.15" text-anchor="middle">K</text>
<line x1="453.2" y1="268" x2="453.2" y2="270.6" stroke="#222" stroke-width="0.9"/>
<text x="453.2" y="280.1" font-family="'DejaVu Sans','Liberation Sans',sans-serif" font-size="9.7" fill="#000" stroke="#000" stroke-width="0.15" text-anchor="middle">Γ</text>
<line x1="472.5" y1="268" x2="472.5" y2="270.6" stroke="#222" stroke-width="0.9"/>
<text x="472.5" y="280.1" font-family="'DejaVu Sans','Liberation Sans',sans-serif" font-size="9.7" fill="#000" stroke="#000" stroke-width="0.15" text-anchor="middle">L</text>
<line x1="485.6" y1="268" x2="485.6" y2="270.6" stroke="#222" stroke-width="0.9"/>
<text x="485.6" y="280.1" font-family="'DejaVu Sans','Liberation Sans',sans-serif" font-size="9.7" fill="#000" stroke="#000" stroke-width="0.15" text-anchor="middle">U</text>
<line x1="493.8" y1="268" x2="493.8" y2="270.6" stroke="#222" stroke-width="0.9"/>
<text x="493.8" y="280.1" font-family="'DejaVu Sans','Liberation Sans',sans-serif" font-size="9.7" fill="#000" stroke="#000" stroke-width="0.15" text-anchor="middle">W</text>
<line x1="509.3" y1="268" x2="509.3" y2="270.6" stroke="#222" stroke-width="0.9"/>
<text x="509.3" y="280.1" font-family="'DejaVu Sans','Liberation Sans',sans-serif" font-size="9.7" fill="#000" stroke="#000" stroke-width="0.15" text-anchor="middle">L</text>
<line x1="522.4" y1="268" x2="522.4" y2="270.6" stroke="#222" stroke-width="0.9"/>
<text x="522.4" y="280.1" font-family="'DejaVu Sans','Liberation Sans',sans-serif" font-size="9.7" fill="#000" stroke="#000" stroke-width="0.15" text-anchor="middle">K</text>
<line x1="536.3" y1="268" x2="536.3" y2="270.6" stroke="#222" stroke-width="0.9"/>
<text x="536.3" y="280.1" font-family="'DejaVu Sans','Liberation Sans',sans-serif" font-size="9.7" fill="#000" stroke="#000" stroke-width="0.15" text-anchor="middle">U</text>
<line x1="543.7" y1="268" x2="543.7" y2="270.6" stroke="#222" stroke-width="0.9"/>
<text x="543.7" y="280.1" font-family="'DejaVu Sans','Liberation Sans',sans-serif" font-size="9.7" fill="#000" stroke="#000" stroke-width="0.15" text-anchor="middle">X</text>
<text x="540.4" y="263.1" font-family="'DejaVu Sans','Liberation Sans',sans-serif" font-size="11.1" fill="#000" stroke="#000" stroke-width="0.1" text-anchor="end">fcc Sr</text>
<g clip-path="url(#c6)">
<ellipse cx="96" cy="402" rx="8" ry="9" fill="#3a3aff" opacity="0.2" filter="url(#b3)"/>
<ellipse cx="31" cy="400" rx="6" ry="9" fill="#3a3aff" opacity="0.2" filter="url(#b3)"/>
<path d="M119,289.8 L139,289.8 L129,306 Z" fill="#3a3aff" opacity="0.3" filter="url(#b2)"/>
<path d="M151,289.8 L170,289.8 L161,306 Z" fill="#3a3aff" opacity="0.3" filter="url(#b2)"/>
<path d="M120,305 L138,305 L129,322 Z" fill="#3a3aff" opacity="0.12" filter="url(#b3)"/>
<path d="M152,305 L170,305 L161,322 Z" fill="#3a3aff" opacity="0.12" filter="url(#b3)"/>
<path d="M62,289.8 L80,289.8 L76,318 L68,310 Z" fill="#3a3aff" opacity="0.12" filter="url(#b2)"/>
<line x1="29.1" y1="289.8" x2="29.1" y2="410" stroke="#ececec" stroke-width="0.5"/>
<line x1="57" y1="289.8" x2="57" y2="410" stroke="#ececec" stroke-width="0.5"/>
<line x1="76.7" y1="289.8" x2="76.7" y2="410" stroke="#ececec" stroke-width="0.5"/>
<line x1="96.4" y1="289.8" x2="96.4" y2="410" stroke="#ececec" stroke-width="0.5"/>
<line x1="120.5" y1="289.8" x2="120.5" y2="410" stroke="#ececec" stroke-width="0.5"/>
<line x1="145.1" y1="289.8" x2="145.1" y2="410" stroke="#ececec" stroke-width="0.5"/>
<line x1="169.7" y1="289.8" x2="169.7" y2="410" stroke="#ececec" stroke-width="0.5"/>
<line x1="183.6" y1="289.8" x2="183.6" y2="410" stroke="#ececec" stroke-width="0.5"/>
<line x1="29.1" y1="410" x2="183.6" y2="410" stroke="#ececec" stroke-width="0.5"/>
<line x1="29.1" y1="392.8" x2="183.6" y2="392.8" stroke="#ececec" stroke-width="0.5"/>
<line x1="29.1" y1="375.7" x2="183.6" y2="375.7" stroke="#ececec" stroke-width="0.5"/>
<line x1="29.1" y1="358.5" x2="183.6" y2="358.5" stroke="#ececec" stroke-width="0.5"/>
<line x1="29.1" y1="341.3" x2="183.6" y2="341.3" stroke="#ececec" stroke-width="0.5"/>
<line x1="29.1" y1="324.1" x2="183.6" y2="324.1" stroke="#ececec" stroke-width="0.5"/>
<line x1="29.1" y1="307" x2="183.6" y2="307" stroke="#ececec" stroke-width="0.5"/>
<line x1="29.1" y1="289.8" x2="183.6" y2="289.8" stroke="#ececec" stroke-width="0.5"/>
<path d="M34.6,396.7 L35.1,396 L35.8,394.9 L36.6,393.1 L37.2,390.8 L37.7,388.3 L38.2,386 L38.8,383.5 L39.4,380.8 L40,378 L40.5,375 L41.1,371.8 L41.6,368.2 L42.2,364.5 L42.8,361 L43.4,357.9 L43.9,355.2 L44.3,352.9 L44.6,350.7 L44.9,348.8 L45.2,346.9 L45.5,345.3 L45.8,343.8 L46,342.5 L46.2,341.3 L46.4,340 L46.6,339.1 L46.7,338.5 L46.8,337.8 L47,336.3 L47.4,333.5 L48.1,328.7 L49,322.2 L50,315.1 L50.9,308.4 L51.7,303 L52.3,299 L52.8,295.8 L53.3,293.3 L53.6,291.3 L53.9,289.8 L53.9,289.8 L53.6,291.3 L53.3,293.3 L52.8,295.8 L52.3,299 L51.7,303 L50.9,308.4 L50,315.1 L49,322.2 L48.1,328.7 L47.4,333.5 L47,336.3 L46.8,337.8 L46.7,338.5 L46.6,339.1 L46.4,340 L46.2,341.3 L46,342.5 L45.8,343.8 L45.5,345.2 L45.2,346.9 L44.8,348.7 L44.4,350.7 L43.9,352.8 L43.3,355.1 L42.6,357.7 L41.8,360.8 L40.8,364.2 L39.6,367.7 L38.4,371 L37.1,373.9 L35.7,376.4 L34.2,378.6 L32.7,380.6 L31.2,382.3 L29.7,383.5 L28.1,384.2 L26.6,384.5 L25.4,384.9 L24.3,385.5 L23.6,386.2 Z" fill="#3b3bff" opacity="0.12" filter="url(#b2)"/>
<path d="M32.2,394.3 L32.7,393.7 L33.5,392.7 L34.4,391.2 L35.3,389.4 L36.1,387.3 L36.8,385.2 L37.6,382.9 L38.5,380.4 L39.3,377.7 L40,374.9 L40.8,371.7 L41.5,368.2 L42.3,364.5 L43,361 L43.6,357.9 L44.1,355.3 L44.6,352.9 L44.9,350.8 L45.3,348.8 L45.6,347 L45.9,345.3 L46.2,343.9 L46.4,342.6 L46.6,341.4 L46.8,340.1 L47,339.1 L47.1,338.6 L47.2,337.9 L47.4,336.4 L47.8,333.6 L48.5,328.7 L49.4,322.3 L50.4,315.2 L51.3,308.4 L52.1,303.1 L52.7,299.1 L53.2,295.9 L53.7,293.4 L54,291.4 L54.3,289.9 L53.5,289.7 L53.2,291.2 L52.9,293.2 L52.4,295.8 L51.9,299 L51.3,302.9 L50.5,308.3 L49.6,315.1 L48.6,322.1 L47.7,328.6 L47,333.4 L46.6,336.3 L46.4,337.7 L46.3,338.4 L46.2,339 L46,339.9 L45.8,341.2 L45.6,342.5 L45.4,343.8 L45.1,345.2 L44.8,346.8 L44.4,348.7 L44,350.6 L43.6,352.7 L43.1,355.1 L42.4,357.7 L41.6,360.7 L40.8,364.2 L39.8,367.7 L38.7,371.1 L37.6,374.1 L36.4,376.6 L35.1,379 L33.9,381.1 L32.6,383 L31.3,384.5 L30.1,385.6 L28.8,386.4 L27.7,387.1 L26.7,387.9 L26,388.5 Z" fill="#0808ff" filter="url(#b0)"/>
<path d="M58.1,290.4 L58.2,292 L58.5,294.4 L58.8,297.1 L59.3,300 L59.8,302.6 L60.5,305 L61.3,307.4 L62.1,309.7 L63,311.8 L63.9,313.8 L64.9,315.5 L65.9,317 L67,318.4 L68,319.5 L68.8,320.4 L69.7,321.2 L70.8,322.5 L72.2,324 L75.2,325.4 L79.5,323.4 L80.4,320.7 L80.7,318 L80.8,315 L80.9,312 L81.1,309.2 L81.4,306.2 L81.7,303 L82.1,299.8 L82.4,296.9 L81.8,294.5 L82.1,292.9 L82.4,291.8 L82.6,291.1 L82.8,290.6 L83,290.1 L81,289.5 L80.9,289.9 L80.7,290.5 L80.4,291.3 L80.1,292.5 L79.8,294.1 L78.4,296.3 L77.9,299.2 L77.3,302.3 L76.7,305.5 L76.1,308.4 L75.5,311.3 L74.9,314.3 L74.3,317 L73.7,318.9 L73.5,319 L76.3,317.7 L77.6,318 L77.2,317.3 L76.4,316 L75.4,314.6 L74.5,313.6 L73.7,312.7 L73,311.8 L72.3,310.8 L71.5,309.6 L70.6,308.1 L69.7,306.3 L68.7,304.4 L67.8,302.4 L67,300.4 L66.1,298.1 L65.2,295.6 L64.3,293 L63.6,290.8 L62.9,289.2 Z" fill="#3b3bff" opacity="0.2" filter="url(#b2)"/>
<path d="M59.5,290 L59.8,291.7 L60.2,294 L60.7,296.7 L61.3,299.4 L62,302 L62.7,304.2 L63.5,306.5 L64.4,308.7 L65.3,310.7 L66.2,312.5 L67.1,314.1 L68,315.5 L69,316.7 L69.9,317.7 L70.8,318.6 L71.7,319.7 L72.7,320.9 L73.8,322.2 L75.6,323.1 L77.7,322.1 L78.4,320.1 L78.8,317.7 L79.1,314.8 L79.3,311.8 L79.6,308.9 L80,306 L80.4,302.8 L80.8,299.6 L81.2,296.7 L81.2,294.4 L81.5,292.8 L81.8,291.7 L82,290.9 L82.2,290.4 L82.4,289.9 L81.6,289.7 L81.5,290.1 L81.3,290.7 L81,291.5 L80.7,292.6 L80.4,294.2 L79.6,296.5 L79.1,299.4 L78.6,302.5 L78.1,305.7 L77.6,308.7 L77.1,311.5 L76.7,314.5 L76.2,317.3 L75.7,319.4 L75.3,320.3 L76,320 L76,319.8 L75.3,318.9 L74.4,317.6 L73.4,316.4 L72.5,315.4 L71.7,314.4 L70.9,313.4 L70,312.2 L69.2,310.9 L68.3,309.2 L67.4,307.3 L66.5,305.3 L65.6,303.2 L64.8,301 L64,298.7 L63.3,296.1 L62.6,293.4 L61.9,291.2 L61.5,289.6 Z" fill="#0808ff" filter="url(#b0)"/>
<path d="M61.2,289.8 L61.6,292.1 L62.2,295.4 L62.8,299.1 L63.5,302.8 L64.1,305.9 L64.7,308.4 L65.2,310.5 L65.8,312.5 L66.4,314.3 L67,316.1 L67.6,317.8 L68.3,319.3 L69,320.7 L69.7,322.1 L70.6,323.4 L71.7,324.7 L73,325.8 L74.4,327 L75.6,328.1 L76.5,329.2 L77.1,330.4 L77.4,331.6 L77.6,332.7 L77.7,333.9 L77.9,335 L78.1,336 L78.1,337.1 L78.2,338 L78.3,339 L78.4,340 L78.5,340.9 L78.7,341.6 L78.8,342.3 L79,343.4 L79.3,345.1 L79.6,347.4 L80,350.1 L80.5,353.2 L80.9,356.4 L81.4,359.5 L81.8,362.6 L82.3,366 L82.8,369.3 L83.3,372.3 L83.6,374.9 L83.8,377.1 L84,378.9 L84.3,380.3 L84.7,381.5 L85.1,382.5 L85.5,383.6 L85.7,384.7 L85.9,385.8 L86.1,386.9 L86.3,388.1 L86.6,389.2 L86.9,390.5 L87.1,391.9 L87.4,393.6 L87.7,395.6 L88.5,397.6 L89.6,399.6 L91.2,401.3 L93.5,402.7 L95.9,403.2 L98.2,402.9 L100.5,401.8 L102.5,399.8 L103.8,397.5 L104.5,395.4 L105,393.8 L105.4,392.1 L105.7,390.2 L106,388.3 L106.3,386.2 L106.8,383.8 L107.5,381 L108.1,378 L108.7,375 L109.3,371.9 L109.7,368.8 L110.2,365.5 L110.7,362.2 L111.2,359.1 L111.6,356.4 L112,354 L112.3,352 L112.5,350.2 L112.8,348.5 L113.1,346.9 L113.4,345.6 L113.7,344.6 L114,343.7 L114.3,342.2 L114.7,340 L115.1,336.7 L115.4,332.6 L115.8,328 L116.2,323.4 L116.6,319 L117.1,314.7 L117.8,310.2 L118.4,305.9 L119,301.9 L119.5,298.6 L119.9,296 L120.3,293.8 L120.6,292.1 L120.8,290.8 L121,289.8 L121,289.8 L120.8,290.8 L120.6,292.1 L120.3,293.8 L119.9,296 L119.5,298.6 L119,301.9 L118.4,305.9 L117.8,310.2 L117.1,314.7 L116.6,319 L116.2,323.4 L115.8,328 L115.4,332.6 L115.1,336.7 L114.7,340 L114.3,342.2 L114,343.6 L113.6,344.6 L113.3,345.6 L112.9,346.9 L112.6,348.5 L112.3,350.2 L112,352 L111.5,354 L111,356.3 L110.3,359 L109.6,362 L108.7,365.2 L107.7,368.3 L106.5,371.1 L105.2,373.8 L103.8,376.4 L102.3,378.9 L100.8,381.1 L99.5,382.9 L98.2,384 L96.9,384.6 L95.8,384.9 L94.8,384.9 L93.9,384.6 L93.3,383.8 L93.3,382.2 L94.1,380.7 L95.2,379.9 L96.3,379.7 L97.5,380.1 L98.5,381 L98.8,382.3 L98.7,383.4 L98.3,384.5 L97.5,385.2 L96.5,385.4 L95.6,385 L94.8,384.4 L94.1,383.8 L93.4,383.2 L92.7,382.6 L92,381.9 L91.4,381 L90.9,379.9 L90.3,378.8 L89.6,377.8 L88.8,376.8 L87.8,375.7 L86.8,374 L85.8,371.7 L84.9,368.8 L83.9,365.6 L83,362.4 L82.2,359.3 L81.5,356.3 L80.8,353.1 L80.2,350.1 L79.7,347.3 L79.3,345.1 L79,343.4 L78.8,342.3 L78.7,341.6 L78.5,340.9 L78.4,340 L78.3,339 L78.2,338 L78.1,337.1 L78.1,336 L77.9,335 L77.7,333.9 L77.6,332.7 L77.4,331.6 L77.1,330.4 L76.5,329.2 L75.6,328.1 L74.4,327 L73,325.8 L71.7,324.7 L70.6,323.4 L69.7,322.1 L69,320.7 L68.3,319.3 L67.6,317.8 L67,316.1 L66.4,314.3 L65.8,312.5 L65.2,310.5 L64.7,308.4 L64.1,305.9 L63.5,302.8 L62.8,299.1 L62.2,295.4 L61.6,292.1 L61.2,289.8 Z" fill="#3b3bff" opacity="0.12" filter="url(#b2)"/>
<path d="M60.8,289.9 L61.2,292.2 L61.8,295.4 L62.4,299.2 L63.1,302.9 L63.7,306 L64.3,308.5 L64.8,310.6 L65.4,312.6 L66,314.5 L66.6,316.2 L67.3,317.9 L67.9,319.5 L68.6,320.9 L69.4,322.3 L70.3,323.6 L71.4,324.9 L72.7,326.1 L74.1,327.3 L75.3,328.3 L76.2,329.4 L76.7,330.5 L77,331.6 L77.2,332.8 L77.4,333.9 L77.5,335.1 L77.7,336.1 L77.7,337.1 L77.8,338.1 L77.9,339 L78,340.1 L78.1,340.9 L78.3,341.6 L78.4,342.4 L78.6,343.5 L78.9,345.1 L79.3,347.4 L79.7,350.2 L80.2,353.3 L80.7,356.4 L81.2,359.5 L81.7,362.6 L82.3,366 L82.9,369.2 L83.5,372.3 L84,374.8 L84.4,376.9 L84.8,378.5 L85.3,379.9 L85.7,381 L86.2,382.1 L86.6,383.1 L87,384.2 L87.3,385.2 L87.6,386.2 L87.9,387.2 L88.3,388.2 L88.7,389.3 L89.2,390.5 L89.6,391.7 L90.1,393.1 L90.8,394.4 L91.7,395.6 L92.9,396.7 L94.4,397.4 L96,397.7 L97.5,397.5 L99,396.9 L100.4,395.8 L101.4,394.4 L102.1,393 L102.7,391.8 L103.3,390.5 L103.8,389.1 L104.4,387.4 L105,385.5 L105.7,383.3 L106.5,380.6 L107.4,377.8 L108.2,374.8 L109,371.8 L109.6,368.8 L110.2,365.5 L110.8,362.3 L111.4,359.2 L111.8,356.4 L112.3,354.1 L112.6,352.1 L112.8,350.3 L113.1,348.6 L113.4,347 L113.7,345.7 L114.1,344.8 L114.4,343.8 L114.7,342.3 L115.1,340.1 L115.4,336.7 L115.8,332.6 L116.2,328.1 L116.6,323.4 L117,319 L117.5,314.7 L118.2,310.3 L118.8,306 L119.4,302 L119.9,298.7 L120.3,296 L120.7,293.9 L121,292.2 L121.2,290.9 L121.4,289.9 L120.6,289.7 L120.4,290.7 L120.2,292.1 L119.9,293.8 L119.5,295.9 L119.1,298.5 L118.6,301.9 L118,305.8 L117.4,310.2 L116.7,314.6 L116.2,319 L115.8,323.3 L115.4,328 L115,332.5 L114.7,336.6 L114.3,339.9 L114,342.2 L113.6,343.5 L113.3,344.5 L112.9,345.5 L112.6,346.8 L112.3,348.5 L112,350.1 L111.6,351.9 L111.2,353.9 L110.8,356.2 L110.2,358.9 L109.5,362 L108.7,365.2 L107.8,368.3 L106.8,371.2 L105.7,373.9 L104.5,376.7 L103.2,379.3 L102,381.6 L100.8,383.5 L99.8,384.9 L98.8,385.8 L97.9,386.4 L97,386.8 L96.3,387.1 L95.7,386.9 L95.4,386.3 L95.6,385.6 L95.9,385.2 L96.2,385.1 L96.6,385.3 L96.8,385.7 L96.7,386.2 L96.4,386.7 L95.9,387 L95.2,387.1 L94.5,386.8 L93.8,386.2 L93.1,385.4 L92.5,384.6 L91.9,383.9 L91.3,383.2 L90.8,382.4 L90.3,381.5 L89.8,380.4 L89.3,379.3 L88.7,378.3 L87.9,377.2 L87.2,375.9 L86.4,374.1 L85.6,371.7 L84.7,368.8 L83.9,365.6 L83.1,362.3 L82.4,359.2 L81.8,356.2 L81.1,353.1 L80.6,350 L80.1,347.3 L79.7,345 L79.4,343.3 L79.2,342.3 L79,341.5 L78.9,340.8 L78.8,339.9 L78.7,339 L78.6,338 L78.5,337 L78.4,336 L78.3,334.9 L78.1,333.8 L78,332.7 L77.8,331.5 L77.5,330.2 L76.8,329 L75.9,327.8 L74.6,326.7 L73.3,325.5 L72,324.4 L70.9,323.2 L70.1,321.9 L69.3,320.5 L68.6,319.1 L68,317.6 L67.4,316 L66.8,314.2 L66.2,312.4 L65.6,310.4 L65.1,308.3 L64.5,305.8 L63.9,302.7 L63.2,299 L62.5,295.3 L62,292 L61.6,289.7 Z" fill="#0808ff" filter="url(#b0)"/>
<path d="M58.7,290.2 L58.9,292.5 L59.2,295.9 L59.6,299.7 L60,303.5 L60.4,306.7 L60.9,309.3 L61.4,311.6 L61.8,313.7 L62.3,315.7 L62.9,317.6 L63.6,319.4 L64.3,321.1 L65.1,322.7 L66,324.4 L67.1,326.1 L68.7,327.7 L70.3,328.9 L71.7,330 L72.8,330.7 L73.3,331.2 L73.9,331.6 L74.5,332.4 L75.1,333.5 L75.5,334.5 L76.9,335.1 L78.9,334.9 L80,333.9 L80.3,332.7 L80.4,331.2 L80.3,329.3 L79.7,327.2 L78.4,325.4 L77,323.9 L75.7,322.7 L74.7,321.7 L74.1,320.7 L73.5,319.8 L72.8,318.7 L72.3,317.5 L71.7,316.1 L71.1,314.6 L70.4,313 L69.7,311.3 L69.1,309.5 L68.4,307.5 L67.8,305.1 L66.9,302.1 L66,298.5 L65.1,294.9 L64.3,291.6 L63.7,289.4 Z" fill="#3b3bff" opacity="0.2" filter="url(#b2)"/>
<path d="M60.2,290 L60.5,292.3 L61,295.6 L61.5,299.3 L62.1,303.1 L62.6,306.2 L63.2,308.7 L63.7,311 L64.2,313 L64.8,314.9 L65.4,316.7 L66,318.4 L66.7,320 L67.4,321.5 L68.2,323 L69.2,324.5 L70.5,325.9 L71.9,327.1 L73.3,328.2 L74.5,329.1 L75.2,330 L75.8,330.9 L76.3,332 L76.6,333.2 L76.9,334.3 L77.5,335.1 L78.3,334.9 L78.7,334.1 L78.7,333 L78.6,331.5 L78.4,330 L77.8,328.4 L76.7,327 L75.4,325.7 L74.1,324.6 L72.9,323.5 L72,322.3 L71.2,321.2 L70.5,319.9 L69.9,318.6 L69.3,317.1 L68.6,315.5 L68,313.8 L67.4,312 L66.8,310.1 L66.2,308 L65.6,305.6 L64.8,302.5 L64.1,298.9 L63.3,295.2 L62.7,291.9 L62.2,289.6 Z" fill="#0808ff" filter="url(#b0)"/>
<path d="M111.8,291.2 L112.1,292.5 L112.5,294.4 L113,296.6 L113.6,298.9 L114.2,301 L114.8,302.7 L115.3,304.4 L116,306.3 L117,308.2 L118.2,310 L119.6,311.6 L121.1,313.2 L123,314.8 L125.5,316.1 L129,316.9 L132.5,316.1 L135,314.8 L136.9,313.2 L138.5,311.6 L139.9,309.9 L141.1,307.9 L141.9,306 L142.5,304.1 L143,302.3 L143.4,300.5 L143.8,298.5 L144.2,296.2 L144.5,293.9 L144.8,292.1 L144.9,290.8 L135.1,288.8 L134.7,290.1 L134.2,291.9 L133.7,293.9 L133.2,295.8 L132.6,297.5 L132,298.9 L131.5,300.1 L131,301.1 L130.5,301.7 L130.1,302.1 L129.5,302.6 L128.7,303.2 L128.1,303.5 L128,303.4 L129,303.1 L130,303.4 L129.9,303.5 L129.3,303.2 L128.5,302.6 L127.8,302 L127.3,301.5 L126.7,300.8 L126.1,299.8 L125.5,298.5 L124.8,297 L124,295.4 L123.3,293.4 L122.6,291.4 L121.9,289.6 L121.4,288.4 Z" fill="#3b3bff" opacity="0.2" filter="url(#b2)"/>
<path d="M114.7,290.4 L115,291.7 L115.5,293.5 L116.1,295.7 L116.8,297.9 L117.4,299.8 L118,301.4 L118.6,303 L119.3,304.6 L120.1,306.2 L121.1,307.6 L122.2,308.9 L123.6,310.2 L125.1,311.4 L126.9,312.3 L129,312.8 L131.1,312.3 L132.9,311.4 L134.5,310.2 L135.8,308.9 L137,307.6 L137.9,306.1 L138.7,304.5 L139.2,302.9 L139.7,301.3 L140.2,299.6 L140.6,297.7 L141.1,295.5 L141.5,293.3 L141.8,291.5 L142,290.2 L138,289.4 L137.7,290.7 L137.3,292.5 L136.9,294.6 L136.4,296.6 L135.8,298.4 L135.3,299.9 L134.8,301.3 L134.3,302.5 L133.7,303.6 L133,304.4 L132.2,305.3 L131.2,306.2 L130.2,306.9 L129.4,307.2 L129,307.2 L128.7,307.2 L127.9,306.9 L126.9,306.2 L125.8,305.3 L124.9,304.4 L124.2,303.5 L123.5,302.4 L122.9,301.2 L122.3,299.7 L121.6,298.2 L120.9,296.4 L120.2,294.4 L119.5,292.3 L119,290.5 L118.5,289.2 Z" fill="#0808ff" filter="url(#b0)"/>
<path d="M144.6,291 L144.8,292.3 L145.1,294.2 L145.6,296.5 L146.1,298.8 L146.8,301 L147.5,303 L148.2,304.8 L149.1,306.6 L150.1,308.4 L151.3,310.1 L152.5,311.6 L153.9,313.1 L155.7,314.7 L158.2,316.1 L161.7,316.9 L165.3,316 L167.7,314.6 L169.5,312.9 L170.9,311.3 L172,309.7 L173.1,307.9 L173.9,306 L174.5,304.2 L175,302.3 L175.4,300.4 L175.8,298.2 L176.1,295.9 L176.3,293.6 L176.4,291.8 L176.5,290.5 L166.5,289.1 L166.2,290.4 L165.9,292.2 L165.5,294.2 L165,296.1 L164.6,297.6 L164.1,298.9 L163.5,300 L163,301 L162.5,301.8 L162,302.3 L161.3,302.9 L160.6,303.5 L160.2,303.7 L160.4,303.5 L161.7,303.1 L162.9,303.4 L163,303.6 L162.4,303.3 L161.6,302.6 L160.7,301.9 L160,301.2 L159.3,300.4 L158.6,299.4 L157.9,298.2 L157.2,297 L156.6,295.5 L155.9,293.6 L155.3,291.6 L154.7,289.8 L154.2,288.6 Z" fill="#3b3bff" opacity="0.2" filter="url(#b2)"/>
<path d="M147.5,290.3 L147.7,291.6 L148.2,293.4 L148.7,295.6 L149.3,297.8 L149.9,299.8 L150.6,301.5 L151.3,303.2 L152.2,304.8 L153.1,306.3 L154.1,307.6 L155.2,308.9 L156.5,310.2 L157.9,311.3 L159.6,312.3 L161.7,312.8 L163.8,312.3 L165.5,311.3 L166.8,310.1 L168,308.8 L169,307.5 L169.9,306.1 L170.6,304.5 L171.2,302.9 L171.7,301.3 L172.2,299.6 L172.6,297.6 L172.9,295.4 L173.2,293.2 L173.4,291.4 L173.5,290.1 L169.5,289.5 L169.3,290.8 L169,292.6 L168.7,294.7 L168.3,296.7 L167.8,298.4 L167.3,299.9 L166.8,301.3 L166.3,302.5 L165.7,303.6 L165,304.5 L164.2,305.4 L163.3,306.3 L162.4,306.9 L161.8,307.2 L161.7,307.2 L161.5,307.2 L160.8,306.9 L159.9,306.2 L158.9,305.3 L157.9,304.4 L157.1,303.4 L156.3,302.3 L155.5,301 L154.8,299.6 L154.1,298.2 L153.4,296.5 L152.8,294.5 L152.2,292.4 L151.7,290.6 L151.3,289.3 Z" fill="#0808ff" filter="url(#b0)"/>
<path d="M166,298.3 L166.5,299.7 L167.2,301.7 L168,304.2 L169,306.7 L170,309 L171,311 L172.1,313 L173.2,314.9 L174.3,316.7 L175.5,318.4 L176.8,319.9 L178.2,321.3 L179.4,322.5 L180.4,323.4 L181.1,324 L186.1,318.4 L185.4,317.8 L184.4,316.9 L183.4,316 L182.4,314.9 L181.5,313.8 L180.6,312.5 L179.6,311 L178.6,309.3 L177.7,307.6 L176.8,305.8 L176,303.9 L175.1,301.6 L174.3,299.2 L173.6,297.2 L173,295.7 Z" fill="#3b3bff" opacity="0.2" filter="url(#b2)"/>
<path d="M168.1,297.5 L168.6,298.9 L169.3,301 L170.2,303.4 L171.1,305.8 L172,308 L173,310 L174,311.9 L175.1,313.7 L176.2,315.5 L177.3,317 L178.5,318.4 L179.7,319.7 L180.9,320.8 L181.9,321.7 L182.6,322.3 L184.6,320.1 L183.9,319.4 L182.9,318.6 L181.8,317.6 L180.7,316.4 L179.7,315.2 L178.7,313.8 L177.7,312.2 L176.7,310.4 L175.7,308.6 L174.8,306.8 L173.9,304.7 L173,302.3 L172.1,300 L171.4,297.9 L170.9,296.5 Z" fill="#0808ff" filter="url(#b0)"/>
<path d="M165.9,300.1 L166.1,300.8 L166.4,301.6 L166.7,302.6 L167.1,303.9 L167.6,305.5 L168.2,307.6 L168.8,310.4 L169.6,313.3 L170.4,316.3 L171.3,318.9 L172.3,321 L173.3,322.9 L174.3,324.4 L175.3,325.8 L176.2,327 L177.2,328.4 L178.4,329.7 L179.4,330.9 L180.2,331.8 L180.8,332.4 L186.4,327.4 L185.8,326.7 L184.9,325.8 L184,324.8 L183.1,323.7 L182.2,322.6 L181.3,321.4 L180.5,320.2 L179.7,319 L179,317.7 L178.3,316.1 L177.6,314 L176.8,311.4 L176.1,308.5 L175.4,305.8 L174.8,303.5 L174.3,301.8 L173.9,300.4 L173.5,299.3 L173.3,298.5 L173.1,297.9 Z" fill="#3b3bff" opacity="0.2" filter="url(#b2)"/>
<path d="M168.1,299.5 L168.3,300.1 L168.5,300.9 L168.9,301.9 L169.3,303.3 L169.8,304.9 L170.3,307.1 L171,309.8 L171.8,312.7 L172.6,315.6 L173.4,318 L174.3,320 L175.2,321.7 L176.2,323.2 L177.1,324.5 L178,325.7 L179,327 L180,328.2 L181.1,329.3 L181.9,330.3 L182.5,330.9 L184.7,328.9 L184.1,328.2 L183.3,327.3 L182.3,326.3 L181.3,325.1 L180.4,323.9 L179.5,322.7 L178.6,321.5 L177.8,320.2 L177,318.7 L176.2,317 L175.4,314.7 L174.7,312 L173.9,309.1 L173.2,306.3 L172.6,304.1 L172.1,302.4 L171.7,301 L171.4,300 L171.1,299.2 L170.9,298.5 Z" fill="#0808ff" filter="url(#b0)"/>
<line x1="29.1" y1="341.3" x2="183.6" y2="341.3" stroke="#9a9a9a" stroke-width="0.85" stroke-dasharray="2.6,1.8"/>
<path d="M29.1,397.3 C29.9,396.2 32.1,394 33.7,390.6 C35.3,387.2 37.2,382.5 38.8,377.1 C40.3,371.8 41.9,363.5 43,358.5 C44.1,353.5 44.6,350.1 45.2,347 C45.8,343.9 46,342.2 46.4,340 C46.8,337.8 46.5,339.7 47.4,333.5 C48.3,327.3 50.6,310.3 51.7,303 C52.8,295.7 53.5,292 53.9,289.8" fill="none" stroke="#111" stroke-width="1.1" stroke-linejoin="round"/>
<path d="M60.5,289.8 C61,291.8 62.2,297.9 63.4,301.5 C64.6,305.1 66.2,309 67.7,311.7 C69.2,314.4 70.6,315.9 72.1,317.5 C73.6,319.1 75.4,322.6 76.5,321.2 C77.6,319.8 77.9,313.3 78.6,308.8 C79.3,304.3 80.2,297.5 80.8,294.3 C81.4,291.1 81.8,290.6 82,289.8" fill="none" stroke="#111" stroke-width="1.1" stroke-linejoin="round"/>
<path d="M61.2,289.8 C61.7,292.5 63.1,301.5 64.1,305.9 C65.1,310.3 65.9,313.2 67,316.1 C68.1,319 69,321.2 70.6,323.4 C72.2,325.6 75.3,327.3 76.5,329.2 C77.7,331.1 77.6,333.2 77.9,335 C78.2,336.8 78.2,338.3 78.4,340 C78.6,341.7 78.7,341.7 79.3,345.1 C79.9,348.5 80.8,354.9 81.8,360.2 C82.8,365.5 84.2,373 85.2,377.1 C86.2,381.2 87.2,382.8 88,385 C88.8,387.2 89.4,388.8 90.2,390.6 C91,392.4 92,394.5 93,395.6 C94,396.7 95.1,397.3 96.1,397.3 C97.1,397.3 98.1,397 99.2,395.6 C100.3,394.2 101.5,392.5 102.9,388.9 C104.4,385.2 106.5,379 107.9,373.7 C109.3,368.4 110.5,361.3 111.3,356.9 C112.1,352.4 112.4,349.8 113,347 C113.6,344.2 114.1,344.7 114.7,340 C115.3,335.3 115.8,325.9 116.6,319 C117.4,312.1 118.8,303.5 119.5,298.6 C120.2,293.7 120.8,291.3 121,289.8" fill="none" stroke="#111" stroke-width="1.1" stroke-linejoin="round"/>
<path d="M119.5,289.8 C120,291.8 120.9,298.8 122.5,301.5 C124.1,304.2 126.8,306 129,305.9 C131.2,305.8 133.9,303.5 135.5,300.8 C137.1,298.1 138,291.6 138.5,289.8" fill="none" stroke="#111" stroke-width="1.1" stroke-linejoin="round"/>
<path d="M122.5,289.8 C123.6,290.2 126.8,292.3 129,292.3 C131.2,292.3 134.4,290.2 135.5,289.8" fill="none" stroke="#111" stroke-width="1.1" stroke-linejoin="round"/>
<path d="M151.5,289.8 C152.1,291.7 153.3,298.3 155,301 C156.7,303.7 159.9,305.7 161.7,305.9 C163.5,306.1 164.8,304.7 166,302 C167.2,299.3 168.5,291.8 169,289.8" fill="none" stroke="#111" stroke-width="1.1" stroke-linejoin="round"/>
<path d="M155,289.8 C156.1,290.2 159.5,292.3 161.7,292.3 C163.9,292.3 166.9,290.2 168,289.8" fill="none" stroke="#111" stroke-width="1.1" stroke-linejoin="round"/>
<path d="M169.5,297 C170.2,298.7 171.9,304.2 173.4,307.4 C174.9,310.6 176.8,313.8 178.5,316.1 C180.2,318.4 182.8,320.4 183.6,321.2" fill="none" stroke="#111" stroke-width="1.1" stroke-linejoin="round"/>
<path d="M169.5,299 C169.8,299.9 170.3,301.4 171.2,304.5 C172.1,307.6 173.5,314.1 174.8,317.5 C176.1,320.9 177.7,322.7 179.2,324.8 C180.7,326.9 182.9,329 183.6,329.9" fill="none" stroke="#111" stroke-width="1.1" stroke-linejoin="round"/>
<circle cx="30.9" cy="384.2" r="0.9" fill="#f00"/>
<circle cx="34.4" cy="380.3" r="0.9" fill="#f00"/>
<circle cx="37.9" cy="374.1" r="0.9" fill="#f00"/>
<circle cx="41.4" cy="363.5" r="0.9" fill="#f00"/>
<circle cx="44.9" cy="348.6" r="0.9" fill="#f00"/>
<circle cx="48.4" cy="326.7" r="0.9" fill="#f00"/>
<circle cx="51.9" cy="302" r="0.9" fill="#f00"/>
<circle cx="62.1" cy="296.8" r="0.9" fill="#f00"/>
<circle cx="65.3" cy="306.6" r="0.9" fill="#f00"/>
<circle cx="68.5" cy="313.1" r="0.9" fill="#f00"/>
<circle cx="71.7" cy="317.1" r="0.9" fill="#f00"/>
<circle cx="74.9" cy="321" r="0.9" fill="#f00"/>
<circle cx="78.1" cy="312.6" r="0.9" fill="#f00"/>
<circle cx="81.3" cy="292" r="0.9" fill="#f00"/>
<circle cx="62.9" cy="299.7" r="0.9" fill="#f00"/>
<circle cx="66.3" cy="314.1" r="0.9" fill="#f00"/>
<circle cx="69.7" cy="322" r="0.9" fill="#f00"/>
<circle cx="73.1" cy="325.9" r="0.9" fill="#f00"/>
<circle cx="76.5" cy="329.2" r="0.9" fill="#f00"/>
<circle cx="79.9" cy="348.4" r="0.9" fill="#f00"/>
<circle cx="83.3" cy="365" r="0.9" fill="#f00"/>
<circle cx="86.7" cy="375.3" r="0.9" fill="#f00"/>
<circle cx="90.1" cy="381.1" r="0.9" fill="#f00"/>
<circle cx="93.5" cy="384.8" r="0.9" fill="#f00"/>
<circle cx="96.9" cy="385.5" r="0.9" fill="#f00"/>
<circle cx="100.3" cy="383.5" r="0.9" fill="#f00"/>
<circle cx="103.7" cy="378.7" r="0.9" fill="#f00"/>
<circle cx="107.1" cy="371.5" r="0.9" fill="#f00"/>
<circle cx="110.5" cy="359.3" r="0.9" fill="#f00"/>
<circle cx="113.9" cy="344" r="0.9" fill="#f00"/>
<circle cx="117.3" cy="313.5" r="0.9" fill="#f00"/>
<circle cx="120.7" cy="291.5" r="0.9" fill="#f00"/>
<circle cx="121" cy="302.7" r="0.9" fill="#f00"/>
<circle cx="128.5" cy="310" r="0.9" fill="#f00"/>
<circle cx="136" cy="304.5" r="0.9" fill="#f00"/>
<circle cx="153.5" cy="302.3" r="0.9" fill="#f00"/>
<circle cx="161" cy="309.9" r="0.9" fill="#f00"/>
<circle cx="168.5" cy="303.4" r="0.9" fill="#f00"/>
<circle cx="171.2" cy="302" r="0.9" fill="#f00"/>
<circle cx="174.8" cy="310.1" r="0.9" fill="#f00"/>
<circle cx="178.2" cy="315.8" r="0.9" fill="#f00"/>
<circle cx="181.8" cy="319.5" r="0.9" fill="#f00"/>
<circle cx="171.2" cy="304.7" r="0.9" fill="#f00"/>
<circle cx="174.8" cy="317.4" r="0.9" fill="#f00"/>
<circle cx="178.2" cy="323.5" r="0.9" fill="#f00"/>
<circle cx="181.8" cy="327.9" r="0.9" fill="#f00"/>
<path d="M92.7,382.1 L99.5,388.9 M92.7,388.9 L99.5,382.1" stroke="#f7a51c" stroke-width="1.9" stroke-linecap="butt"/>
<path d="M92.7,385.5 L99.5,392.3 M92.7,392.3 L99.5,385.5" stroke="#40e0d0" stroke-width="1.9" stroke-linecap="butt"/>
</g>
<rect x="29.1" y="289.8" width="154.5" height="120.2" fill="none" stroke="#222" stroke-width="0.9"/>
<line x1="26.5" y1="410" x2="29.1" y2="410" stroke="#222" stroke-width="0.9"/>
<text x="24.5" y="412.5" font-family="'DejaVu Sans','Liberation Sans',sans-serif" font-size="7.2" fill="#000" stroke="#000" stroke-width="0.2" text-anchor="end">−4</text>
<line x1="26.5" y1="392.8" x2="29.1" y2="392.8" stroke="#222" stroke-width="0.9"/>
<text x="24.5" y="395.3" font-family="'DejaVu Sans','Liberation Sans',sans-serif" font-size="7.2" fill="#000" stroke="#000" stroke-width="0.2" text-anchor="end">−3</text>
<line x1="26.5" y1="375.7" x2="29.1" y2="375.7" stroke="#222" stroke-width="0.9"/>
<text x="24.5" y="378.2" font-family="'DejaVu Sans','Liberation Sans',sans-serif" font-size="7.2" fill="#000" stroke="#000" stroke-width="0.2" text-anchor="end">−2</text>
<line x1="26.5" y1="358.5" x2="29.1" y2="358.5" stroke="#222" stroke-width="0.9"/>
<text x="24.5" y="361" font-family="'DejaVu Sans','Liberation Sans',sans-serif" font-size="7.2" fill="#000" stroke="#000" stroke-width="0.2" text-anchor="end">−1</text>
<line x1="26.5" y1="341.3" x2="29.1" y2="341.3" stroke="#222" stroke-width="0.9"/>
<text x="24.5" y="343.8" font-family="'DejaVu Sans','Liberation Sans',sans-serif" font-size="7.2" fill="#000" stroke="#000" stroke-width="0.2" text-anchor="end">0</text>
<line x1="26.5" y1="324.1" x2="29.1" y2="324.1" stroke="#222" stroke-width="0.9"/>
<text x="24.5" y="326.6" font-family="'DejaVu Sans','Liberation Sans',sans-serif" font-size="7.2" fill="#000" stroke="#000" stroke-width="0.2" text-anchor="end">1</text>
<line x1="26.5" y1="307" x2="29.1" y2="307" stroke="#222" stroke-width="0.9"/>
<text x="24.5" y="309.5" font-family="'DejaVu Sans','Liberation Sans',sans-serif" font-size="7.2" fill="#000" stroke="#000" stroke-width="0.2" text-anchor="end">2</text>
<line x1="26.5" y1="289.8" x2="29.1" y2="289.8" stroke="#222" stroke-width="0.9"/>
<text x="24.5" y="292.3" font-family="'DejaVu Sans','Liberation Sans',sans-serif" font-size="7.2" fill="#000" stroke="#000" stroke-width="0.2" text-anchor="end">3</text>
<line x1="29.1" y1="410" x2="29.1" y2="412.6" stroke="#222" stroke-width="0.9"/>
<text x="29.1" y="422.1" font-family="'DejaVu Sans','Liberation Sans',sans-serif" font-size="9.7" fill="#000" stroke="#000" stroke-width="0.15" text-anchor="middle">Γ</text>
<line x1="57" y1="410" x2="57" y2="412.6" stroke="#222" stroke-width="0.9"/>
<text x="57" y="422.1" font-family="'DejaVu Sans','Liberation Sans',sans-serif" font-size="9.7" fill="#000" stroke="#000" stroke-width="0.15" text-anchor="middle">H</text>
<line x1="76.7" y1="410" x2="76.7" y2="412.6" stroke="#222" stroke-width="0.9"/>
<text x="76.7" y="422.1" font-family="'DejaVu Sans','Liberation Sans',sans-serif" font-size="9.7" fill="#000" stroke="#000" stroke-width="0.15" text-anchor="middle">N</text>
<line x1="96.4" y1="410" x2="96.4" y2="412.6" stroke="#222" stroke-width="0.9"/>
<text x="96.4" y="422.1" font-family="'DejaVu Sans','Liberation Sans',sans-serif" font-size="9.7" fill="#000" stroke="#000" stroke-width="0.15" text-anchor="middle">Γ</text>
<line x1="120.5" y1="410" x2="120.5" y2="412.6" stroke="#222" stroke-width="0.9"/>
<text x="120.5" y="422.1" font-family="'DejaVu Sans','Liberation Sans',sans-serif" font-size="9.7" fill="#000" stroke="#000" stroke-width="0.15" text-anchor="middle">P</text>
<line x1="145.1" y1="410" x2="145.1" y2="412.6" stroke="#222" stroke-width="0.9"/>
<text x="145.1" y="422.1" font-family="'DejaVu Sans','Liberation Sans',sans-serif" font-size="9.7" fill="#000" stroke="#000" stroke-width="0.15" text-anchor="middle">H</text>
<line x1="169.7" y1="410" x2="169.7" y2="412.6" stroke="#222" stroke-width="0.9"/>
<text x="169.7" y="422.1" font-family="'DejaVu Sans','Liberation Sans',sans-serif" font-size="9.7" fill="#000" stroke="#000" stroke-width="0.15" text-anchor="middle">P</text>
<line x1="183.6" y1="410" x2="183.6" y2="412.6" stroke="#222" stroke-width="0.9"/>
<text x="183.6" y="422.1" font-family="'DejaVu Sans','Liberation Sans',sans-serif" font-size="9.7" fill="#000" stroke="#000" stroke-width="0.15" text-anchor="middle">N</text>
<text x="181.2" y="404.8" font-family="'DejaVu Sans','Liberation Sans',sans-serif" font-size="11.1" fill="#000" stroke="#000" stroke-width="0.1" text-anchor="end">bcc Na</text>
<text x="0" y="0" transform="translate(10.3,349.9) rotate(-90)" font-family="'DejaVu Sans','Liberation Sans',sans-serif" font-size="8.6" fill="#000" stroke="#000" stroke-width="0.2" text-anchor="middle">Energy (eV)</text>
<g clip-path="url(#c7)">
<ellipse cx="273" cy="398" rx="8" ry="9" fill="#3a3aff" opacity="0.18" filter="url(#b3)"/>
<ellipse cx="211" cy="398" rx="5" ry="9" fill="#3a3aff" opacity="0.18" filter="url(#b3)"/>
<ellipse cx="329" cy="345" rx="5" ry="6" fill="#3a3aff" opacity="0.2" filter="url(#b2)"/>
<ellipse cx="294" cy="337" rx="4" ry="8" fill="#3a3aff" opacity="0.35" filter="url(#b2)"/>
<path d="M218,289.8 L259,289.8 L253,308 L240,310 L227,303 Z" fill="#3a3aff" opacity="0.13" filter="url(#b2)"/>
<path d="M300,289.8 L322,289.8 L311,309 Z" fill="#3a3aff" opacity="0.18" filter="url(#b2)"/>
<path d="M343,289.8 L355,289.8 L349,301 L353,309 L345,309 Z" fill="#3a3aff" opacity="0.45" filter="url(#b2)"/>
<path d="M357,303 L364,300 L364,312 L358,312 Z" fill="#3a3aff" opacity="0.4" filter="url(#b2)"/>
<path d="M322,328 L337,328 L329,340 Z" fill="#3a3aff" opacity="0.2" filter="url(#b2)"/>
<line x1="209.2" y1="289.8" x2="209.2" y2="410" stroke="#ececec" stroke-width="0.5"/>
<line x1="231.5" y1="289.8" x2="231.5" y2="410" stroke="#ececec" stroke-width="0.5"/>
<line x1="242" y1="289.8" x2="242" y2="410" stroke="#ececec" stroke-width="0.5"/>
<line x1="249.7" y1="289.8" x2="249.7" y2="410" stroke="#ececec" stroke-width="0.5"/>
<line x1="272.9" y1="289.8" x2="272.9" y2="410" stroke="#ececec" stroke-width="0.5"/>
<line x1="292.2" y1="289.8" x2="292.2" y2="410" stroke="#ececec" stroke-width="0.5"/>
<line x1="305.3" y1="289.8" x2="305.3" y2="410" stroke="#ececec" stroke-width="0.5"/>
<line x1="313.5" y1="289.8" x2="313.5" y2="410" stroke="#ececec" stroke-width="0.5"/>
<line x1="329" y1="289.8" x2="329" y2="410" stroke="#ececec" stroke-width="0.5"/>
<line x1="342.1" y1="289.8" x2="342.1" y2="410" stroke="#ececec" stroke-width="0.5"/>
<line x1="356" y1="289.8" x2="356" y2="410" stroke="#ececec" stroke-width="0.5"/>
<line x1="363.4" y1="289.8" x2="363.4" y2="410" stroke="#ececec" stroke-width="0.5"/>
<line x1="209.2" y1="410" x2="364" y2="410" stroke="#ececec" stroke-width="0.5"/>
<line x1="209.2" y1="392.8" x2="364" y2="392.8" stroke="#ececec" stroke-width="0.5"/>
<line x1="209.2" y1="375.7" x2="364" y2="375.7" stroke="#ececec" stroke-width="0.5"/>
<line x1="209.2" y1="358.5" x2="364" y2="358.5" stroke="#ececec" stroke-width="0.5"/>
<line x1="209.2" y1="341.3" x2="364" y2="341.3" stroke="#ececec" stroke-width="0.5"/>
<line x1="209.2" y1="324.1" x2="364" y2="324.1" stroke="#ececec" stroke-width="0.5"/>
<line x1="209.2" y1="307" x2="364" y2="307" stroke="#ececec" stroke-width="0.5"/>
<line x1="209.2" y1="289.8" x2="364" y2="289.8" stroke="#ececec" stroke-width="0.5"/>
<path d="M213.8,391.3 L214.5,390.3 L215.4,388.9 L216.4,386.8 L217.3,384.2 L217.9,381.4 L218.4,378.5 L219,375.6 L219.7,372.6 L220.4,369.5 L221.2,366.4 L221.9,363.3 L222.7,360 L223.5,356.6 L224.3,353.3 L225,350.1 L225.8,346.9 L226.4,343.7 L227.1,340.6 L227.8,337.8 L228.3,335.5 L228.8,334 L229.1,333 L229.4,332.4 L229.7,331.7 L230.1,330.9 L230.7,329.8 L231.4,328.6 L232.1,327.3 L232.7,326.2 L233.1,325.5 L233.1,325.5 L232.6,326.2 L232,327.3 L231.2,328.5 L230.5,329.7 L229.9,330.8 L229.4,331.6 L229.1,332.2 L228.8,332.9 L228.4,333.8 L227.9,335.4 L227.2,337.6 L226.4,340.4 L225.5,343.4 L224.6,346.6 L223.6,349.7 L222.5,352.8 L221.4,356 L220.2,359.2 L219,362.4 L217.8,365.4 L216.7,368.3 L215.6,371.3 L214.3,374 L213,376.4 L211.5,378.2 L209.8,379.6 L208.1,380.7 L206.6,381.8 L205.4,383 L204.6,384 Z" fill="#3b3bff" opacity="0.12" filter="url(#b2)"/>
<path d="M211.8,389.7 L212.5,388.8 L213.6,387.4 L214.7,385.5 L215.8,383.2 L216.7,380.8 L217.4,378.1 L218.2,375.3 L219,372.4 L219.9,369.3 L220.7,366.3 L221.6,363.2 L222.5,359.9 L223.4,356.6 L224.2,353.3 L225.1,350.1 L225.8,347 L226.6,343.7 L227.3,340.6 L228,337.9 L228.6,335.6 L229.1,334.1 L229.4,333.1 L229.7,332.5 L230,331.9 L230.4,331.1 L231,330 L231.7,328.7 L232.4,327.5 L233,326.4 L233.5,325.7 L232.7,325.3 L232.3,326 L231.7,327.1 L230.9,328.3 L230.2,329.5 L229.6,330.6 L229.1,331.4 L228.8,332 L228.5,332.7 L228.1,333.8 L227.6,335.3 L227,337.6 L226.2,340.3 L225.4,343.4 L224.5,346.6 L223.5,349.7 L222.6,352.8 L221.5,356 L220.5,359.3 L219.4,362.5 L218.3,365.5 L217.2,368.5 L216.2,371.5 L215.1,374.3 L214,376.8 L212.7,378.8 L211.3,380.5 L209.9,382 L208.5,383.3 L207.4,384.6 L206.6,385.5 Z" fill="#0808ff" filter="url(#b0)"/>
<path d="M232.4,328.6 L232.8,328.1 L233.5,327.5 L234.2,326.7 L234.9,326 L235.6,325.4 L236.3,324.9 L237,324.4 L237.8,323.8 L238.7,323.2 L239.7,322.4 L240.7,321.5 L241.6,320.5 L242.4,319.7 L242.8,319.3 L242.7,319.3 L242.5,319.3 L242.9,319.5 L243.6,320.1 L244.5,320.8 L245.6,321.5 L246.8,322 L247.6,322.2 L248,322.2 L248.1,322.2 L248.1,322.2 L248.4,322.7 L248.9,323.5 L249.4,324.5 L249.9,325.5 L250.3,326.2 L254.7,323.8 L254.4,323.2 L253.9,322.2 L253.3,321.1 L252.6,319.9 L251.7,318.8 L250.6,317.9 L249.5,317.5 L248.7,317.3 L248.2,317.2 L248,317.1 L247.5,316.8 L246.6,316.1 L245.6,315.3 L244.1,314.6 L242.1,314.3 L240.2,315 L239,316 L238,317.1 L237.2,318 L236.5,318.6 L235.8,319.1 L235,319.7 L234.1,320.3 L233.3,320.9 L232.4,321.6 L231.5,322.4 L230.7,323.2 L229.9,323.9 L229.3,324.6 L228.8,325 Z" fill="#3b3bff" opacity="0.2" filter="url(#b2)"/>
<path d="M231.3,327.5 L231.8,327 L232.4,326.4 L233.1,325.7 L233.9,324.9 L234.6,324.3 L235.4,323.7 L236.2,323.1 L237,322.6 L237.8,321.9 L238.7,321.3 L239.7,320.4 L240.5,319.5 L241.3,318.6 L242.1,318 L242.5,317.8 L243,317.9 L243.7,318.3 L244.5,318.9 L245.4,319.6 L246.3,320.2 L247.2,320.5 L247.9,320.7 L248.5,320.8 L248.8,320.9 L249.2,321.2 L249.7,321.8 L250.2,322.8 L250.8,323.8 L251.3,324.8 L251.6,325.5 L253.4,324.5 L253,323.9 L252.6,322.9 L252,321.8 L251.3,320.7 L250.6,319.8 L249.8,319.2 L249,318.9 L248.4,318.7 L247.8,318.6 L247.3,318.4 L246.6,318 L245.7,317.3 L244.8,316.6 L243.6,316 L242.3,315.8 L241,316.3 L240,317.1 L239.1,318.1 L238.2,319 L237.5,319.7 L236.7,320.3 L235.8,320.9 L235,321.5 L234.2,322.1 L233.4,322.7 L232.5,323.5 L231.7,324.2 L231,325 L230.3,325.6 L229.9,326.1 Z" fill="#0808ff" filter="url(#b0)"/>
<path d="M252.9,329.2 L253,329.4 L253.1,329.3 L253.3,329.4 L253.5,330.2 L253.9,331.7 L254.4,334.4 L255.1,338 L255.8,342 L256.5,346.2 L257.2,350.1 L257.9,353.7 L258.7,357.4 L259.4,361.1 L260.2,364.7 L260.9,368.2 L261.8,371.7 L262.6,375.4 L263.5,379 L264.2,382.3 L264.8,385.2 L265.2,387.9 L265.8,390.6 L267,393.6 L269.6,396.2 L273.3,397.2 L277.1,395.9 L279.5,393.1 L280.6,390.4 L281.2,387.9 L281.8,385.5 L282.5,382.9 L283.3,379.9 L284.1,376.7 L284.9,373.4 L285.7,370 L286.5,366.4 L287.3,362.5 L288,358.5 L288.8,354.9 L289.4,351.9 L289.8,349.7 L290,348.1 L290.2,346.9 L290.4,345.7 L290.6,344.3 L290.9,342.6 L291.1,340.9 L291.4,339.1 L291.6,337.4 L291.9,335.7 L292.1,334 L292.4,332.2 L292.6,330.4 L292.8,329 L292.9,327.9 L292.9,327.9 L292.7,329 L292.5,330.4 L292.2,332.1 L291.9,333.9 L291.5,335.6 L291.2,337.3 L290.9,339 L290.5,340.8 L290.2,342.5 L289.8,344.1 L289.5,345.5 L289.2,346.7 L288.9,347.9 L288.5,349.4 L287.8,351.5 L287,354.4 L285.9,358 L284.6,361.7 L283.3,365.5 L281.9,368.7 L280.4,371.7 L278.9,374.7 L277.3,377.3 L275.7,379.6 L274.2,381.1 L272.7,381.9 L271.4,381.9 L270.7,380.8 L271.2,379 L273.1,378.1 L274.9,378.8 L275.6,380.6 L275,382 L273.6,382.2 L272,381.4 L270.4,379.6 L268.8,377 L267.3,373.8 L265.8,370.4 L264.5,367.1 L263.2,363.8 L261.9,360.4 L260.8,356.9 L259.6,353.3 L258.6,349.8 L257.5,346 L256.5,341.9 L255.6,337.9 L254.7,334.4 L254.1,331.7 L253.7,330.1 L253.4,329.4 L253.3,329.1 L253.2,329 L253.1,329 Z" fill="#3b3bff" opacity="0.12" filter="url(#b2)"/>
<path d="M252.7,329.4 L252.9,329.6 L252.9,329.6 L252.9,329.6 L253.2,330.3 L253.6,331.8 L254.1,334.5 L254.8,338 L255.6,342.1 L256.4,346.2 L257.2,350.1 L258,353.7 L258.8,357.4 L259.7,361 L260.5,364.6 L261.4,368 L262.4,371.5 L263.4,375.1 L264.4,378.6 L265.4,381.8 L266.2,384.4 L267,386.7 L267.8,388.7 L269,390.6 L270.8,392.2 L273.3,392.8 L275.7,392.1 L277.5,390.4 L278.6,388.5 L279.4,386.7 L280.3,384.6 L281.2,382.2 L282.1,379.4 L283.2,376.3 L284.2,373.1 L285.1,369.8 L286.1,366.3 L287,362.4 L287.9,358.5 L288.7,354.9 L289.4,351.9 L289.8,349.7 L290.2,348.1 L290.4,346.9 L290.6,345.7 L290.8,344.3 L291.1,342.6 L291.4,340.9 L291.6,339.2 L291.9,337.4 L292.2,335.7 L292.4,334 L292.7,332.2 L292.9,330.5 L293.2,329 L293.3,328 L292.5,327.9 L292.3,328.9 L292.1,330.4 L291.8,332.1 L291.5,333.9 L291.2,335.6 L290.9,337.2 L290.6,339 L290.3,340.7 L289.9,342.4 L289.6,344.1 L289.3,345.5 L289.1,346.6 L288.8,347.8 L288.4,349.4 L287.8,351.5 L287,354.4 L286,358 L284.9,361.8 L283.7,365.6 L282.5,368.9 L281.2,372 L279.8,375 L278.5,377.8 L277.1,380.2 L275.7,382 L274.5,383.2 L273.4,383.7 L272.6,383.6 L272.6,382.9 L273.1,382.4 L273.7,382.8 L273.7,383.5 L273,383.8 L271.9,383.4 L270.6,382.2 L269.2,380.1 L267.9,377.3 L266.5,374.1 L265.2,370.6 L264,367.3 L262.8,363.9 L261.7,360.4 L260.6,356.9 L259.6,353.3 L258.6,349.7 L257.7,345.9 L256.7,341.8 L255.8,337.8 L255.1,334.3 L254.4,331.6 L254,330 L253.8,329.2 L253.5,328.8 L253.3,328.8 L253.3,328.8 Z" fill="#0808ff" filter="url(#b0)"/>
<path d="M294.4,334.9 L295,334.3 L295.8,333.4 L296.7,332.5 L297.6,331.6 L298.4,330.9 L299.3,330.2 L300.3,329.5 L301.4,328.8 L302.4,328.1 L303.2,327.6 L299,321.4 L298.4,321.8 L297.3,322.5 L296.1,323.3 L294.8,324.2 L293.6,325.1 L292.4,326.1 L291.3,327.2 L290.4,328.3 L289.5,329.1 L289,329.7 Z" fill="#3b3bff" opacity="0.2" filter="url(#b2)"/>
<path d="M292.8,333.3 L293.4,332.7 L294.2,331.9 L295.1,330.9 L296,330 L297,329.2 L297.9,328.4 L299.1,327.6 L300.2,326.9 L301.2,326.2 L301.9,325.8 L300.3,323.2 L299.6,323.7 L298.6,324.4 L297.4,325.1 L296.2,326 L295,326.8 L294,327.8 L292.9,328.8 L292,329.8 L291.2,330.7 L290.6,331.3 Z" fill="#0808ff" filter="url(#b0)"/>
<path d="M215.9,291.1 L216.3,292.4 L217,294.4 L217.9,296.8 L218.8,299.2 L219.8,301.2 L220.9,302.9 L222,304.2 L223.2,305.2 L224.2,306 L225.2,306.8 L226.4,307.7 L227.8,308.7 L229.2,309.6 L230.8,310.5 L232.4,311.4 L234.1,312.1 L235.9,312.7 L237.6,313.3 L239.2,313.8 L240.7,314.2 L242.2,314.7 L243.8,315.2 L245.5,315.8 L247.4,316.2 L249.4,316.2 L251.3,315.9 L253,315.1 L254.4,313.9 L255.4,312.6 L256.3,311.2 L257.2,309.4 L258.1,307.2 L258.9,304.9 L259.7,302.6 L260.3,300.4 L260.9,298.1 L261.4,295.8 L261.8,293.6 L262.1,291.7 L262.3,290.5 L254.9,289.1 L254.7,290.5 L254.4,292.3 L254,294.4 L253.6,296.5 L253.1,298.4 L252.5,300.4 L251.8,302.5 L251.1,304.5 L250.4,306.3 L249.7,307.6 L249.2,308.4 L248.9,308.8 L249,308.8 L249.1,308.7 L249,308.8 L248.5,308.7 L247.5,308.5 L246.1,308.1 L244.5,307.5 L242.9,307 L241.3,306.5 L239.7,306.1 L238.2,305.6 L236.8,305.1 L235.6,304.6 L234.4,304 L233.2,303.3 L232,302.5 L230.9,301.7 L229.8,300.8 L228.8,300 L228,299.4 L227.4,298.9 L226.9,298.4 L226.4,297.6 L225.7,296.2 L224.9,294.2 L224.1,292 L223.4,290 L222.9,288.5 Z" fill="#3b3bff" opacity="0.2" filter="url(#b2)"/>
<path d="M218,290.3 L218.5,291.7 L219.2,293.7 L220,296 L220.9,298.3 L221.8,300.1 L222.7,301.5 L223.6,302.6 L224.6,303.5 L225.6,304.2 L226.6,305 L227.8,305.9 L229,306.8 L230.4,307.7 L231.9,308.6 L233.4,309.4 L234.9,310 L236.6,310.6 L238.2,311.1 L239.8,311.6 L241.4,312 L242.9,312.5 L244.5,313.1 L246.1,313.6 L247.8,313.9 L249.3,314 L250.6,313.7 L251.8,313.2 L252.8,312.4 L253.5,311.4 L254.3,310.1 L255.1,308.4 L256,306.4 L256.8,304.2 L257.5,301.9 L258.1,299.8 L258.7,297.6 L259.2,295.4 L259.5,293.2 L259.8,291.4 L260.1,290.1 L257.1,289.5 L256.9,290.8 L256.6,292.7 L256.2,294.8 L255.8,297 L255.3,299 L254.6,301 L253.9,303.2 L253.2,305.3 L252.4,307.2 L251.7,308.7 L251.1,309.7 L250.6,310.4 L250.2,310.7 L249.8,310.9 L249.1,311 L248.2,311 L246.9,310.7 L245.4,310.2 L243.8,309.7 L242.2,309.2 L240.7,308.7 L239.1,308.3 L237.5,307.8 L236,307.2 L234.6,306.6 L233.3,306 L232,305.2 L230.7,304.3 L229.5,303.5 L228.4,302.6 L227.4,301.8 L226.5,301.2 L225.8,300.5 L225.1,299.7 L224.4,298.7 L223.6,297.1 L222.8,294.9 L222,292.7 L221.3,290.7 L220.8,289.3 Z" fill="#0808ff" filter="url(#b0)"/>
<path d="M230.6,316.8 L231.2,316.8 L232,316.8 L233,316.8 L234.1,316.8 L235,316.8 L235.9,316.8 L236.9,316.8 L237.9,316.8 L238.7,316.8 L239.3,316.8 L239.3,311.8 L238.7,311.8 L237.9,311.8 L236.9,311.8 L235.9,311.8 L235,311.8 L234.1,311.8 L233,311.8 L232,311.8 L231.2,311.8 L230.6,311.8 Z" fill="#3b3bff" opacity="0.2" filter="url(#b2)"/>
<path d="M230.6,315.3 L231.2,315.3 L232,315.3 L233,315.3 L234.1,315.3 L235,315.3 L235.9,315.3 L236.9,315.3 L237.9,315.3 L238.7,315.3 L239.3,315.3 L239.3,313.3 L238.7,313.3 L237.9,313.3 L236.9,313.3 L235.9,313.3 L235,313.3 L234.1,313.3 L233,313.3 L232,313.3 L231.2,313.3 L230.6,313.3 Z" fill="#0808ff" filter="url(#b0)"/>
<path d="M279.1,291.9 L279.5,292.3 L279.6,292.4 L279.4,292.1 L279.5,292.3 L279.8,293.3 L280.3,295.2 L281,297.8 L281.7,300.7 L282.4,303.8 L283,306.7 L283.6,309.5 L284.2,312.5 L284.7,315.5 L285.3,318.4 L285.9,321 L286.5,323.3 L287.1,325.4 L287.7,327.3 L288.2,328.8 L288.7,330.2 L289.2,331.3 L289.8,332.3 L290.5,333 L290.8,333.2 L290.8,333.2 L295.2,328.8 L294.8,328.4 L294.7,328.3 L294.8,328.5 L294.8,328.4 L294.5,327.8 L294.1,326.7 L293.6,325.3 L293,323.6 L292.5,321.7 L291.9,319.6 L291.4,317.2 L290.9,314.4 L290.3,311.4 L289.8,308.3 L289.2,305.3 L288.5,302.4 L287.8,299.3 L287,296.3 L286.4,293.6 L285.8,291.5 L285.3,290 L284.7,288.8 L284,287.9 L283.6,287.6 L283.7,287.7 Z" fill="#3b3bff" opacity="0.2" filter="url(#b2)"/>
<path d="M280.5,290.6 L280.7,290.9 L280.9,291 L281,291.1 L281.2,291.6 L281.6,292.8 L282.1,294.7 L282.8,297.3 L283.5,300.3 L284.2,303.3 L284.9,306.3 L285.5,309.1 L286,312.2 L286.6,315.2 L287.1,318 L287.7,320.6 L288.3,322.8 L288.9,324.9 L289.4,326.7 L290,328.2 L290.4,329.5 L290.9,330.4 L291.3,331.1 L291.8,331.6 L292,331.8 L292.1,331.9 L293.9,330.1 L293.6,329.9 L293.4,329.7 L293.3,329.6 L293.1,329.3 L292.8,328.5 L292.3,327.4 L291.8,325.9 L291.2,324.1 L290.7,322.2 L290.1,320 L289.6,317.5 L289,314.7 L288.5,311.7 L287.9,308.7 L287.3,305.7 L286.7,302.8 L285.9,299.7 L285.2,296.7 L284.6,294.1 L284,292 L283.5,290.7 L283.1,289.8 L282.6,289.2 L282.4,289 L282.3,289 Z" fill="#0808ff" filter="url(#b0)"/>
<path d="M317.8,330.6 L318.3,331.5 L319.1,332.6 L320,333.9 L320.9,335.2 L321.5,336.3 L321.9,337.2 L322.4,338.4 L323.3,340 L325,342 L329.2,343.7 L333.5,342.1 L335.3,340.1 L336.2,338.4 L336.7,337.1 L337.2,335.9 L337.9,334.6 L338.8,333 L339.5,331.5 L340.2,330.1 L340.6,329.2 L334.4,324.8 L333.6,325.5 L332.6,326.6 L331.4,327.8 L330.3,329 L329.2,330.1 L328,331.2 L327.1,332.3 L326.4,332.8 L326.6,332.3 L329.4,331.3 L332,332.3 L332.2,332.7 L331.5,332.1 L330.4,331 L329.1,329.7 L327.8,328.7 L326.4,327.7 L325.2,326.7 L324,325.9 L323.2,325.4 Z" fill="#3b3bff" opacity="0.2" filter="url(#b2)"/>
<path d="M319.4,329 L320,329.8 L320.9,330.8 L321.9,332 L322.9,333.3 L323.8,334.3 L324.5,335.3 L325.2,336.5 L326,337.8 L327.1,339.1 L329.3,340 L331.5,339.2 L332.6,337.9 L333.4,336.6 L334.1,335.3 L334.8,334.2 L335.6,332.9 L336.6,331.5 L337.5,330 L338.2,328.8 L338.7,327.9 L336.3,326.1 L335.6,326.9 L334.7,328.1 L333.6,329.4 L332.6,330.7 L331.6,331.8 L330.7,333 L329.8,334.1 L329.1,335 L328.7,335.2 L329.3,335 L329.9,335.2 L329.5,334.9 L328.8,334 L327.8,332.8 L326.8,331.7 L325.7,330.6 L324.5,329.5 L323.3,328.5 L322.3,327.6 L321.6,327 Z" fill="#0808ff" filter="url(#b0)"/>
<path d="M293,326.4 L294.1,326.3 L295.6,326.2 L297.4,326.1 L299.2,326 L301,325.9 L302.8,325.8 L304.6,325.7 L306.4,325.5 L308.2,325.4 L310,325.4 L311.9,325.4 L313.9,325.6 L315.8,325.7 L317.5,325.8 L318.7,325.9 L318.7,325.1 L317.6,325 L315.9,324.9 L313.9,324.8 L311.9,324.6 L310,324.6 L308.2,324.6 L306.4,324.7 L304.5,324.9 L302.7,325 L301,325.1 L299.2,325.2 L297.3,325.3 L295.6,325.4 L294,325.5 L293,325.6 Z" fill="#0808ff" filter="url(#b0)"/>
<path d="M296.7,290.8 L297.1,292.1 L297.6,293.9 L298.2,296 L298.8,298.1 L299.4,300.1 L299.9,301.9 L300.5,303.7 L301,305.6 L301.7,307.5 L302.5,309.2 L303.4,310.7 L304.4,312 L305.5,313.1 L306.7,314 L307.9,314.7 L309.2,315.2 L310.8,315.5 L312.6,315.5 L314.5,314.9 L316.3,313.6 L317.5,311.8 L318.3,310.1 L319,308.4 L319.5,306.8 L320,305.3 L320.6,303.8 L321.1,302.2 L321.7,300.6 L322.2,299.1 L322.6,297.6 L323.2,296.1 L323.7,294.6 L324.2,293.2 L324.6,291.9 L324.9,291 L317.9,288.6 L317.6,289.4 L317.1,290.7 L316.6,292.1 L316.1,293.7 L315.6,295.2 L315,296.7 L314.5,298.2 L314,299.8 L313.5,301.3 L313,302.7 L312.4,304.3 L311.9,305.9 L311.4,307.3 L311,308.2 L310.9,308.4 L311.2,308.2 L311.5,308.1 L311.6,308.1 L311.4,308 L311.1,307.9 L310.7,307.7 L310.4,307.5 L310,307.1 L309.6,306.5 L309.1,305.8 L308.7,304.7 L308.2,303.3 L307.7,301.6 L307.1,299.8 L306.6,297.9 L306,296 L305.4,293.9 L304.8,291.8 L304.3,290 L303.9,288.8 Z" fill="#3b3bff" opacity="0.2" filter="url(#b2)"/>
<path d="M298.9,290.2 L299.2,291.5 L299.7,293.3 L300.3,295.3 L301,297.5 L301.6,299.4 L302.1,301.2 L302.6,303.1 L303.2,304.9 L303.8,306.7 L304.5,308.2 L305.2,309.5 L306.1,310.5 L307,311.4 L307.9,312.1 L308.9,312.7 L309.9,313 L311,313.3 L312.2,313.3 L313.5,312.9 L314.7,312 L315.6,310.8 L316.3,309.3 L316.8,307.7 L317.4,306 L317.9,304.5 L318.5,303 L319,301.4 L319.5,299.9 L320,298.3 L320.5,296.9 L321,295.4 L321.6,293.9 L322.1,292.4 L322.5,291.2 L322.8,290.3 L320,289.3 L319.7,290.2 L319.2,291.4 L318.7,292.9 L318.2,294.4 L317.7,295.9 L317.2,297.4 L316.7,298.9 L316.2,300.5 L315.6,302 L315.1,303.5 L314.5,305.1 L314,306.7 L313.5,308.2 L312.9,309.3 L312.5,310 L312.2,310.2 L311.8,310.3 L311.3,310.3 L310.7,310.2 L310.1,309.9 L309.5,309.6 L308.9,309.2 L308.3,308.6 L307.7,307.8 L307.1,306.8 L306.6,305.6 L306,304 L305.5,302.3 L305,300.4 L304.4,298.6 L303.8,296.6 L303.2,294.5 L302.6,292.4 L302.1,290.6 L301.7,289.4 Z" fill="#0808ff" filter="url(#b0)"/>
<path d="M303.5,323.6 L303.8,323.6 L304.4,323.8 L305.5,323.9 L306.8,323.9 L308.4,323.5 L310,322.8 L311.5,321.9 L312.7,321.1 L313.6,320.7 L313.3,320.6 L312.7,320.4 L312.9,320.7 L313.4,321.5 L313.9,322.4 L314.4,323.2 L319.6,319.8 L319.3,319.2 L318.7,318.2 L317.8,316.9 L316.4,315.4 L313.9,314.4 L311.4,314.8 L309.6,315.7 L308.1,316.6 L307,317.3 L306.4,317.7 L306.2,317.7 L305.9,317.7 L305.5,317.6 L305,317.5 L304.5,317.4 Z" fill="#3b3bff" opacity="0.2" filter="url(#b2)"/>
<path d="M303.8,321.7 L304.2,321.8 L304.8,321.9 L305.6,322 L306.6,322 L307.8,321.8 L309.1,321.2 L310.5,320.3 L311.8,319.5 L312.9,318.9 L313.5,318.7 L313.8,318.9 L314.3,319.5 L315,320.5 L315.5,321.5 L315.9,322.2 L318.1,320.8 L317.7,320.2 L317.1,319.2 L316.3,318 L315.3,316.9 L313.7,316.3 L312.1,316.5 L310.6,317.3 L309.1,318.2 L307.9,319 L307,319.4 L306.4,319.5 L305.8,319.5 L305.2,319.5 L304.7,319.3 L304.2,319.3 Z" fill="#0808ff" filter="url(#b0)"/>
<path d="M339.4,313.3 L340,313.9 L341.1,314.9 L342.4,316 L344.2,317.2 L346.5,318.1 L349,318.1 L350.9,317.6 L352.4,317 L353.4,316.6 L353.9,316.5 L354,316.6 L354.4,316.7 L355.3,317 L356.7,317.3 L358.5,317.3 L360.2,317.1 L361.8,316.7 L363.2,316.2 L364.4,315.8 L365.1,315.6 L362.9,308.4 L362,308.7 L360.9,309.1 L359.7,309.5 L358.6,309.7 L357.9,309.9 L357.7,309.8 L357.3,309.7 L356.4,309.4 L355,309.1 L353.1,309.1 L351.3,309.5 L349.7,310 L348.6,310.5 L347.9,310.7 L347.9,310.7 L347.8,310.6 L347,310.1 L346,309.2 L345,308.3 L344.2,307.7 Z" fill="#3b3bff" opacity="0.2" filter="url(#b2)"/>
<path d="M340.8,311.6 L341.5,312.2 L342.5,313.2 L343.8,314.2 L345.3,315.2 L346.9,315.9 L348.6,315.9 L350.2,315.5 L351.6,314.9 L352.8,314.5 L353.6,314.3 L354.3,314.3 L355,314.5 L355.9,314.8 L357,315 L358.3,315.1 L359.7,314.9 L361.1,314.5 L362.5,314.1 L363.7,313.7 L364.5,313.4 L363.5,310.6 L362.7,310.8 L361.6,311.2 L360.3,311.6 L359.1,311.9 L358.1,312.1 L357.4,312.1 L356.7,311.9 L355.8,311.6 L354.7,311.4 L353.4,311.3 L351.9,311.6 L350.5,312.1 L349.3,312.6 L348.2,312.9 L347.5,312.9 L346.7,312.6 L345.6,311.9 L344.5,310.9 L343.5,310 L342.8,309.4 Z" fill="#0808ff" filter="url(#b0)"/>
<path d="M342.4,317.9 L343.5,318.1 L345,318.5 L346.8,318.9 L348.6,319.2 L350.4,319.4 L352,319.4 L353.7,319.2 L355.3,319 L356.8,318.8 L358.2,318.7 L359.5,318.8 L360.9,318.9 L362.1,319.1 L363.2,319.3 L363.9,319.4 L364.1,318.6 L363.3,318.5 L362.3,318.3 L361,318.1 L359.6,318 L358.2,317.9 L356.7,318 L355.2,318.2 L353.6,318.4 L352,318.6 L350.4,318.6 L348.8,318.4 L346.9,318.1 L345.2,317.7 L343.7,317.3 L342.6,317.1 Z" fill="#0808ff" filter="url(#b0)"/>
<line x1="209.2" y1="324.1" x2="364" y2="324.1" stroke="#9a9a9a" stroke-width="0.85" stroke-dasharray="2.6,1.8"/>
<path d="M209.2,392.4 C210.1,390.9 213,387.7 214.7,383.7 C216.4,379.7 217.9,373.8 219.5,368.4 C221.1,363 222.9,356.5 224.3,351.1 C225.7,345.7 227.2,339.2 228.1,335.8 C229,332.4 229.2,332.7 230,331 C230.8,329.3 231.8,327 233.1,325.5 C234.4,324 236.6,322.7 238.1,321.8 C239.6,320.9 240.4,319.8 241.8,319.9 C243.2,320 245.4,321.8 246.8,322.4 C248.2,323 249.5,322.5 250.5,323.6 C251.5,324.7 252.4,327.8 253,329.2 C253.6,330.6 253.2,328.2 254,331.9 C254.8,335.5 256.4,344.7 257.9,351.1 C259.3,357.5 260.9,364.2 262.7,370.3 C264.4,376.4 266.6,383.9 268.4,387.6 C270.1,391.3 271.6,392.4 273.2,392.4 C274.8,392.4 276.2,391 278,387.6 C279.8,384.2 282,378 283.8,372.2 C285.6,366.4 287.5,357.5 288.6,353 C289.7,348.5 289.7,347.8 290.2,345 C290.7,342.2 291.2,338.8 291.7,336 C292.1,333.2 292.7,329.3 292.9,328" fill="none" stroke="#111" stroke-width="1.1" stroke-linejoin="round"/>
<path d="M213.8,289.8 C214.7,291.4 217.6,296.3 219.4,299.4 C221.2,302.4 222.7,305.8 224.4,308.1 C226.1,310.4 227.5,312 229.4,313.1 C231.3,314.2 233.3,314.5 235.6,315 C237.9,315.5 240.9,315.9 243,316.2 C245.1,316.5 246.6,317.1 248,316.8 C249.4,316.5 250.5,315.8 251.7,314.3 C252.9,312.9 254.2,310.4 255.4,308.1 C256.6,305.8 258.1,303.8 259.2,300.7 C260.3,297.6 261.5,291.6 262,289.8" fill="none" stroke="#111" stroke-width="1.1" stroke-linejoin="round"/>
<path d="M219.4,289.8 C220,291.4 221.8,296.9 223.1,299.4 C224.4,301.9 225.8,303.3 227.5,305 C229.2,306.7 231,308.5 233,309.5 C235,310.5 237.3,310.6 239.3,311.2 C241.3,311.8 243.4,312.8 245,313 C246.6,313.2 247.7,313.1 249,312.5 C250.3,311.9 251.7,311.6 253,309.4 C254.3,307.2 255.8,302.7 256.7,299.4 C257.6,296.1 258.3,291.4 258.6,289.8" fill="none" stroke="#111" stroke-width="1.1" stroke-linejoin="round"/>
<path d="M230.6,314.3 C231.3,314.3 233.6,314.3 235,314.3 C236.4,314.3 238.6,314.3 239.3,314.3" fill="none" stroke="#111" stroke-width="1.1" stroke-linejoin="round"/>
<path d="M230.6,327.5 C231.2,326.8 232.8,324.8 234,323.5 C235.2,322.2 236.6,321 238.1,319.9 C239.6,318.8 241.5,317.2 243,316.8 C244.5,316.4 245.8,316.9 247,317.5 C248.2,318.1 249.6,319.5 250.5,320.5 C251.4,321.5 252.2,323 252.5,323.5" fill="none" stroke="#111" stroke-width="1.1" stroke-linejoin="round"/>
<path d="M280.8,289.8 C281,290.7 281.1,292.3 282,295 C282.9,297.7 285.1,302.2 286.3,305.8 C287.5,309.4 288.4,313.4 289.4,316.7 C290.4,319.9 291.5,323.7 292.5,325.3 C293.5,326.9 294.3,326 295.6,326.1 C296.9,326.2 297.9,326.2 300.3,326.1 C302.7,326.1 307.1,325.9 310,325.8 C312.9,325.7 315.7,324.6 317.5,325.3 C319.3,326 319.4,328.1 320.7,330 C322,331.9 323.9,335.1 325.3,337 C326.7,338.9 327.9,341.7 329.3,341.7 C330.7,341.7 332.5,339.6 333.9,337 C335.3,334.4 336.4,328.4 337.9,326.1 C339.4,323.9 341,324.1 343,323.5 C345,322.9 348,322.6 350,322.5 C352,322.4 353.5,322.3 355.1,323 C356.7,323.7 358.2,325.3 359.7,326.9 C361.2,328.4 363.3,331.4 364,332.3" fill="none" stroke="#111" stroke-width="1.1" stroke-linejoin="round"/>
<path d="M295.6,289.8 C296.4,291.4 298.7,296.3 300.3,299.5 C301.9,302.7 303.6,306.9 305,308.9 C306.4,310.8 307.3,311.7 308.9,311.2 C310.5,310.7 312.4,308.5 314.4,305.8 C316.4,303.1 319.1,297.5 320.7,294.8 C322.3,292.1 323.3,290.6 323.8,289.8" fill="none" stroke="#111" stroke-width="1.1" stroke-linejoin="round"/>
<path d="M308.9,311.2 C308.1,312.2 305.6,315.7 304.2,317.5 C302.8,319.3 301.7,320.9 300.3,322.2 C298.9,323.5 296.8,324.5 295.6,325.3 C294.4,326.1 293.3,326.7 292.9,327" fill="none" stroke="#111" stroke-width="1.1" stroke-linejoin="round"/>
<path d="M304.2,317.5 C305,317.1 307.4,315.6 309,315 C310.6,314.4 312.4,313.1 313.6,313.6 C314.8,314.1 315.2,316.3 316,318 C316.8,319.7 317.9,322.8 318.3,323.7" fill="none" stroke="#111" stroke-width="1.1" stroke-linejoin="round"/>
<path d="M303.5,319.8 C304.4,319.4 307.3,318.1 309,317.5 C310.7,316.9 312.4,315.5 313.6,315.9 C314.8,316.3 315.4,318.6 316,320 C316.6,321.4 317.2,323.8 317.5,324.5" fill="none" stroke="#111" stroke-width="1.1" stroke-linejoin="round"/>
<path d="M336.3,289.8 C336.8,291.4 338.5,296.3 339.4,299.5 C340.3,302.7 340.5,307.2 341.8,308.9 C343.1,310.6 345,309.7 347.2,309.7 C349.4,309.7 352.8,309.3 355.1,308.9 C357.5,308.5 359.8,307.7 361.3,307.3 C362.8,306.9 363.6,306.6 364,306.5" fill="none" stroke="#111" stroke-width="1.1" stroke-linejoin="round"/>
<path d="M342.5,317.5 C343.8,317.8 347.8,318.9 350.4,319 C353,319.1 355.9,318.3 358.2,318.3 C360.5,318.3 363,318.9 364,319" fill="none" stroke="#111" stroke-width="1.1" stroke-linejoin="round"/>
<circle cx="210.9" cy="380.9" r="0.9" fill="#f00"/>
<circle cx="214.4" cy="376.4" r="0.9" fill="#f00"/>
<circle cx="217.9" cy="367.9" r="0.9" fill="#f00"/>
<circle cx="221.4" cy="357.7" r="0.9" fill="#f00"/>
<circle cx="224.9" cy="346.5" r="0.9" fill="#f00"/>
<circle cx="228.4" cy="334.1" r="0.9" fill="#f00"/>
<circle cx="231.9" cy="327.3" r="0.9" fill="#f00"/>
<circle cx="232.3" cy="325" r="0.9" fill="#f00"/>
<circle cx="235.8" cy="322.1" r="0.9" fill="#f00"/>
<circle cx="239.3" cy="319.3" r="0.9" fill="#f00"/>
<circle cx="242.8" cy="316.8" r="0.9" fill="#f00"/>
<circle cx="246.3" cy="319" r="0.9" fill="#f00"/>
<circle cx="249.8" cy="320.5" r="0.9" fill="#f00"/>
<circle cx="254.8" cy="334.8" r="0.9" fill="#f00"/>
<circle cx="258.2" cy="350.1" r="0.9" fill="#f00"/>
<circle cx="261.8" cy="362.1" r="0.9" fill="#f00"/>
<circle cx="265.2" cy="372" r="0.9" fill="#f00"/>
<circle cx="268.8" cy="379.6" r="0.9" fill="#f00"/>
<circle cx="272.2" cy="382.7" r="0.9" fill="#f00"/>
<circle cx="275.8" cy="381.8" r="0.9" fill="#f00"/>
<circle cx="279.2" cy="376.9" r="0.9" fill="#f00"/>
<circle cx="282.8" cy="369.3" r="0.9" fill="#f00"/>
<circle cx="286.2" cy="358.9" r="0.9" fill="#f00"/>
<circle cx="289.8" cy="345.7" r="0.9" fill="#f00"/>
<circle cx="221.2" cy="294.8" r="0.9" fill="#f00"/>
<circle cx="224.7" cy="301.5" r="0.9" fill="#f00"/>
<circle cx="228.2" cy="304.3" r="0.9" fill="#f00"/>
<circle cx="231.7" cy="306.7" r="0.9" fill="#f00"/>
<circle cx="235.2" cy="308.5" r="0.9" fill="#f00"/>
<circle cx="238.7" cy="309.7" r="0.9" fill="#f00"/>
<circle cx="242.2" cy="310.7" r="0.9" fill="#f00"/>
<circle cx="245.7" cy="311.9" r="0.9" fill="#f00"/>
<circle cx="249.2" cy="312.5" r="0.9" fill="#f00"/>
<circle cx="252.7" cy="310" r="0.9" fill="#f00"/>
<circle cx="256.1" cy="301.2" r="0.9" fill="#f00"/>
<circle cx="232.1" cy="314.3" r="0.9" fill="#f00"/>
<circle cx="235.1" cy="314.3" r="0.9" fill="#f00"/>
<circle cx="238.1" cy="314.3" r="0.9" fill="#f00"/>
<circle cx="283.1" cy="293.7" r="0.9" fill="#f00"/>
<circle cx="286.6" cy="308.7" r="0.9" fill="#f00"/>
<circle cx="290.1" cy="324.8" r="0.9" fill="#f00"/>
<circle cx="322.5" cy="330.1" r="0.9" fill="#f00"/>
<circle cx="326.5" cy="334.6" r="0.9" fill="#f00"/>
<circle cx="330.5" cy="336.8" r="0.9" fill="#f00"/>
<circle cx="334.5" cy="331.3" r="0.9" fill="#f00"/>
<circle cx="295.2" cy="325.9" r="0.9" fill="#f00"/>
<circle cx="299.8" cy="325.6" r="0.9" fill="#f00"/>
<circle cx="304.2" cy="325.3" r="0.9" fill="#f00"/>
<circle cx="308.8" cy="325" r="0.9" fill="#f00"/>
<circle cx="313.2" cy="325.1" r="0.9" fill="#f00"/>
<circle cx="317.8" cy="325.4" r="0.9" fill="#f00"/>
<circle cx="303.1" cy="299.2" r="0.9" fill="#f00"/>
<circle cx="308.6" cy="310.8" r="0.9" fill="#f00"/>
<circle cx="314.1" cy="310.4" r="0.9" fill="#f00"/>
<circle cx="319.6" cy="295.1" r="0.9" fill="#f00"/>
<circle cx="307" cy="320.7" r="0.9" fill="#f00"/>
<circle cx="313" cy="317.6" r="0.9" fill="#f00"/>
<circle cx="344.3" cy="312.7" r="0.9" fill="#f00"/>
<circle cx="349.3" cy="314.2" r="0.9" fill="#f00"/>
<circle cx="354.3" cy="312.8" r="0.9" fill="#f00"/>
<circle cx="359.3" cy="313.4" r="0.9" fill="#f00"/>
<path d="M269.8,382.6 L276.6,389.4 M269.8,389.4 L276.6,382.6" stroke="#f7a51c" stroke-width="1.9" stroke-linecap="butt"/>
<path d="M269.8,376.9 L276.6,383.7 M269.8,383.7 L276.6,376.9" stroke="#40e0d0" stroke-width="1.9" stroke-linecap="butt"/>
</g>
<rect x="209.2" y="289.8" width="154.8" height="120.2" fill="none" stroke="#222" stroke-width="0.9"/>
<line x1="206.6" y1="410" x2="209.2" y2="410" stroke="#222" stroke-width="0.9"/>
<text x="204.6" y="412.5" font-family="'DejaVu Sans','Liberation Sans',sans-serif" font-size="7.2" fill="#000" stroke="#000" stroke-width="0.2" text-anchor="end">−5</text>
<line x1="206.6" y1="392.8" x2="209.2" y2="392.8" stroke="#222" stroke-width="0.9"/>
<text x="204.6" y="395.3" font-family="'DejaVu Sans','Liberation Sans',sans-serif" font-size="7.2" fill="#000" stroke="#000" stroke-width="0.2" text-anchor="end">−4</text>
<line x1="206.6" y1="375.7" x2="209.2" y2="375.7" stroke="#222" stroke-width="0.9"/>
<text x="204.6" y="378.2" font-family="'DejaVu Sans','Liberation Sans',sans-serif" font-size="7.2" fill="#000" stroke="#000" stroke-width="0.2" text-anchor="end">−3</text>
<line x1="206.6" y1="358.5" x2="209.2" y2="358.5" stroke="#222" stroke-width="0.9"/>
<text x="204.6" y="361" font-family="'DejaVu Sans','Liberation Sans',sans-serif" font-size="7.2" fill="#000" stroke="#000" stroke-width="0.2" text-anchor="end">−2</text>
<line x1="206.6" y1="341.3" x2="209.2" y2="341.3" stroke="#222" stroke-width="0.9"/>
<text x="204.6" y="343.8" font-family="'DejaVu Sans','Liberation Sans',sans-serif" font-size="7.2" fill="#000" stroke="#000" stroke-width="0.2" text-anchor="end">−1</text>
<line x1="206.6" y1="324.1" x2="209.2" y2="324.1" stroke="#222" stroke-width="0.9"/>
<text x="204.6" y="326.6" font-family="'DejaVu Sans','Liberation Sans',sans-serif" font-size="7.2" fill="#000" stroke="#000" stroke-width="0.2" text-anchor="end">0</text>
<line x1="206.6" y1="307" x2="209.2" y2="307" stroke="#222" stroke-width="0.9"/>
<text x="204.6" y="309.5" font-family="'DejaVu Sans','Liberation Sans',sans-serif" font-size="7.2" fill="#000" stroke="#000" stroke-width="0.2" text-anchor="end">1</text>
<line x1="206.6" y1="289.8" x2="209.2" y2="289.8" stroke="#222" stroke-width="0.9"/>
<text x="204.6" y="292.3" font-family="'DejaVu Sans','Liberation Sans',sans-serif" font-size="7.2" fill="#000" stroke="#000" stroke-width="0.2" text-anchor="end">2</text>
<line x1="209.2" y1="410" x2="209.2" y2="412.6" stroke="#222" stroke-width="0.9"/>
<text x="209.2" y="422.1" font-family="'DejaVu Sans','Liberation Sans',sans-serif" font-size="9.7" fill="#000" stroke="#000" stroke-width="0.15" text-anchor="middle">Γ</text>
<line x1="231.5" y1="410" x2="231.5" y2="412.6" stroke="#222" stroke-width="0.9"/>
<text x="231.5" y="422.1" font-family="'DejaVu Sans','Liberation Sans',sans-serif" font-size="9.7" fill="#000" stroke="#000" stroke-width="0.15" text-anchor="middle">X</text>
<line x1="242" y1="410" x2="242" y2="412.6" stroke="#222" stroke-width="0.9"/>
<text x="242" y="422.1" font-family="'DejaVu Sans','Liberation Sans',sans-serif" font-size="9.7" fill="#000" stroke="#000" stroke-width="0.15" text-anchor="middle">W</text>
<line x1="249.7" y1="410" x2="249.7" y2="412.6" stroke="#222" stroke-width="0.9"/>
<text x="249.7" y="422.1" font-family="'DejaVu Sans','Liberation Sans',sans-serif" font-size="9.7" fill="#000" stroke="#000" stroke-width="0.15" text-anchor="middle">K</text>
<line x1="272.9" y1="410" x2="272.9" y2="412.6" stroke="#222" stroke-width="0.9"/>
<text x="272.9" y="422.1" font-family="'DejaVu Sans','Liberation Sans',sans-serif" font-size="9.7" fill="#000" stroke="#000" stroke-width="0.15" text-anchor="middle">Γ</text>
<line x1="292.2" y1="410" x2="292.2" y2="412.6" stroke="#222" stroke-width="0.9"/>
<text x="292.2" y="422.1" font-family="'DejaVu Sans','Liberation Sans',sans-serif" font-size="9.7" fill="#000" stroke="#000" stroke-width="0.15" text-anchor="middle">L</text>
<line x1="305.3" y1="410" x2="305.3" y2="412.6" stroke="#222" stroke-width="0.9"/>
<text x="305.3" y="422.1" font-family="'DejaVu Sans','Liberation Sans',sans-serif" font-size="9.7" fill="#000" stroke="#000" stroke-width="0.15" text-anchor="middle">U</text>
<line x1="313.5" y1="410" x2="313.5" y2="412.6" stroke="#222" stroke-width="0.9"/>
<text x="313.5" y="422.1" font-family="'DejaVu Sans','Liberation Sans',sans-serif" font-size="9.7" fill="#000" stroke="#000" stroke-width="0.15" text-anchor="middle">W</text>
<line x1="329" y1="410" x2="329" y2="412.6" stroke="#222" stroke-width="0.9"/>
<text x="329" y="422.1" font-family="'DejaVu Sans','Liberation Sans',sans-serif" font-size="9.7" fill="#000" stroke="#000" stroke-width="0.15" text-anchor="middle">L</text>
<line x1="342.1" y1="410" x2="342.1" y2="412.6" stroke="#222" stroke-width="0.9"/>
<text x="342.1" y="422.1" font-family="'DejaVu Sans','Liberation Sans',sans-serif" font-size="9.7" fill="#000" stroke="#000" stroke-width="0.15" text-anchor="middle">K</text>
<line x1="356" y1="410" x2="356" y2="412.6" stroke="#222" stroke-width="0.9"/>
<text x="356" y="422.1" font-family="'DejaVu Sans','Liberation Sans',sans-serif" font-size="9.7" fill="#000" stroke="#000" stroke-width="0.15" text-anchor="middle">U</text>
<line x1="363.4" y1="410" x2="363.4" y2="412.6" stroke="#222" stroke-width="0.9"/>
<text x="363.4" y="422.1" font-family="'DejaVu Sans','Liberation Sans',sans-serif" font-size="9.7" fill="#000" stroke="#000" stroke-width="0.15" text-anchor="middle">X</text>
<text x="361" y="404.8" font-family="'DejaVu Sans','Liberation Sans',sans-serif" font-size="11.1" fill="#000" stroke="#000" stroke-width="0.1" text-anchor="end">fcc Ca</text>
<g clip-path="url(#c8)">
<ellipse cx="461.5" cy="392" rx="7" ry="10" fill="#3a3aff" opacity="0.2" filter="url(#b3)"/>
<ellipse cx="391" cy="392" rx="5" ry="10" fill="#3a3aff" opacity="0.2" filter="url(#b3)"/>
<ellipse cx="530" cy="366" rx="6" ry="6" fill="#3a3aff" opacity="0.2" filter="url(#b2)"/>
<ellipse cx="470.8" cy="355" rx="3.5" ry="3.5" fill="#3a3aff" opacity="0.35" filter="url(#b1)"/>
<path d="M399,289.8 L415,289.8 L410.5,307 L405,302 Z" fill="#3a3aff" opacity="0.3" filter="url(#b2)"/>
<path d="M474,289.8 L523,289.8 L516,309 L505,303 L498.5,289.8 L491,303 L483,309 Z" fill="#3a3aff" opacity="0.25" filter="url(#b2)"/>
<path d="M492,289.8 L505,289.8 L498.5,305 Z" fill="#3a3aff" opacity="0.45" filter="url(#b2)"/>
<path d="M424,289.8 L442,289.8 L433,312 Z" fill="#3a3aff" opacity="0.2" filter="url(#b2)"/>
<path d="M536,289.8 L544,289.8 L544,300 L538,296 Z" fill="#3a3aff" opacity="0.4" filter="url(#b2)"/>
<path d="M440,289.8 L452,289.8 L446,298 L441,296 Z" fill="#3a3aff" opacity="0.45" filter="url(#b2)"/>
<line x1="389.5" y1="289.8" x2="389.5" y2="410" stroke="#ececec" stroke-width="0.5"/>
<line x1="419.6" y1="289.8" x2="419.6" y2="410" stroke="#ececec" stroke-width="0.5"/>
<line x1="445.9" y1="289.8" x2="445.9" y2="410" stroke="#ececec" stroke-width="0.5"/>
<line x1="461.6" y1="289.8" x2="461.6" y2="410" stroke="#ececec" stroke-width="0.5"/>
<line x1="469.1" y1="289.8" x2="469.1" y2="410" stroke="#ececec" stroke-width="0.5"/>
<line x1="499.6" y1="289.8" x2="499.6" y2="410" stroke="#ececec" stroke-width="0.5"/>
<line x1="529.5" y1="289.8" x2="529.5" y2="410" stroke="#ececec" stroke-width="0.5"/>
<line x1="544" y1="289.8" x2="544" y2="410" stroke="#ececec" stroke-width="0.5"/>
<line x1="389.5" y1="410" x2="544" y2="410" stroke="#ececec" stroke-width="0.5"/>
<line x1="389.5" y1="383.3" x2="544" y2="383.3" stroke="#ececec" stroke-width="0.5"/>
<line x1="389.5" y1="356.6" x2="544" y2="356.6" stroke="#ececec" stroke-width="0.5"/>
<line x1="389.5" y1="329.9" x2="544" y2="329.9" stroke="#ececec" stroke-width="0.5"/>
<line x1="389.5" y1="303.2" x2="544" y2="303.2" stroke="#ececec" stroke-width="0.5"/>
<path d="M393.3,383.6 L393.8,382.1 L394.5,380 L395.1,377.2 L395.6,374 L395.8,370.6 L396.1,366.8 L396.5,362.5 L396.9,358 L397.4,354 L397.8,350.9 L398.2,349.2 L398.6,348.6 L398.8,348.4 L398.8,347.7 L398.9,346.3 L399.3,343.8 L399.7,340.6 L400.2,337 L400.8,333.6 L401.4,330.6 L402.1,328.1 L402.8,325.9 L403.5,323.9 L404.3,322.2 L405,320.5 L405.7,319 L406.5,317.8 L407.3,316.7 L408,315.7 L408.6,314.6 L409.1,313.6 L409.6,312.6 L410,311.7 L410.4,310.7 L410.8,309.5 L411.2,308.1 L411.7,306.5 L412.1,304.9 L412.6,303.2 L413,301.5 L413.5,299.7 L414,297.8 L414.4,295.9 L414.9,294.2 L415.2,292.8 L415.4,291.8 L415.6,291 L415.7,290.5 L415.8,290.1 L415.9,289.8 L415.9,289.8 L415.8,290.1 L415.7,290.5 L415.6,291 L415.4,291.8 L415.2,292.8 L414.9,294.2 L414.4,295.9 L414,297.8 L413.5,299.7 L413,301.5 L412.6,303.2 L412.1,304.9 L411.7,306.5 L411.2,308.1 L410.8,309.5 L410.4,310.7 L410,311.7 L409.6,312.6 L409.1,313.6 L408.6,314.6 L408,315.7 L407.3,316.7 L406.5,317.8 L405.7,319 L405,320.5 L404.3,322.2 L403.5,323.9 L402.8,325.9 L402.1,328.1 L401.4,330.6 L400.7,333.6 L400,337 L399.3,340.5 L398.6,343.6 L398.1,346.1 L397.6,347.3 L397.1,347.6 L397,348 L396.9,348.9 L396.6,350.7 L396,353.7 L395.2,357.7 L394.3,362.1 L393.2,366.3 L392,369.7 L390.5,372.4 L389,374.8 L387.5,377.1 L386.4,379 L385.7,380.5 Z" fill="#3b3bff" opacity="0.12" filter="url(#b2)"/>
<path d="M391.8,383 L392.3,381.5 L393.1,379.4 L393.9,376.7 L394.7,373.7 L395.3,370.5 L395.8,366.8 L396.3,362.4 L396.9,358 L397.4,354 L397.9,350.9 L398.3,349.2 L398.5,348.6 L398.7,348.4 L398.9,347.7 L399.1,346.3 L399.5,343.8 L400,340.6 L400.6,337.1 L401.2,333.7 L401.8,330.7 L402.5,328.2 L403.2,326 L403.9,324.1 L404.6,322.3 L405.4,320.7 L406.1,319.2 L406.8,318 L407.6,316.9 L408.3,315.9 L408.9,314.8 L409.5,313.8 L409.9,312.8 L410.4,311.9 L410.8,310.8 L411.2,309.6 L411.6,308.2 L412.1,306.6 L412.5,305 L412.9,303.3 L413.4,301.6 L413.9,299.8 L414.3,297.9 L414.8,296 L415.2,294.3 L415.6,292.9 L415.8,291.9 L416,291.1 L416.1,290.6 L416.2,290.2 L416.3,289.9 L415.5,289.7 L415.4,290 L415.4,290.4 L415.2,291 L415.1,291.7 L414.8,292.7 L414.5,294.1 L414,295.8 L413.6,297.7 L413.1,299.6 L412.6,301.4 L412.2,303.1 L411.7,304.8 L411.3,306.4 L410.9,308 L410.4,309.4 L410,310.6 L409.6,311.6 L409.2,312.5 L408.8,313.4 L408.3,314.4 L407.6,315.4 L406.9,316.5 L406.2,317.6 L405.4,318.8 L404.6,320.3 L403.9,322 L403.2,323.8 L402.4,325.8 L401.7,328 L401,330.5 L400.3,333.5 L399.7,336.9 L399,340.4 L398.4,343.6 L397.9,346 L397.5,347.3 L397.2,347.7 L397,348 L396.9,348.9 L396.5,350.6 L395.9,353.7 L395.3,357.8 L394.4,362.1 L393.5,366.3 L392.5,369.8 L391.4,372.7 L390.1,375.3 L388.9,377.6 L387.9,379.6 L387.2,381.1 Z" fill="#0808ff" filter="url(#b0)"/>
<path d="M394.3,291.1 L394.7,292.3 L395.2,294.1 L395.9,296.3 L396.6,298.5 L397.5,300.5 L398.4,302.1 L399.4,303.5 L400.4,304.6 L401.3,305.5 L402.2,306.4 L403.5,307.2 L404.7,307.7 L405.5,307.9 L405.8,307.8 L405.9,307.8 L406.1,307.9 L406.5,308.3 L406.9,309 L407.4,309.8 L407.9,310.6 L408.4,311.4 L409,312.3 L409.5,313.3 L410.1,314.4 L411.5,315.3 L411.9,316.6 L412.3,317.9 L412.7,319.3 L413.1,320.8 L413.5,322.3 L413.9,323.8 L414.3,325.5 L414.7,327.2 L415.1,328.8 L415.5,330.3 L415.9,331.6 L416.3,332.7 L416.7,333.8 L417.1,334.7 L417.4,335.4 L417.7,336 L418,336.5 L418.4,336.9 L418.9,337.2 L419.5,337.3 L420.1,337.2 L420.6,336.9 L421,336.5 L421.3,336 L421.6,335.4 L421.9,334.7 L422.3,333.8 L422.7,332.7 L423.1,331.6 L423.5,330.3 L423.9,328.8 L424.3,327.3 L424.7,325.6 L425.1,323.9 L425.5,322.2 L425.9,320.6 L426.3,319 L426.7,317.4 L427.1,315.8 L427.5,314.2 L428.8,312.8 L429.4,311.2 L429.9,309.6 L430.4,308.1 L430.9,306.7 L431.5,305.6 L432.1,304.7 L432.7,303.7 L433.4,302.5 L434.1,301.1 L434.7,299.4 L435.3,297.4 L435.9,295.4 L436.4,293.7 L436.9,292.4 L437,291.6 L437.1,291.2 L437.2,291.1 L437.2,291 L437.2,290.9 L428.8,288.7 L428.7,288.8 L428.7,288.9 L428.7,289.1 L428.5,289.6 L428.3,290.4 L428.1,291.8 L427.9,293.6 L427.5,295.6 L427.2,297.5 L426.9,299.1 L426.8,300.3 L426.6,301.5 L426.5,302.6 L426.3,303.9 L426.1,305.3 L425.8,306.9 L425.5,308.5 L425.2,310.2 L425,311.9 L425.5,313.8 L425.1,315.4 L424.7,317 L424.3,318.6 L423.9,320.2 L423.5,321.8 L423.1,323.4 L422.7,325.1 L422.3,326.8 L421.9,328.3 L421.5,329.7 L421.2,330.9 L420.8,332.1 L420.4,333.1 L420.1,333.9 L419.8,334.6 L419.6,335 L419.4,335.3 L419.3,335.4 L419.4,335.3 L419.5,335.3 L419.6,335.3 L419.7,335.4 L419.6,335.3 L419.4,335 L419.2,334.6 L418.9,333.9 L418.6,333.1 L418.2,332.1 L417.8,330.9 L417.5,329.7 L417.1,328.3 L416.7,326.7 L416.3,325 L415.9,323.3 L415.5,321.7 L415.1,320.2 L414.6,318.8 L414.2,317.4 L413.8,316 L413.5,314.7 L414.2,313.2 L414.1,312 L414,310.8 L413.9,309.6 L413.7,308.4 L413.4,307.3 L413.1,306.2 L412.7,305.1 L412.2,303.9 L411.3,302.6 L410.2,301.5 L409,300.7 L408.3,300.2 L408,299.9 L407.8,299.6 L407.3,299.1 L406.7,298.6 L406.2,298 L405.8,297.4 L405.3,296.7 L404.8,295.5 L404.2,293.6 L403.6,291.6 L403.1,289.8 L402.7,288.5 Z" fill="#3b3bff" opacity="0.2" filter="url(#b2)"/>
<path d="M396.8,290.3 L397.2,291.6 L397.7,293.4 L398.4,295.5 L399.1,297.6 L399.8,299.4 L400.6,300.7 L401.4,301.9 L402.3,302.8 L403.1,303.6 L403.9,304.3 L404.8,305 L405.8,305.4 L406.6,305.7 L407.1,305.9 L407.5,306.2 L407.9,306.7 L408.4,307.4 L408.8,308.1 L409.2,309 L409.6,309.9 L410.1,310.9 L410.5,311.8 L410.9,312.9 L411.3,314 L412.1,315.1 L412.5,316.4 L412.9,317.8 L413.3,319.2 L413.7,320.6 L414.1,322.1 L414.5,323.7 L414.9,325.4 L415.3,327.1 L415.7,328.7 L416.1,330.1 L416.5,331.4 L416.9,332.5 L417.3,333.6 L417.6,334.4 L417.9,335.2 L418.2,335.7 L418.5,336.2 L418.8,336.5 L419.1,336.6 L419.5,336.7 L419.9,336.6 L420.2,336.5 L420.5,336.2 L420.8,335.7 L421.1,335.2 L421.4,334.4 L421.7,333.6 L422.1,332.5 L422.5,331.4 L422.9,330.1 L423.3,328.7 L423.7,327.1 L424.1,325.4 L424.5,323.7 L424.9,322.1 L425.3,320.5 L425.7,318.9 L426.1,317.3 L426.5,315.7 L426.9,314.1 L427.7,312.6 L428.1,310.9 L428.6,309.3 L429,307.7 L429.5,306.3 L429.9,305.1 L430.4,304 L430.9,303 L431.4,301.9 L431.9,300.5 L432.4,298.8 L433,296.9 L433.5,294.9 L433.9,293.1 L434.3,291.8 L434.5,291 L434.6,290.6 L434.6,290.4 L434.7,290.4 L434.7,290.2 L431.3,289.4 L431.3,289.4 L431.3,289.5 L431.2,289.7 L431.1,290.2 L430.9,291 L430.6,292.3 L430.3,294.1 L429.9,296.1 L429.4,298 L429.1,299.7 L428.8,301 L428.5,302.1 L428.2,303.2 L427.9,304.4 L427.5,305.7 L427.2,307.2 L426.8,308.8 L426.5,310.5 L426.1,312.2 L426.1,313.9 L425.7,315.5 L425.3,317.1 L424.9,318.7 L424.5,320.3 L424.1,321.9 L423.7,323.6 L423.3,325.3 L422.9,326.9 L422.5,328.5 L422.1,329.9 L421.7,331.1 L421.4,332.3 L421,333.3 L420.6,334.1 L420.3,334.8 L420.1,335.3 L419.9,335.7 L419.7,335.8 L419.6,335.9 L419.5,335.9 L419.4,335.9 L419.3,335.8 L419.1,335.7 L418.9,335.3 L418.7,334.8 L418.4,334.1 L418,333.3 L417.6,332.3 L417.3,331.1 L416.9,329.9 L416.5,328.5 L416.1,326.9 L415.7,325.2 L415.3,323.5 L414.9,321.9 L414.5,320.4 L414.1,318.9 L413.7,317.5 L413.3,316.2 L412.9,314.9 L413,313.6 L412.7,312.4 L412.5,311.2 L412.3,310.1 L412,309.1 L411.6,308 L411.3,307 L410.8,306.1 L410.3,305.1 L409.7,304.2 L408.9,303.4 L408,302.8 L407.2,302.4 L406.6,302.1 L406.1,301.7 L405.5,301.1 L404.8,300.4 L404.2,299.7 L403.6,298.9 L403,297.8 L402.4,296.4 L401.7,294.4 L401.1,292.4 L400.6,290.6 L400.2,289.3 Z" fill="#0808ff" filter="url(#b0)"/>
<path d="M414.4,310.5 L414.8,309.5 L415.4,308 L416,306.2 L416.6,304.4 L417.2,302.6 L417.7,300.8 L418.2,298.9 L418.7,297 L419.1,295.2 L419.4,293.8 L419.7,292.8 L419.9,292 L420,291.5 L420.1,291.1 L420.2,290.8 L411.6,288.8 L411.6,289.2 L411.5,289.6 L411.4,290.1 L411.2,290.8 L411,291.8 L410.6,293.1 L410.2,294.8 L409.7,296.7 L409.2,298.6 L408.8,300.4 L408.4,302.2 L408,304 L407.7,305.8 L407.4,307.4 L407.2,308.5 Z" fill="#3b3bff" opacity="0.2" filter="url(#b2)"/>
<path d="M412.2,309.9 L412.6,308.8 L413.1,307.3 L413.6,305.6 L414.2,303.7 L414.7,301.9 L415.2,300.1 L415.6,298.2 L416.1,296.3 L416.6,294.6 L416.9,293.2 L417.1,292.2 L417.3,291.4 L417.5,290.9 L417.5,290.5 L417.6,290.2 L414.2,289.4 L414.1,289.7 L414,290.1 L413.9,290.7 L413.7,291.4 L413.5,292.4 L413.2,293.8 L412.7,295.5 L412.3,297.4 L411.8,299.3 L411.3,301.1 L410.9,302.8 L410.4,304.7 L410,306.5 L409.6,308 L409.4,309.1 Z" fill="#0808ff" filter="url(#b0)"/>
<path d="M418.6,291 L419,292.4 L419.5,294.3 L420,296.5 L420.6,298.8 L421.1,301.1 L421.6,303.3 L422,305.8 L422.5,308.5 L423,311.2 L423.8,313.6 L424.7,315.8 L425.7,317.8 L427,319.7 L428.6,321.4 L431.5,322.9 L435.3,322.5 L437.7,321 L439.1,319.4 L440.1,317.8 L441,316.3 L441.7,314.5 L442.4,312.7 L442.9,310.9 L443.4,309 L443.9,307.2 L444.3,305.1 L444.8,302.9 L445.2,300.7 L445.5,298.7 L445.9,297 L446.2,295.5 L446.6,294.1 L446.9,292.9 L447.2,291.8 L447.4,291 L437.6,288.6 L437.5,289.4 L437.2,290.4 L436.9,291.8 L436.5,293.3 L436.1,295 L435.7,296.8 L435.3,298.9 L435,301 L434.5,303 L434.1,304.8 L433.7,306.6 L433.3,308.2 L432.9,309.7 L432.5,310.8 L432,311.7 L431.5,312.6 L431,313.4 L430.8,313.7 L431.5,313.3 L433.7,313.1 L434.9,313.7 L434.8,313.5 L434.3,312.8 L433.8,311.6 L433.2,310.4 L432.7,308.7 L432.3,306.6 L431.8,304.1 L431.4,301.5 L430.9,298.9 L430.3,296.5 L429.7,294.1 L429.2,291.8 L428.7,289.9 L428.4,288.6 Z" fill="#3b3bff" opacity="0.2" filter="url(#b2)"/>
<path d="M421.6,290.3 L421.9,291.6 L422.4,293.5 L422.9,295.8 L423.5,298.1 L424,300.4 L424.5,302.7 L425,305.3 L425.4,307.9 L426,310.4 L426.6,312.7 L427.4,314.6 L428.3,316.3 L429.3,317.8 L430.5,319.1 L432.2,320 L434.2,319.7 L435.6,318.8 L436.7,317.6 L437.5,316.3 L438.3,314.9 L439,313.4 L439.5,311.8 L440,310.1 L440.5,308.3 L440.9,306.5 L441.4,304.5 L441.8,302.3 L442.2,300.2 L442.6,298.2 L443,296.4 L443.3,294.9 L443.7,293.4 L444,292.1 L444.2,291.1 L444.4,290.3 L440.6,289.3 L440.4,290.1 L440.1,291.2 L439.8,292.5 L439.4,294 L439,295.6 L438.7,297.4 L438.3,299.5 L437.9,301.6 L437.5,303.7 L437.1,305.5 L436.6,307.3 L436.2,309 L435.7,310.6 L435.2,311.9 L434.7,313.1 L434.1,314.2 L433.5,315.2 L432.9,315.9 L432.6,316.1 L433,316 L433,316 L432.5,315.4 L431.8,314.3 L431,312.9 L430.4,311.3 L429.8,309.5 L429.3,307.2 L428.9,304.6 L428.4,302 L428,299.6 L427.4,297.2 L426.8,294.8 L426.3,292.6 L425.8,290.7 L425.4,289.3 Z" fill="#0808ff" filter="url(#b0)"/>
<path d="M432.6,290 L432.9,292.7 L433.2,296.6 L433.6,301.1 L434.1,305.4 L434.6,309.2 L435.1,312.1 L435.7,314.7 L436.3,317 L436.9,319 L437.5,321 L438,323 L438.6,324.9 L439.1,326.7 L439.7,328.3 L441.2,329.5 L441.7,330.9 L442.3,332 L442.9,332.9 L443.5,333.8 L444,334.6 L444.5,335.3 L444.9,335.8 L444.6,336.9 L444.9,337.3 L445.3,338 L445.7,339 L446.2,340.1 L446.7,341.3 L447.2,342.6 L447.7,344 L448.1,345.5 L448.5,347.1 L448.9,348.8 L449.3,350.7 L449.7,353 L450.2,356.1 L450.8,359.9 L451.4,364 L452,367.8 L452.5,370.8 L452.9,373 L453.4,374.7 L454.1,376.2 L454.3,376.8 L454.1,376.9 L454.3,377.5 L454.6,378.3 L455.1,379.3 L455.7,380.2 L456.6,381.3 L458.1,382.4 L460,383.2 L462,383.5 L463.6,383.3 L462.6,383.4 L459.1,382.3 L459.3,382.5 L467.1,382.6 L469.9,379.4 L470.7,377.3 L471.3,374.6 L471.9,371.2 L472.7,367.5 L473.3,364.2 L473.9,361.7 L474.1,360.3 L474.2,359.5 L474.4,358.7 L474.7,357.7 L475.2,356.4 L475.7,355.2 L476.1,354.1 L476.5,353 L477,351.8 L477.6,350.5 L478.2,349.1 L478.9,347.5 L479.6,345.9 L480.2,344.3 L480.9,342.8 L481.5,341.4 L482.1,340 L482.8,338.7 L483.4,337.5 L484,336.3 L484.6,335.1 L485.4,334 L486.2,332.8 L487.1,331.5 L487.9,330.1 L488.6,328.7 L489.2,327.3 L489.8,325.9 L490.3,324.6 L490.7,323.3 L491.3,322 L491.7,320.6 L492.1,319.5 L492.3,319 L491.2,318.5 L490.9,318.5 L491.3,319.2 L491.7,320.5 L492.2,321.9 L492.7,323.3 L493.1,324.7 L493.6,326.3 L494.1,328 L494.6,329.5 L495.1,330.9 L495.5,332 L496,333 L496.5,334 L497.3,334.8 L498.6,335 L499.6,334.3 L500.3,333.3 L501,332.1 L501.7,330.7 L502.3,329.4 L503,328 L503.6,326.4 L504.3,324.7 L504.9,323.2 L505.5,321.8 L506,320.4 L506.5,319.1 L506.9,318.1 L507.1,317.6 L506.6,317.6 L506.6,317.8 L507.1,318.8 L507.7,320.3 L508.4,321.9 L509.1,323.5 L510,324.9 L511,326.4 L511.9,327.8 L512.9,329.2 L513.9,330.6 L514.1,332.4 L515,333.5 L515.8,334.5 L516.5,335.6 L517.2,336.9 L517.8,338.7 L518.5,340.9 L519.1,343.2 L519.7,345.5 L520.4,347.5 L520.9,349.2 L521.3,350.7 L521.8,352.1 L522.4,353.5 L522.9,354.7 L523.5,355.8 L524.1,357.1 L525.2,358.6 L527.5,360.1 L531,360.3 L533.6,359 L535.4,357.6 L536.8,356 L538,354.5 L539.2,352.9 L540.1,351 L540.9,349 L541.6,347.1 L542.1,345.4 L542.6,343.9 L542.9,342.5 L543.1,341.2 L543.2,340.3 L543.2,339.7 L543.1,339.4 L543.2,339 L543.6,338.5 L544.2,338 L544.8,337.4 L545.3,336.9 L542.7,332.1 L542.1,332.2 L541.2,332.4 L540,332.9 L538.7,333.6 L537.3,334.6 L536.2,335.9 L535.3,337 L534.7,338.1 L534.1,339.1 L533.4,340.1 L532.7,341.5 L531.9,343.1 L531.1,344.7 L530.3,346 L529.6,347.1 L528.9,348.3 L528.2,349.5 L527.6,350.5 L527.4,350.9 L528.2,350.7 L530.1,350.9 L530.9,351.6 L530.6,351.6 L529.9,351.1 L529.1,350.3 L528.4,349.7 L527.7,348.9 L527,348 L526.3,346.8 L525.4,345.5 L524.6,343.7 L523.7,341.6 L522.8,339.3 L521.8,337.1 L520.8,335.1 L519.8,333.5 L518.9,332.2 L518,331 L517.1,330 L515.5,329.4 L514.6,328.1 L513.6,326.7 L512.6,325.2 L511.7,323.8 L510.9,322.5 L510.2,321.1 L509.5,319.5 L508.9,318 L508.3,316.7 L507.2,315.8 L505.7,316.2 L505.1,317.2 L504.6,318.5 L504.2,319.8 L503.7,321 L503.1,322.4 L502.5,324 L501.8,325.6 L501.1,327.2 L500.5,328.6 L499.9,329.9 L499.2,331.1 L498.6,332.2 L498.1,332.9 L498,333 L498.3,333.1 L498.2,332.8 L497.8,332.2 L497.4,331.2 L496.9,330.1 L496.5,328.9 L496,327.4 L495.5,325.8 L495,324.1 L494.5,322.7 L494.1,321.3 L493.6,319.8 L493.1,318.5 L492.6,317.3 L491.4,316.5 L489.3,316.6 L488.6,317.9 L488.1,319.2 L487.6,320.5 L487.1,321.7 L486.4,322.8 L485.8,324 L485.1,325.3 L484.4,326.4 L483.7,327.5 L482.9,328.4 L482,329.3 L481,330.4 L479.9,331.5 L478.8,332.7 L477.8,334 L476.9,335.3 L476.1,336.6 L475.2,337.9 L474.3,339.2 L473.4,340.7 L472.4,342.2 L471.5,343.7 L470.6,345.2 L469.8,346.5 L469.1,347.6 L468.4,348.6 L467.7,349.6 L467,350.7 L466.4,351.6 L465.7,352.3 L465,353 L464,354.2 L463,355.9 L461.9,358.1 L461,361 L460,364.6 L459,368.2 L458.2,371.3 L457.5,373.3 L457.4,373.6 L459.6,371.1 L467,371.1 L466.8,370.9 L462.8,369.6 L461.2,369.8 L462.2,369.7 L463.7,369.9 L465,370.5 L465.8,371.1 L466,371.4 L465.8,371.5 L465.5,371.2 L465.1,370.8 L464.5,370.1 L463.6,369.2 L463.1,369.1 L463.1,369.6 L462.8,369.4 L462.1,368.2 L461.2,365.7 L460.2,362.1 L459.1,358.1 L458,354.3 L456.9,351 L455.9,348.5 L455,346.5 L454,344.8 L453.2,343.4 L452.3,342 L451.6,340.6 L450.8,339.2 L450.1,338 L449.4,336.9 L448.7,336 L448.1,335.1 L447.6,334.5 L446.4,334.5 L446.1,334.1 L445.6,333.4 L445.1,332.7 L444.6,331.9 L444,331 L443.5,330 L443,328.9 L443.5,327.2 L443.2,325.6 L442.9,323.9 L442.7,322 L442.3,320 L442,317.9 L441.7,315.8 L441.3,313.6 L441.1,311.2 L440.8,308.4 L440.6,304.9 L440.4,300.6 L440.2,296.2 L440.1,292.3 L440,289.6 Z" fill="#3b3bff" opacity="0.2" filter="url(#b2)"/>
<path d="M434.8,289.9 L435,292.6 L435.3,296.5 L435.7,300.9 L436.1,305.3 L436.5,308.9 L436.9,311.8 L437.4,314.4 L437.9,316.6 L438.4,318.7 L438.9,320.7 L439.4,322.7 L439.9,324.6 L440.4,326.4 L440.9,328 L441.7,329.3 L442.3,330.6 L442.8,331.7 L443.4,332.6 L444,333.4 L444.5,334.2 L444.9,334.9 L445.4,335.4 L445.5,336.1 L445.9,336.7 L446.3,337.4 L446.8,338.4 L447.3,339.4 L447.9,340.6 L448.5,342 L449.1,343.4 L449.6,344.9 L450.2,346.4 L450.7,348.1 L451.3,350 L451.9,352.4 L452.5,355.5 L453.3,359.4 L454.1,363.4 L454.8,367.2 L455.4,370 L455.9,371.9 L456.3,373.2 L456.8,374.1 L457.1,374.5 L457.2,374.9 L457.5,375.5 L457.9,376.2 L458.3,376.9 L458.8,377.6 L459.4,378.3 L460.2,378.8 L461.1,379.2 L462.1,379.4 L462.9,379.3 L462.7,379.2 L461.4,378.9 L461.6,379.1 L464.9,379.2 L466.2,377.6 L466.7,376.1 L467.3,373.6 L468.1,370.3 L468.9,366.7 L469.6,363.2 L470.3,360.6 L470.8,359 L471.2,357.9 L471.6,357 L472,356.1 L472.6,354.9 L473.1,353.8 L473.6,352.8 L474.1,351.7 L474.6,350.6 L475.3,349.3 L475.9,347.9 L476.7,346.3 L477.4,344.8 L478.2,343.2 L478.9,341.7 L479.6,340.3 L480.3,339 L481,337.7 L481.7,336.4 L482.4,335.2 L483.2,334.1 L484.1,332.9 L485,331.8 L485.8,330.6 L486.6,329.3 L487.4,328 L488,326.7 L488.6,325.3 L489.1,324 L489.6,322.8 L490.2,321.5 L490.6,320.2 L491.1,319 L491.4,318.3 L491.3,317.9 L491.4,318.1 L491.9,319 L492.3,320.3 L492.8,321.7 L493.2,323.1 L493.7,324.6 L494.2,326.2 L494.7,327.8 L495.1,329.4 L495.6,330.6 L496.1,331.7 L496.5,332.8 L497,333.6 L497.6,334.2 L498.4,334.4 L499.2,333.9 L499.8,332.9 L500.5,331.8 L501.1,330.5 L501.8,329.2 L502.4,327.8 L503.1,326.2 L503.8,324.5 L504.4,322.9 L505,321.6 L505.5,320.2 L505.9,318.9 L506.3,317.8 L506.7,317.2 L506.8,317.1 L507.1,317.5 L507.6,318.6 L508.2,320.1 L508.9,321.7 L509.7,323.2 L510.5,324.6 L511.5,326 L512.4,327.5 L513.4,328.9 L514.4,330.2 L515,331.7 L515.9,332.7 L516.7,333.8 L517.5,334.9 L518.3,336.4 L519,338.2 L519.8,340.4 L520.5,342.7 L521.2,345 L521.9,346.9 L522.5,348.5 L523,349.9 L523.6,351.2 L524.2,352.3 L524.8,353.4 L525.4,354.4 L526,355.4 L526.9,356.5 L528.3,357.3 L530.2,357.4 L531.8,356.6 L533,355.4 L534.2,354.1 L535.3,352.6 L536.3,351.2 L537.2,349.5 L538,347.7 L538.7,345.9 L539.3,344.2 L539.8,342.8 L540.3,341.5 L540.6,340.3 L540.8,339.3 L541.1,338.6 L541.4,338 L541.8,337.4 L542.5,336.8 L543.3,336.3 L544,335.8 L544.5,335.5 L543.5,333.5 L542.9,333.8 L542.1,334.1 L541.1,334.6 L540,335.2 L539,336 L538.3,337 L537.7,338 L537.2,339 L536.7,340.1 L536.2,341.2 L535.5,342.7 L534.8,344.3 L534,346 L533.3,347.5 L532.5,348.8 L531.7,350.2 L530.8,351.5 L529.9,352.6 L529.2,353.4 L529,353.6 L529.3,353.7 L529.2,353.7 L528.6,353.2 L528,352.5 L527.2,351.6 L526.6,350.8 L525.9,349.9 L525.3,348.8 L524.6,347.6 L523.9,346.1 L523.2,344.3 L522.3,342.1 L521.5,339.8 L520.6,337.6 L519.7,335.6 L518.8,334.1 L518,332.9 L517.1,331.8 L516.2,330.7 L515,329.8 L514.1,328.4 L513.1,327 L512.1,325.6 L511.2,324.2 L510.3,322.8 L509.6,321.4 L509,319.8 L508.4,318.2 L507.8,317 L507,316.3 L506.1,316.6 L505.6,317.5 L505.2,318.7 L504.7,320 L504.2,321.2 L503.6,322.6 L503,324.2 L502.3,325.9 L501.7,327.4 L501,328.8 L500.4,330.1 L499.8,331.4 L499.1,332.5 L498.6,333.3 L498.2,333.6 L498,333.6 L497.7,333.2 L497.2,332.4 L496.8,331.4 L496.4,330.4 L495.9,329.1 L495.4,327.6 L494.9,325.9 L494.5,324.3 L494,322.9 L493.5,321.5 L493.1,320 L492.6,318.7 L492.1,317.7 L491.3,317.1 L490.2,317.3 L489.7,318.4 L489.2,319.6 L488.7,321 L488.2,322.2 L487.6,323.3 L487,324.6 L486.3,325.9 L485.7,327.1 L485,328.3 L484.2,329.3 L483.3,330.4 L482.3,331.5 L481.3,332.6 L480.4,333.8 L479.5,335 L478.7,336.3 L477.9,337.6 L477.1,338.9 L476.3,340.3 L475.4,341.7 L474.6,343.3 L473.7,344.8 L472.9,346.3 L472.1,347.7 L471.5,348.9 L470.8,350 L470.2,351 L469.6,352 L469,353.1 L468.4,353.9 L467.8,354.7 L467.1,355.8 L466.3,357.2 L465.5,359.2 L464.7,362 L463.8,365.5 L462.9,369.1 L462.1,372.3 L461.5,374.5 L461.2,375.3 L461.9,374.6 L464.7,374.5 L464.5,374.3 L462.7,373.8 L461.9,373.9 L462.2,373.9 L462.6,373.9 L462.9,374.1 L463,374.1 L462.9,374.1 L462.6,373.8 L462.3,373.4 L461.9,372.8 L461.4,372.1 L460.8,371.5 L460.4,371.2 L460.2,371.1 L459.8,370.5 L459.2,369 L458.5,366.3 L457.6,362.7 L456.6,358.7 L455.6,354.8 L454.7,351.6 L453.9,349.2 L453.1,347.2 L452.4,345.5 L451.6,344 L450.9,342.6 L450.2,341.2 L449.6,339.8 L448.9,338.6 L448.3,337.6 L447.7,336.6 L447.2,335.8 L446.7,335.2 L446,334.9 L445.6,334.4 L445.1,333.8 L444.6,333 L444.1,332.2 L443.5,331.3 L443,330.3 L442.5,329.1 L442.4,327.5 L442,325.9 L441.6,324.2 L441.3,322.3 L440.9,320.3 L440.5,318.2 L440.1,316.2 L439.7,313.9 L439.3,311.5 L438.9,308.7 L438.6,305.1 L438.4,300.7 L438.1,296.3 L437.9,292.4 L437.8,289.7 Z" fill="#0808ff" filter="url(#b0)"/>
<path d="M471.2,290.9 L471.5,292.1 L472,293.6 L472.5,295.4 L473.1,297.3 L473.7,299.1 L474.1,301 L474.6,303 L475.1,305.2 L475.7,307.3 L476.4,309.3 L477.3,310.8 L478.5,312.2 L480.1,313.4 L482.1,314 L484.2,314 L486.2,313.4 L487.8,312.5 L489.1,311.5 L490.1,310.6 L491.1,309.7 L491.9,308.8 L492.6,307.8 L493.3,306.8 L493.9,305.7 L494.5,304.6 L495.1,303.3 L495.7,301.9 L496.3,300.5 L496.8,299 L497.3,297.6 L497.9,296.1 L498.4,294.5 L499,293 L499.4,291.7 L499.7,290.8 L493.7,288.8 L493.4,289.7 L493,291 L492.5,292.5 L492,293.9 L491.5,295.2 L490.9,296.4 L490.2,297.6 L489.5,298.7 L488.8,299.7 L488.1,300.6 L487.5,301.3 L486.9,301.9 L486.4,302.4 L485.8,302.8 L485.1,303.3 L484.3,304 L483.5,304.7 L482.8,305.2 L482.5,305.5 L482.8,305.4 L483.5,305.4 L484.1,305.6 L484.5,305.9 L484.5,305.8 L484.2,305.3 L483.7,304.4 L483,302.7 L482.3,300.8 L481.5,298.7 L480.7,296.7 L479.9,294.8 L479.1,292.9 L478.3,291.2 L477.5,289.7 L477,288.7 Z" fill="#3b3bff" opacity="0.2" filter="url(#b2)"/>
<path d="M472.9,290.3 L473.3,291.4 L473.9,292.9 L474.5,294.7 L475.2,296.6 L475.8,298.4 L476.3,300.3 L476.9,302.4 L477.5,304.5 L478.1,306.4 L478.7,308.1 L479.5,309.3 L480.3,310.3 L481.3,311 L482.5,311.4 L483.8,311.4 L485.1,311 L486.3,310.3 L487.4,309.5 L488.4,308.6 L489.3,307.8 L490,307 L490.7,306.2 L491.4,305.3 L492,304.4 L492.6,303.4 L493.2,302.2 L493.8,300.9 L494.4,299.6 L495,298.2 L495.6,296.9 L496.1,295.4 L496.7,293.9 L497.2,292.4 L497.6,291.1 L497.9,290.2 L495.5,289.4 L495.2,290.3 L494.8,291.6 L494.3,293.1 L493.8,294.6 L493.2,295.9 L492.6,297.2 L492,298.4 L491.3,299.7 L490.7,300.8 L490,301.8 L489.4,302.7 L488.8,303.4 L488.2,304 L487.6,304.6 L486.9,305.2 L486.1,306 L485.2,306.7 L484.3,307.4 L483.6,307.8 L483.2,308 L483,308 L482.9,307.9 L482.7,307.8 L482.3,307.3 L481.9,306.5 L481.3,305.2 L480.6,303.5 L480,301.4 L479.3,299.4 L478.6,297.4 L477.9,295.6 L477.1,293.7 L476.4,291.9 L475.7,290.4 L475.3,289.3 Z" fill="#0808ff" filter="url(#b0)"/>
<path d="M497.7,290.7 L498,292.1 L498.5,294.2 L499.1,296.6 L499.7,298.9 L500.3,300.9 L501,302.5 L501.6,303.9 L502.3,305.1 L502.9,306 L503.6,307 L504.5,308.1 L505.5,309.2 L506.6,310.4 L507.9,311.6 L509.1,312.5 L510.3,313.2 L511.6,313.9 L513.4,314.4 L515.6,314.3 L517.8,313.4 L519.3,312 L520.4,310.6 L521.3,309 L522.1,307.4 L522.8,305.8 L523.4,304 L523.9,302.2 L524.2,300.4 L524.5,298.7 L524.8,297.2 L525.2,295.6 L525.6,294 L525.9,292.6 L526.2,291.3 L526.4,290.5 L520.2,289.1 L520.1,290 L519.8,291.3 L519.5,292.7 L519.1,294.2 L518.8,295.6 L518.3,297.1 L517.7,298.7 L517.2,300.2 L516.6,301.5 L516,302.6 L515.3,303.7 L514.6,304.7 L513.8,305.6 L513.3,306 L513.2,306 L513.8,305.7 L514.6,305.7 L514.8,305.7 L514.6,305.6 L514.1,305.3 L513.5,304.9 L512.8,304.2 L511.9,303.3 L511,302.3 L510.2,301.4 L509.5,300.6 L508.8,300.1 L508.3,299.6 L507.8,299 L507.3,298.1 L506.6,296.5 L505.8,294.5 L505,292.3 L504.2,290.3 L503.7,288.9 Z" fill="#3b3bff" opacity="0.2" filter="url(#b2)"/>
<path d="M499.5,290.2 L499.9,291.6 L500.4,293.6 L501.1,295.9 L501.8,298.2 L502.4,300.1 L503,301.5 L503.6,302.6 L504.2,303.6 L504.9,304.4 L505.6,305.3 L506.4,306.4 L507.4,307.5 L508.5,308.6 L509.6,309.5 L510.6,310.3 L511.6,310.9 L512.6,311.4 L513.7,311.8 L515.1,311.7 L516.4,311.2 L517.5,310.2 L518.4,309.1 L519.3,307.7 L520.1,306.3 L520.8,304.8 L521.4,303.3 L521.8,301.6 L522.3,299.9 L522.7,298.2 L523,296.7 L523.4,295.2 L523.8,293.6 L524.1,292.2 L524.3,290.9 L524.5,290.1 L522.1,289.5 L521.9,290.4 L521.6,291.6 L521.3,293.1 L521,294.6 L520.6,296.1 L520.1,297.6 L519.7,299.2 L519.2,300.8 L518.6,302.3 L518,303.6 L517.4,304.8 L516.6,306 L515.8,307.1 L515.1,307.8 L514.6,308.2 L514.4,308.3 L514.2,308.3 L513.9,308.2 L513.3,307.9 L512.6,307.5 L511.8,306.9 L510.9,306.1 L510,305.1 L509.1,304.1 L508.2,303.1 L507.5,302.3 L506.9,301.6 L506.3,300.9 L505.8,300 L505.2,298.9 L504.5,297.2 L503.7,295.1 L503,292.8 L502.4,290.8 L501.9,289.4 Z" fill="#0808ff" filter="url(#b0)"/>
<path d="M538.4,341.9 L539.1,341.2 L540,340.2 L541.1,339.1 L542.1,338.1 L542.8,337.5 L543.1,337.3 L543.3,337.3 L543.5,337.3 L543.9,337.2 L544.3,337.2 L543.7,332.2 L543.4,332.3 L542.9,332.3 L542,332.4 L540.9,332.8 L539.8,333.5 L538.7,334.4 L537.6,335.6 L536.4,336.7 L535.5,337.8 L534.8,338.5 Z" fill="#3b3bff" opacity="0.2" filter="url(#b2)"/>
<path d="M537.3,340.9 L538,340.2 L539,339.2 L540.1,338 L541.1,337 L541.9,336.3 L542.4,336 L542.9,335.8 L543.3,335.8 L543.8,335.7 L544.1,335.7 L543.9,333.7 L543.6,333.8 L543.1,333.8 L542.4,333.9 L541.6,334.2 L540.7,334.7 L539.7,335.5 L538.6,336.6 L537.5,337.8 L536.5,338.8 L535.9,339.5 Z" fill="#0808ff" filter="url(#b0)"/>
<line x1="389.5" y1="329.9" x2="544" y2="329.9" stroke="#9a9a9a" stroke-width="0.85" stroke-dasharray="2.6,1.8"/>
<path d="M389.5,387.2 C390.2,384.9 392.6,379.5 393.9,373.6 C395.2,367.7 396.4,356.4 397.2,352 C398,347.6 397.8,350.6 398.5,347 C399.2,343.4 400.3,335 401.4,330.6 C402.5,326.2 403.8,323.2 405,320.5 C406.2,317.8 407.6,316.4 408.6,314.6 C409.6,312.8 410.1,311.7 410.8,309.5 C411.5,307.3 412.3,304.3 413,301.5 C413.7,298.7 414.7,294.8 415.2,292.8 C415.7,290.9 415.8,290.3 415.9,289.8" fill="none" stroke="#111" stroke-width="1.1" stroke-linejoin="round"/>
<path d="M398.5,289.8 C399,291.3 400.3,296.4 401.4,298.6 C402.5,300.8 403.8,301.9 405,303 C406.2,304.1 407.6,304.1 408.6,305.2 C409.6,306.3 410.2,307.9 410.8,309.5 C411.4,311.1 411.9,312.9 412.5,315 C413.1,317.1 413.8,319.5 414.5,322 C415.2,324.5 415.9,327.8 416.5,330 C417.1,332.2 417.8,333.9 418.3,335 C418.8,336.1 419.1,336.3 419.5,336.3 C419.9,336.3 420.2,336.1 420.7,335 C421.2,333.9 421.9,332.2 422.5,330 C423.1,327.8 423.8,324.7 424.5,322 C425.2,319.3 425.8,316.7 426.5,314 C427.2,311.3 427.8,308.3 428.5,306 C429.2,303.7 429.8,302.5 430.5,300.1 C431.2,297.7 432.2,293.1 432.6,291.4 C433,289.7 432.9,290.1 433,289.8" fill="none" stroke="#111" stroke-width="1.1" stroke-linejoin="round"/>
<path d="M423.2,289.8 C423.6,291.3 424.7,295.2 425.4,298.6 C426.1,302 426.8,307.8 427.5,310.3 C428.2,312.9 428.8,313 429.7,313.9 C430.6,314.8 431.6,315.5 432.6,315.4 C433.6,315.3 434.5,314.5 435.5,313.2 C436.5,311.9 437.6,309.8 438.5,307.4 C439.4,305 440,301.5 440.6,298.6 C441.2,295.7 441.9,291.3 442.1,289.8" fill="none" stroke="#111" stroke-width="1.1" stroke-linejoin="round"/>
<path d="M436.3,289.8 C436.5,293 437.1,303.7 437.7,308.8 C438.3,313.9 439.2,317.1 439.9,320.5 C440.6,323.9 441.3,326.8 442.1,329.2 C442.9,331.6 444.1,333.5 444.8,334.8 C445.5,336.1 445.9,335.9 446.5,337 C447.1,338.1 447.7,338.9 448.7,341.6 C449.7,344.3 451.4,349.2 452.5,353.1 C453.6,357 454.4,360.9 455.4,364.7 C456.4,368.5 457.6,373.3 458.3,376.2 C459,379.1 459.3,380.4 459.8,382 C460.3,383.6 460.7,385.7 461.2,385.9 C461.7,386.1 462.2,384.3 462.7,383 C463.2,381.7 463.6,380.6 464.1,378.2 C464.7,375.8 465.4,371.4 466,368.5 C466.6,365.6 467.1,363.1 467.9,360.8 C468.7,358.6 469.8,356.9 470.8,355 C471.8,353.1 472.6,351.5 473.7,349.3 C474.8,347.1 476.3,344 477.6,341.6 C478.9,339.2 480,336.9 481.4,334.8 C482.8,332.7 484.6,331.2 485.8,329.2 C487.1,327.2 488,324.9 488.9,323 C489.8,321.1 490.5,317.5 491.3,317.5 C492.1,317.5 492.8,320.8 493.6,323 C494.4,325.2 495.2,328.7 496,330.8 C496.8,332.9 497.4,335.8 498.3,335.5 C499.2,335.2 500.3,331.6 501.4,329.2 C502.4,326.8 503.7,323.5 504.6,321.4 C505.5,319.3 506,316.4 506.9,316.7 C507.8,317 508.7,320.8 510,323 C511.3,325.2 513.2,327.7 514.7,330 C516.2,332.3 517.6,333.8 519,336.7 C520.4,339.6 521.7,344.2 522.9,347.3 C524.1,350.4 524.9,352.9 526,355 C527.1,357.1 528.2,360.4 529.6,359.9 C531,359.4 533,355 534.4,352.2 C535.8,349.4 537,345.4 538,343 C539,340.6 539.2,338.9 540.2,337.7 C541.2,336.5 543.4,336.1 544,335.8" fill="none" stroke="#111" stroke-width="1.1" stroke-linejoin="round"/>
<path d="M474.1,289.8 C474.6,291.1 476.2,295 477.2,297.9 C478.2,300.8 479.2,305.3 480.3,307.3 C481.4,309.3 482.2,309.8 483.5,309.7 C484.8,309.6 486.8,307.7 488.1,306.5 C489.4,305.3 490.2,304.3 491.3,302.6 C492.4,300.9 493.5,298.5 494.4,296.4 C495.3,294.3 496.3,290.9 496.7,289.8" fill="none" stroke="#111" stroke-width="1.1" stroke-linejoin="round"/>
<path d="M500.7,289.8 C501.2,291.4 502.8,297.1 503.8,299.5 C504.8,301.9 505.6,302.6 506.9,304.2 C508.2,305.8 510.2,308 511.6,308.9 C513,309.8 514.2,310.5 515.5,309.7 C516.8,308.9 518.4,306.4 519.4,304.2 C520.4,302 521.1,298.8 521.8,296.4 C522.4,294 523,290.9 523.3,289.8" fill="none" stroke="#111" stroke-width="1.1" stroke-linejoin="round"/>
<path d="M536.6,340.2 C537.4,339.4 540.1,336.4 541.3,335.5 C542.5,334.6 543.5,334.8 544,334.7" fill="none" stroke="#111" stroke-width="1.1" stroke-linejoin="round"/>
<circle cx="391.3" cy="373.3" r="0.9" fill="#f00"/>
<circle cx="394.9" cy="362.4" r="0.9" fill="#f00"/>
<circle cx="398.5" cy="345.3" r="0.9" fill="#f00"/>
<circle cx="402.1" cy="328.1" r="0.9" fill="#f00"/>
<circle cx="405.7" cy="319.1" r="0.9" fill="#f00"/>
<circle cx="409.3" cy="313.2" r="0.9" fill="#f00"/>
<circle cx="412.9" cy="301.9" r="0.9" fill="#f00"/>
<circle cx="400.2" cy="295.6" r="0.9" fill="#f00"/>
<circle cx="403.8" cy="301.8" r="0.9" fill="#f00"/>
<circle cx="407.2" cy="304.3" r="0.9" fill="#f00"/>
<circle cx="410.8" cy="309.4" r="0.9" fill="#f00"/>
<circle cx="414.2" cy="321.1" r="0.9" fill="#f00"/>
<circle cx="417.8" cy="333.7" r="0.9" fill="#f00"/>
<circle cx="421.2" cy="333.7" r="0.9" fill="#f00"/>
<circle cx="424.8" cy="321" r="0.9" fill="#f00"/>
<circle cx="428.2" cy="306.9" r="0.9" fill="#f00"/>
<circle cx="431.8" cy="295.1" r="0.9" fill="#f00"/>
<circle cx="412.8" cy="302.3" r="0.9" fill="#f00"/>
<circle cx="425.2" cy="296.8" r="0.9" fill="#f00"/>
<circle cx="428.8" cy="312.6" r="0.9" fill="#f00"/>
<circle cx="432.2" cy="317.9" r="0.9" fill="#f00"/>
<circle cx="435.8" cy="315.3" r="0.9" fill="#f00"/>
<circle cx="439.2" cy="304.9" r="0.9" fill="#f00"/>
<circle cx="438.1" cy="311.7" r="0.9" fill="#f00"/>
<circle cx="441.7" cy="328" r="0.9" fill="#f00"/>
<circle cx="445.3" cy="334.7" r="0.9" fill="#f00"/>
<circle cx="448.9" cy="340.6" r="0.9" fill="#f00"/>
<circle cx="452.5" cy="349.3" r="0.9" fill="#f00"/>
<circle cx="456.1" cy="364.4" r="0.9" fill="#f00"/>
<circle cx="459.7" cy="374.2" r="0.9" fill="#f00"/>
<circle cx="463.3" cy="376.9" r="0.9" fill="#f00"/>
<circle cx="466.9" cy="363.7" r="0.9" fill="#f00"/>
<circle cx="470.5" cy="354.6" r="0.9" fill="#f00"/>
<circle cx="474.1" cy="347.7" r="0.9" fill="#f00"/>
<circle cx="477.7" cy="340.8" r="0.9" fill="#f00"/>
<circle cx="481.3" cy="334.7" r="0.9" fill="#f00"/>
<circle cx="484.9" cy="330.1" r="0.9" fill="#f00"/>
<circle cx="488.5" cy="323.3" r="0.9" fill="#f00"/>
<circle cx="492.1" cy="318.6" r="0.9" fill="#f00"/>
<circle cx="495.7" cy="329.7" r="0.9" fill="#f00"/>
<circle cx="499.3" cy="333" r="0.9" fill="#f00"/>
<circle cx="502.9" cy="325.6" r="0.9" fill="#f00"/>
<circle cx="506.5" cy="316.8" r="0.9" fill="#f00"/>
<circle cx="510.1" cy="323.2" r="0.9" fill="#f00"/>
<circle cx="513.7" cy="328.6" r="0.9" fill="#f00"/>
<circle cx="517.3" cy="333.3" r="0.9" fill="#f00"/>
<circle cx="520.9" cy="340.9" r="0.9" fill="#f00"/>
<circle cx="524.5" cy="350" r="0.9" fill="#f00"/>
<circle cx="528.1" cy="355.1" r="0.9" fill="#f00"/>
<circle cx="531.7" cy="353.8" r="0.9" fill="#f00"/>
<circle cx="535.3" cy="348.3" r="0.9" fill="#f00"/>
<circle cx="538.9" cy="339.7" r="0.9" fill="#f00"/>
<circle cx="542.5" cy="335.3" r="0.9" fill="#f00"/>
<circle cx="476.1" cy="294.9" r="0.9" fill="#f00"/>
<circle cx="480.1" cy="306.9" r="0.9" fill="#f00"/>
<circle cx="484.1" cy="309.5" r="0.9" fill="#f00"/>
<circle cx="488.1" cy="306.5" r="0.9" fill="#f00"/>
<circle cx="492.1" cy="301.2" r="0.9" fill="#f00"/>
<circle cx="496.1" cy="291.6" r="0.9" fill="#f00"/>
<circle cx="502.7" cy="296.4" r="0.9" fill="#f00"/>
<circle cx="506.7" cy="304" r="0.9" fill="#f00"/>
<circle cx="510.7" cy="308.2" r="0.9" fill="#f00"/>
<circle cx="514.7" cy="310" r="0.9" fill="#f00"/>
<circle cx="518.7" cy="305.6" r="0.9" fill="#f00"/>
<circle cx="522.7" cy="292.6" r="0.9" fill="#f00"/>
</g>
<rect x="389.5" y="289.8" width="154.5" height="120.2" fill="none" stroke="#222" stroke-width="0.9"/>
<line x1="386.9" y1="410" x2="389.5" y2="410" stroke="#222" stroke-width="0.9"/>
<text x="384.9" y="412.5" font-family="'DejaVu Sans','Liberation Sans',sans-serif" font-size="7.2" fill="#000" stroke="#000" stroke-width="0.2" text-anchor="end">−3</text>
<line x1="386.9" y1="383.3" x2="389.5" y2="383.3" stroke="#222" stroke-width="0.9"/>
<text x="384.9" y="385.8" font-family="'DejaVu Sans','Liberation Sans',sans-serif" font-size="7.2" fill="#000" stroke="#000" stroke-width="0.2" text-anchor="end">−2</text>
<line x1="386.9" y1="356.6" x2="389.5" y2="356.6" stroke="#222" stroke-width="0.9"/>
<text x="384.9" y="359.1" font-family="'DejaVu Sans','Liberation Sans',sans-serif" font-size="7.2" fill="#000" stroke="#000" stroke-width="0.2" text-anchor="end">−1</text>
<line x1="386.9" y1="329.9" x2="389.5" y2="329.9" stroke="#222" stroke-width="0.9"/>
<text x="384.9" y="332.4" font-family="'DejaVu Sans','Liberation Sans',sans-serif" font-size="7.2" fill="#000" stroke="#000" stroke-width="0.2" text-anchor="end">0</text>
<line x1="386.9" y1="303.2" x2="389.5" y2="303.2" stroke="#222" stroke-width="0.9"/>
<text x="384.9" y="305.7" font-family="'DejaVu Sans','Liberation Sans',sans-serif" font-size="7.2" fill="#000" stroke="#000" stroke-width="0.2" text-anchor="end">1</text>
<line x1="389.5" y1="410" x2="389.5" y2="412.6" stroke="#222" stroke-width="0.9"/>
<text x="389.5" y="422.1" font-family="'DejaVu Sans','Liberation Sans',sans-serif" font-size="9.7" fill="#000" stroke="#000" stroke-width="0.15" text-anchor="middle">Γ</text>
<line x1="419.6" y1="410" x2="419.6" y2="412.6" stroke="#222" stroke-width="0.9"/>
<text x="419.6" y="422.1" font-family="'DejaVu Sans','Liberation Sans',sans-serif" font-size="9.7" fill="#000" stroke="#000" stroke-width="0.15" text-anchor="middle">H</text>
<line x1="445.9" y1="410" x2="445.9" y2="412.6" stroke="#222" stroke-width="0.9"/>
<text x="445.9" y="422.1" font-family="'DejaVu Sans','Liberation Sans',sans-serif" font-size="9.7" fill="#000" stroke="#000" stroke-width="0.15" text-anchor="middle">N</text>
<line x1="461.6" y1="410" x2="461.6" y2="412.6" stroke="#222" stroke-width="0.9"/>
<text x="461.6" y="422.1" font-family="'DejaVu Sans','Liberation Sans',sans-serif" font-size="9.7" fill="#000" stroke="#000" stroke-width="0.15" text-anchor="middle">Γ</text>
<line x1="469.1" y1="410" x2="469.1" y2="412.6" stroke="#222" stroke-width="0.9"/>
<text x="469.1" y="422.1" font-family="'DejaVu Sans','Liberation Sans',sans-serif" font-size="9.7" fill="#000" stroke="#000" stroke-width="0.15" text-anchor="middle">P</text>
<line x1="499.6" y1="410" x2="499.6" y2="412.6" stroke="#222" stroke-width="0.9"/>
<text x="499.6" y="422.1" font-family="'DejaVu Sans','Liberation Sans',sans-serif" font-size="9.7" fill="#000" stroke="#000" stroke-width="0.15" text-anchor="middle">H</text>
<line x1="529.5" y1="410" x2="529.5" y2="412.6" stroke="#222" stroke-width="0.9"/>
<text x="529.5" y="422.1" font-family="'DejaVu Sans','Liberation Sans',sans-serif" font-size="9.7" fill="#000" stroke="#000" stroke-width="0.15" text-anchor="middle">P</text>
<line x1="544" y1="410" x2="544" y2="412.6" stroke="#222" stroke-width="0.9"/>
<text x="544" y="422.1" font-family="'DejaVu Sans','Liberation Sans',sans-serif" font-size="9.7" fill="#000" stroke="#000" stroke-width="0.15" text-anchor="middle">N</text>
<text x="541.4" y="404.8" font-family="'DejaVu Sans','Liberation Sans',sans-serif" font-size="11.1" fill="#000" stroke="#000" stroke-width="0.1" text-anchor="end">bcc Cs</text>
</svg>
</body></html>
